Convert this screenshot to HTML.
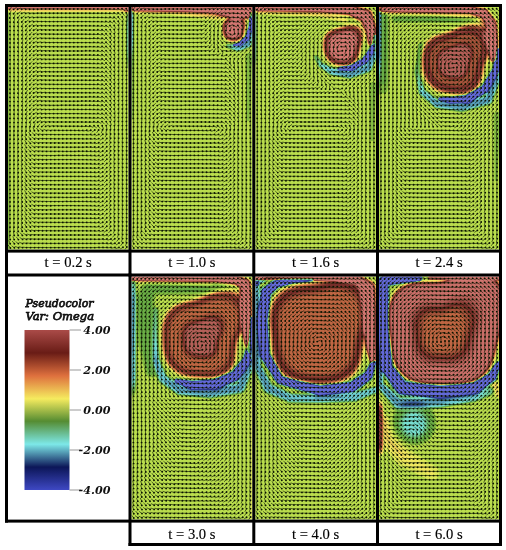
<!DOCTYPE html><html><head><meta charset="utf-8"><style>html,body{margin:0;padding:0;background:#fff;width:506px;height:550px;overflow:hidden}svg{display:block}</style></head><body>
<svg width="506" height="550" viewBox="0 0 506 550">
<rect width="506" height="550" fill="#fff"/>
<defs><filter id="bl" x="-2%" y="-2%" width="104%" height="104%"><feGaussianBlur stdDeviation="0.7"/></filter>
<clipPath id="c00"><rect x="8.0" y="7.0" width="120.50" height="242.60"/></clipPath>
<clipPath id="c10"><rect x="131.5" y="7.0" width="120.80" height="242.60"/></clipPath>
<clipPath id="c11"><rect x="131.5" y="276.5" width="120.80" height="243.10"/></clipPath>
<clipPath id="c20"><rect x="255.3" y="7.0" width="120.70" height="242.60"/></clipPath>
<clipPath id="c21"><rect x="255.3" y="276.5" width="120.70" height="243.10"/></clipPath>
<clipPath id="c30"><rect x="379.0" y="7.0" width="120.00" height="242.60"/></clipPath>
<clipPath id="c31"><rect x="379.0" y="276.5" width="120.00" height="243.10"/></clipPath>
</defs>
<g clip-path="url(#c00)"><g filter="url(#bl)">
<rect x="5.0" y="4.0" width="126.5" height="248.6" fill="#badd4e"/>
<path fill="#dde759" d="M125.5 13.2l-2-.9-2-.2-111 0-2.5-.7-3 0 0-7.4 126.5 0 0 8.3-4.5.1-1.5.8z"/>
<path fill="#f0e75e" d="M125.5 12.6l-2-.7-2-.2-111 0-1.2-.2-1.3-1.2-3 0 0-6.3 126.5 0 0 8.1-4.5 0-1.5.5z"/>
<path fill="#edd05c" d="M126 12.2l-5-.9-110.5-.1-.9-.2-1.1-1.1-3.5-.1 0-5.8 126.5 0 0 7.9-5.5.3z"/>
<path fill="#ebba59" d="M131.5 11.7l-6 .3-1.4-.5-1.6-1.2-1.5-.1-110 0-2.9-.7-3.1 0 0-5.5 126.5 0 0 7.7z"/>
<path fill="#e9a356" d="M131.5 11.5l-6 .3-1-.3-1.2-1.5-1.8-.2-111-.1-5.5-.3 0-5.4 126.5 0 0 7.5z"/>
<path fill="#e78c53" d="M126 11.6l-1.5-.5-1-1.3-1.5-.3-117-.2 0-5.3 126.5 0 0 7.3-5.5.3z"/>
<path fill="#d6784c" d="M131.5 11.1l-6 .3-.8-.4-1.2-1.5-1.5-.1-117-.2 0-5.2 126.5 0 0 7.1z"/>
<path fill="#be6543" d="M126 11.1l-1-.2-1.1-1.4-1.9-.2-117-.3 0-5 126.5 0 0 6.8-5.5.3z"/>
<path fill="#a5523a" d="M131.5 10.6l-6 .3-1.4-1.4-2.1-.4-117-.1 0-5 126.5 0 0 6.6z"/>
<path fill="#8d3f31" d="M126 10.6l-2-1.3-2-.3-117-.1 0-4.9 126.5 0 0 6.3-5.5.3z"/>
<path fill="#772f29" d="M131.5 10l-5.5.3-2-1.1-2-.3-117-.1 0-4.8 126.5 0 0 6z"/>
<path fill="#8c3f39" d="M126 10l-2.3-1-1.7-.1-117-.2 0-4.7 126.5 0 0 5.9-5.5.1z"/>
<path fill="#a04f49" d="M131.5 9.7l-5.5.1-2-.8-2-.2-117-.2 0-4.6 126.5 0 0 5.7z"/>
<path fill="#b45e58" d="M127 9.5l-1.5.1-2-.8-1.5-.1-117-.1 0-4.6 126.5 0 0 5.5-4.5 0z"/>
<path fill="#c86e68" d="M131.5 9.4l-6 0-3.5-.8-117-.1 0-4.5 126.5 0 0 5.4z"/>
<path fill="#d27670" d="M131.5 9.3l-6 0-3.5-.8-117-.2 0-4.3 126.5 0 0 5.3z"/>
<path fill="#85bc42" d="M8.5 252.5l-3.5 0 0-240.3 3.5.2.5 1.6 0 238.5-.5 0zM131.5 68.6l-4-.1-.5-.6-.7-4.4-.4-16 0-26 .4-7 .4-1 .8-.4 4 0 0 55.5z"/>
<path fill="#6aad44" d="M131.5 62.8l-4-.2-.5-.7-.5-3.9-.3-15 .1-23.5.5-4.5.2-.7 1-.3 3.5 0 0 48.8z"/>
<path fill="#6db967" d="M131.5 58.1l-4-.2-.7-2.9-.3-9.5 0-20.5.5-7.6.5-1 .5-.2 3.5 0 0 41.9z"/>
<path fill="#70c58a" d="M131.5 52.7l-3.5-.1-.5-.4-.5-2.4 0-25.6.5-2.4 1-.5 3 0 0 31.4z"/>
</g>
</g>
<g clip-path="url(#c10)"><g filter="url(#bl)">
<rect x="128.5" y="4.0" width="126.8" height="248.6" fill="#badd4e"/>
<path fill="#dde759" d="M235.5 42.5l-3.5.1-3.5-.8-3.5-2.1-2.2-2.7-1.5-4-.4-3.5.2-4.5 1.2-4-.3-.6-2 .1-50-5.6-33.5-.8-2.5-1.2-1.6-1.9-2.9-1-.9-1.5.2-1.5 1.2-1.2 6.5-1.6 118.5-.2 0 16.5-1.5.4-.5-.3-.9-3.6-.3-4-.3-.6-1 0-1.5 7.1-.5 1.2-1.3 1.3-.5 5-2.4 9-1.8 2.5-2.5 2.2-1.5 1-3 .8z"/>
<path fill="#f0e75e" d="M235.5 42l-4.5-.1-3.5-1.2-2.9-2.2-1.7-2.5-1.2-3.5-.3-5 .7-4 2.2-4-.3-.9-4 .8-20-2.5-30-2.8-34-.9-2-.9-1.5-1.3-3-1.1-.8-1.4.2-1.5 1.1-1.1 6.5-1.4 78.5-.5 39.1 0 .9.3 0 15.4-2 .3-.9-3-.2-4-.4-.7-1 0-1.5 6.9-.5.9-2 .9-.4 6-2.2 9-1.7 2.5-2.2 1.9-1.5.9-3 .7z"/>
<path fill="#edd05c" d="M236 41.6l-4 .1-3.5-.9-3-1.9-2.2-2.9-1.4-4.5-.2-4.5 1-4 2.6-4 0-.5-.8-.5-1.5-.1-3 .7-20.5-2.7-29.5-2.5-34-.8-4-2-2.2-.6-.9-1-.1-1.5 1.2-1.5 6.5-1.3 115.5-.5 3 .6 0 14.4-2 .3-.8-2.5-.2-4-.5-.8-1 0-.5.8-.3 3.5-.7 2.5-.5.7-2.5.8-.2 6.5-1.5 7-1 2.5-1.4 2-1.9 1.6-4 1.5z"/>
<path fill="#ebba59" d="M234 41.5l-3.5-.3-3.5-1.5-2.4-2.2-1.7-3-.8-3.5 0-4.5 1.2-4 2.6-3.5.1-.5-1-.7-2-.4-3 .4-6-1.5-24.5-2.4-19.5-1-34-.8-6-2.1-.9-1-.2-1.5 1.3-1.5 3.3-.8 3-.3 115.5-.3 3 .6 0 13.6-2 .4-.8-2.2-.2-4.1-.5-.8-1 0-.5.9-.3 3.5-.7 2.3-.5.5-2.5.5-.6.7.2 6-1.5 7-1.1 3-1.5 2-2 1.6-2.5 1-3 .4z"/>
<path fill="#e9a356" d="M236 41.1l-4 .1-3.5-1-3-2-2.1-3.2-1-3.5-.1-4.5 1-4 3.3-4.5-1.6-1.1-5-.3-6-2-24-2.1-54-1.3-5.8-1.7-1-1-.2-1.5.5-.9 1-.6 5.5-1 116-.1 3 .7 0 12.8-2 .5-.5-.7-.5-5.5-.5-.6-1 0-.6.9-.3 3.5-.6 2-.5.5-3 .5-.4.5.3 6.5-1.5 7-.9 2.5-1.3 2-1.7 1.5-4 1.6z"/>
<path fill="#e78c53" d="M234.5 41l-4-.3-3-1.3-2.5-2.1-1.6-2.8-.9-4.5.2-4.5 1.3-3.3 3-3.7-.5-.7-1.5-.7-4.5-.4-6-2-25-2.1-54-1.2-5.1-1.4-1.1-1-.1-1.5 1.3-1.3 3-.8 3-.3 115.5.1 3 .7 0 12.2-2 .5-.5-.6-.5-5.5-.5-.5-1 0-.6 1-.3 3-.6 2.3-.5.5-3 .3-.8.9.5 4-.1 2.5-1.4 7-1.2 2.9-1.1 1.6-1.9 1.5-2.5 1.1-2.5.4z"/>
<path fill="#d6784c" d="M236.5 40.5l-4 .3-3.5-.9-3-1.9-2.1-3-1.2-4.5.2-5 1.5-3.5 3.1-3.5-.5-.8-1.6-.7-4.9-.7-6-1.9-24.5-2.1-54.5-1-2-.4-3.5-1.3-.7-1.1 0-1 1.2-1.2 1.5-.1 1.5-.7 3-.3 78.5-.1 37 .3 3 .7 0 11.8-2 .5-.6-1.4-.3-4.5-.6-.5-1.1 0-.5.5-.9 5.6-.5.4-3 .3-1.1.7.5 7-1.3 6.5-1.1 3-2.5 2.9-3.5 1.6z"/>
<path fill="#be6543" d="M235 40.5l-3.5-.1-3.5-1.2-2.5-2-1.6-2.7-1-4.5.4-5 1.2-2.7 3.4-3.8-.4-.8-1.5-.7-5.5-1-6-1.9-24.5-2-54.5-1-2-.3-3.4-1.3-.6-1 0-1 1-1 1.5-.2 1.5-.7 3-.3 78.5 0 17 .4 20-.1 3 .8 0 11.2-2 .6-.6-1.2-.3-4.5-.6-.6-1.1.1-.5.5-.9 5.4-.5.4-3.5.4-1 .8.7 4.5 0 2.5-1.2 6-1.3 3.5-1.2 1.7-1.5 1.3-2.1 1-2.4.5z"/>
<path fill="#a5523a" d="M236.5 40l-3.5.3-3.8-.8-3-2-1.8-2.5-1.2-4.5.2-5 1.6-3.5 3.3-3.5-.5-1-1.8-.8-5.5-.9-6-1.9-24.5-1.9-55-1.1-4.5-1.4-.7-1 0-1 .7-.6 1-.1 2-1.1 3-.3 78.5 0 17 .5 20 0 3 .8 0 10.6-1.5.6-.8-.4-.5-5-1.2-.7-1.2.7-.8 5.2-.5.4-3.5.3-1.1.6-.3 1 .8 3.5.1 2.5-1.9 8.5-.9 2-1.3 1.5-1.4 1-2.5 1z"/>
<path fill="#8d3f31" d="M234.5 40l-3.5-.3-3.1-1.2-2.4-2.2-1.5-3.1-.6-4.7.6-3.9 1.4-2.6 3.3-3.5-.4-1-1.8-.8-6-1.2-6-1.8-24.5-1.9-55-1-1.7-.3-2.8-1.5-.1-1 1.1-.6 1.5-1.5 3.5-.4 78.5.1 17 .5 20 0 3 .8 0 10.2-1.5.6-.7-.2-.4-1-.2-4-1.2-.8-1.2.8-.8 5-.5.4-4 .3-1 .7-.2 1.1.8 3.5.1 2.5-2.1 9-1.1 1.9-1.8 1.6-2 1-2.7.5z"/>
<path fill="#772f29" d="M235.5 39.5l-4 0-2.9-1-2.5-2-1.6-2.9-.7-4.1.3-4 1.4-3 3.6-4-.3-1-1.8-.9-6.5-1.3-6-1.8-24.5-1.8-55-1-2-.4-.9-.8.1-2.5.9-1 2.9-.3 54 0 62 .6 3 .9 0 9.6-2 .7-.5-.8-.2-4.2-1.3-.8-1.3.8-.7 4.8-.5.3-4 .3-1.2.6-.4 1.5.9 6-1.8 8.4-1 1.9-1.5 1.5-2 1.2-2 .5z"/>
<path fill="#8c3f39" d="M235.5 39l-3.5.1-3.3-1.1-2.2-1.8-1.5-2.6-.8-4.1.4-4 1.2-2.5 2.9-3 .8-1.5-.2-1-2.3-1.1-6.5-1.3-6-1.7-24.5-1.8-55-1-2-.5-.6-.6.1-2.5.9-1 2.6-.2 57 0 22 .1 17 .7 20-.1 3 .9 0 9.2-2 .6-.5-.9-.2-3.8-.8-.8-1 0-.8.8-.7 4.6-.5.3-4 .3-1.6.8-.4 2 .7 3.5.1 2.5-1.6 7.5-1.1 2-1.1 1.2-2 1.3-2 .5z"/>
<path fill="#a04f49" d="M235 38.5l-3.5-.1-2.5-.9-2.3-2-1.3-2.5-.7-4 .5-3.5 1.3-2.5 2.7-2.5.7-2-.4-1.3-2-.9-13-3.1-24.5-1.8-55-.9-1.5-.3-.9-.7.1-2.5.8-.9 2.5-.2 54 0 25 .1 17 .8 20 0 2.6.7.4.2 0 8.6-2 .7-.5-1.1-.1-3.4-.9-.8-1 0-.8.8-.7 4.3-.5.4-4.5.3-1.5.9-.8 2.6.9 3 .2 2.5-1.5 7-1 2-1.3 1.4-2 1.1-2 .5z"/>
<path fill="#b45e58" d="M235 38l-3 0-3-1.1-2.1-1.9-1.2-2.5-.5-4 .5-3 1.3-2.2 2.9-2.3.5-1-.1-2.5-2.3-1.3-13.5-3.2-24.5-1.7-55-1-1.5-.2-.7-.6.1-2.5.6-.7 3-.3 78.5.2 17 .9 20-.1 2.9 1 .1 7.9-2 .8-.5-1.6-.1-2.6-.9-.9-1 0-.9.9-.6 4.1-.5.3-5 .4-1.6 1.2-1.2 2 1.3 3.5.3 2-1.5 7.5-1.1 2-1.2 1.1-3.5 1.4z"/>
<path fill="#c86e68" d="M235 37.5l-3 0-2.5-.9-2-1.6-1.1-2-.7-4.5.8-3.5 1.5-2 3.9-2.5 0-.5-.9-.8-.6-2.2-2.9-1.3-13-2.9-24.5-1.6-54.5-.9-1.9-.3-.6-.4 0-2.4.5-.7 3-.4 53.5.1 25 .2 17 1 20 0 2.5.7.5.3 0 7.2-2 .8-.5-3.9-1-.9-1 0-.9.9-.6 3.7-.3.3-5.7.6-3.4 2.9-.3.5 1.7 2.5.7 2.5-.1 2.5-1 4.5-.8 2-1.3 1.5-1.6 1-1.9.5z"/>
<path fill="#d27670" d="M234.5 37l-2.5-.1-2.5-.9-2-2-1-2.5-.2-4 1.2-3.1 3-2.3 5.1-2.1-3.6-1-.5-.5-.5-1.5-2.5-1.3-14-3.1-24.5-1.6-54.5-.9-2.3-.6 0-2 .8-.9 2-.3 54 .1 25 .3 17 1 20 0 2.5.8.5.4 0 3.1 0 3.1-.5.4-1.5.5-.7-4-1.3-.7-1.3.7-.7 3.8-.5.4-5.5.5-1 .4-2 1.9-3.2 1 2.5 2 1.2 1.5.6 2-.1 2.5-1 4.6-1 2-1.5 1.4-3 1z"/>
<path fill="#85bc42" d="M128.5 7.2l0-3.2 5.4 0-1.4 1.1-3 .7-1 1.4zM132.5 119.6l-4 .4 0-111.2 1.5 1.8 2.5.9 1.7 3.5.3 1.5-.2 86.5-.6 12.5-.4 2.5-.8 1.6zM238 52l-11-3.8-1.2-1.2 0-2 1.7-1.3 5.5.1 6-1.7 5.5-5.3 3.5-8.7.7-6.6 1.7-8.5.1-.5 1 0 1.3 9 .2 6 .8 1 .4 1.5-2.4 15.5-1 1.5-1.3.8-10 4-1.5.2zM248.5 121.2l-1.3-.2-.5-1-1-64 .3-1.5.8-1 2.2-.8 1.5.3 1 .8.8 2.2-2.8 60.2-.2 3.8-.8 1.2z"/>
<path fill="#6aad44" d="M128.5 6.9l0-2.9 4.9 0-.9 1-3 .7-1 1.2zM131.5 72.9l-3 0 0-63.8 1.5 1.6 2.5 1.1 1.2 4.7-.3 38-.9 13.9-1 4.5zM238.5 51.6l-2-.3-9.5-3.6-.7-.7-.2-1.5.4-.8 1-.6 5 .1 6-1.7 6.4-6 3.5-9 .4-6 1.7-8.6.6-.4.4.5.9 6.5.3 7.5 1.2 3-2.6 15.5-1.8 1.8-11 4.3z"/>
<path fill="#6db967" d="M128.5 6.7l0-2.7 4.6 0-.9 1-2.2.3-1.5 1.4zM131.5 57.2l-3 0 0-47.8 1.5 1.5 2 .6.6 1 .6 3-.1 31.5-.6 8.1-.5 1.7-.5.4zM239 51.1l-1.5.1-10.1-3.7-.9-.9 0-1.1 1-1 5 0 6.3-2 6.2-5.9 3.5-9 .7-8.1 1.8-5.9 1.3 5.9.2 7.5 1.2 3-2.5 15-.7 1.2-1 .8-10.5 4.1z"/>
<path fill="#70c58a" d="M128.5 6.4l0-2.4 4.4 0-.9 1-2 .2-1.5 1.2zM131.5 53.7l-3 0 0-44.1 1 1.1 2.5 1.1.9 3.2-.1 31.5-.3 4.7-.5 2.1-.5.4zM238 51l-9.1-3.5-.7-.5 0-1.5 1-.5 3.3-.2 1-.7 5.5-1.6 6-5.8 3.5-8.8.8-8.4.7-2.8 1-1.5.5.7.8 3.6.2 8 1 2.5-2.6 15-1.4 1.7-11.5 4.3z"/>
<path fill="#74d1ad" d="M128.5 6.2l0-2.2 4.2 0-.7.8-2 .3-1.5 1.1zM131.5 51.2l-3 0 0-41.4 1 1.1 2.5 1.4.7 2.7 0 29.5-.5 5-.7 1.7zM239 50.5l-1.5.2-5.3-2.2-1.5-1 0-1.5 1.8-.7 1-1.1 5.6-1.7 5.9-5.6 3.5-8.9.8-8.5.7-2.5.5-.9.5-.2.5.4.7 2.7.2 8.5.9 2.5-2.6 15-1.3 1.5-10.4 4z"/>
<path fill="#77ddd0" d="M128.5 6l0-2 4 0-.5.6-2 .3-1.5 1.1zM131.5 48.9l-3 0 0-38.8 3.5 2.8.6 2.1-.1 28-.5 5-.5.9zM239.5 50l-2 .3-3.8-1.8-.5-.5-.4-3 .7-.8 5.7-1.7 5.8-5.5 3.6-9 .8-8.5.6-2.3 1-.9.5.4.6 2.3.3 8.5.7 2.5-2.6 14.7-.5.9-1 .8-9.5 3.6z"/>
<path fill="#6cc8cf" d="M128.5 5.6l0-1.6 3.8 0-.5.5-2.3.4-1 .7zM131.5 46.5l-3 0 0-36.1 3.5 3.1.4 2-.1 24.5-.3 5.3-.5 1.2zM239.5 49.5l-1.5.5-1.9-1-.4-.5-.1-1 .4-1-2-.2-1-.8 0-.5.5-.7 5.8-1.8 5.8-5.5 3.5-9 .8-8.5.6-2.1 1-.7.5.3.6 2.5.2 7.5.5 3-2.8 15-1 1-9.5 3.5z"/>
<path fill="#59a0ba" d="M128.5 5.2l0-1.2 3.4 0-1.9.4-1.5.8zM131.5 43.1l-3 0 0-32.1 1.5 2 1.6 1 .5 1 0 23-.6 5.1zM240.5 48l-2 0 .1-1.5-4.6-.4-.9-.6 0-.5.4-.7 5.9-1.8 5.8-5.5 3.5-9 .8-8.5.5-1.9 1-.6.5.3.6 2.2.5 10-2.9 15-.7 1-8.5 2.5zM246.5 42.5l-.5-.5-.5.8.5 0 .5-.3z"/>
<path fill="#4779a5" d="M131.5 31.3l-3 0 0-17.1 1 1 2 .7 0 15.4zM240.5 46.2l-6.5-.2-.8-.5-.1-.5.4-.6 6-1.9 5.8-5.5 3.6-9.5.6-7.8.5-1.9 1-.6.5.3.5 2 .4 10-2.6 9.5-.8 1.3-1.5 1-2 .7-3 2.9-2 1.3z"/>
<path fill="#345290" d="M241 45.8l-7 .1-.7-.4-.1-.5.3-.5 6-1.9 5.8-5.6 3.7-9.5.5-7.6.5-1.9 1-.5.5.2.5 1.8.3 9.5-2.9 10-.9 1.2-3 1.7-4.5 3.9z"/>
<path fill="#242e7e" d="M241 45.6l-1 .3-6-.1-.7-.3 0-.5.3-.5 5.9-1.9 5.9-5.6 3.6-9.5.4-6.5.6-2.8 1-.5.5.3.5 2 .2 9-2.9 10-1.3 1.4-2.5 1.4-4.5 3.8z"/>
<path fill="#323b92" d="M240.5 45.7l-6.5.1-.6-.3-.1-.5.4-.5 5.8-1.8 6-5.7 3.6-9.5.4-6.5.5-2.6 1-.5.5.3.4 1.8.3 8.5-2.9 10-.8 1.3-3 1.9-5 4z"/>
<path fill="#4048a6" d="M240.5 45.6l-6.5.1-.5-.2-.1-.5.5-.5 5.6-1.7 6.1-5.8 3.5-9.5.4-6.4.5-2.5 1-.4.5.2.4 1.6.3 8.5-3 10-.7 1.2-3 1.9-5 4z"/>
<path fill="#4f55b9" d="M240.5 45.5l-6.5.1-.6-.6 6.1-2.2 6.2-5.8 3.5-9.5.8-8.6 1-.5.5.3.3 1.3.3 8.5-3 10-.6 1-8 6z"/>
<path fill="#5d62cd" d="M240 45.5l-6 .1-.5-.6 6-2.1 6.2-5.9 3.6-9.5.7-8.4 1-.5.5.3.3 1.6.2 8-3.2 10.5-7.8 6.2-1 .3z"/>
<path fill="#6469d7" d="M235.5 45.5l-1.5 0-.1-.5 5.6-2 6.3-6 3.5-9.5.7-8.1 1-.5.5.3.2 1.3.3 8-3.2 10.5-8.3 6.4-5 .1z"/>
</g>
</g>
<g clip-path="url(#c11)"><g filter="url(#bl)">
<rect x="128.5" y="273.5" width="126.8" height="249.1" fill="#badd4e"/>
<path fill="#dde759" d="M200 379l-9-.1-6.5-1-5-1.6-5-2.6-3.5-2.6-3-3.1-2.4-3.5-2.4-5-1.4-4.5-1.1-6-.6-6.5-.3-8.5.4-7 1-6 1.5-4.5 2.7-5 3.6-4.2 4-3 5.5-2.6 17.4-4.7 21.1-6.4 5-.9 5.5-.3 3.5-1.3 5.5.8.4-.4-2.7-2.5-7.6-1.5-11.6-1.6-1.7.1-3.3 1.2-19.5-.8-42-1-9 1.3-2.4-1.7-2.1-.8-4.5-.2-1.5-.7-.5-.5 0-1.8 0-2.3.5-.5 1.5-.6 7-.4 99-.2 11.5 3.1 2 1.2 1.4 1.7 1.1 3 1.1 16.5-.2 16.5-.1.5-1.8.1-1 .9-1.6 22.5-1.8 7.5-.6.5-1.7-1-1.7-4-1.1-4.4-.5-.4-1.5 2.5-1 3.7-1.2 12.6-1 4.5-1.9 4-3.7 5-7.3 4-9.9 3.6-14 .9zM255 522.5l-4.7 0 0-113.5.7-7.5.5-1 1-.4 2.5 0 0 122.4z"/>
<path fill="#f0e75e" d="M207.5 378.5l-15 0-9-1.7-5-2-4-2.2-3.5-2.8-2.9-3.3-2.3-3.5-2-4.5-1.6-5.5-1-6-.5-9 0-8 .6-5.5 1.4-5.5 2.6-5.5 3.4-4.5 3.8-3.2 6-3.1 6-1.9 11-2.8 12-4.2 8.5-2.5 5.5-1 6.2-.3 2.8-.7 6.5 1.2.7-.5.8-1.8-4-2.8-19.5-2.8-2 .1-3 .9-29.9-1.1-31.6-.6-9 1-1.2-.9-3.3-.9-4.5-.2-1.5-.7-.5-.6 0-3.5.5-.6 1.5-.7 6.5-.3 99.5 0 11.5 3.3 2.6 2.2 1.2 3 1 15 0 17.5-.3.8-1.5.4-.6.8-1.5 22-1.7 7.5-.7.8-1.4-.8-1.7-4.5-.9-4.5-.5-1.4-.5-.3-1.5 2.2-1.6 4.5-1.6 14.5-.9 4.5-1.8 4-2.6 3.7-3.9 2.8-7.8 3.5-6.3 2-6 .5z"/>
<path fill="#edd05c" d="M212 378l-15.5.3-5.5-.5-5-1-5-1.5-4-1.9-4-2.7-3.3-3.2-2.9-4-2-4-1.5-4.5-1.2-5.5-.7-8-.2-9 .5-6.5 1.1-5 2.4-6 3-4.5 4.3-3.9 5-2.8 5.5-2 12.9-3.3 12.6-4.7 9-2.4 13-1.4 7 1.6.9-1.1.6-2.5-4.5-2.9-19.5-2.7-5 .6-61.5-1.4-8.5.7-5-1.4-4.5-.1-1-.4-1-1 0-3.1.5-.6 1.5-.7 6.5-.3 99.5.1 11 3.2 2.6 2 1.2 2.5.4 4.5.8 12.5-.1 16 0 .5-1.7 1-.4 1-1.4 21.5-1.7 7-.7 1.2-1-.5-.4-.7-1.5-4-1.1-5.9-.5-1.2-.5-.2-2 3.2-1.5 4.1-2.2 17.5-1.4 4.5-2 3.5-2.1 2.5-5 3-7.3 3-6 1.5z"/>
<path fill="#ebba59" d="M209 378l-14.5-.3-6-.8-4.5-1.1-4.5-1.7-4-2.2-3.5-2.7-2.9-3.2-2.3-3.5-2.1-4.5-1.4-5-1-6-.6-8.5 0-8 .6-5.5 1.4-5.5 2.6-5.5 3-4 3.7-3.1 5.5-3 5-1.7 12.3-3.2 13.2-5 8.5-2.2 13-1.2 6.5 1.8 1 0 .8-1.4.2-3.4-4.5-2.8-19.5-2.6-5 .5-53.7-1.2-16.8.2-10-1.4-1-1.1 0-2.6.5-.7 1.5-.8 7-.2 77.5-.1 21 .3 11.5 3.3 2.2 1.6 1 1.5.5 2 1 16.5 0 15.5-.1.5-1.8 1.5-1.5 22-1.8 7.3-.5.7-1.3-1-1.4-4-1.3-6.9-.5-1.1-.5-.1-2 3-1.8 4.6-.8 4-.8 9.5-.9 5-1.5 4.5-2.2 3.7-1.1 1.3-2.7 2-6.2 3-8 2.6-4.5.4z"/>
<path fill="#e9a356" d="M212.5 377.5l-7 .3-7.5-.2-6-.5-6-1.2-5-1.6-4-2-3.5-2.4-3-2.9-2.6-3.5-2.3-4.5-1.7-5-1-5-.6-7-.2-9.5.4-6 1.2-5.5 2.3-5.5 3.1-4.5 3.9-3.6 5-2.8 5.5-2 13-3.4 12.5-4.8 8-2.1 13-1.2 8 2.1 1-1.2.3-4.5-4.8-2.9-19.5-2.5-5 .3-43.6-.9-26.4 0-5.5-.8-4-.1-1.2-.6-.8-1 0-2.2 1-1.2 1.5-.4 6.5-.2 77.5-.1 21 .4 11.5 3.3 2 1.6.9 1.3.5 2 1 16.5 0 15.5-.1.5-1.5 1.5-1.6 22-1.7 7-.5.8-.5-.1-.8-1.2-1.2-3.5-1.5-7.8-.5-.9-.5-.1-2 2.9-2.2 5.4-.8 4-1.5 13.5-1.3 4.5-1.8 3.5-2.6 3-3.9 2.5-7.1 3-5.8 1.5z"/>
<path fill="#e78c53" d="M208.5 377.5l-14-.5-5.5-.8-4.7-1.2-4.3-1.6-4-2.2-3.5-2.7-2.7-3-2.3-3.5-2.1-4.5-1.4-5-.9-5.5-.6-8.5 0-7.5.7-6 1.3-5 2.2-5 3.3-4.4 3.6-3.1 4.9-2.7 5.5-1.9 12.5-3.3 13.2-5.1 7.3-1.8 13-1 8 2.2.8-.4.4-1 .3-5.1-5-3-19.5-2.5-5 .3-60-1.1-10 .2-9.5-.8-1.1-.5-.9-1.3 0-1.7 1-1.3 1.5-.4 6.5-.2 77.5 0 21 .3 11.5 3.5 2 1.6 1.2 3 1 16 0 16-1.4 2-1.6 22-1.7 6.7-.5.9-.5-.1-.7-1-1.2-3.5-1.6-8.5-.5-.8-.5-.1-2.1 2.9-2.3 5.5-1 4.5-1.6 14-1.4 4.5-2.4 4-3.2 3-5.8 3-7.7 2.5-5.5.5z"/>
<path fill="#d6784c" d="M211.5 377l-6.5.2-8-.4-6.5-.8-4.8-1-4.4-1.5-4-2-3.6-2.5-2.9-3-2.8-4-2-4.2-1.5-4.8-.9-5-.6-7-.1-9 .5-6 1.1-4.7 2-5 3-4.5 3.5-3.3 5-3 5.5-2 13.5-3.6 12.3-4.9 7.2-1.9 5-.6 8-.4 3.5.8 4.5 1.7 1-.1 1.1-2-.1-5.4-5-2.8-19.5-2.5-75-.7-9-.7-1.5-.5-1-1.4.1-1.5.9-1.1 1.5-.5 6.5-.2 77.5 0 21 .4 11 3.3 2.2 1.6 1.1 2 .3 3.5.9 14 0 15.5-1.3 2-1.6 22-1.6 6.4-.5 1-.5-.1-.6-.8-1.2-3.5-1.4-8-.6-1.5-.7-.5-1 .9-1.2 2.1-2.6 6-.9 4.5-1.5 13.5-1.3 4.1-2 3.9-2.7 3-4 2.5-7.6 3-5.2 1z"/>
<path fill="#be6543" d="M213 376.5l-6 .3-7-.2-6.8-.6-5.8-1-4.9-1.5-4.3-2-3.8-2.5-2.9-2.8-3-4.2-2-4.1-1.5-4.7-1-5.2-.6-7-.1-9 .5-5.5 1.1-5 2.1-5.2 2.9-4.3 3.8-3.5 4.3-2.5 5.2-2 13.8-3.7 12.1-4.8 7.5-2 4.9-.6 8-.2 3.5.8 4.5 1.8 1 0 1-1.3.3-1.5.1-5-.3-.5-5.1-2.9-19.5-2.4-75-.7-9-.7-1.5-.5-.9-1.3.1-1.5.8-1 1.5-.5 6.5-.2 77.5 0 21 .5 11 3.3 2 1.4.9 1.5.4 1.5 1 16.5 0 15.5-1.1 2-1.7 22-1.5 6.1-.5 1.1-.5-.1-.5-.7-1.1-3.4-1.4-8.1-.5-1.6-1-.9-1 .8-1.1 1.8-3.1 7-.9 4.5-1.4 12.8-1 3.7-2 4.2-2.8 3.3-3.6 2.5-5.7 2.5-5.9 1.5z"/>
<path fill="#a5523a" d="M213 376.1l-6 .3-7.5-.3-6.5-.6-5.6-1-4.9-1.5-4.2-2-3.7-2.5-2.6-2.5-3-4.1-2-4.1-1.5-4.6-1-5.2-.6-7-.1-9 .6-6 1.1-4.7 2-4.8 3-4.4 3.4-3.1 4.2-2.5 5.1-2 14.3-3.8 11.5-4.7 7.4-2 5.1-.6 7.5-.1 3.4.7 5.1 2.1 1 0 1-1.2.5-1.9 0-6-5-3-20-2.4-75-.7-9-.7-1.5-.5-.8-1.2.1-1.5.7-.9 1.5-.5 6.5-.2 77.5 0 21 .5 11 3.4 2 1.5 1.1 2.7 1 16 .1 16-1.1 2-1.6 22-1.5 5.8-.5 1.2-.5-.1-1.5-3.9-1.6-9-.9-1.9-1-.1-2.8 4.5-2.4 5.5-.9 4.5-1.4 12.9-1 3.6-2 4-3 3.5-3.8 2.5-4.6 2-6.1 1.6zM210.6 369.5l5-1 4.4-2 3.2-2.5 2.3-3 2-5.1 1.3-11.4.9-4 4.8-10.1 2-6.3.4-4.1-.1-4-.8-4.5-1-2.6-2-2.9-2.4-2-2.9-1.5-3.4-1-5.3-.4-6.1.9-4.7 1.5-10.2 4.2-10.8 2.8-5.2 2-4.5 3-3 3.5-2 3.8-1.5 5.4-.5 4.7 0 5.1 1 10.8 1 3.8 1.5 3.7 3.6 5.2 2.9 2.5 2.4 1.5 6.6 2.5 5.8 1 6 .5 9.3 0zM209 360.6l-6.5.2-9-1-5.5-2-3.5-2.6-2.6-3.7-1.8-5-.8-8 .3-7 1.1-4 1.6-3 2.2-2.5 2.5-1.7 4-1.6 8.4-2.2 9.6-3.7 4-.7 4 .1 4.5 1.5 2 1.5 1.5 1.8 1.7 4.5-.1 5.5-1.4 5-3.7 8-.6 2.5-.7 7-1.4 4.5-1.7 2.5-2.1 1.8-3 1.5-3 .8z"/>
<path fill="#8d3f31" d="M212.5 375.5l-5.5.3-7-.3-8.5-.9-5.4-1.1-4.3-1.5-3.9-2-3.4-2.5-2.5-2.5-2.5-3.6-2-4.1-1.5-4.7-1-5.6-.6-15 .6-5.9 1-4.2 2.5-5.8 3.5-4.6 4.7-3.5 5.6-2.5 14.2-3.8 13-5.2 7.6-2 5.3-.5 6.1 0 4 1 4.5 2 1.5 0 1-1.2.6-1.8.2-7-5.3-3.2-20-2.3-75-.8-9-.6-1-.2-1-.9-.2-1.5.7-1.3 1.5-.5 6.5-.2 77.5 0 21 .6 11 3.4 1.9 1.5 1 2.5 1 16 .1 16-.9 2-1.7 22-1.4 5.5-.5 1.2-.5 0-1.4-3.7-1.6-9.4-1-1.9-1-.4-.9.7-1.2 2-3.7 8-.9 4.5-1.3 12.4-1 3.5-2 4.2-2.9 3.4-3.7 2.5-6.1 2.5-4.8 1zM213 371.5l5-1.3 4-2 3.2-2.7 2.3-3.3 2.2-6.2 1.1-11 .7-3.5 5.5-12 1.5-5.1.4-4.9-.3-6-.6-4.2-1-3.1-1.5-2.3-2.7-2.4-3.3-1.7-4-1.1-6-.3-6.5 1.1-14.5 5.6-12.6 3.4-5.4 2.1-4.4 2.9-3.2 3.5-2.4 4.5-1.7 6-.5 4.5-.1 5.5.4 7 .8 5.5 1.1 3.9 1.5 3.6 2 3.3 2.2 2.7 2.8 2.3 3 1.9 3.5 1.5 4.5 1.2 5.5.9 8.5.6 9-.4zM208 358l-5.5.2-8-.8-4.5-1.6-3.5-2.5-2.4-3.3-1.5-4.5-.8-7 .3-6 .8-3 1.4-3 2.2-2.5 2.5-1.6 3-1.2 8-2.2 8-3.1 3.5-.6 3.5.1 4 1.3 3 2.8 1.6 4 0 5-1.3 4.5-3.3 7-1.2 9-1.2 3.5-1.5 2-2.1 1.7-2.5 1.2-2.5.6z"/>
<path fill="#772f29" d="M224.5 369.5l-.5.3-.3-.3 4.1-4 1.5-2.5 1.4-3.5 1-5 1.3-12.1 1-3 4.6-9.9.5-3 .4-6.5-.8-12-.7-2.9-1.5-3.4-1.5-1.8-2.5-1.7-4-1.5-3.5-.7 4.1 0 6.9 2.8 2-.1 1.5-2 .7-2.2.3-7.6-5.5-3.2-20-2.3-75-.8-9-.5-1.4-.6-.6-.8-.1-1.2.6-1.1 1.5-.6 6.5-.2 77.5.1 21 .5 11 3.5 1.2.8 1.1 1.5.4 1.5 1.1 16.5 0 15-.7 2.5-1.8 22-.8 3.4-1 3.1-.5 0-1.3-3.5-1.7-10-1.5-2.3-1.5 0-2.3 2.8-3.9 8.5-1 6-.8 9.1-1.5 5.3-2.5 4.4-3.5 3.2zM213 374l-6 .3-8.8-.3-8.1-1-4.1-1-4.1-1.5-2.8-1.5-3.5-2.5-2.1-2.1-2.5-3.3-3-6.6-1.5-6.8-.7-12.2.2-6.4 1-5.5 1-3 3-5.6 3.9-4 3-2 4.4-2 15.7-4.3 10.1-4.2 4.4-1.4.3.4-3.8 1.2-9.9 4.3-17.1 4.8-4 1.9-3 2.1-3.8 4.2-3 6-1.4 6-.5 7.5.5 10 1.9 9 3.1 6.5 2.3 3 2.9 2.8 6 3.4 6.5 2 6.5 1 8 .6 11.3-.3-2.3.5zM207 357l-5.5.1-7-.9-4-1.4-3.2-2.3-2.4-3.5-1.3-4-.7-7 .4-5.5.8-3 1.3-2.5 1.8-2 2.3-1.6 3-1.2 7-1.8 8-3.2 3.5-.6 3.5.2 4 1.5 2.6 2.7 1.3 4-.2 4.5-1 3.5-3.2 7-1.2 8.5-1.3 3.5-1.5 1.9-2 1.5-2 .9-3 .7z"/>
<path fill="#8c3f39" d="M246.5 345.7l-.5 0-1.2-3.2-1.8-10.5-2.8-4-.3-1.5-.1-11.5-1.3-13.5 2.1-8-.1-6.8-5.5-3.1-20-2.4-75.5-.7-9-.6-1.4-1.4.1-1.5 1.3-1.1 6.5-.2 78 .1 21.5.6 10.7 3.6 1.6 1.5.7 2 1.1 16.5.1 15-.9 4-1.6 20.5-1.7 6.2zM207.5 356l-4.5.3-7.5-.8-4-1.2-3.3-2.3-2.3-3-1.4-4-.6-5.5.1-6 .7-3 1.3-2.6 1.5-1.9 2.5-1.8 3-1.2 6.5-1.7 7.5-2.9 3.5-.7 3 .1 3.6 1.2 2.8 2.5 1.3 3.5.1 4.5-1.2 4-3.1 7-.9 7-1.1 3.5-1.4 2-1.6 1.3-4.5 1.7z"/>
<path fill="#a04f49" d="M246.5 345.4l-.5 0-1.1-2.9-1.7-10.5-2-3.5-.9-3-.2-11.5-.9-11.5 1.7-10.5 0-5-.9-.8-5-2.8-20-2.3-75.5-.7-9-.7-1.3-1.2.1-1.5 1.6-1 6.1-.1 78 0 21.5.7 10.5 3.5 1.6 1.4.7 2 1.1 16.5.1 14 0 2-.7 2.5-1.6 21-1.7 5.9zM207.5 355l-4.5.3-7.5-.7-3.5-1.2-3-2-2-2.5-1.5-3.9-.7-5.5.2-6 .8-3 1.2-2.3 1.5-1.7 2.2-1.5 8.8-2.7 7.5-2.9 3-.5 3 .1 3.5 1.2 2.4 2.3 1.3 3.5 0 4-1.2 4-2.8 6-1 7.5-1 3-2.7 2.9-4 1.6z"/>
<path fill="#b45e58" d="M246.5 345l-.5.1-.9-2.6-1.7-10.5-2-4-.7-2.5-1.1-23 1.5-10.5-.1-5-.5-.8-5.5-3-20-2.2-75.5-.7-9-.8-1.1-1 .1-1.5 1.5-.8 6-.2 78 0 21.5.8 10.5 3.6 1.5 1.4.6 1.7 1.1 16.5.1 13.5-2.2 26-1.6 5.5zM204 354l-6-.4-3.2-.6-3.4-1.5-2.4-2.2-1.5-2.5-1-3.8-.4-6 .5-4.5 2-4 1.5-1.5 1.9-1.1 7.5-2.2 7.5-2.8 3.5-.4 3 .5 2.7 1.5 1.8 2.5.7 3.5-.7 4.5-3.1 7-.9 7-1.5 3.5-1.5 1.5-1.8 1-2.2.7-3 .3z"/>
<path fill="#c86e68" d="M246.5 344.6l-.5 0-.7-2.1-1.6-10-2-4.5-.8-3-.9-22.5 1.3-10-.3-6.3-6-3.2-20-2.2-75.5-.7-9-.8-1-1 .2-1.3 1.3-.6 6.5-.3 77.5.1 9.5.3 12 .4 10.5 3.8 1.3 1.3.5 1.5 1.2 16.5.2 13.5-2.2 26-1.5 5.1z"/>
<path fill="#d27670" d="M246.5 344.1l-.5 0-.6-1.6-1.6-10.5-2.1-4.5-.5-2.5-1-22 .2-3.5 1.2-8-.1-5-.5-.6-6-3.1-20-2.2-65-.8-10.5.2-3.5-.3-1.5-.6-4-.2-.7-.9.2-.9 1-.5 6.5-.3 81.5.2 17.5.7 10.5 3.8 1 1 .5 1.5 1.2 16.5.3 13-2 25.4-1.5 5.7z"/>
<path fill="#85bc42" d="M211 399l-33-3.2-18.5-12.7-1.3-1.6-1.2-3.2-1-1.2-5 .2-3.5-1.4-1.7-1.9-.9-2-6.9-27.8-1-2.1-.5 3.9-.3 35.5-.6 10.5-1.1 3.4-1 .4-5 0 0-115.5 1.5.9 4.5.2 1.1.6.5 2 .4 7.5.5 1.8 1-1.1 3.7-6.7 1.9-1 2.7-.5 43.7.9 20 .7 5-1.3 9.3 1.2 2.1.5.5.5.1.5-.9.5-8.1 1.3-12.2 3.7-5.4 1-10.9.8-33.5 1 0 1.5-1.3 4.7.4 4 .7 1 2.3 1.5.8 2-.8 25 2 24 7 16 6.5 4 3.4-1 15.5 2 21-1.4 9.9-3.6 8-4 10.7-13.5 2.6-8.5.8-.7 1.5 0 .6-.8 1.6-8 1.2-21.5.5-1 .6-.3 1.3.3.5 1 .2 22-.9 16.5.4 1.2 2 1.6 0 6.1-9.6 25.6-1.4 1.6-2.5 1.3-30.5 5.1z"/>
<path fill="#6aad44" d="M134 392.3l-5.5.1 0-111.7 1.5.7 4.5.3 1 .8 1.2 17-.9 83-.6 7.5-.4 1.5-.8.8zM213 398l-3.5.4-31.5-3.3-18.3-12.6-1.1-1.5-1.1-3.3-1.5-2.4-1-.6-3 .3-1.5-.2-1.5-.8-1.3-1.5-7.7-31.5-2.2-41 .5-2.5 4.8-9.5 1.4-2 1.5-.7 3-.2 36.8.9 19.4 1 4.3.5 1.2.5-1.2 1-3.7 1.5-6.8 1.2-9.5.6-35 .4-.3.3-2.1 8 .3 5 .6 1.8 2-.4 1.5.2 1 .6.7 1.3-.5 25.5 1.9 24 7.1 16.5 6.8 4.2 3.5-1.5 15 2 21.5-1.5 9-3.2 9-4.3 11-13.2 2.6-9 .9-.6 1.5.1.4-.5 1.4-8.5 1.2-21.5.4-1 .6-.3 1 .2.5.6.3 22.5-1.1 17 .3 1 2.5 2 0 4.1-10.1 26.4-1.4 1.7-2 1.1-28.5 4.7z"/>
<path fill="#6db967" d="M133.5 390l-5 0 0-108.8 2 .6 4 .2.5.4.6 5.6.4 12-.4 79.5-.6 8.8-.5 1.2-1 .5zM210 398l-31.5-3.2-17-11.5-2.1-1.8-1.9-5-2.3-4.5-3.4-11.5-.1-26 1.7-24.5.3-1 .8-.7 1-.2 1 .3.8 1.6 0 25 2.1 24.5 7 16.5 7.1 4.1.5.1 2-1.6 1-.2 15 2.1 21.5-1.7 9.3-3.3 8.7-4.1 11.2-13.4 2.8-9.1.5-.3 1.3.4 1 1.5.3 1.5.4.5.5 0-.6-7.5 1.6-27 1-1.3.5 0 .9.8.3 22.5-1.3 17.5.6 1 1.5.9.9 1.1.1 2.8-10.6 27.2-1.4 1.5-2 .9-31 5.1zM236.6 383l-.1-.5-.5-.1-.7.6 1.3 0z"/>
<path fill="#70c58a" d="M134 387.8l-5.5.2 0-105.8 5.1.3.9.4.5 1.4.4 4.2.4 11.5-.4 77-.4 8.6-.5 1.7-.5.5zM211 397.5l-32.5-3.1-17.5-11.9-1.5-1.5-3.8-9.5-3.3-11-.1-25.5 1.2-16.9 1-6.3 1 2.9 1 7.2.3 13.1 2.2 24.5 7 16.5 7.5 4.6.5 0 2-1.9 1-.2 15 2.1 21.5-1.6 9.5-3.4 8.7-4.1 11.3-13.5 2.6-9 .9-.2.8.7 1.2 3.1 1 .1.5-.6-.7-9.1 1.2-24.3.6-1.7.9-.2.9.7.1 22.5-1.3 17.5.4 1 2.5 2 .4 2-10.8 27.5-1.2 1.5-2 1-30 5zM237 383.5l.1-1.5-.6-.1-3.5 1.6 1 .5 3-.5z"/>
<path fill="#74d1ad" d="M134 385.7l-5.5.3 0-102 5.5.3.6 1.2.5 4 .4 10.5-.3 75.5-.2 6.8-.5 2.8-.5.6zM212 397l-2.5.2-31-3.2-18.5-12.9-3.8-9.6-3.4-11 .1-25.5 1.1-10.5.5.1 1 5.2 3.2 29.7 7.2 17 7.6 4.5.5 0 1.5-1.8 1.5-.6 15 2.2 22-1.8 9.4-3.5 8.6-4.1 11.1-13.4 2.2-8 .6-1 .6-.1.6.6 1.4 3.3.5.2 1-.5-.5-10.5 1-22.6.5-2.3 1-.3.8.7.1 22.5-1.4 17.5.5 1.2 2.3 1.8.4 2-10.9 27.5-1.3 1.5-1.5.7-29 4.8zM233.8 384.5l3.4-.5.6-1.5-.3-1-1.1 0-2.5 1-2.8 1.5 0 .5 2.7 0z"/>
<path fill="#77ddd0" d="M133 383.6l-4.5 0 0-97.2 4.5 0 1 .3.5 1 .5 4.4.3 8.4-.3 74.2-.5 7.5-.5 1-1 .4zM212.5 396.5l-3 .4-30.5-3.1-18.5-12.8-4-9.7-3.3-10.8.1-17.5.2-4.3.5-1.9 1 1.9 1.5 6.1 1.8 14.7 4.4 11 3.2 6.5 7.6 4.4.5 0 1.5-2.1 1.5-.6 15 2.2 22-1.8 9.5-3.5 8.5-3.9 11.3-13.7 2-7.5.7-1.4 1 .5 1.5 3.3 1 .1.6-.5-.4-10.5.8-21.6.3-2.9 1.2-.6.8 1.1 0 22-1.4 17.5.6 1.5 2 1.6.4 1.4-10.9 27.7-1 1.3-1.5.8-28.5 4.7zM233.5 385l4-.7.8-2.8-.8-.4-2 .4-5.3 2.5-.9 1 4.2 0z"/>
<path fill="#6cc8cf" d="M133 380.1l-4.5.1 0-90.4 4.5-.1 1 .5.5 1.7.5 6.1-.4 76-.6 5.4-1 .7zM212.5 396.1l-3 .3-30.5-3.1-17.7-12.3-.7-1-1.3-4-2.3-4.5-3.4-11 .1-9.5.6-4.5.2-.4.5.6 1 2.8 1.8 10 3.3 9 3.8 8.5 8.1 4.8 1 .3 1.4-2.6 1.6-.7 15 2.2 22-1.7 8.5-3.2 9.5-4.2 11.4-13.9 2.6-8.7.5-.1.5.6 1.4 3.2 1.1.1.7-.6-.4-10.5.7-20.3.3-4.2 1.2-.6.8 1.1 0 22-1.5 17.5.2 1.2 1.9 1.8.6 1.5-10.9 27.5-1.1 1.3-1.5.6-28 4.7zM233.6 385.5l3.9-.6 1.1-1.9.3-2-.9-.3-2.9.8-5.6 2.5-1.9 1.5 1.4.4 4.6-.4z"/>
<path fill="#59a0ba" d="M132 355.8l-.6-.3-2.9-4.7 0-44.4 2.6-7.4 1.2-2 1.2-1.2.5.3.5 3.9-.5 41.2-1 10.7-.5 3-.5.9zM211 395.5l-32-3-11.9-9-2.2-2-1.4-2 1.5-.1 1.5.5 8 3.5.3-2.9.7-1 1.5-.6 15 2.3 21.5-1.7 8-2.9 10.5-4.5 11.5-14 2.5-8.6.5-.1.5.6 1.3 3 1.2.2.8-.7-.3-11 .5-18.5.4-5.5 1.1-.5.7 1 0 22-1.6 17.5.4 1.5 1.5 2 .1 1-10.6 27-.7 1-1.3.6-29.5 4.9zM159.5 373l-1-.2-1-1.6-3.3-10.7.3-4.5.5-.7 1 1.6 3.8 12.6.2 2.1-.5 1.4zM231.9 386.5l6.3-1 1.6-3.5 0-1.5-.3-.4-3.5.9-4.9 2-3.1 1.5-1.9 1.5.1.5 1.3.3 4.4-.3zM183.1 387l-1.6-1.6-3.2-.9-1.9 0 4.6 2.9 2.1-.4z"/>
<path fill="#4779a5" d="M216 392l-6-.5-19.5-.4-3.5-1.9-5-3.7-6.5-2.2-.7-.8-.1-1.5.9-1.5 1.4-.5 15 2.3 22-1.8 9-3.3 9.3-4.2 11.2-13.7 2.5-8.6.5-.2.4.5 1.3 3 1.3.2.9-.7-.3-10.5.8-24 .1-.6 1-.4.7 1-.1 22-1.6 17.5 1.2 3.5-.4 1.5-7.4 11.5-5.4 5.5-12.5 5.5-1.4 1-2.1 2.6-1.5 1.2-3 1.5-2.5.7z"/>
<path fill="#345290" d="M216 390.6l-6-.4-19-.1-9.5-5-5.5-1.8-.9-.8-.3-1.5 1-1.5 1.2-.4 15 2.3 22-1.7 9.5-3.6 8.9-4.1 11.2-13.5 2.4-8.5.5-.3.2.3 1 2.5.8.7 1 .1 1.1-.8-.4-10.5.7-24 .1-.5 1-.4.7.9-.2 22-1.6 17 .1 1.5.8 2-.6 2-6 9-6.7 8-11.6 5-6.4 4.2-4.5 1.9z"/>
<path fill="#242e7e" d="M216 390l-25-.3-9.3-4.7-5.7-1.8-.8-.7-.3-1.5 1-1.5 1.1-.3 15 2.3 22-1.7 9.5-3.6 9-4.1 11.2-13.6 2.3-8.3.5-.3 1.2 2.6.8.8 1 .1 1.3-.9-.5-10.5.7-24 .1-.5.9-.3.6.8-.1 22-1.7 17 0 1.5.7 2-.3 1.5-6.5 9.5-6.5 8-11.7 5-6.5 3.8-4 1.7z"/>
<path fill="#323b92" d="M251 351.8l-.6-9.8.7-23.5.1-1 .8-.3.6.8-.2 22-1.4 11.8zM216.5 389.6l-25.5-.2-9-4.4-6-2-.9-1-.1-1 1-1.5 1-.2 15 2.3 22-1.7 4.5-1.6 14-6 11.4-13.8 1.9-7.5.7-1 1.5 3.1 1 .4 2-.6-.3 5.1.6 2.5-.4 1.5-5.1 7.5-7.3 9.5-1.5 1-10.9 4.5-9.6 5.1z"/>
<path fill="#4048a6" d="M251 350.5l-.4-8.5.6-24 .1-.5.7-.2.5.7-.2 22-1.3 10.5zM217 389.1l-1.5.4-5.5-.4-19 .1-9-4.3-6-2-.8-.9-.1-1 .5-1 1.4-.6 15 2.3 22-1.7 5-1.7 13.5-5.8 11.5-14 1.9-7.5.6-.8 1.5 3 1 .4 1.5-.6.4.5-.3 4.5.5 2.5-.4 1.5-4.4 6.5-8.1 10.5-12.6 5.5-8.6 4.6z"/>
<path fill="#4f55b9" d="M251 348.8l-.3-6.8.7-24 .1-.5.5-.1.4.6-.2 22-1.2 8.8zM216.5 389l-25 .2-9.5-4.4-6-2-.7-.8-.1-1 .6-1 1.2-.6 15 2.5 22-1.7 4-1.4 14.7-6.3 11.4-14 1.8-7 .6-1.1 1.5 2.8 1 .4 1.5-.4.3 8.3-4.8 7-8 10.4-12.8 5.6-8.7 4.5z"/>
<path fill="#5d62cd" d="M251 347.6l-.2-5.6.7-24 .5-.5.1 22.5-1.1 7.6zM215.5 389l-5.5-.4-19 .3-9-4.3-6-2-.6-.6-.1-1 .7-1.1 1-.3 15.5 2.3 21.5-1.5 4.5-1.6 14.4-6.3 11.4-14 1.7-7 .5-.8 1.5 2.6 1 .4 1.5-.3-.2 4.6.5 2.5-.2 1-12.6 17.2-1.2.8-10.8 4.4-9 4.7-1.5.4z"/>
<path fill="#6469d7" d="M251 344.7l.9-19.7-.1-7 .2-.3 0 22.3-.5 4.3-.5.4zM216.5 388.6l-1.5.2-5-.4-18.5.5-10-4.6-5.5-1.8-.5-.6-.1-.9.6-.9 1-.3 15 2.3 22-1.6 3.5-1.2 8-3.1 7.5-3.5 11.1-13.7 2.4-8.1 1.5 2.5 2.5.4-.3 4.2.5 2.5-.2 1-12.6 17-1.4 1-12.5 5.1-7.5 4z"/>
</g>
</g>
<g clip-path="url(#c20)"><g filter="url(#bl)">
<rect x="252.3" y="4.0" width="126.7" height="248.6" fill="#badd4e"/>
<path fill="#dde759" d="M339.8 66.5l-3 .4-3.5-1.1-4.5-2.6-3.2-3.2-2.1-3.5-1.5-4.5-.8-5.5.1-4.5.7-3.5 1.2-3 1.5-2.5 2.1-2.2 2.5-1.7 3-1.3 11.2-3.3 1-1-.5-.5-24.7-6.1-61.5-2.4-1-1-.9-2-2.1-.7-1.3-1.3 0-3 1.3-1.1 4.5-1.2 95.7-.2 14.8 3.4 2.5 1.3 1.9 1.8 1.3 2.5 4 16-1.5 14.5-.7.7-.5-.7.6-7.5-1.1-1.2-1 0-.8.7-1.8 8.5-1.9 2.1-1 0-1.2-1.1-1.8-5-.5-.5-.5.6-2 6.3-2.3 9.6-.9 2-1.1 1.5-3.2 2.5-5.4 3-10.1 1.5zM358.8 23.5l.1-.5-.4-.5-4.2-2.5-6-3.1-1 .2-.2.4.8 2.5-.5 3 6.9.1 4 .7.5-.3z"/>
<path fill="#f0e75e" d="M343.3 66l-5.5.4-4-1.1-4.5-2.6-3.2-3.2-2.6-5-1.3-5.5-.2-6.5 1.1-5 1.5-3 2-2.5 2.2-1.7 3-1.6 17-4.6 6 0 5.5 1.7.3-.8-1-3-11.3-5.9-.9-.1-7.1-.5-1.6.5 7.1 2.9.4.6 0 1-.4.6-1 .2-25-5.4-62-2.2-.9-.7-.6-1.5-2.5-.9-1.2-1.1-.3-2.1.4-.9 1.6-1.2 3.5-.8 93.7-.5 17.3 4.2 2 1.1 1.8 1.7 1.1 2 4 15.5-1.2 14.5-.2.3-.4-.8.8-6.5-.8-1-1.6-.3-.9.8-1.8 8.5-1.8 1.9-1.1-.4-1.1-1.5-1.8-6.2-1-1.4-4.8 18.6-1.6 4-2.6 2.5-5 3-1.2.5-6.3 1z"/>
<path fill="#edd05c" d="M342.3 66l-4.5 0-4.5-1.4-4-2.5-3.3-3.6-2.4-5-1-5-.1-6 1.2-5 2.2-4 3.9-3.3 3.5-1.5 13-3.6 4.5-.7 4 .3 3 1 4 2.4 0-1.9-2-4.6-11.5-5.9-7-.7-8-.5-2 .5 3.2 2-.7.4-14-2.4-62-2-1.5-1.7-2-.5-1.5-1.3-.5-1.5.5-1.5 1.5-1.1 3.5-.7 62.5-.1 30-.4 18.5 4.5 1.5.8 1.7 1.5 1.2 2 4 15 .3 1.5-.7 5.8-1.5-.6-1.6.3-2.2 9-1.2 1.5-1 .1-1.6-2.1-3.4-12-.5.2.1 4.3-.5 4-3.9 15-1.6 4-2.4 2.5-5 3-8.2 1.5z"/>
<path fill="#ebba59" d="M370.3 45.4l-1-.1-1.4-1.8-3-12-1.3-2-3.2-8-11.6-6-19-1.7-8 .2-63.5-1.8-5-2.2-.8-1.5.1-1.5 1.2-1.3 4-.8 92.5-.5 18.5 4.7 2.5 1.7 1.7 2.7 4.2 16-.5 5-.4.5-2-.4-1 .9-1.7 8-1.3 1.9zM345.3 65.5l-5 .5-4.5-.9-5-2.4-3.5-3.1-2.7-4.6-1.3-4.5-.5-6 .6-5 1.1-3 1.9-3 2.4-2.2 2.5-1.4 16-4.6 4-.5 3.5.4 4.5 1.9 1.6 1.4 1.4 2 1.1 5-.6 5.5-3.8 14.5-1.8 4-2 2-4 2.5-1.4.7-4.5.8z"/>
<path fill="#e9a356" d="M370.3 45.3l-1-.2-1.2-1.6-2.9-12-4.5-10-11.9-6.3-18.2-1.7-10.8-.6-62-1.3-4.3-1.6-.9-1.5.1-1.5 1.6-1.4 3.5-.6 92.5-.3 18 4.6 2.5 1.5 1.6 2.2 4.5 16.5-.4 5-2.2.1-1 .8-1.8 8.1-1.2 1.8zM344.3 65.5l-5 .1-4.5-1.2-4-2.1-3.5-3.3-2.4-4-1.3-4.5-.5-6 .7-5 1.3-3.5 1.7-2.4 2-1.9 3-1.7 16-4.5 4-.3 3.5.5 3 1.3 2.3 2 1.5 2.5.8 3 .1 3-.4 3-3.6 14-1.9 4.5-2.9 3-4.4 2.5-5.5 1z"/>
<path fill="#e78c53" d="M370.3 45.1l-1-.2-1-1.4-2.9-12-4.6-10.4-12-6.1-29-2.5-62-1.1-4-1.3-1-1.1-.1-1.5 1.1-1.6 4-.8 92.5-.2 18 4.7 2.5 1.5 1.6 2.4 4.3 16-.4 4.7-.5.4-1.5-.1-1.1 1-1.8 8-1.1 1.6zM342.3 65.5l-4.5-.5-4.5-1.6-3.7-2.4-2.8-3.2-2.1-4.3-1-4.5-.2-5.5.9-5 1.4-3 2-2.5 2-1.6 3-1.4 15.5-4.2 4-.2 3.5.7 2.5 1.2 2.1 2 1.6 3 .6 3-.4 5.5-4 15-2.2 4-3.7 3-3.2 1.5-6.8 1z"/>
<path fill="#d6784c" d="M370.3 45l-1-.3-.8-1.2-2.8-12-4.7-10.5-12.2-6.2-29-2.5-62-1.1-4-1.2-.9-1-.1-1.5 1.1-1.5 3.9-.8 92.5-.1 18 4.7 2.5 1.7 1.3 2 4.4 16-.3 4.5-.4.4-2 .3-.7.8-1.7 8-1.1 1.5zM345.3 65l-5 .1-4.9-1.1-4.1-2.1-3.2-2.9-2.3-3.6-1.6-4.9-.5-5.5.6-5 1-2.9 1.6-2.6 2-2 2.9-1.8 15.5-4.4 3.5-.4 3.5.3 4 1.8 1.6 1.5 1.3 2 1.1 4.5-.5 5.4-3.6 13.6-1.9 4.1-1.6 1.9-2.8 2-2.1 1.1-4.5.9z"/>
<path fill="#be6543" d="M370.8 44.5l-1 .4-1.2-1.4-2.7-12-4.6-10.5-12.5-6.3-29-2.6-62.5-1.2-3.5-1-.8-.9-.1-1.5 1.2-1.5 3.7-.7 92.5-.1 18 4.9 2.2 1.4 1.3 2 4.5 16-.3 4.5-2.2.6-.7.9-1.7 7.5-.6 1.5zM346.8 64.6l-5 .3-5-.8-4-1.6-3.9-3-2.6-3.8-1.5-4-.7-5.2.2-5 1-3.5 1.5-2.8 2-2.2 2.5-1.7 3.3-1.3 12.2-3.3 3.5-.5 3 .2 4.2 1.6 2.8 2.8 1.5 4.2 0 5-3.9 15-1.6 3.6-1.5 1.9-2.6 2-2.4 1.2-3 .9z"/>
<path fill="#a5523a" d="M370.3 44.8l-1-.5-.7-1.3-2.5-11.5-4.8-10.9-12.5-6.1-29-2.6-62.5-1.1-3.5-1-.6-.8-.2-1.5 1.3-1.5 3.5-.6 92.5 0 18 4.9 2 1.3 1.3 1.9 4.5 16-.3 4.5-2 .6-.8.9-1.7 7.8-1 1.5zM344.8 64.5l-4.5-.1-4.5-1-3.9-1.9-3.4-3-2.2-3.6-1.5-4.8-.4-5.1.5-4.5.9-2.8 1.5-2.6 2-2.1 2.5-1.5 4-1.5 11.3-3 3.7-.4 3.2.4 2.3.8 1.8 1.2 2.3 3 1.2 4.5-.6 5.5-3.5 13-1.9 4-1.8 2-3.1 2-2.8 1-3.1.5z"/>
<path fill="#8d3f31" d="M370.3 44.6l-1-.5-.6-1.1-2.4-11.5-4.8-11-12.7-6.2-29-2.5-62-1-4-1.2-.7-1.1 0-1 1.2-1.3 3.5-.7 92.5.1 17.5 4.8 2 1.1 1.6 2 4.5 16-.2 4-.2.5-1.7.5-.8 1-1.7 7.5-1 1.6zM345.8 64l-5.5 0-4.5-1-3.9-2-2.8-2.5-2.3-3.5-1.5-4.5-.5-5.5.5-4.5 1-2.9 1.6-2.6 2.1-2 2.7-1.5 14-4 3.6-.4 3 .3 3.9 1.6 2.6 2.9 1.2 4.1-.2 5-3.5 13.3-1.9 4.2-1.6 1.9-2.1 1.6-2.4 1.1-3.5.9z"/>
<path fill="#772f29" d="M370.3 44.5l-.9-.5-.6-1-2.3-11.5-4.8-11-12.9-6.3-29-2.6-62-1-3.9-1.1-.7-1 0-1 1.1-1.2 3.5-.7 92.5.1 17.5 4.9 2 1.2 1.5 2.1 4.4 15.6-.1 4-.3.5-1.5.4-.7.6-1.8 7.8-1 1.7zM344.8 63.5l-4.1 0-4.6-1-3.9-2-2.9-2.6-2-3.1-1.5-4.6-.5-5.2.5-4.2 1-2.9 1.5-2.4 2-2 2.6-1.5 14.3-4 3.1-.3 2.7.3 3.8 1.6 2.5 2.9 1.2 4.5-.5 5-3.2 12.1-2 4.3-2 2.1-2.3 1.5-2.6 1-3.1.5z"/>
<path fill="#8c3f39" d="M370.3 44.3l-.7-.3-.6-1-2.3-11.5-4.9-11.4-13-6.1-29-2.5-62-1-3.7-1-.7-1 0-1 .9-1 3.5-.7 92.5.1 17.5 5 2 1.2 1.3 1.9 4.4 15.5-.1 4-2.3 1.5-1.8 7.5-.5 1.4-.5.4zM345.8 62.5l-4.5.1-4-.7-3.5-1.4-3.2-2.5-2.3-3.2-1.4-3.8-.7-4.5.3-4.5.8-3 1.4-2.5 1.8-2 2.3-1.4 2.7-1.1 11.3-3 3-.3 2.5.2 3.5 1.5 2.4 2.6 1.2 3.5-.1 4.6-3.4 12.9-1.6 3.5-1.5 1.8-2 1.5-2.5 1.1-2.5.6z"/>
<path fill="#a04f49" d="M370.3 44.2l-.5-.2-.7-1-2.3-12-4.8-11-13.2-6.2-29-2.4-62-1-3.5-1.1-.6-.8 0-1 .6-.7 3.5-.9 92.5.2 17.5 5 2 1.3 1 1.6 4.5 15.5-.1 4-2.2 1.5-1.7 7.2-1 2zM343.8 61.5l-4-.2-4-1.1-3-1.8-2.4-2.4-1.9-3.5-.9-3.5-.2-4.5.5-3.5 1-2.5 1.3-2 3.6-2.6 12.5-3.6 3-.3 2.5.3 3.5 1.6 2 2.6 1 4-.6 4.5-2.8 10.5-1.7 3.5-1.9 2-2 1.2-2.5.9-3 .4z"/>
<path fill="#b45e58" d="M370.3 44l-1-1-2.3-12-4.7-11-13-6.3-29.5-2.5-62-.9-3.3-1.3-.3-1.5 3.6-1.5 92.5.3 17.5 5.1 1.7 1.1 1 1.5 4.6 15.5-.2 4-2 1.5-1.6 6.8-1 2.2zM345.3 60.5l-4 .2-3.5-.7-3-1.3-2.9-2.2-1.8-2.5-1.3-3.5-.6-4 .2-4 .7-2.5 1-2 1.7-1.9 2-1.3 12-3.6 5-.1 3 1.1 2.3 2.3 1.2 3.5-.2 4-2.9 11-1.3 3-3.1 3-4.5 1.5z"/>
<path fill="#c86e68" d="M370.3 43.7l-.5-.2-.5-1-2.1-11.5-4.8-11.5-13.1-6-29.5-2.4-62-.9-1.6-.7-.3-2 .9-1.2 1.5-.2 91.5.4 17.4 5 1.9 1 1.2 1.7 4.5 15.3-.1 4-1.4 1-.7 1-1.3 5.9-1 2.3zM343.8 60l-3.5-.1-3.4-.9-2.8-1.5-2.3-2.2-1.7-2.8-1-3.5-.3-4 .5-3.4.8-2.1 1.3-2 3.5-2.5 10.9-3.1 3-.3 2.4.4 2.1.9 1.5 1.3 1.1 1.8.7 2.5-.3 4-2.5 9.5-1.4 3.5-2.1 2.3-3 1.5-3.5.7z"/>
<path fill="#d27670" d="M370.3 43.4l-.7-.9-2.1-11.5-4.7-11.5-13.5-6.3-29.5-2.3-62-.9-1.3-.5 0-2.5.3-.5 1.5-.2 61.5.1 30.5.4 17 5.1 1.8 1.1.9 1.5 4.5 15-.1 4-1.3 1-.6 1-1.2 5.5-1 2.4zM345.3 59.1l-4 .1-3.5-.7-3-1.5-1.8-1.5-1.7-2.3-1.2-3.2-.5-3.5.2-3.8 1.5-3.8 1.5-1.7 1.8-1.2 10.2-3.1 2.5-.4 2.5.1 3 1.2 2 2.1 1 3.1-.1 3-2.6 10-1.3 3-2.5 2.5-4 1.6z"/>
<path fill="#85bc42" d="M252.3 6.4l0-2.4 4.4 0-.9.8-2.5.6-1 1zM255.3 65.3l-3 0 0-55.7 3.5 3.1.8 1.8.3 2-.1 40.5-.5 6.1-.5 1.8-.5.4zM351.3 79.1l-2 .1-19.5-4-11.3-8.2-4.6-9 0-2 1.4-1.2 2 .3 5.8 7.4 10.2 5 3.5.4 2-1.2 11.5-1.6 11.5-7.1 9.8-13.5.9-2.5 1.2-6.5.6-.6 1.2.1.7 1-.8 6.5.7 3.5 0 4.5 1.9 2 .4 1.5-6.3 16.5-2.3 1.9-18.5 6.7zM372.8 141l-1.5.1-.6-1.1-1-55 .3-1.5.8-1 2-.8 1.5.2 1 .7.7.9.3 1.5-2.5 46.9-.5 8.1-.5 1z"/>
<path fill="#6aad44" d="M252.3 6.1l0-2.1 4.1 0-.6.6-2.5.5-1 1zM255.3 61.2l-3 0 0-51.3 3.5 3.5.8 2.6-.1 38-.4 5-.3 1.7-.5.5zM351.3 78.6l-2 .1-18-3.4-1.5-.7-11-7.9-4.5-9.2.2-1.5 1.3-.8 1.2.3 5.8 7.3 10.5 5.1 3.5.4 1-1 1-.5 11.5-1.7 11.8-7.1 10-14 .6-1.5 1.1-7 .5-.5 1.1 0 .7 1-.8 6.5.5 4-.2 4 2 2 .4 2-6.2 15.5-2 1.9-18.5 6.7z"/>
<path fill="#6db967" d="M252.3 5.7l0-1.7 3.8 0-2.3.6-1.5 1.1zM255.3 57.8l-3 0 0-47.5 2 2.7 1.5 1.2.5 1.8 0 34-.4 6.5-.6 1.3zM351.8 78l-2.5.4-19-3.9-11.3-8-3.7-8-.2-2 1.2-.5 1 .7 5.5 6.5 10.5 5 3.5.4.9-1.1 1.1-.6 11.5-1.7 12-7 7-9.9 1.2-2.3 2.1-2.5.6-1.5.6-6.1.8-.9.7 0 .7 1-.9 6.5.6 3.5-.4 4.6 2 1.9.4 2-6.3 15.5-2.1 1.7-17.5 6.3z"/>
<path fill="#70c58a" d="M252.3 5.1l0-1.1 3.2 0-1.7.2-1.5.9zM255.3 53.1l-3 0 0-42.1 1.3 2.5 2 1.5.3 1 0 31-.1 3.5-.5 2.6zM350.8 78l-1.5 0-19-3.8-10.9-7.7-1.7-3.5-.8-3 .9-.7 1 .1 4 4.1 10.5 5 3.5.4 1.5-1.8 12-1.8 12-6.9 7-9.9 1.3-2.5 3.2-3.3.2-6.7.3-.6 1-.3.6.9-1 6.5.7 3.5-.5 5 1.9 1.5.5 2-6.5 15.5-1.7 1.4-18.5 6.6z"/>
<path fill="#74d1ad" d="M374.8 41.7l-.4-1.2-.1-4.5.1-.5.9-.3.6.8-1.1 5.7zM351.3 77.6l-2 .2-18.5-3.7-11-7.8-1-2.3 0-1.3 1-.7.5.1 2 1.6 10.5 5 3.5.5.7-.2 1.3-1.8 12-1.8 12-6.8 7.5-10.6.9-2 3.6-3 .5 0 .7 3-.7 5 2 1.6.4 1.9-6.4 15.3-1.5 1.3-18 6.5zM365.6 65l-.3-.5-.8.5.3.2.8-.2z"/>
<path fill="#77ddd0" d="M374.8 39.9l-.2-3.9.1-.5.6-.1.5.6-.5 3-.5.9zM350.3 77.5l-19-3.5-8.8-6.5-1.3-1.5 0-1 .6-.3 1.7.3 9.3 4 4 .6 1.5-2.3 12-1.8 12-6.8 7.6-10.7 1.3-2.5 3.1-2 .5 0 .6 3-.7 5 2 1.5.2 1.5-6.6 15.5-1.7 1-18.3 6.5zM362.3 66.5l3.5-.9.3-1.1-1.4 0-2.4 1.5 0 .5z"/>
<path fill="#6cc8cf" d="M375.3 37.9l-.4-1.9.4-.5.3.5-.3 1.9zM350.8 77l-1.9 0-17.6-3.5-3.7-3-.8-1-.2-1 .7-.5 1 0 4 1.4 5 .6.3-2 .7-.7 12-1.7 12-6.8 7.7-10.8 1.3-2.5 3-1.7.5.1.5 3.1-.8 4.5 1.8 1.5.2 1.5-6.3 15-1.3 1-18.1 6.5zM360.8 67.5l5-1.6.8-1.4-.7-.5-1.1.3-5.1 3.2 1.1 0z"/>
<path fill="#59a0ba" d="M350.3 76.6l-13.6-3.1-2.9-1-.9-1 5.9-.3 11 1 .4-.7-.9-.5-10.5-.2-1-.9-.3-1.4.6-1 .7-.3 11.5-1.5 12-6.8 7.8-10.9 1.2-2.4 3-1.5.5.1.4 1.3-.1 3-.8 3 .8 2-.3 2-5 13.5-1.2 1-18.3 6.6zM358.4 69l7.9-2.6.7-.9.5-1.5-.7-.3-2 .5-6 3.3-1.8 1.5 1.4 0z"/>
<path fill="#4779a5" d="M351.8 71.6l-2.5-.8-10.5-.4-1-.7-.2-1.2.6-1 .6-.2 11.5-1.6 12.1-6.7 7.8-11 1.1-2.3 3-1.4.5.1.3 1.6-.1 3-1.1 4-6.7 10-7 3.5-8.4 5.1z"/>
<path fill="#345290" d="M351.8 71.2l-2.5-.5-10.5-.5-1-.7-.2-1 1.2-1.2 11.5-1.5 12.2-6.8 7.8-11 1-2.2 3-1.3.5.2 0 4.8-1.2 3.5-6.8 10-15 8.2z"/>
<path fill="#242e7e" d="M352.3 70.7l-1 .3-2-.5-10.5-.4-.9-.6-.2-1 1.1-1.1 11.5-1.5 12.4-6.9 7.6-10.8 1-2.3 3-1.2.5.3-.1 4.5-1.1 3-6.8 10.3-14.5 7.9z"/>
<path fill="#323b92" d="M352.3 70.5l-1 .3-2-.4-10.5-.4-.8-.5-.2-1 1-1.1 11.5-1.5 12.5-6.9 7.5-10.7 1-2.3 3.2-1 .4 1-.2 3.5-1.3 3-6.6 10.1-14.5 7.9z"/>
<path fill="#4048a6" d="M351.8 70.6l-13-.7-.7-.4-.3-1 1-1 11.5-1.5 12.5-6.9 7.5-10.7 1-2.2 3-1.2.5 1.5-.4 3.5-1.4 3-6.3 9.5-14.9 8.1z"/>
<path fill="#4f55b9" d="M351.3 70.6l-12.5-.8-.6-.3-.3-1 .9-.9 11.5-1.5 12.5-6.8 7.5-10.8 1-2.2 3-1 .4 1.2-.4 3.5-1.2 2.5-6.5 10-15.3 8.1z"/>
<path fill="#5d62cd" d="M352.3 70.1l-1 .3-12.5-.6-.5-.3-.3-1 .8-.8 11.5-1.5 12.5-6.8 7.7-10.9.8-2 3-1 .3 1.5-.3 2.9-1.3 2.6-6.6 10-14.1 7.6z"/>
<path fill="#6469d7" d="M351.8 70.2l-13-.5-.5-.3-.2-.9.7-.7 11.5-1.5 12.5-6.8 7.8-11 .7-1.8 1-.7 2-.3 0 3.9-1.4 2.9-6.6 10-14.5 7.7z"/>
</g>
</g>
<g clip-path="url(#c21)"><g filter="url(#bl)">
<rect x="252.3" y="273.5" width="126.7" height="249.1" fill="#badd4e"/>
<path fill="#dde759" d="M321.8 384.5l-1.5.1-7.1-1.1-12.1-2.5-9.7-2.5-8.1-2.8-4.5-6.7-4.5-8.3-3.1-7.2-.4-3.6-2.1-29.9 1.6-13.4 1.5-6.3 1.5-4.3 6-6.2 4.5-2.3 9-3.1 19.5-2.7.9-.7-.3-2-1.1-.6-20 .3-20 1.6-14-.1-4 .3-1.4-1-.1-1.5.1-1.5 1.4-1.3 104.5-1.3 2 .5 13.5 5.8 2.7 2.8 1.3 4 1 25.8-.2 31.2-1.1 16-.3 1-.4.2-3-.7-2.5 1.9-1.9.1-.7-1-2.4-6.8-1-1.2-.5.7-2.3 9.3-2.6 6-3.2 4.5-4.6 4-3.1 2-7.2 2-9.3 1.5-10.7 1z"/>
<path fill="#f0e75e" d="M326.3 384l-6 .4-11.7-1.9-15.1-3.5-10.1-3.5-3.1-4.3-4-6.9-3-6.2-1.9-5.1-2.5-33 .9-9 1-5.7 1.2-4.3 1.5-3.5 1.7-2.5 2.8-3 2.8-2.2 3.3-1.8 4.9-2 5.2-1.5 18.6-2.7.6-.8-.4-2-1.2-.6-20 .2-20 1.6-11-.1-6.5.3-1-.3-.9-1.1 0-2 .9-1.2 2-.6 103.5-.7 14.5 6.4 2.1 2.1 1.1 2 .5 2.5 1.3 32-.4 24.5-.9 16.5-.7.4-2.7-.4-2.3 1.8-1.5.1-.7-.9-3.3-9.8-1-1.1-.5.9-2.2 10-2 5.5-2.9 5-3.9 4.2-4 3-4.5 1.8-6.6 1.5-11.9 1.5z"/>
<path fill="#edd05c" d="M324.3 384l-4 .2-13.6-2.2-14.5-3.5-8.4-3.1-4-5.3-5-9.1-2.7-7-.7-4.5-2.3-29.5.7-7.8 1-5.7 1.5-5.2 1.6-3.3 1.9-2.7 2.7-2.8 2.8-2.2 3.5-2 4.2-1.8 5.3-1.6 19.8-2.9-1-3-1.3-.7-20 .1-4.5.7-2-.3-13.5 1.3-17.5.2-1-.4-.9-1.4.2-1.5 1.2-1.3 1.5-.3 79.5-.7 23.5.1 2 .5 12.5 5.9 2.3 2.3 1 2 .3 2 1.4 32-.3 24.5-.8 16.5-.4.2-2.5-.3-2.5 1.9-1.5-.2-4-11.7-1-1.7-.5.1-2.3 10.7-1.9 6-3 5.5-4.3 4.9-4.3 3.1-4.8 2-9.8 2-9.6 1z"/>
<path fill="#ebba59" d="M321.3 384l-11.3-1.5-13.6-3-9.7-3-2.9-1.4-1-1.1-3.5-5-3-5.4-2.5-5.4-1.5-4.7-.9-7-2-26 .9-10.1 2-8 3-5.6 4.5-4.7 6-3.7 7-2.6 7.5-1.5 15-1.8 2.2-.5 0-.5-3.7-.5-1-2.5-1-.2-20 .1-4.5.6-2-.2-13.5 1.2-17.5.2-1-.4-.8-1.3.2-1.5 1.1-1.2 1.5-.3 79.5-.7 23.5.3 1.5.3 13 6.2 2.2 2.4 1 3.5 1.4 32.5-.2 24-.8 16.5-2.6-.2-2.5 1.9-1.3-.2-4.2-12.6-1-2-.5-.2-.8 1.8-2 10.5-2 6-3.4 6-4.2 4.5-5.1 3.4-5.9 2.1-8.4 1.5-11.2 1z"/>
<path fill="#e9a356" d="M325.3 383.5l-5 .3-3-.3-13.9-2.5-13.5-3.5-3.8-1.5-2.8-1.9-3-3.9-3.5-6-2.5-5.4-1.4-4.3-1.1-7.2-2.1-24.8 0-4.5.6-5.9 2-8.6 3.1-6 4.7-5 5.7-3.6 7-2.6 7.5-1.5 15.5-1.9 4.1-.9.3-.5-6.4-.7-.9-2.3-1.1-.3-20 .1-4.5.6-2-.2-13 1.2-18 .3-1.1-.7-.6-1.5.2-1 1-1.1 1.5-.3 79.5-.6 23.5.2 1.5.4 13 6.4 1.8 2 1.1 3.5 1.4 32-.6 40.5-.7.5-2.5-.1-2 1.7-1.1-.1-.6-1-4.3-13.7-1-1.3-.5.2-.6 1.8-1.7 10-1.8 6-3.1 6-3.8 4.5-4.5 3.5-5.5 2.6-8.2 1.9-9.3 1z"/>
<path fill="#e78c53" d="M321.8 383.5l-6.5-.5-6.3-1-15.2-3.5-7.1-2.5-2.5-1.5-1.9-2-3-4.3-3-5.5-2-4.7-1.2-4-1-7.5-2.2-26.5.9-9.3 2-7.4 3.5-6.2 5-4.9 5.5-3.2 7-2.5 7-1.4 16-1.9 5.1-1.2.3-.5-7.9-.7-.5-.2-.9-2.1-1.1-.4-20 .1-4.5.6-2-.2-13 1.2-18 .3-1-.6-.6-1.5.2-1 .9-.9 1.5-.4 79.5-.6 23.5.3 1.5.4 12 6 1.2.7 1.2 1.5 1.2 3.5 1.4 32-.5 40.5-.5.4-2.5-.1-2 1.7-.9 0-.4-.5-4.2-13.7-1.5-3.9-.5.1-1 3.5-1.6 10-1.8 6-3 6-4.1 4.9-5.6 4.1-6.2 2.5-7.5 1.5-11.2 1z"/>
<path fill="#d6784c" d="M325.3 383l-5 .3-7.1-.8-14.8-3-9.9-3-3.6-2-2.1-2-3-4-2.5-4.4-2-4.3-1.6-4.8-1.2-8-2.2-26.5.9-10 2.1-7.3 3.5-6 5-4.8 5.5-3.2 6.5-2.2 7.5-1.5 16-1.9 4.9-1.1 1.6-.5.3-.5-2.8-.5-7-.3-.5-.2-.8-2-1.2-.4-20 0-4.5.6-2-.2-13 1.2-10.5-.1-7 .5-1.4-.6-.5-1 .1-1.5.8-.8 1.5-.4 79.5-.6 23.5.4 1.5.4 12.5 6.3 1.6 1.7 1.2 3.5 1.5 32-.5 40.5-2.8.2-2 1.8-1.2-.5-5.3-18.2-.5-1.1-.5-.1-1 2.9-2 12.3-1.5 5.2-2.5 5.5-3.5 4.8-5 4.2-5.9 3-7.9 2-9.2 1z"/>
<path fill="#be6543" d="M327.8 382.5l-7.5.4-5-.4-16-3-7.3-2-3.9-1.5-3.2-2-2.1-2.1-2.5-3.2-2.5-4.3-2-4.3-1.6-5.1-1.4-8.8-2.1-25.7.6-8.5 1-4.6 1.5-4.2 3.5-5.8 2.5-2.7 2.8-2.2 5.3-3 5.9-2 7.4-1.5 17.1-2.1 5.9-1.4 1.5-.5.2-.5-2.6-.5-9-.4-.5-.3-.7-1.8-1.3-.5-20 0-4.5.7-2-.3-12.5 1.1-11 .1-7 .4-1-.3-.9-1.2.2-1.5.7-.8 1.5-.3 79.5-.6 23.5.4 1.5.4 12.3 6.4 1.5 1.5.8 1.5.5 2 1.4 32-.4 40.5-2.6.1-2 1.8-1.1-.4-4.6-15.5-.8-4.2-.5-1.1-.5-.2-1.2 3-1.8 11.8-1.5 5.9-2.4 5.8-3.1 4.5-4.9 4.5-5.2 3-6 2-9.9 1.5z"/>
<path fill="#a5523a" d="M328.8 382l-11 .3-7.3-.8-7.7-1.5-8.2-2-4.4-1.5-3.7-2-3.2-2.7-2.5-3.1-2.5-4.2-2-4.3-1.5-4.7-1.5-9.1-2.2-25.9.7-8.6 2-7.3 1.5-3.2 2.3-3.4 2.2-2.5 3.1-2.5 5.3-3 5.7-2 7.5-1.5 17.4-2.2 7.8-1.8 1.4-.5-.1-.5-2.8-.5-10.8-.5-.5-.4-.6-1.6-1.4-.5-20-.1-4.5.7-2-.3-13 1.2-9.5-.1-8 .5-1-.3-.8-1.1 0-1 .8-1.2 1.5-.4 79.5-.5 23.5.5 1.5.4 11.8 6.2 1.7 1.5.9 1.5.4 2 1.5 32-.3 40.4-2.5.2-2 1.7-1-.4-4.5-15.4-1-5.6-1-1.3-.8.9-.6 2-2.1 13.3-1.5 5.9-2 4.8-3 4.7-4.4 4.3-5.8 3.5-5.7 2-9.1 1.5zM326.1 373l6.4-1 6.9-2.5 4.5-3 3.9-4.4 2-3.7 1.5-4.3 2.7-16.6 4.1-14 .5-5.5-.3-6.9-1-6.1-1.5-4.1-2-2.8-3-2.6-3.9-2-5.1-1.5-5.5-.4-6.2.4-13.8 2.8-14.1 1.7-7.1 2-4.8 2.5-4.5 4-3 5-2 6.5-.4 4.5 0 4.5 2.4 23.6 1 4.2 1.5 4.1 3.5 5.6 2.5 2.6 3.2 2.4 3.9 2 4.3 1.5 9.5 1.5 13.9 0z"/>
<path fill="#8d3f31" d="M327.8 381.5l-7.5.4-6.1-.4-6.9-1-9.2-2-5.2-1.5-3.6-1.5-3.7-2.5-2.8-2.8-2.5-3.4-2.5-4.6-1.5-3.7-1.5-5.8-2.7-26.2-.3-8 1-8.4 2.5-7.1 4-5.9 2.8-2.6 2.9-2 5.1-2.5 6.8-2 20.4-2.7 13.7-3.3-.7-.5-3.4-.5-12.6-.6-1.1-1.9-1.4-.6-20-.1-4.5.7-2-.4-13 1.1-9 0-8.5.6-1-.3-.7-1 0-1 .7-1.1 1.5-.4 79.5-.5 23.5.5 1.5.5 11.5 6.1 2 1.8 1.1 3.1 1.5 32-.1 40-.5.5-2 0-2 1.7-1-.6-4.2-15.1-1.3-6.9-.5-.9-1-.3-1 1.6-.6 2.5-1.9 12.6-1.5 6-2 4.9-3 4.7-4.4 4.3-5.9 3.5-5.7 2-9.5 1.5zM325.8 375.5l5.5-.7 5.2-1.3 4.6-2 3.9-2.5 3.1-3 2.5-3.5 1.8-4 1.5-5 2.2-15 3.2-10.8.9-4.7.1-7.6-1-10.3-1.5-6.1-1-2-1.9-2.5-4.6-3-6-2-6-.7-6.5.3-15.5 3-15 1.9-7 1.9-5.5 2.7-4.5 3.9-3.5 5.3-2.1 6.2-.7 5 0 5.5 2.3 24 2.1 8.5 1.9 4 2 3.1 3 3.2 3.5 2.7 4 2.1 4.5 1.6 4.5 1 5.5.7 14.5.1z"/>
<path fill="#772f29" d="M327.3 380.5l-7 .3-6.5-.3-7.1-1-9.1-2-4.7-1.5-3.1-1.5-3.6-2.5-2.9-2.9-2.5-3.5-2-3.7-2-5.4-1-4.3-2.8-26.7 0-9 1.3-7.6 3-7 3.9-4.9 5.4-4 5.7-2.5 5.6-1.5 18.4-2.4 19.4-4.1-.9-.7-6-.8-14.5-.7-1-1.8-1.5-.7-20-.1-4.5.7-2.5-.4-12 1-9.5 0-8.5.8-1-.4-.6-.9 0-1 .6-1 1.5-.4 79.5-.5 23.5.6 1.5.4 11.5 6.3 1.8 1.6 1.1 3 1.5 32-.1 40-2.3.4-2 1.7-.9-.6-4.1-15-1.2-7-.8-1.9-.5-.5-1 0-.9.9-.9 2.5-2.2 14.2-1.5 6-2 4.8-3 4.6-4.7 4.4-6.3 3.5-6.6 2-7.4 1zM324.8 377.5l6.5-.7 5-1.1 5-2 4-2.4 3.5-3 2.9-3.8 2.4-5 1.5-5 2.2-15.2 2.5-10 .7-4.8 0-10-1.2-11.5-1-4.8-1.7-4.2.2-.5-2.5-2.3-2.5-1.5-6.5-2.3-6-.8-7 .3-15.9 3.1-16.6 2.1-6.5 1.7-6 2.8-5 4.2-3.8 5.7-2 6-.9 5.5-.1 5.5 2.5 25.5 2 8.5 1.5 3.5 2.5 4 2.8 3.3 3.5 2.8 4 2.3 4.5 1.8 4.5 1.2 6 .8 15 .3z"/>
<path fill="#8c3f39" d="M371.8 361.1l-.5.4-.5-.1-.5-.9-3.9-15-1.4-8-.7-1.4-1.9-2.1-.7-1.5-.4-20.4-1-9.5-1.9-9.1.7-1-3-4.5-.8-2.7-8.5-1-12-3-20.5-1.1-.9-1.7-1.1-.7-20.5-.1-4.5.6-2-.4-13.5.6-6-.1-7.3 1.1-3.7.2-1-.4-.5-.7.2-1.6.8-.7 1-.1 79.5-.5 23.5.6 1.5.5 12 6.7 1.3 1.5.8 2 .9 15.5.7 17.5.2 38-.4 1.7-2 .1-1.5 1.3z"/>
<path fill="#a04f49" d="M371.3 361.3l-.8-.8-3.9-15-1.2-8-2.3-4.5-.5-2-1.3-23.3-2.1-14.7.7-1-3.4-5-.8-1.5.1-.6-11-1.6-10-2.2-20.5-1-.8-1.6-1.2-.8-20.5-.1-4.5.6-2-.4-19.5-.2-4.7 1.4-6.3.6-1-.4-.5-.7.3-1.5.7-.6 1-.1 79.5-.5 23.5.7 1.5.5 11.6 6.5 1.4 1.5.8 2 1 15 .6 18 .3 38-.2 1.5-2 .2-2 1.6z"/>
<path fill="#b45e58" d="M371.3 361.2l-.7-.7-3.8-15-1.1-8-2.1-5-.6-2.5-1.2-20.2-2-16.8.5-1.4-3.9-5.6-.6-1.5-9.5-1.2-11.5-2.4-20.2-.9-1.3-1.8-1-.5-20.5-.3-4.5.7-2-.5-19.5-.4-5.4 1.8-5.6.6-1-.5-.3-.6.2-1.5 1.6-.6 79.5-.5 23.5.8 1.2.3 11.8 6.8 1.2 1.2.8 2 1.1 15.5.6 17 .4 38.5-.1 1.2-.4.3-2.1.4-1.5 1.3z"/>
<path fill="#c86e68" d="M371.8 360.6l-.5.4-.5-.5-3.7-15-1.1-8-2.6-7.5-1.6-23-1.6-14.5.6-1-5-7.2-8.5-1.1-12.5-2.4-20-.9-.5-.1-1-1.7-1-.5-20.5-.3-4.5.7-2-.5-17.1-.5 1.5-.5 65.1-.5 23.5.9 1.5.5 11.5 6.7 1.1 1.4.7 2 1.1 16.5 1 54-.4 1.3-2 .4-1 .9zM259.3 279.1l-4.5.4-1-.5-.2-1.5 1.2-1 10 0 .7.5-6.2 2.1z"/>
<path fill="#d27670" d="M371.3 360.7l-.5-.8-3.4-14.4-1-8-2.1-5.5-.7-3-1.3-19.4-1.8-17.1.4-1-5.1-7.4-9.5-1.3-11.5-2.1-20-1-.5-.1-1-1.6-1-.5-20.5-.4-4.5.7-2-.5-10.8-.3 6.1-.5 54.2-.4 23.5 1 12.9 7.4 1.1 1.5.4 1.5 1.3 16.5 1 54-.2 1.1-2 .5-1.5 1.1zM258.8 279l-4.5.2-.6-.7 0-1 1.1-.9 8 0 2 .4-6 2z"/>
<path fill="#85bc42" d="M324.8 403.5l-36-.2-23-9.6-2-1.2-1.2-1.5-10.3-25.3.7-78.2-.2-4.5.1-1 .7-1 3.2-.7 13.5.2 15-1.3 2 .2 4.5-.5 20-.2 1 .3.3 1-.1 1-.7.4-20 2.6-13.6 4.5-6.6 7-2.3 11.8-1.5 12.7 2.3 33 5.7 12.1 6.8 10.9 7.5 2.5 9.5 2.5 20.2 3.9 17.9-1.9 11.6-2.2 12-8.1 1.6-.7 6.1-8.5 4.3-2.7 1.8.2 1.1 1-.5 4.5-2.8 12.5-1.6 1.8-8.2 6.2-2.1 2 2 0 10.8-2.9 2 .1 1.5 1 1 1.7-.1 2.6-1.4 1.8-21.5 9-31 1.2zM261.1 287l7.2-4.5.5-.6-2-.4-5.7 3-.8.8-.2.7.2 1.2.8-.2zM277 385l-12.7-19-2-2.6-.1.6 1.1 2.3 9 16.8 2.7 1.4 2 .5zM301.4 393l.4-.5-4.1-1.5-15-4.5-5-1 13.6 7.2 10.1.3z"/>
<path fill="#6aad44" d="M324.3 403l-35-.3-23.5-9.7-1.5-1-1.2-1.5-10.3-25 .6-78-.3-4.5.9-2 3.3-.7 8 .2 2.6.5-1.6.3-6 3.3-.6 1.9.1 1.6.5.6 2-1.8 7.6-4.9.5-.5-.6-.5 4.5-.8 11.5-1 1.5.3 4.5-.4 20-.2 1 .4.3.7-.3 1-.5.3-19.5 2.4-14.5 4.6-6.6 6.7-2.4 14.5-1.2 10.5 2.3 33 5.4 11.4 7 11.6 7.5 2.5 9.4 2.5 20.6 4.1 18.8-2.1 11-2 12.7-8.3 1-.4 5.6-8.3 1.1-1 3.3-2 1.6 0 1.1 1-.5 4-3.2 13-1 1.1-10.5 7.9-2.2 2 .7.4 2-.4 12-3.3 2-.1 1.5.7 1.1 1.7 0 2-1.1 1.7-21.5 9-31.5 1.3zM306.3 393.5l-3.5-1.5-25.5-7.8-1.3-1.2-12.7-19.7-1-1.3-.5-.3-.2.3-.3 2 11 20 19 9.3 11.5.5 3.5-.3z"/>
<path fill="#6db967" d="M327.3 402.5l-7.5.3-30.5-.5-23.5-9.8-2.2-2-10.5-25 .6-78-.4-4.5.2-1 .7-1 3.1-.6 7 .1 1.8.5-6.3 3.8-.4 1.7.4 3.4 2.5-2.6 8.2-5.3 1-1 2.8-.8 11.5-.9 1.5.3 24.5-.5 1 .4.2.5 0 .5-.7.7-19.5 2.4-14.5 4.5-6.8 6.9-2.2 13.5-1.3 11.5 2.2 33.5 6.1 12 6.5 10.7 16.5 4.8 21 4.2 19.7-2.2 10.3-1.8 13.7-8.7 5.6-8.5 1.1-1 3.6-1.9 1.8.4.3 1-.4 2.5-3.1 13-.5 1-1.1 1.2-12.5 9.3-1.3 1.5 2.2 0 15.6-4.2 1.7.7 1 1.5 0 2-1 1.5-21.2 8.8-28.5 1.2zM308.9 394l-3.3-1.5-28.3-8.7-1.2-1.3-13.3-20.6-1-1.1-.5-.1-.4 3.3 10.9 20.3 19.5 9.4 14 .6 3.6-.3z"/>
<path fill="#70c58a" d="M331.3 402l-11.5.5-30.5-.6-23-9.6-2.2-1.8-10.7-25 .6-78-.5-4.5.2-1 .7-1 2.9-.6 8.3.6-5.3 3-.9 1-.3 2.5.7 4.5 1.3-3 1.2-1.3 9.8-6.7 1.7-.6 12-1 1.5.2 24.5-.2 1.1.6.1.5-.7.7-19.7 2.3-14.3 4.4-7 7.1-3.5 25 2.2 33.5 6.3 12.2 6.5 10.7 16.5 4.7 21 4.2 13.5-1.3 16-2.4 14.5-9.1 5.1-8 1.4-1.5 3.5-1.7 1.6.2.4 1-.2 1.5-3.4 14-.6 1-13.8 10.5-2 2 .5.4 2-.3 16.5-4.5 1.5.7 1 1.6-.1 1.6-.9 1.2-21 8.7-24.5 1.1zM310.6 394.5l-.1-.5-4-1.5-28.7-8.6-1.8-1.9-13.2-20.5-1.5-1.6-.5.5 0 4 10.7 20.1 19.5 9.5 14.8.7 4.8-.2z"/>
<path fill="#74d1ad" d="M323.8 402l-34.5-.4-23-9.7-2.1-1.9-10.5-24.5.5-78-.6-4.5.2-1 .8-1 2.7-.5 7.6.5-.3.5-4.3 2.3-1.3 1.7.2 6.5.6 2.2.9-3.7 1.6-2.5 11.3-7.5 12.2-1.1 1.5.3 24.5-.1 1 .4.1.5-.6.6-20 2.4-14 4.2-7.1 6.8-3.5 25.5 2.1 33.5 6.5 12.5 6.4 10.5 16.6 4.7 21 4.3 14-1.5 15.5-2.2 14.7-9.3 5.1-8 1.4-1.5 3.8-1.7 1 .2.3.5-.5 3.5-3.4 13-1.4 1.5-13.5 10-2 2 .5.5 2.5-.4 16.5-4.7 1.5.4 1.1 1.2.1 1.5-.9 1.5-20.8 8.6-32 1.4zM311.7 395l.7-.5-3.5-1.5-31.1-9.3-1.3-1.2-13.7-21.4-1-1.3-1-.5-.4 1.7.1 3.5 10.8 20.3 19.5 9.5 15.5.8 5.4-.1z"/>
<path fill="#77ddd0" d="M326.8 401.5l-7 .3-30.5-.7-23-9.6-1.6-1.5-10.7-24.5.5-77.5-.7-5 .2-1 .8-1 2.5-.4 5.9.4.7.5-4.1 2.4-1.1 2.1.4 8 .2 1.5.5.5 1.1-5.5 1.1-2 11.9-8 11.9-1 1.5.3 24.5 0 1 .5-1 .8-19.5 2.3-13.8 4.1-7.6 7-3.4 25.5 2.2 33.5 6.5 12.5 6.4 10.5 16.7 4.8 21 4.3 13.5-1.4 16-2.2 14.9-9.5 5-8 1.4-1.5 3.7-1.5.7 0 .5.5-.5 3.5-3.1 12-.6 1.2-14.9 11.3-3.3 3 .7.3 3.5-.6 17-4.8 1 .1 1.1 1 .2 1.5-.8 1.2-20.5 8.4-29 1.4zM312.1 395.5l1.7-.5-1.4-1-2.8-1-31.8-9.5-1.4-1.5-14.1-22-1-1.1-.9.1-.4 2 .2 3.5 10.6 20.5 20 9.8 21.3.7z"/>
<path fill="#6cc8cf" d="M326.3 401l-6.5.3-30.5-.8-23-9.5-1.1-1-10.9-25 .5-77-.9-5 .2-1 .9-1 2.3-.4 4.9.9-2.4 2.2-1.5 2.8.3 7 .7 4.2.5-.1 1.3-7.1 1.2-2 11.9-8 11.6-.9 1.5.3 24.5 0 .9.6-1.4.6-19 2.2-14.3 4.2-7.3 7-3.3 25.5 2.2 33.5 6.5 12.5 6.3 10.5 17.9 5.2 20 4 13-1.3 16.5-2.2 15-9.5 5-8.2 1.4-1.5 4.1-1.5.6.5-.4 3-3.2 12.5-1 1.6-17 12.7-1.5.6-6.2 1.1.9.5 7.3 0 20-5.1 1.2.6-.2 1.2-20 8.8-29.5 1.5zM313.3 396l1.5-.4.2-.6-4.8-2-32.4-9.7-1.2-1.3-14.3-22.3-1.5-1.5-.6.3-.5 2 0 4 11.1 21.1 20 9.8 17.5.7 5-.1z"/>
<path fill="#59a0ba" d="M320.8 399.5l-3-.1-3.7-.9 2.3-2.5-.5-1-2.1-1-36-10.8-1.1-1.2-14.4-22.6-1-1.2-1-.4-.8.7-.3 1-.1 5 11 21.5 13.9 7.5 3.1 2 2 2-1.8.2-5.9-1.7-14.3-5.5-1.3-1-10.9-24.5.1-45 1.1-31.5-1.8-3.7-.3-1.8.3-1.1.9-.9 3.1-.1 1.9 1.1-.2 1-2.9 5 .9 7.5 1.3 4.1.5-.6.5-2.2.8-5.8 1-2 12.2-8.4 11-.9 2 .3 23.5 0 1.5.1.3.4-1.8.6-18.5 2.1-14.5 4.3-7.2 7-3.3 25.5 2.1 33.5 6.6 12.5 6.3 10.6 17.5 5.1 20.5 4.1 30-3.6 14.5-9.3 5.1-8.4 1.4-1.5 4-1.3.5.3-.3 3-3.9 13.5-16.8 12.7-2 1-13 1.8-3 1 1.5.8 7 1.7-24.5 2z"/>
<path fill="#4779a5" d="M323.3 396.5l-3 .5-1.5-.2-2.2-1.8-3.7-1.5-34.6-10.2-1.4-1.3-15.1-23.5-1-1-2-.4-.6-.6-1.2-11.5-1.5-25 2.1-16.5.7-2.1 1-.2.5-.9 1.5-9.3 1-2 12-8.3 11-1 2 .3 22 .1 3.1.4-1.6.5-18.5 2.1-14.5 4.2-7.3 7.2-3.4 25.5 2.2 33.5 6.3 12 6.7 11.3 17.5 5 20.5 4.2 30-3.6 14.6-9.4 5.1-8.5 1.3-1.4 4-1.3.5.5-.8 4.2-3.5 12-17.2 12.8-1.5.6-16.2 2.1-13.3 2.5zM257.3 286.3l-1.5 0-1.4-1.8-.2-2 .5-1 .8-.5 2.8 0 1.3 1-.4 2-1.9 2.3z"/>
<path fill="#345290" d="M321.3 396.1l-2 .1-5.9-2.7-35.4-10.5-1-1-14.7-23.1-2.7-2.9-1.6-11-1.9-24.5 1.8-14.5.7-2.5 1.2-2 1.7-10.5.6-1.5 1.2-1.3 11-7.4 11-1 26.9.7-5.8 1-14.1 1.5-14.5 4.2-7.5 7.3-3.3 25.5 2.2 33.5 6.8 13 6.3 10.4 17 4.9 21 4.3 30-3.6 14.7-9.5 5.1-8.5 1.2-1.3 4-1.2.4.5-2.7 11-1.7 5-17 12.6-1.5.6-18.5 2.3-13 2.1zM257.8 285.6l-1.5.4-1.5-.9-.5-2.6 1-1.3 2.5-.3 1.4 1.1 0 1.5-1.4 2.1z"/>
<path fill="#242e7e" d="M321.8 395.5l-2.5.2-7-2.7-34.1-10-1.1-1-13.9-22-3-4-1.7-11-2.1-24.5 1.7-13 1.7-4.9 1.8-11.6.7-1.5 1-1.1 11-7.5 11-1 26 .6-1.5.5-17.5 1.9-14.5 4.2-7.6 7.4-3.3 25.5 2.1 33.5 6.6 12.5 6.7 11.1 18 5.1 20 4 30-3.5 14.9-9.7 5-8.5 1.1-1.2 4-1.1.2.3-.8 4.5-3 10.5-.6 1-16.8 12.4-2 .7-30.5 3.9zM257.3 285.6l-1 .1-1-.3-.8-1.4.1-2 1.6-1 2.1.3.8 1.2-.3 1.6-1.5 1.5z"/>
<path fill="#323b92" d="M322.8 395.1l-3.5.2-7-2.5-34-9.9-1-.9-16.8-26-1.9-13.5-1.9-22 1.4-11 2.2-8.1 1.8-11.4 1.2-1.4 11-7.6 11-1 2 .3 22.5.2-.7.5-16.8 1.9-14.5 4.1-7.6 7-.1.5-3.4 25.5 2.2 33.5 6.6 12.5 6.8 11.2 17.5 5 20.5 4.1 30-3.5 15-9.8 6-9.6 4.1-.9-.6 3.7-3.2 11.3-.6 1-16.7 12.3-2 .6-29.5 3.7zM257.8 285l-1.5.5-1.5-1-.2-2 .6-1 2.1-.4 1.4.9.1 1.5-1 1.5z"/>
<path fill="#4048a6" d="M320.8 395.1l-1.5 0-6.5-2.3-34.5-10-1-1-16.5-25.8-1.8-12.5-2-23 1.4-11 1.9-7 2-12.5 1-1.2 11.2-7.8 10.8-1 2 .3 20 .2 1.1.5-16.1 1.8-14.5 4.1-7.8 7.1-3.4 26 2.2 33.5 7.7 14.5 5.8 9.3 17.5 5 20.5 4.2 30-3.5 14.7-9.5 5.8-9.5 1-.8 3.5-.5-.8 4.3-3.1 10.5-.6 1-16.5 12.1-2 .7-31.5 3.8zM257.3 285.1l-1.5 0-1-1.1-.1-1.5.8-1 1.8-.2 1.2.7-.1 2-1.1 1.1z"/>
<path fill="#4f55b9" d="M322.8 394.6l-3.5.2-41-12.1-1-1.1-16.2-25.6-2-14.5-1.9-21.5 1.3-9.5 1.9-7.5 1.6-11.5.5-1.5.8-1 11.5-8 10.5-.9 19 .4 3.3.5-15.3 1.7-14.5 4-8 7.3-3.3 26 2.1 33.5 7.5 14 6.2 9.9 18.5 5.3 19.5 3.9 30-3.5 15-9.6 6-9.9 3.9-.6-.8 4-3.6 11.3-16.7 12.2-1.8.6-29.5 3.5zM256.3 285l-1-.5-.3-2 .8-.9 1.6-.1.9.8 0 1.4-.6.8-1.4.5z"/>
<path fill="#5d62cd" d="M321.3 394.5l-2 .1-41-12.1-17-26.5-2.2-16-1.7-20 1.2-9 1.9-7.5 1.6-12 .6-1.5.8-1 11.3-7.8 10.5-1 21.2.8-14.2 1.6-14.5 4-8.2 7.4-3.3 26 2.3 34 7 13 6.2 10.3 18 5.4 20.5 4.1 30-3.5 15-9.6 6-10 3.5-.7.3.5-4.3 14.5-17 12.5-1.5.4-31 3.6zM256.8 284.6l-1-.2-.5-.7 0-1.2.5-.5 1.5-.1.6.6-.1 1.3-1 .8z"/>
<path fill="#6469d7" d="M323.8 394l-4.5.4-40.7-11.9-1.3-1.4-15.8-25.1-2.2-17-1.8-19 1.3-8.5 1.8-7 1.7-13 .5-1.4 1-1.1 11-7.7 10.5-1 19.9.7-12.9 1.5-15 4.2-7.8 7.3-3.4 26 2.3 34 7.6 14 5.8 9.5 17.5 5.3 21 4.1 30-3.4 15-9.7 6-9.9 3-.6.6.2-.6 3.2-3.7 11.3-16.8 12.3-1.5.4-28.5 3.3z"/>
</g>
</g>
<g clip-path="url(#c30)"><g filter="url(#bl)">
<rect x="376.0" y="4.0" width="126.0" height="248.6" fill="#badd4e"/>
<path fill="#dde759" d="M455.5 95.5l-5.5.3-4.5-.4-4.5-1.1-4-1.6-3.5-1.8-3.5-2.6-2.8-2.8-2.5-3.5-2.7-6.3-1.1-3.7-.2-2.5.7-13.5 2.6-13.3 1.3-2.2 2.7-2.8 5.5-3.4 4-1.5 11.5-3.3 12-4.8 6-1.3 6-.6 3.5-1.1.5-.2.4-1-.8-2-5.5-1-31.1-2.1-50-.8-3.5-1.2-4-.4-2.5-1.5-3-.4-1-.8 0-2.6.5-.5 5.5-1.3 9.5-.8 78.5 0 15.5 2 1.5.6 1.5 1.3 8.9 11 1.1 3 1.5 18-.2 6-.3.8-2 .6-.8 1.1-1.6 10.5-1.1 1.8-1.5 1.1-1-.2-2-1.2-1 .5-1.5 4-2.7 12-2.2 5-1.7 2.5-6.3 4.5-8.6 4.4-10 1.1z"/>
<path fill="#f0e75e" d="M459 95l-9 .2-9-1.9-4-1.6-4-2.3-3-2.4-2.8-3-3.5-6-1.5-4-.9-4 0-10.5 1.5-10 2.3-7 3-3.5 3.9-2.8 5.5-2.4 12.8-3.8 12.7-5.2 5-1.1 10-1 .6-.7 0-1-1.5-3-7.1-1.1-30-1.9-50-.9-3.5-1.3-4.5-.4-1.5-.9-3.5-.5-1-.9 0-2.2.5-.6 1-.5 2.5-.1 2-.6 8.5-.6 79.5.1 15.5 2.1 2.5 1.5 8.9 11.3.9 2.5 1.6 18-.2 6-.1.5-1.6.9-.8 1.1-1.5 10-.7 1.6-1.5 1.3-1.5-.2-2.5-2.2-1 .7-2 5.3-2.8 13-1.6 4-1.7 2.5-5.2 4-7.6 4-1.6.7-6.5.8z"/>
<path fill="#edd05c" d="M462 94.5l-9.5.3-9.5-1.6-4-1.3-4-2-3-2-3.1-2.9-2.7-3.5-1.9-3.5-1.5-4-.9-4-.4-8.5 1.2-10.5 1.3-4.7 1.5-3.3 3-3.5 3.5-2.6 6-2.6 12.6-3.8 12.9-5.4 6-1.1 9.5-.3.6-.7 0-1-.6-2.1-1.2-1.9-.8-.6-7.5-1.1-29-1.7-50.5-1-3.1-1.1-4.9-.3-2-1-2.8-.2-1.2-1.2 0-1.6.5-.8 1-.5 2.5-.1 2-.6 9-.5 79 .1 15 2.1 1.5.6 1.3 1 8.7 11 .9 2.5 1.6 18.5-.2 5.5-.1.5-1.2.8-.9 1.2-1.5 10-1.1 2.1-1.5.6-2-1.2-1.5-2.2-.5-.1-.5.6-2.5 6.2-3.3 14.5-1.7 4-1.5 2-3.9 3-5.2 3-4.4 2-3.5.5z"/>
<path fill="#ebba59" d="M459 94.5l-9-.4-5-.9-4.5-1.3-4-1.7-3-1.8-2.9-2.4-2.3-2.5-2.1-3-2-4-2.1-8-.4-4.5.2-5.5 1.6-9.6 1.5-4 1.9-2.9 2.6-2.7 3.5-2.4 5-2.1 12.5-3.8 9.5-4.2 4.5-1.5 6.5-1 4.5-.1 4.2.3.6-.5.2-1-.8-4 .8-1.1-1 .7-2.5-1.6-8-2-78.5-1.9-3.5-.8-5-.3-2-.9-2.5-.1-1-.6-.5-.9 0-1 .6-1 .9-.5 2.5-.1 2-.6 9-.4 79 .1 15 2.1 2.5 1.4 8.6 11 1 2.5 1.6 18.5-.2 5.5-1.9 2.5-1.7 10.5-.9 1.5-1.5.5-2.1-1.5-1.4-2.7-.5-.2-.5.5-3 7.4-3.3 14.5-1.7 4-2 2.5-4 3-6.7 3.5-2.3.8-6 .7z"/>
<path fill="#e9a356" d="M461.5 94l-4.5.2-5-.3-9.5-1.8-4-1.5-3.5-1.8-3-2.1-2.8-2.7-2.2-3-1.9-3.5-1.5-4-1-4.5-.5-9 .4-4.7 1-5.3 1.7-4.5 2.7-4 3.3-3 4.3-2.3 13.6-4.2 10.9-4.7 5-1.7 7-.9 8.5.5.7-.7.6-3-1.3-4.1-2 0-9.5-3.2-77.5-1.5-9.5-.8-1.5-.7-3.7-.7-.7-1.5.7-1.5 5.2-1.1 8.5-.4 79.5.2 15 2.2 2.5 1.4 8.3 10.7 1 2.5 1.6 18.5-.1 5.5-1.8 2.5-1.7 10.5-1.3 1.8-1.5-.2-1.7-1.6-1.3-3-.5-.2-.5.4-3.4 8.3-3.2 14-2.6 5.5-3 3-4.7 3-5.6 2.4-4 .6z"/>
<path fill="#e78c53" d="M463 93.6l-9 .1-10.5-1.7-7.5-3.1-3.5-2.3-2.5-2.4-2.2-2.7-2-3.5-1.6-4-1-4-.6-4.5-.2-5 1.1-9.3 1.6-4.7 2.5-4 3.4-3.3 4.5-2.6 14-4.4 11-4.7 5-1.6 7-.8 3.5.1 4 .8 1.5-.3 1.5-1.8.1-.9-1-3-1.6-2.9-2-.1-9-3.1-78.5-1.5-9-.6-2-.9-3-.4-.7-1 .2-1.5 1-.7 2.5-.1 2-.7 8.5-.4 79.5.2 15 2.3 2 1 8.8 11.4.8 2 1.6 18.5-.1 5.5-1.6 2.5-1.6 10-.4 1.1-1 1.1-1.5-.3-1.5-1.4-1.5-3.6-.5-.4-.5.3-3.4 7.7-3.3 14.5-2.6 6-2.7 3-3.6 2.5-5.1 2.5-4.3 1.1z"/>
<path fill="#d6784c" d="M459.5 93.5l-9.5-.6-8.5-1.9-3.6-1.5-3.4-1.9-5.1-4.6-2.1-3-1.8-3.5-2.1-7.5-.6-9.5.3-4.5.9-4.4 1.8-4.6 2.7-4 3.5-3.1 4.5-2.3 13-4 11-4.7 5.5-1.7 4-.6 4-.1 6.5 1.2 2.5-1 1.6.3-1.1-3.5-2.5-5.6-2.5-.2-9-3-78.5-1.5-9-.5-2-1-3-.5-.6-1.2.6-1.2 3-.4 2-.8 8.5-.4 79.5.3 15 2.2 2.2 1.3 8.4 11 .8 2 1.6 18.5-.1 5.5-1.5 2.5-1.7 10.5-1.2 1.5-1.5-.2-1.6-1.8-1.4-3.8-.5-.3-.5.1-3.6 8-3.5 15-1.3 3.5-1.7 3-3.7 3.5-5.2 3-4 1.4-5.5.6z"/>
<path fill="#be6543" d="M461.5 93l-9-.2-9.6-1.8-6.9-3-2.9-2-2.6-2.4-2.1-2.6-1.9-3.4-2.5-7.5-.9-9.6.9-8.5 2-5.5 2.5-3.8 3.4-3.2 4.6-2.5 12.5-3.8 12-5.1 5.4-1.6 6.1-.5 3.5.2 4.5 1.1 2.5-.6 1.5.1.5-.4.2-.9-4.2-8.8-3-.4-8.5-2.8-78-1.4-9-.5-3-1.3-2.3-.3-.5-1 .5-1 2.8-.4 2-.9 8.5-.4 79.5.3 15 2.3 2 1.1 8.4 11 .8 2 1.6 18.5-.1 5.5-1.3 2.5-1.8 10.5-1.1 1.4-1 0-1-.6-1-1.3-1.5-4.3-1-.5-1.1 1.8-3.1 7.5-3.3 14.4-2.8 6.1-2.7 3-4.7 3-4.3 1.7-4.5.8z"/>
<path fill="#a5523a" d="M462 92.5l-8.5 0-6-.9-4.5-1-7-3.1-5-4-2-2.5-2-3.3-2.5-7.3-.7-4.4-.3-5.5.3-4.5.7-4.1 2-5.4 2.5-3.7 3-2.8 4.5-2.5 13.5-4.2 11-4.8 5.3-1.5 7.2-.5 7 1.5 2.5-.6 1.5.3.5-.3.5-1.9-4.5-9-3-.4-8.5-2.7-79.5-1.5-8-.5-2.5-1.8-1.6-.1-.4-.6.5-.4 1.5-.1 2.5-1.6 8-.3 80 .2 15 2.3 1.8 1 8.3 11 .9 2 1.6 18.5 0 5.5-1.3 2.5-1.8 10.5-1 1.3-1-.1-1-.6-.8-1.1-1.7-4.9-1-.6-.5.3-4.1 9.7-3.2 14-2.7 6-2.6 3-3.5 2.5-4.5 2-4.9 1z"/>
<path fill="#8d3f31" d="M461.5 92l-9-.2-9.6-1.8-6.7-3-2.8-2-2.4-2.3-3.5-5.2-1.5-3.6-1.1-3.9-.9-9.5.3-4.5.7-4 2-5.3 2.5-3.7 3.4-3 4.9-2.5 11.2-3.3 12.2-5.2 5.4-1.5 6.9-.3 7 1.7 2.5-.8 2 .2.8-2.8-4.3-9-3.5-.5-8.5-2.7-78.5-1.5-9-.5-1.3-.8-.4-1 .5-2 1.2-.6 9-.4 79 .3 15 2.4 2 1.2 8.2 11.1.7 2 1.5 18 0 5.5-1.1 2.5-1.8 10.4-1 1.3-1-.1-.9-.6-1-1.5-1.6-4.9-1-.9-.5.1-1.2 2.2-3.5 8.5-3.2 14-2.6 5.7-2.9 3.3-3.8 2.5-3.8 1.6-5 .9zM461.9 85.5l3.4-1 2.9-1.5 2.3-2 2-2.7 1.7-4.3 2.1-9.5 3.2-8.3 1.1-4.2.4-3.5-.2-3-.7-3-1.1-2.2-1.5-2-2-1.6-2.3-1.2-2.7-.7-4.5-.2-4.8.9-10.2 4.3-9.3 2.7-3.2 1.4-2.9 2.1-2.2 2.5-1.9 3.8-1 3.8-.3 6.4.8 6.6 2 5.5 1.5 2.4 2.2 2.5 4.3 3.1 6 2.1 8.5 1.2 6.4-.4zM460 79.5l-5 .4-6-.7-4.5-1.6-3.5-2.3-2.6-3.3-1.6-4-.7-4.5.1-5.5.6-2.5 1.4-3 1.8-2.2 2-1.5 2.5-1.1 7.2-2.2 7.8-3.2 3-.6 3 .1 4 1.4 2.5 2.3 1.6 4 .1 4.5-.9 3.5-2.3 6-1.7 7.5-1.2 3-1.3 2-1.8 1.6-2 1.1-2.5.8z"/>
<path fill="#772f29" d="M459 91.5l-8-.5-9-2-6.1-3-4.9-4.4-3.5-5.7-2.1-6.9-.5-4.5-.2-5.5.3-3.5 1-4.5 2-4.6 2.5-3.4 3.7-3 4.2-2 11.1-3.3 10.9-4.7 5.1-1.5 4-.6 3.9.1 7.1 1.9 2.5-1 2 .3.7-1.2.4-2.5-4.6-9.2-3.5-.5-8.5-2.7-78.5-1.4-9-.5-1.3-1.2.3-2.5 1-.5 9-.3 79 .3 15 2.3 1.8 1.2 8.2 11 .7 2 1.5 18 0 5.5-1 2.5-1.7 10.1-1 1.5-1.7-.6-1-1.5-1.8-5.4-1-1.2-1 .1-4.7 11-3.3 14.1-1.5 3.8-1.5 2.4-3.1 3.2-4.2 2.5-4.8 1.5-4.9.5zM459.6 87l4.4-.8 3.5-1.4 3-2 2.4-2.8 2.1-4.5 2.4-11 4.3-11.5.6-3.5 0-3.5-.5-3-1.1-3-1.3-2-1.9-2-2.5-1.5-2.5-.8-5-.5-5 .7-4 1.4-8 3.5-11.5 3.6-3.5 2.1-2.4 2.5-1.9 3-1.4 4-.8 6.5.7 8 2 6 3.3 5 4 3.2 5.5 2.5 7.5 1.5 7.6.3zM459.5 78.6l-4.5.3-6-.8-4-1.3-3.3-2.3-2.4-3-1.6-4-.7-4.5.2-5 .7-2.5 1.2-2.5 1.6-2 2.3-1.6 8.8-2.9 6.7-2.9 3.5-.7 3 .1 3.5 1.2 2.8 2.8 1.2 3.5-.1 4.5-3 8.5-1.5 7-1.2 3-2.7 3.1-2 1.2-2.5.8z"/>
<path fill="#8c3f39" d="M461 90l-7 0-7-1-3.8-1-5.6-2.5-2.8-2-2.3-2.2-2-2.6-2-3.8-2-7.3-.5-8.1 1-7.2 2-4.9 2.5-3.5 3.6-2.9 4.3-2 11.1-3.3 9.5-4.2 5-1.5 3.6-.5 3.9.1 4 .9 3.5 1.5 1-.3 2-1.8 2 .2.9-1.6.4-3-4.8-9.3-3.5-.5-8.5-2.7-78.5-1.4-9-.6-1.1-1 .3-2.5 1.3-.4 8.5-.3 79 .3 15 2.4 1.6 1 8.2 11 .7 1.8 1.6 18.2 0 5.5-.9 2.5-1.7 9.8-1 1.6-1-.1-1-.8-2.5-6.9-1.5-2-.5-.3-1 .3-5.3 12.9-2.7 12.3-2.5 5.8-2.5 3-3.4 2.4-3.5 1.5-5.1 1zM459 88.5l5-.7 4-1.4 3-2 2.8-2.9 2.4-5 2.8-12.2 4.2-11.3.7-4-.2-4-2.7-7.8-1-1.6-1.5-1.4-2.5-1.5-2.5-.8-5-.5-5.5.8-4.5 1.6-8.5 3.7-12 3.8-3.5 2.1-2.6 2.6-2.1 3.5-1.4 4-.8 7 .7 8 2 6.5 3.2 5 4.5 3.8 5 2.5 6.5 1.6 9.5.6zM458 78l-4.5 0-5.5-.9-3.5-1.5-2.8-2.1-2.1-3-1.3-3.5-.6-5 .4-4.5 1.9-4.5 1.5-1.7 2-1.3 8-2.6 7.5-3.1 3-.5 3 .2 3.4 1.5 2.2 2.5 1 3.5-.2 4.5-2.9 8-1.5 6.8-1.2 2.7-1.3 1.6-2 1.5-4.5 1.4z"/>
<path fill="#a04f49" d="M493.5 60.8l-1-.2-1.2-1.1-1.6-5.5-3.5-6.5-1.3-4-1.8-3-1-5 .2-3 .9-1.5 1.8 0 .5-.5 1.1-5-5.1-9.5-3.5-.5-8.5-2.7-78-1.3-9-.6-1.1-.4-.2-2.5.8-.7 9-.4 79 .3 15.5 2.7 1.3 1.1 7.8 10.5.7 2 1.5 18 .1 5.5-.8 2.5-1.6 9.5-1 1.8zM459 77l-4 .4-5.5-.7-3.6-1.2-3.1-2-2.3-2.9-1.4-3.6-.6-4.3.2-4.2.6-2.5 1.2-2.3 1.5-1.8 2-1.3 7.5-2.5 7-2.8 3-.6 2.5.2 3.2 1.1 2.3 2.3 1.1 3.2 0 4-2.7 8-1.4 6.2-1 2.6-2.5 3-4 1.7z"/>
<path fill="#b45e58" d="M493.5 60.6l-1-.1-1-1-1.4-5-2.8-6-1.6-5-1.9-3-.7-4.5.1-2.5.3-1 1.5-.4.5-.5.8-2.6.5-3.5-5.3-9.7-3-.3-9-2.8-80-1.4-7.5-.7-.6-.6 0-2 .6-.5 9-.5 79 .4 15.4 2.6 1.2 1 7 9.5 1 1.5.5 1.5 1.5 18 .1 6-.7 2-1.5 9.1-1 2zM458.5 76.1l-4 .3-5-.7-3.4-1.2-2.6-1.8-2-2.4-1.5-3.7-.5-3.6.1-4 1.6-4.5 1.3-1.6 1.9-1.4 7.1-2.4 6.3-2.6 2.7-.5 2.5 0 3 1 2.2 2 1.2 3 .1 3.5-.6 2.5-2.2 6-1.2 5.6-1 2.4-2.3 2.5-3.7 1.6z"/>
<path fill="#c86e68" d="M493.5 60.4l-1-.2-1.1-1.2-1.1-4.5-2.6-6-1.7-5.8-1.5-2.3-.4-5.4 1.9-3.3.9-6.2-4.3-8.5-1.1-1.4-3.5-.5-8.5-2.6-80-1.4-7.5-.8-.5-1.3.3-1 9.7-.9 78.5.4 15.5 2.8 1 .9 7.5 10.3.8 2 1.6 18 .1 6-2 10.6-1 2.3z"/>
<path fill="#d27670" d="M493.5 60.1l-1-.1-.8-1-1.4-5-2.1-5-2.1-7-.9-2 0-3.5 1.6-7 .4-4-5.2-10-3.9-.5-8.6-2.7-79.5-1.3-4-.9-3-.3-.9-.8.4-.6 8-1.1 79.5.4 15.4 2.8 8.6 11.5.6 1.5 1.5 18 .1 6-1.7 10-1 2.6z"/>
<path fill="#85bc42" d="M376 7.4l0-3.4 12.4 0-.7 1-.7.2-5 .4-1.5.7-3 .2-1.5.9zM380 94.6l-4 0 0-84 1.5.9 3 .3 1.5 2.2 4 .4 1.5.5.9 1.1.3 2-.3 56-.6 13-.8 4.2-1 1.7-1 .5-3 .2-2 1zM462 22.5l-7.5.5-59.5-.3-1.5-.3-1.3-.9-1-2.5.3-1.5.8-1 2.7-.7 45 .6 26.2 2.1 6.3.8.9.7-.3 1-1.1.4-10 1.1zM464 112.1l-3 .3-26-4.1-16.4-14.3-4.5-22 4.2-27.5 1.2-1.8 1.5-.4 1 .4.7.8.2 1-2.2 10-.9 17.5 5.2 16.4.9 1.6 11.6 8.2 1-.9 1.5-.6 10-.2 15.5-1.8 8.2-4.2 7.7-5 10.2-17 1.1-4.5 2.6-4 1.7-10.9 1.5-.9 1.4.8.4 1 .3 20.5-1.4 4 1.5 1.5.5 1 .2 1.5-8.5 24-1.4 1.7-2 1.1-25.5 6.8zM496.5 181.2l-1.3-.2-.5-1-1-65 .3-1.5.8-1 2.2-.8 1.5.3 1 .8.8 2.2-2.8 61.1-.2 3.9-.8 1.2z"/>
<path fill="#6aad44" d="M376 7.3l0-3.3 11.2 0-.2.5-1 .5-3.5.1-2 1.1-3 .2-1.5.9zM380 87.7l-4 .1 0-77.1 1.5.9 3 .3 1.5 2.6 4.5.7.7.8.2 1-.2 49.5-.4 12.5-.4 2.5-.9 2.2-1 .6-2.5.5-2 2.9zM459 21l-64-.3-1.4-.7-.3-1 .3-1 1.4-.7 45 .2 20.3 2 2.6.5.2.5-4.1.5zM463.5 111.6l-2 .3-26-3.9-2.5-1.8-13.9-12.2-.8-2.5-3.7-19.5 4.4-27.4 1-1.3 1.5 0 .6 1.2-1.5 5-.8 5-.5 17.5 5.8 18 12.4 8.9 1-1.3 1-.6 10.5-.4 15.5-1.7 8.5-4.4 7.5-4.9 10.5-17.1 1.2-5 2.6-4.5 1.2-9.8 1.5-.9 1.3.7.4 21.5-1.6 4 2 2 .3 2-8.7 24-1.2 1.3-1.5.8-26 7z"/>
<path fill="#6db967" d="M376 7.1l0-3.1 6.2 0-.4 1-1.1 1-3.2.3-1.5.8zM380 82.1l-4 .3 0-71.5 1.5.8 3 .3 1.8 4.5-.2 47-.8 14-.7 3.5-.6 1.1zM464 111.1l-2.5.3-26-3.8-16-13.6-.6-1.5-1-5-2.6-15.5 1.2-6.9 1-3 .5.8.5 3.5.1 5.6 6.1 18 12.3 9.1.5.3.8-1.4 1.2-.9 10.5-.3 15.5-1.8 8.7-4.5 7.8-5.1 10.2-16.9 1.2-5 2.5-4.5 1-9.5 1.1-1.1 1 .1.7.5.3 1 0 20.5-1.7 4 2 2 .4 2-8.7 23.5-1 1.3-1.5.9-25.5 6.9zM485 96l0-1.2-1 .2-1.2 1 .7.3 1.5-.3z"/>
<path fill="#70c58a" d="M376.5 6.6l-.5.4 0-3 5.6 0-.2 1-.9 1-4 .6zM380 77.5l-4 .4 0-66.9 1.5.8 3 .4 1.1 3.8-.2 49.5-.5 8.5-.9 3.5zM463 111l-1.5.1-24.5-3.4-2-.7-15.5-13.6-2.5-12.9-.3-4 .3-1.7 1-.2 1.5 1.7 5 13.9 13 9.6.5 0 .2-1.3 1.3-1.3 10.5-.3 15.8-1.9 7.7-4 8.5-5.3 10.4-17.2 1.3-5.5 2.5-4.5.7-9 1.1-1 1 .1.9 1.4-.1 20.5-1.8 4 .1.5 1.9 1.5.4 2-8.8 23.5-1.1 1.3-1.5.7-26 7zM482.7 97l2.3-.5.8-2-.8-.2-1 .4-3.1 2.3 1.8 0z"/>
<path fill="#74d1ad" d="M376 6.8l0-2.8 5.3 0-.1 1-.7.8-3 .3-1.5.7zM379.5 74.1l-3.5.1 0-63 1 .6 3.5.6.8 3.1-.2 48-.6 8.9-.5 1.3-.5.4zM463.5 110.5l-1.5.3-2-.2-23.5-3.3-1.5-.6-15.1-13.2-1.7-9-.2-2.5.5-1.5.5-.4 1.5 1 3.8 9.4 13.7 10 .3-2 1.2-1.2 10.5-.3 16-1.9 7.7-4.1 8.3-5.1 10.5-17.2 1.3-5.7 2.6-4.5.6-9 1-1 1 .1.8 1.4-.1 20-1.9 5 2.2 1.9.2 1.6-9 23.5-.9 1-1.3.7-25.5 6.8zM482.3 97.5l3.2-.9.7-2.6-.7-.1-1.5.6-4.4 3 .4.3 2.3-.3z"/>
<path fill="#77ddd0" d="M376 6.6l0-2.6 5.1 0-.6 1.6-3 .3-1.5.7zM379.5 70.8l-3.5.1 0-59.5 1 .5 3.4.6.7 3-.2 45.5-.4 7.5-.5 1.9-.5.4zM464 110l-2.5.4-26-3.8-15-13.1-.6-1-.4-3.2.3-3.3 1.2-.4 1 1 2 4.2 14 10.1.5.1.2-.5-.4-1 .1-1 1.1-1.1 10.5-.3 16-1.9 7.9-4.2 8.2-5 10.4-17 1.4-6 2.6-4.5.6-9 .9-.9 1 .1.8 1.3-.3 20-.3 1.5-1.6 3.5 1.9 1.7.5 1.5-9 23.5-2 1.6-25 6.7zM481.8 98l3.9-1 1.1-2.5-.2-1-3 1-5.2 3.5.6.5 2.8-.5z"/>
<path fill="#6cc8cf" d="M376.5 6.1l-.5.3 0-2.4 4.8 0-.4 1.5-3.9.6zM379.5 67.6l-3.5.1 0-56.1 1.5.7 2.6.2.7 3-.1 43.5-.3 5.5-.4 2.4-.5.7zM462.5 110l-26.5-3.5-11.7-10.5-3.3-3.5 0-.6.5-.8 1.9.4 14.6 9.9.5 0 1-.4-.5-.3-.7-1.7.5-1 .7-.5 10.5-.3 15.5-1.8 7.5-3.8 9.2-5.6 10.4-17 1.4-6 2.7-4.5.4-9 .9-.9 1 .2.7 1.2-.3 20.5-2 4.5.1.5 1.8 1.5.3 1.5-9 23-.9 1-1.1.5-26.1 7zM479.4 99l6.6-1.7 1.3-2.8 0-1-1.3-.2-2.7 1.2-4.9 3-1.2 1.5 2.2 0z"/>
<path fill="#59a0ba" d="M376 6.2l0-2.2 4.6 0-.1 1-.5.4-3 .3-1 .5zM379 64l-3 0 0-52.2 4 1 .6 2.7-.1 41.5-.5 5.8-1 1.2zM463.5 109.1l-2 .2-25.1-3.3-4.4-4-1.6-2-.6-1.5.2-.4 2 .5 6 3.4 4 .3.5-.3-3-1.1-.8-.9-.3-1 .6-1.1 1-.4 10-.2 16-1.9 16-9.1 10.8-17.3 1.3-6 2.8-4.5.3-9 .8-.8 1 .1.6 1.2-.3 20.5-2.1 4.5 1.3 3-8.5 23.3-.7.7-1.4.5-24.4 6.6zM478 100l8.2-2 1.7-3 .2-1.5-1.1-.6-2.1.6-6.8 4-2.2 2 .6.6 1.5-.1z"/>
<path fill="#4779a5" d="M376.5 5.5l-.5.2 0-1.7 4.3 0-.3 1-3.5.5zM379 58.8l-3 0 0-46.5 3.5.7.5.7.3 1.8-.2 37-.1 3.5-.5 2.3-.5.5zM468.5 105.1l-3.5-.2-3.5-1.3-12 .7-10-3.6-.7-.7-.3-1 .5-1 1-.4 10-.2 16-1.9 16-9 10.9-17.5 1.3-6 2.3-3.2.5-1.3.3-9 .7-.7 1 .1.6 1.1-.4 20.5-2.1 4.5-.1 2.5-7.4 14-1.1.9-3.8 1.1-6.9 4-2.6 2-2.7 3.3-4 2.3z"/>
<path fill="#345290" d="M468 104.1l-6.5-.8-11.5.3-10.5-3-.6-.6-.3-1 .4-.9 1-.4 10-.2 16-1.9 16.2-9.1 10.8-17.5 1.2-6 2.3-3 .7-1.5.2-9 .6-.7 1 .2.5 1-.4 20.5-2.1 4.5-.2 2-7.5 13.5-1.2 1.5-3.6 1.4-5.4 3.1-3.1 2-4.5 3.7-3.5 1.9z"/>
<path fill="#242e7e" d="M468.5 103.5l-2 .2-5-.7-12 .3-10-2.9-.5-.4-.3-1 .3-.8 1-.4 10-.2 16-1.9 16.4-9.2 10.7-17.5 1.2-6 2.4-3 .6-1.5.2-9 .5-.6.9.1.5 1-.4 20.5-2 4-.6 2.5-7.7 14-1.2 1-3 1.3-7.3 4.2-5.7 4.3-3 1.7z"/>
<path fill="#323b92" d="M469 103l-1.5.5-6-.7-11.5.4-10.5-2.9-.7-1.3.2-.7 1-.5 10-.2 16-1.7 16.5-9.3 10.7-17.6 1.2-6 2.9-4 .2-9.1.4-.9.9 0 .5 1-.4 20.5-2 4-.7 2.5-8.3 14.5-10.1 5.5-8.8 6z"/>
<path fill="#4048a6" d="M468.5 103l-1.5.3-5.5-.6-12 .2-10-2.7-.6-1.2.1-.5 1-.6 10-.2 16-1.7 16.5-9.3 10.8-17.7 1.2-6 3-4 .1-9 .4-.9.6-.1.7 1-.5 20.5-2.9 6.5-6.6 12-1.8 2.6-10 5.4-9 6z"/>
<path fill="#4f55b9" d="M467.5 103.1l-6-.6-12 .3-10-2.7-.5-1.1 1-1 10-.2 16-1.7 16.5-9.3 10.9-17.8 1.2-6 3-4 .2-9 .2-.7.5-.3.7 1-.6 20.5-2.9 6.5-7.5 13.5-.8 1-8.9 4.8-9 6-2 .8z"/>
<path fill="#5d62cd" d="M468.5 102.7l-1.5.2-5.5-.6-11.5.5-10.5-2.8-.3-1 .8-.7 10-.4 16-1.7 16.5-9.2 11-18 1.2-6 3.1-4 .1-9 .6-.8.5.2-.5 21.1-2.8 6-7.7 14-.9 1-10.6 5.8-8 5.4z"/>
<path fill="#6469d7" d="M468 102.7l-6.5-.5-11.5.5-9.9-2.7-.6-.4 0-.6 1.5-.6 9-.4 16-1.6 7-3.7 9.7-5.7 11-18 1.3-6.4 2.8-3.1.4-1.5-.1-8 .1-.5.7 0-.5 21-2.9 6-7.7 14-1 1-9.8 5.3-9 5.9z"/>
</g>
</g>
<g clip-path="url(#c31)"><g filter="url(#bl)">
<rect x="376.0" y="273.5" width="126.0" height="249.1" fill="#badd4e"/>
<path fill="#dde759" d="M449.5 384.5l-9.5.3-11.7-.8-10.8-1.5-7.9-2-3.1-1.2-3-2.6-4-4.3-4.4-5.9-.9-1.5-.6-2-1.8-8.5-3-27-.3-11 .4-9.5 1.1-8.1 1.5-4.8 1.6-2.6 2.2-2.5 2.4-2 2.7-1.5 8.4-2.5 11.7-1.7 3-1.2 4-.1.5-.5-.3-2 .8-1.2 1-.5 20.2-.3 4.8-.5 5.2-1.5 31.2 0 2.7 1 6.4.6 1.3.9.7 1.9-.6 2.6.6 1.3 0 53.2-4.8 19.5-2.7 8-3 5.1-3.8 5.4-7.4 5-6.3 3.5-1 .5-9.4 1.5-14.1 1zM499 398.1l-2 0-1.8-1.6-.8-6.5-2.8-4.5.4-1 1.5-1.5 3.5-1.5 1.5.5 1 1.5 1.7 11-.3 2-1.9 1.6zM433 480l-2 0-1.9-.5-29.1-13.5-1.8-1.5-13.2-14.5-.5 0-.5.8-1.1 3.7-.9 1.7-1.5.5-4.5 0 0-57.4 5 .2 1 .6.5.9.9 3.5.6 8.6.5 1 2.5 1.5 1.5 1.9 2.8 11.5 2.9 7.5 5.8 5.8 11 8.5 25 16.3 1.9 1.9 1.2 3.5-.7 3.5-.9 1.5-1.5 1.4-3 1.1z"/>
<path fill="#f0e75e" d="M446.5 384.5l-6.5.2-15.3-1.2-8.9-1.5-6.9-2-2.4-1.1-4.5-4-3.8-4.4-3.7-5.5-1.5-5.1-1.5-8.1-2.5-21.8-.3-6-.1-9.5.4-8 1-6.5 1.8-5 2.3-3.5 2.9-3 3.5-2.5 3.5-1.5 5.6-1.5 13.4-2.3 11.3-.2-4.8-.1-.5-.4-.9-1-.2-1 .3-1 1.3-1 24.3-.5 8.4-2 26.1 0 5 1.5 5.7.2 1.5.5.8.8.5 1.5-.4 1.5-1 1.5 1.6 2.5 0 49-5.8 23-3.3 9-5.4 8.3-7.4 5.2-7.1 3.8-11.5 1.8-15 .9zM498 397.1l-1-.3-.8-.8-1.5-6.5-2.3-4 .3-1 .8-1 2-1 1.5.1 1.2 1.4 1.8 10.5 0 1-.5.9-1.5.7zM433 475.2l-1.5.2-6-2.3-23.5-10.2-17-17.7-.5-.1-.5.9-1.2 6.5-.8 2-1.5.6-4.5 0 0-54.2 5 .2 1 .6.4.8.7 3.5.7 9 .7 1.2 1.8 1.3.7 1 3.2 12 2.4 7 15.9 16 16 10.9 9 6.6.7 1 .2 1.5-.4 1-1 .7z"/>
<path fill="#edd05c" d="M442 384.5l-11-.5-9-1-7.7-1.5-5.3-1.7-3-1.6-4-3.6-3.9-4.6-3.3-5-1.8-5.9-1.5-8.2-2.6-25.4-.2-9.5.3-8.5 1-6.6 1.7-4.9 2.7-4 3.1-3.2 3.5-2.5 5-2.2 7-1.6 9.5-1.3 12.5-.1 4.9-.6-10.9-.7-.7-.8-.2-1.5 1.4-1.4 25.5-.5 9-2.1 22.3 0 5.2 1.5 8.5.6 1.1.9.5 1.5-.4 1.5-1.5 1.5 0 .5 2.3 3.1 0 46.4-6.7 26-3.6 9-4.4 6.5-6.6 5-7.7 4.2-12.5 1.9-18.5.9zM498.5 395.6l-1-.1-2.3-6.5-1.9-3.5.2-1 1.5-1.1 1.3.1.8 1 1.4 8.7 0 2.4zM404.5 457.8l-5.5-4.4-12.5-12-.5-.9-1-4.3-.5 0-1.6 14.3-.7 2.5-1.2 1-5 0 0-52 4.5 0 1.5.9.8 3.1.7 10 1.8 3.5 4.5 19.5 13.1 15.5 1.7 2.5.2.5-.3.3z"/>
<path fill="#ebba59" d="M453.5 384l-13.5.4-7-.4-10.3-1-7.8-1.5-4.8-1.5-3.6-1.8-4.5-3.9-4-4.8-3.1-5-2-6.5-1.4-8-2.2-20-.5-11 .2-9.5.9-7 1.3-4.5 2.5-4.5 3.3-3.7 4-3.1 4.7-2.2 5.5-1.5 6.3-1 5.5-.6 13 0 5.9-.9-3.1-.5-9.3-.1-1-.9-.3-1 .3-1 1-.8 24-.4 3.4-.3 8.8-2 18.9 0 5.5 1.5 9.9.8 1.2 1.2.2 1.5-.9 1.5-1.5 1 .1.5 2.9 4 0 44.4-2.5 8.4-4.2 17.2-2.6 7.5-2.5 5-3.2 4.5-4.3 3.5-5.7 3.5-4 2-2.5.6-7.5 1.1-9.5.8zM381 453.2l-5 0 0-50.4 4.5.1 1 .3.7 1.3.4 2 .4 8.2.8 5.3-.4 21.5-.8 9-.6 1.9-1 .8z"/>
<path fill="#e9a356" d="M451 384l-11 .3-9.5-.6-10.2-1.2-6.7-1.5-4.6-1.7-3.5-2.1-4-3.7-3.6-4.5-2.7-4.5-2.3-7.5-1.4-7.9-2.1-19.6-.5-10.5.2-9 .9-7.3 1.5-4.7 2.6-4.5 3.4-3.7 4-3 5-2.3 5.6-1.5 6.4-.9 4.5-.4 13.5 0 6.7-1.2-1.5-.5-12.2-.3-.9-.7-.4-1 .4-1 .9-.7 23.1-.3 5.3-.5 9.4-2 15.6 0 8.6 1.9 8.5.5 1.1 1.1.2 1.5-.8 1.4-2.1 1.1 3.6 5.3 0 42.6-3 10.1-3.8 16-3 8.5-2.4 4.5-2.8 4-4.6 4-7.6 4.5-1.8.9-5.5 1.1-16.5 1.5zM380 452.5l-4-.1 0-48.8 4 0 1.4.4.6 1 .4 2.5.9 12.5-.4 24.5-.9 6.9-.5.7-1.5.4z"/>
<path fill="#e78c53" d="M447 384l-7 .2-11.5-.8-10-1.4-5.9-1.5-5.1-2.2-3-2.2-4-4-3.4-4.6-2.6-5.3-2-7.7-3-25-.5-11.3.3-9.2.9-6.5 1.8-4.9 2.9-4.6 3.6-3.7 4.5-3 4.5-1.9 5.5-1.4 5-.7 18.5-.4 4-.4 3.7-1-1.7-.6-13-.3-.8-.6-.4-1 .4-1 .8-.6 24.7-.4 4.6-.5 10.4-2 11.7 0 10.2 2 8.9.5 1.2 1.5-.2 1.5-1 1.1-2.2.9 4.2 6 0 41.1-3 9.8-4.3 17.6-3.5 9.5-3.3 5.5-3.2 3.5-5.6 4-6.1 3.2-10 1.8-16 1zM381 451.7l-5 0 0-47.4 5 .2.8 1 .4 2 .8 12.5-.2 22-.6 7.5-.5 1.5-.7.7z"/>
<path fill="#d6784c" d="M441 384l-9.9-.5-9-1-5.3-1-5.8-1.8-3.5-1.7-4.4-3.5-3.6-4-3-4.5-2.3-5.5-1.7-6.8-3-26.7-.4-10 .4-8.9 1-5.9 2.1-5.2 2.9-4.3 3.5-3.5 4.2-2.7 4.8-2 4.5-1.2 5.4-.8 19.1-.4 4.5-.6 3.6-1-.6-.5-1.5-.1-13.5-.4-.7-.5-.4-1 .6-1.2 1-.4 25.3-.4 16.5-2.5 7.2.1 11.1 1.9 9.9.7 1.1 1.3-.2 1.5-.9 1-2.7 1 4.7 6.7 0 39.6-3 9.7-4.8 19.5-2 5.5-2.1 4.5-3.3 5-3 3-5 3.5-5.8 3-11.2 2-20.8 1zM380.5 451.1l-4.5-.1 0-46 5 .3.6.7.4 2 .8 11.5-.2 23-.6 6.9-.5 1.2-1 .5z"/>
<path fill="#be6543" d="M453 383.5l-13 .4-6.8-.4-10.1-1-7.6-1.5-4.5-1.5-4.5-2.5-4-3.4-3.5-4.1-3.1-5-2.4-7-1.5-8-2.2-19.5-.5-10.5.2-9.8.9-6.2 1.5-4.5 2.6-4.5 3.5-4 4.5-3.3 5-2.3 5-1.4 4.5-.7 20.5-.5 4.5-.6 3.8-1.2-.4-.5-1.9-.2-14-.4-.6-.4-.4-1 .4-1 .6-.4 26-.5 13.5-2.1 5.5-.4 5.5.3 9.1 1.6 10.9.8 1 1.2-.2 1.5-1.3 1.1-2.1.4-.6.5 3.2 4.1 2 3.3 0 38.1-3.3 10.5-4.5 18.5-2.7 7.5-2.9 5.5-3 4-4.1 3.5-5.7 3.5-3.3 1.6-4.4.9-15.1 1.5zM381 450.1l-5 .1 0-44.4 5 .4.5.7.4 2.1.7 10.5-.2 22-.4 6.4-.5 1.7-.5.5z"/>
<path fill="#a5523a" d="M449 383.5l-9 .2-11.1-.7-7.9-1-6.6-1.5-5-2-3.9-2.5-3.8-3.5-3.2-4.1-3.2-5.9-2.3-8.1-3.1-24.9-.5-10 .3-9.5.8-6 1.9-5.5 2.8-4.5 3.7-4 4.4-3 4.7-2 5.5-1.4 5-.7 20.5-.5 4-.7 3.5-1.2-.3-.5-2.7-.3-14-.3-.6-.4-.3-1 .9-1.3 25-.5 15-2 5-.3 5.5.3 8.1 1.3 11.9.9.9 1.1-.4 1.8-1 .7-2.7.5-.5.5 3.6 4.5 2.1 3.6 0 36.6-3.7 11.8-4.3 17.9-3.4 9.1-3.1 5.2-3.2 3.8-4.6 3.5-6.4 3.5-3.5 1-6.2 1-14.6 1zM448.6 351.5l4.4-.9 3-1.5 2.2-2.1 1.8-3 4.9-18 0-5-1.4-3.9-1.7-2.1-2.1-1.5-2.7-.9-3-.3-4.5.6-7.5 2.3-9 .4-4.5 1.5-2 1.6-1.5 2.1-1.1 2.7-.4 3 1.2 13 .8 3.4 1.2 2.6 2.8 3.1 4.5 2.2 5 .7 9.6 0zM381 449.2l-1 .3-4-.2 0-42.5 4.5.2.6.5.4 1.5.9 10.5-.2 21.5-.3 5.5-.4 2-.5.7z"/>
<path fill="#8d3f31" d="M440.5 383.5l-9.4-.5-8.9-1-5.2-1-4.8-1.5-4.7-2.4-4-3.1-3.5-3.9-3-4.6-2.5-6-1.5-6.1-1.5-11-1.7-18.4-.2-8.5.4-7.5 1.1-5.5 2.4-5.5 3-4.2 3.5-3.3 3.9-2.5 4.8-2 5.3-1.3 5.5-.7 19.5-.4 4.5-.8 3.7-1.3-.3-.5-2.9-.3-14.5-.4-.8-1.3.8-1.2 24-.5 21-2.1 25.5 2.3.8 1.5-.6 1.5-3.9 1-.5.5 3.7 4.5 2.5 4.3 0 35.1-3.8 12.1-4.7 19.2-2 5.6-2 4.2-3.3 5-3.4 3.5-4.2 3-6.1 3.1-10.5 1.9-21.5 1zM451.5 354.5l4-1.1 3.5-2 2.5-2.7 2-3.8 4.7-16.9.8-4-.2-5.5-1.8-4.7-1.9-2.3-2.6-1.7-3-1-3.5-.3-5 .7-9.5 2.8-11 .5-3 .9-2.1 1.1-2.3 2-1.6 2.5-1 3-.5 3.5 1.5 15.5 1 3.8 1.5 3.2 1.6 2 1.9 1.6 2.5 1.4 3 1 6.5.8 8 0 4-.3zM380.5 448.3l-4.5-.3 0-39.7 3.5 0 1.3.7 1.2 7.8-.1 25.2-.4 4.8-1 1.5z"/>
<path fill="#772f29" d="M452 383l-12 .3-5.9-.3-10.5-1-7.7-1.5-4.3-1.5-4.6-2.5-4-3.4-3.5-4.1-3.5-6.2-2.5-8.1-1.5-9.6-1.7-15.6-.5-10 .2-9.3 1-6.3 1.5-4.2 3-5.2 3.2-3.5 4-3 5.4-2.5 5.7-1.5 4.7-.6 21-.6 5-1 3.4-1.3-.4-.5-3.5-.4-14.5-.4-.8-1.2.8-1.2 23.5-.4 21.5-1.9 25.4 2 .8 1.5-.7 1.5-4.2 1-.6.5 4.3 5.2 2.5 4.5 0 33.3-4.2 13.5-4.3 17.7-3 8.2-2.5 4.6-3.5 4.5-4.1 3.5-4.9 3-3 1.4-4.7 1.1-7.8 1-8 .5zM450.1 357l4.4-.7 3.5-1.3 3.1-2 2.4-2.7 2.8-5.8 4.9-18 .6-4 0-3.5-.4-3-1.1-3-1.6-2.5-2.1-2-2.6-1.4-2.5-.8-3.5-.4-3.5.2-4 .9-8.5 2.7-10.5.3-4.9 1-3.1 1.5-2.3 2-1.9 3-1.2 3.5-.4 6.5 1.5 14 1.5 5.5 2.8 4.4 3.9 3.1 5.1 1.8 5.5.7 12.1 0zM380.5 446.6l-1.3-.1-3.2-1.1 0-33.5 3-.4 1 .2 1 1.8 1 6-.4 23-.5 3-.6 1.1z"/>
<path fill="#8c3f39" d="M443 383l-17.4-1-6.4-1-5.5-1.5-4.5-2-4.3-3-3.9-4-3-4.4-2.5-5.3-2-7.3-1-6.3-2.2-21.2-.3-10 .5-8 1-4.8 2-4.8 2.5-4 3.8-3.9 4.5-3 4.8-2 4.4-1.1 6-.8 19.5-.4 5-1 4.6-1.7-.5-.5-4.1-.5-14.5-.4-.7-1.1.7-1.1 21.5-.3 23-1.9 25.6 1.8.7.5.3 1-.6 1.4-4.8 1.1-.5.5 4.3 5.2 3 5.5 0 31.2-4.2 13.6-4.8 19.3-2 5.7-2 4.2-3 4.6-3.5 3.7-4 3-6 3.1-9.9 1.9-19.6 1zM450 359l5-.7 4-1.4 3.5-2.2 2.5-2.7 1.8-3 1.4-3.5 5.2-19 .7-4 .2-4-.5-3.5-.9-3-1.4-2.5-2.2-2.5-2.8-1.8-3-1.1-3.5-.5-4 .1-4.5 1-9.5 3-11.5.4-5 .9-3.5 1.7-2.5 2.2-2.1 3.1-1.2 3.5-.6 3.5-.1 3.5 1.7 15.5 1.7 6 2.6 4.5 4.2 3.5 5.8 2.2 6 .7 12.5.1zM380.5 443.2l-1.1-.7-.5-2-.8-20.5.9-3 1.5-1 1 2 .1 2-.6 21.5-.5 1.7z"/>
<path fill="#a04f49" d="M451.5 382.5l-17 0-10.4-1-7.7-1.5-4.4-1.5-4.5-2.5-4-3.3-3.5-4.1-3.5-6.3-2.5-8-1-5.7-2-18-.7-10.1.2-9.5 1-6.4 1.5-4.3 3-5.2 3.2-3.6 4.1-3 5.4-2.5 3.8-1.1 5.9-.9 16.6-.2 5-.4 5-1.1 4.4-1.8-.6-.5-4.8-.7-14.5-.3-.6-1 .6-1 20.5-.3 24-1.7 25.5 1.6 1 1.2-.5 1.4-5.3 1.3-.7.5 5 6 3 5.9 0 28.7-4.7 15.4-4.3 17.6-3 8.2-2.5 4.7-3.5 4.6-3.9 3.4-5 3-3.4 1.5-4.1 1-8 1-8.1.5zM449.5 361l5.5-.6 4.5-1.4 4-2.3 3-3 2-3.2 1.4-3.5 5.6-20 .9-4.5.3-4-.3-4-.9-3.5-1.6-3-2.4-2.9-2.5-1.7-3.5-1.4-4-.7-4.5.2-4.5.9-11 3.4-11.5.3-5.5 1-3.5 1.5-3 2.4-2.2 3-1.6 4-.7 4 0 4 1.7 16.5 1.8 6.5 3 5 2 2.1 2.5 1.7 6 2.2 6 .8 13 .2z"/>
<path fill="#b45e58" d="M453.5 382l-13.5.3-6.3-.3-10.1-1-5.5-1-4.9-1.5-4.9-2.5-4.3-3.5-3.5-4.1-3.5-6.1-2.5-7.7-1.5-9.2-1.7-15.9-.6-10 .2-8.5 1.1-6.5 1.5-4.1 2.5-4.4 3.5-4 3.9-3 5.4-2.5 3.3-1 5.9-1 17-.3 5-.4 6.5-1.6 3.9-1.7-1-.5-4.9-.8-14.6-.2-.9-1 1-1 19.5-.2 25-1.6 25 1.6.8 1.2-.3 1-.5.4-5.5 1.1-.9.5.1.5 3 3 2.3 2.9 2 3.5 1.5 3.9 0 24.9-5.2 17.3-4.3 17.6-2.5 7.1-2.5 4.9-3.5 4.8-4 3.6-3.9 2.5-4.1 2-4 1-14.5 1.5zM453.5 363l6-1.3 5.2-2.7 3.8-3.7 3-5.3 6.8-24 1-5.5.2-4-.4-4-1-3.5-1.5-3-2.6-3.1-3.7-2.4-4.3-1.4-5-.5-7 1-12.7 3.9-11.3.3-4.5.5-3.5.9-3 1.5-3.4 2.8-2.3 3.5-1.5 4-.7 5 .1 6 1.9 16 1.3 5 2.1 4.5 2.3 3 2.7 2.3 3.5 2 4 1.3 8 1 11.5.2 5-.3z"/>
<path fill="#c86e68" d="M447.5 381.5l-7.5.1-10-.6-8.1-1-6.5-1.5-4.7-2-3.8-2.5-3.9-3.7-3-4-3-5.9-2-6.8-1.5-9.8-2-19.3-.2-7.5.4-6.5.8-4.8 2-5.5 2.5-4.1 3.7-4.1 4.4-3 4.6-2 6.2-1.5 4.5-.5 15.1-.1 5.5-.5 7.5-2.2 3-1.2.1-.5-6.6-1.4-15-.3-.5-.2-.2-.6.2-.6.5-.1 16-.2 28.5-1.7 10.5.3 14.5 1.3.6 1-.6 1.2-6.2 1.3-1.4.5-.2.5 3.8 3.7 2.5 3.3 2 3.7 1.5 4.2.5 2 0 17.6-1.5 6.4-4.8 15.6-3.7 15.6-3.5 9.5-3 5.1-3.5 4.1-4 3.2-5.6 3-3.2 1-5.7 1-16 1zM450.8 366.5l6.7-.7 5.5-1.7 5-3 3.4-3.6 2.2-3.5 1.8-4.5 3.6-14 3.2-10.5 1-5 .3-5-.4-4.5-1.3-4.5-1.9-3.5-2.6-3-3.3-2.3-4-1.5-5-.8-5.5.2-5.5 1.2-12.5 3.9-14.5.4-6 1.1-4.5 2-3.5 2.8-2.8 4-1.7 4.5-.8 4.5-.1 5 2.1 19.5 2.1 8 1.5 3 2 3 2.2 2.3 3 2.1 3.5 1.7 3.5 1.1 7.5 1.1 15.8.2z"/>
<path fill="#d27670" d="M484.5 281.6l-25.5-.3-16-2.6-13.1-.7 11.1-.2 23.5-1.9 10.5-.3 9 .2 9.1.7 5.9.8.7.7-.4 1-1.8.5-6.5 1.3-6.5.8z"/>
<path fill="#85bc42" d="M418 445.1l-5.5-.1-5.5-1.7-5.2-3.3-5.2-5-2.7-6-1.5-7.5.2-4.5 1.9-5.7.1-1.3-17.9-22.5-.7-1.5.6-105.5.7-2.5.9-1.5 1.8-1.5 2-.8 18-.1 20 1.3 1.5.4 1.4 1.7-.1 2-1.8 1.4-13.6 2.1-17.1 4-.1 6-1.7 16-.2 12 .4 9 3.3 27.2 1.8 8.3 5.7 7.5 6.7 7 7.7 2 7.6 1.4 18.5 1.7 18.5-.9 12.5-1.6 2-.4 3.5-1.7 11.5-7.1 8.5-12 1.5-.5 1 .2 1.4.9.5 1 0 2-3.6 14.5-5.2 4-1.7 2 .1.9 2.3 2.1.9 2 0 2.5-1.2 2.1-16.5 7.1-35 6.1-7.5.8-.5.4 0 1 2.6 6 .9 5.5-.3 5-1.5 5-3 5-3.7 3.7-5 3-5 1.4zM389.5 386.5l-3-5.3-2-2.2-.4 4 3.9 3 1.5.5z"/>
<path fill="#6aad44" d="M416.5 443l-4-.1-4.5-1.4-4.1-2.5-5.4-4.8-3-6.6-1.2-5.6.2-4 2.3-6 0-1.5-3-3-16.5-20-.9-2 .8-105 .5-2 1.3-1.9 1.5-1.2 2-.7 17.5-.1 20.5 1.1 1.5.8.8 1.5-.6 2-1.2.8-14.3 2.2-16.9 3.5-.1 8-1.4 16 0 12 .3 7.5 3.4 28 1.5 7.5 6.5 8.4 6 6.4 15.5 3.2 18.5 1.7 18.5-.9 13-1.7 2-.4 3.2-1.7 11.4-7 8.4-11.9 1-.4 1.5.1 1.4 1.2.4 1-3.9 16-5.1 4-2.2 2.5 0 .5 2.4 1.8 1.1 1.7.2 2.5-.8 1.7-2.5 1.4-14 6-35.5 6.2-7.5.4-2.2.8-.5.5-.1 1 2.8 5.6 1.1 5.4-.1 4.5-1.4 5-2.6 4.4-3.5 3.6-5 2.8-5 1.2zM392.1 389l-6.6-10.6-1-1.1-.5-.1-.3 2.8.1 3.5 7.2 5.5 1 .4.1-.4z"/>
<path fill="#6db967" d="M417.5 439.1l-4.5.3-4-.9-4-2.3-3.5-3.3-2.4-4.9-.6-3 .1-3 1.5-5 3.6-5 .3-1-6.5-1.6-3-1.9-17.2-20.5-.6-1.5.9-105 .5-2 .9-1.4 1.5-1.3 1.5-.6 18-.3 20 .9 1.5.5 1.1 1.7-.6 2-1.5.9-11.6 1.6-19.5 3.5-.1 10-1.1 16.5.1 13.5 2.1 22 2.1 13.8.7 3.7 6.7 8.5 5.9 6.5 16.2 3.2 18 1.6 19.5-1 13.5-1.8 6-3.2 9.4-5.8 8.1-11.7 1.5-.5 1 .2 1.2 1 .4 1-3.8 15.5-1.2 1.5-4.7 3.5-2.2 2.5 0 .5 2.8 1.5 1 1.6.3 2.4-1.3 1.7-15.5 6.9-35.5 6.2-9 .6-8.3 2.1-.3.5.2.5 3.7 4 2 4 .8 4-.3 4-1.7 4.5-2.6 3.5-3.5 2.6-4 1.5zM393.9 391l-2.9-5.1-5.5-8.2-1.5-1.7-.6 1.5-.1 6 8.2 6.6 1.5.9.9 0z"/>
<path fill="#70c58a" d="M417.5 437l-2.5.4-3-.1-2.5-.6-2.5-1.3-4-3.6-1.3-2.3-.8-2.5-.2-5 .6-2.5 1.2-2.5 3-3.5 5.4-3.5-2-.5-10.9-.7-2.5-1.1-17.9-20.7-.7-1.5.3-65.5.6-39.5.6-2 1.1-1.5 1.5-1.1 1.5-.5 17.5-.3 20 .9 1.5.5 1 1.5-.2 1.5-1.8 1.3-12.2 1.7-19.4 3.5.3.5-.1 8.5-1.1 20 .4 14.5 2.2 21 2.3 15 6.1 7.7 6.5 7.4 16 3.1 18.5 1.7 19.5-1 13.5-1.8 6-3.2 9.6-5.9 7.9-11.5 1-.5 1.5.1 1 .9.5 1-3.9 15.5-1.3 1.5-5.8 4.5-2.2 2.5.4.5 2.8.8 1.3 2.2-.2 2-2.1 1.5-13.5 6.2-35.5 6.3-8.5.4-12.8 1.6-2.6.5-.6.5 5 2.4 3.1 2.6 2.2 3.5 1.2 4.5-.5 4.5-2 4.3-3.5 3.4-4 1.8zM395.2 392.5l-1.7-3.5-7-10.5-2-2.7-1-.4-.4 2.1 0 6 8.9 7.5 2.5 1.6.7-.1zM407.8 397.5l1.2-.5-8.5-1.4-1.5 0-.2.4 1.2 1.7 7.8-.2z"/>
<path fill="#74d1ad" d="M416 408.5l-15 .1-3-.3-2-.7-1.5-1.3-16.5-19.3-.8-1.5.1-55.5.8-49.5 1.2-3 2.7-1.8 18-.5 20 .9 1.5.5.9 1.4-.2 1.5-1.7 1.2-19 2.8-12.5 2.1-.2.4.1 10.5-1 18.5.4 14.5 2.1 20 2.3 16 6.3 8 6.5 7.5 17.5 3.1 17 1.4 19-.9 14-1.9 6-3.1 9.7-6.1 7.8-11.4 1-.5 1.5.1 1.4 1.8 0 1-4 14.5-1.3 1.5-4.1 3-4.5 4-.5 1 .1.5 2 1.5.6 2-.9 1.5-4.9 3-7.4 3.4-34.4 6.1-25.1 2zM413 398l2.6-.5-15.6-2.3-3-1.3-11.5-17.3-2-2-.6 2.4.1 6.8 8.5 7.2 4.8 3.5 3.4 3.5 13.3 0zM414.5 436l-4.5-.7-4-2.4-1.8-1.9-1.1-2-1.1-4.5.6-4.5 2.4-4 2-1.8 2-1.2 4.5-1.1 4.5.7 4 2.4 1.8 2 1.2 2 1 4.5-.6 4.5-2.4 4-2 1.8-2 1.1-4.5 1.1z"/>
<path fill="#77ddd0" d="M415.5 408l-14.5.1-3-.3-2-.7-18-20.5-.5-1.1 0-55.5.7-49 .4-2 .9-1.4 1.5-1.3 1.5-.5 17.5-.4 20 .7 1.5.6.8 1.3-.2 1.5-1.6 1.2-31.9 4.8.1 11-.9 18.5.4 14.5 2.1 20 2.2 16 13 15.8 18 2.9 16.5 1.5 19-1 14-1.9 6-3.1 9.9-6.2 7.6-11.3 2-.5 1 .5.8 1.3 0 1-4.4 15-10.4 8.5-1 1.5-1.6 5-.9 1.5-4.6 3-2.8 1-34.1 6.2-25 1.8zM417.8 398.5l4.1-.5-4.7-1-16.7-2.1-3-1.2-12.5-18.2-1.5-1.4-.5.4-.4 3.5.2 6 13.2 11 3.5 3.4 18.3.1zM416.5 434l-4 .2-3.5-1.2-3-2.5-2-4-.2-4 1.2-3.6 2.5-2.9 4-2 4-.2 3.6 1.2 2.9 2.5 2 4 .2 4-1.2 3.6-2.5 2.9-4 2z"/>
<path fill="#6cc8cf" d="M417.5 407.5l-15 .2-5.6-.7-1.4-1-17.2-19.5-.5-1-.2-55.5.2-30 .6-3.5 0-15.5 1-3 1.1-1.1 1.5-.8 17.5-.6 20.5.7 1.5.6.7 1.2-.2 1.5-1.5 1.1-20.5 2.9-11.6 2 .1 11-.8 19 .4 14 2.2 20.5 2.1 15.5 13.1 16.1 18 2.7 16.5 1.5 19.5-1.1 13.5-1.8 5.5-2.8 10.5-6.5 7.5-11.3 1-.5 1 0 1 .5.7 1.2 0 1-4.5 15-10.6 8.5-5.6 6.9-3.9 3.6-34.5 7-8.1.4-7.5 1.2-8 .4zM425.1 399l2.3-.5-1.2-.5-6.1-1-19.1-2.2-2.5-.8-2-1.8-12-17.7-1-.9-.7.4-.5 3 0 7 17.2 15.1 25.6-.1z"/>
<path fill="#59a0ba" d="M419.5 407l-16.5.3-5.6-.8-1.4-1-17.7-20-.6-55.5.2-30 .6-3 .2-17 1.3-2.5 2-1.2 17.5-.6 20.5.6 1.5.6.7 1.1-.3 1.5-1.4 1-20.5 2.9-11.7 2.1.1 12-.8 18 .4 14 4.2 36 5.8 7.5 7.5 8.8 19.5 2.8 15 1.3 19.5-1.1 13.8-1.8 15.7-9.2 7.5-11.4 1-.6 1 0 1 .6.7 1.1 0 1-2.9 10-1.8 5-10.8 8.5-6.7 6.7-3.5 1.2-20.1 4.1-13.9 3.7-7.5.9-6.5 1.9-7 .5zM427.3 400l3.2-.3 1.7-.7-.8-.5-5.1-1-25.3-3-2.5-.8-1.8-1.7-12.2-17.8-1-1-.5 0-.7.8-.5 3-.1 7 17.3 15.8 28.3.2z"/>
<path fill="#4779a5" d="M441.5 400.6l-2.5-.2-2.9-1.4-4.1-1-31-3.7-2-.6-2-1.7-13-18.7-1-.5-2 1.1-1.3-1.4-.8-3.5-1.1-38.5.2-30.5.7-3.5 0-16 1.1-2.5 1.7-1.4 1.5-.4 16.5-.4 20.5.6 1.5.6.6 1-.3 1.5-1.3 1-20.5 2.7-11.5 1.9-.3.4 0 12-.6 17.5.3 14.5 4.1 36 13 16.1.5.4 18.5 2.6 16 1.4 20-1.1 13.5-1.8 15.5-9.1 7.5-11.5 1-.6 1 0 1.4 1.1.2 1.5-4.6 14.8-11.1 8.7-6.4 6.1-4 1.1-32.5 5.4zM419.5 406.5l-17.5.2-2.6-.7-1.2-1.5.9-1.5 4.2-1.5 4.7-.8 5.5-.3 5 .3 4 .7 3.3 1.6 1.3 1.5-.4 1-1.4.5-5.8.5z"/>
<path fill="#345290" d="M444 399l-3.5.4-9.7-1.9-31.3-3.8-2.3-1.7-12.7-18.4-1-1-2-.1-1.3-1.5-.5-2-.5-8.5-1.3-30 .2-30.5.7-3.5.1-16 .7-2 1.9-1.7 1.5-.4 16.5-.5 20.5.5 1.4.6.6 1-.2 1.5-1.3.9-32.5 4.6.1 12.5-.7 18 .4 14 4.1 36.5 13.1 15.9 18.5 2.8 16.5 1.5 18.5-1.1 15-1.8 15.6-9.3 7.5-11.5.9-.5 1 0 1.3 1 .2 1.5-4.5 14.6-11.4 8.9-6.1 5.6-2 .8-32 4.6zM415 406l-10.3 0-1.9-.5-.2-.5 1-1 2.4-1.2 6.5-1 3.5.1 3.4.6 2.5 1 1.2 1-.1.5-1.5.5-6.5.5z"/>
<path fill="#242e7e" d="M442 398.5l-1.5.2-11.7-1.7-27.8-3.1-1.5-.4-2.4-2-12.6-18.2-1-1-2-.5-.9-1.3-.4-2-1-13.5-1.1-24.5.1-30.5.8-3.5 0-16 .8-2 1.7-1.5 1.5-.5 16.5-.5 18.5.4 2.5.2.8.4.6 1-.2 1.5-1.2.8-20 2.6-12.6 2.1 0 13-.6 17.5.3 14 4.2 36.5 13.2 16.2 18.5 2.6 16.5 1.5 19-1.1 14.5-1.8 15.5-9.2 7.5-11.5 1.5-.7 1 .3.7.7.2 1.5-4.5 14.5-11.6 9-5.8 5.3-2 .8-34 4.4z"/>
<path fill="#323b92" d="M442.5 398l-2.5.2-38.5-4.4-2-.5-2.2-1.8-12.8-18.5-1-1-1.6-.5-.8-1-.6-2-.7-10-1.6-28.5.1-30 .8-3.5.1-16 .7-2 1.6-1.4 1.5-.4 16.5-.6 14 .3 7 .2 1.3 1.4-.2 1.5-1.1.8-20.5 2.6-12.2 2.1 0 13.5-.6 17 .3 14 4.1 36.5 13.4 16.5 20.5 2.7 14.5 1.3 19.5-1.2 14-1.8 15.5-9.1 7.5-11.6 1.5-.7 1 .2.7.7.2 1.5-4.7 14.5-11.7 9-6 5.3-1.5.5-33.5 4.2z"/>
<path fill="#4048a6" d="M443.5 397.6l-3.5.3-38.5-4.3-2-.6-2-1.6-13-18.7-3.1-2.2-.7-3-2.4-37.5.1-30 .9-3.5 0-16 .7-1.8 1.5-1.4 1.5-.5 17-.6 20 .4 1.1.4.7 1-.3 1.5-1 .7-20.5 2.6-12 1.8-.3.4-.6 30.5.3 14 4.1 36.5 13.5 16.7 19.5 2.5 15.5 1.4 20.5-1.3 13-1.6 16-9.6 7-11.2 1.5-.7 1.6.8.2 1.5-4.7 14.5-11.9 9-5.7 5-1.5.5-32.5 4.1z"/>
<path fill="#4f55b9" d="M441.5 397.5l-2 .1-39.6-4.6-2.4-2-13-18.6-1-1-1.5-.6-.5-.8-1.2-11.5-1.9-28.5.1-30 .9-3.5.1-16 .5-1.6 1.5-1.4 1.5-.5 17-.6 20 .3 1 .3.7 1-.2 1.4-1 .7-33 4.4-.5 31 .3 14 4 36.5 13.7 16.9 19 2.4 16 1.5 18.5-1.1 15-1.9 16-9.5 7-11.3 1.5-.8 1.5.8.2 1.5-4.8 14.5-12 9-5.4 4.8-1.5.5-34.5 4.2z"/>
<path fill="#5d62cd" d="M443 397l-3.5.3-39.5-4.5-2.2-1.8-13.3-18.9-2.8-2.1-.4-1.5-.5-6-2.3-32.5.1-30 1-3.5 0-15.5.6-2 1.6-1.5 1.7-.4 16.5-.6 20 .3 1 .3.6.9-.1 1.2-1 .9-19.5 2.3-13.7 2.1-.5 31 .3 14 4 36.5 13.4 16.8 18 2.5 17.5 1.7 19.5-1.3 14-1.7 16-9.5 7.1-11.5 1.4-.7 1.5.9.1 1.3-4.9 14.5-12.1 9-5.1 4.5-1.5.6-33 3.9z"/>
<path fill="#6469d7" d="M441 397l-39-4-2.1-.5-1.9-1.5-13.3-19-2.9-2.5-3.2-39.5.1-30 1.1-3.5 0-15.5.6-2 1.6-1.4 18-1 20 .3 1 .3.6.8-.1 1.1-1 .9-20 2.3-13 1.9-.3.3-.5 31 .3 14 3.9 36.5 13.6 17.2 20 2.6 15.5 1.4 20.5-1.4 13-1.6 16-9.5 7.2-11.7 1.3-.6 1 .3.5.6 0 1.4-5 14.3-12.5 9.2-5 4.3-36 4.5z"/>
</g>
</g>
<defs><path id="a00" transform="scale(.2)" d="M48 48l11-15m9 14l15-10m5 9l17-6m3 6l17-4m3 4l18-2m2 2l18-1m2 1l18-1m2 1l18-1m2 0l18 0m2 0l18 0m2 0l18 0m2 0l18 0m2 0l18 0m2 0l18 0m3 0l18 0m2 0l18 0m2 0l18 0m2 0l18 0m2 0l18 0m2 0l18 0m2 0l18 1m2-1l18 1m2-1l18 1m2-1l18 1m2-1l18 1m2-1l18 2m3-2l17 4m3-5l17 7m3-7l15 10m6-11l11 15m-593 11l7-17m12 17l12-15m8 14l15-10m5 9l17-6m3 6l17-4m3 4l18-2m2 2l18-1m2 0l18 0m2 0l18 0m2 0l18 0m2 0l18 0m2 0l18 0m2 0l18 0m2 0l18 0m3 0l18 0m2 0l18 0m2 0l18 0m2 0l18 0m2 0l18 0m2 0l18 0m2 0l18 1m2-1l18 1m2-1l18 1m2-1l18 1m2-1l18 2m2-2l18 3m3-4l17 7m3-7l15 10m6-11l11 14m9-14l7 17m-589 9l4-18m16 18l7-17m13 16l11-14m8 14l15-10m5 9l17-6m3 6l17-4m3 4l18-2m2 1l18-1m2 1l18 0m2 0l18 0m2 0l18 0m2 0l18 0m2 0l18 0m2 0l18 0m3 0l18 0m2 0l18 0m2 0l18 0m2 0l18 0m2 0l18 0m2 0l18 0m2 0l18 1m2-1l18 1m2-1l18 1m2-1l18 2m2-2l18 3m3-4l17 6m3-6l15 10m6-11l11 14m9-14l7 16m14-16l4 17m-586 9l2-18m17 18l5-18m15 18l7-17m13 16l11-14m8 14l15-10m5 9l17-6m3 6l18-4m2 3l18-1m2 1l18-1m2 1l18 0m2 0l18 0m2 0l18 0m2 0l18 0m2 0l18 0m3 0l18 0m2 0l18 0m2 0l18 0m2 0l18 0m2 0l18 0m2 0l18 0m2 0l18 1m2-1l18 1m2-1l18 2m2-2l18 3m2-4l18 6m3-6l15 9m5-10l12 14m9-14l8 16m13-16l4 17m16-17l2 17m-584 9l1-18m19 18l2-18m18 18l4-18m15 18l8-17m12 16l11-13m8 13l16-10m4 9l17-6m3 6l18-4m2 3l18-1m2 1l18-1m2 1l18 0m2 0l18 0m2 0l18 0m2 0l18 0m3 0l18 0m2 0l18 0m2 0l18 0m2 0l18 0m2 0l18 0m2 0l18 1m2-1l18 1m2-1l18 2m2-2l18 3m2-4l18 6m3-6l15 9m5-10l12 14m9-14l8 16m13-17l4 18m16-18l2 18m18-18l2 18m-584 9l1-18m19 18l1-18m19 18l3-18m17 18l5-18m14 17l9-15m11 15l12-13m7 12l16-8m4 8l17-5m3 4l18-2m2 2l18-1m2 1l18-1m2 1l18 0m2 0l18 0m2 0l18 0m3 0l18 0m2 0l18 0m2 0l18 0m2 0l18 0m2 0l18 0m2 0l18 1m2-1l18 1m2-1l18 2m2-3l18 5m3-5l15 8m5-9l13 13m8-13l8 15m12-16l5 18m16-18l3 18m17-18l2 18m18-18l1 18m-583 9l1-18m19 18l1-18m19 18l3-18m17 18l5-18m14 17l9-16m11 16l12-13m7 12l16-8m4 8l17-5m3 4l18-2m2 2l18-1m2 1l18-1m2 1l18 0m2 0l18 0m2 0l18 0m3 0l18 0m2 0l18 0m2 0l18 0m2 0l18 0m2 0l18 0m2 0l18 1m2-1l18 1m2-1l18 2m2-3l18 5m3-5l15 8m5-9l13 13m8-13l8 15m12-16l5 18m16-18l3 18m17-18l2 18m18-18l1 18m-583 9l1-18m19 18l1-18m19 18l3-18m17 17l5-17m14 17l9-16m11 16l12-13m7 12l16-8m4 8l17-5m3 4l18-2m2 2l18-1m2 1l18-1m2 1l18 0m2 0l18 0m2 0l18 0m3 0l18 0m2 0l18 0m2 0l18 0m2 0l18 0m2 0l18 0m2 0l18 1m2-1l18 1m2-2l18 3m2-3l18 5m3-5l15 8m5-9l13 13m8-14l8 16m12-16l5 18m16-18l3 18m17-18l2 18m18-18l1 18m-583 8l1-18m19 18l1-17m19 17l3-17m17 17l5-17m14 17l9-16m11 16l12-13m7 12l16-8m4 7l17-4m3 4l18-3m2 3l18-1m2 1l18-1m2 1l18-1m2 1l18 0m2 0l18 0m3 0l18 0m2 0l18 0m2 0l18 0m2 0l18 0m2 0l18 0m2 0l18 0m2 0l18 1m2-2l18 3m2-3l18 5m3-5l15 8m5-9l13 13m8-14l8 16m12-16l5 17m16-17l3 18m17-18l2 18m18-18l1 18m-583 8l1-18m19 18l1-18m19 18l3-17m17 17l5-17m14 17l9-16m11 16l12-13m7 12l16-8m4 7l17-4m3 4l18-3m2 3l18-2m2 2l18-1m2 1l18-1m2 1l18 0m2 0l18 0m3 0l18 0m2 0l18 0m2 0l18 0m2 0l18 0m2 0l18 0m2 0l18 0m2-1l18 2m2-2l18 3m2-3l18 5m3-6l15 9m5-9l13 12m8-13l8 16m12-16l5 17m16-17l3 18m17-18l2 18m18-18l1 18m-583 8l1-18m19 18l1-18m19 18l3-18m17 18l5-17m14 17l9-16m11 15l12-12m7 12l16-9m4 8l17-5m3 5l18-3m2 3l18-2m2 2l18-1m2 1l18-1m2 1l18-1m2 1l18 0m3 0l18 0m2 0l18 0m2 0l18 0m2 0l18 0m2 0l18 0m2-1l18 1m2-1l18 2m2-2l18 3m2-3l18 5m3-6l15 9m5-9l13 12m8-13l8 16m12-16l5 17m16-17l3 18m17-18l2 18m18-18l1 18m-583 8l1-18m19 18l1-18m19 18l3-18m17 18l5-17m14 17l9-16m11 15l12-12m7 12l16-9m4 8l17-5m3 5l18-3m2 3l18-2m2 2l18-1m2 1l18-1m2 1l18-1m2 1l18-1m3 1l18-1m2 1l18 0m2-1l18 1m2-1l18 1m2-1l18 1m2-1l18 1m2-1l18 2m2-2l18 3m2-3l18 5m3-6l15 9m5-9l13 12m8-13l8 16m12-16l5 17m16-17l3 18m17-18l2 18m18-18l1 18m-583 8l1-18m19 18l1-18m19 18l3-18m17 18l5-17m14 17l9-16m11 15l12-12m7 12l16-9m4 8l17-5m3 5l18-3m2 3l18-2m2 2l18-1m2 0l18 0m2 0l18 0m2 0l18 0m3 0l18 0m2 0l18 0m2 0l18 1m2-1l18 1m2-1l18 1m2-1l18 1m2-1l18 2m2-2l18 3m2-3l18 5m3-6l15 9m5-9l13 12m8-13l8 16m12-16l5 17m16-17l3 18m17-18l2 18m18-18l1 18m-583 8l1-18m19 18l1-18m19 18l3-18m17 18l5-17m14 17l9-16m11 15l12-12m7 12l16-9m4 8l17-5m3 5l18-3m2 3l18-2m2 1l18 0m2 0l18 0m2 0l18 0m2 0l18 0m3 0l18 0m2 0l18 0m2 0l18 0m2 0l18 1m2-1l18 1m2-1l18 1m2-1l18 2m2-2l18 3m2-3l18 4m3-5l15 8m5-9l13 13m8-13l8 16m12-16l5 17m16-17l3 17m17-17l2 18m18-18l1 18m-583 8l1-18m19 18l1-18m19 18l3-18m17 18l5-17m14 17l9-16m11 15l12-12m7 12l16-9m4 8l17-5m3 5l18-3m2 2l18-1m2 1l18 0m2 0l18 0m2 0l18 0m2 0l18 0m3 0l18 0m2 0l18 0m2 0l18 0m2 0l18 0m2 0l18 1m2-1l18 1m2-1l18 1m2-1l18 3m2-3l18 4m3-5l15 8m5-9l13 13m8-13l8 16m12-16l5 17m16-17l3 17m17-17l2 17m18-17l1 18m-583 8l1-18m19 18l1-18m19 18l3-18m17 18l5-18m14 18l9-16m11 15l12-13m7 12l16-8m4 8l17-5m3 5l18-3m2 2l18-1m2 1l18 0m2 0l18 0m2 0l18 0m2 0l18 0m3 0l18 0m2 0l18 0m2 0l18 0m2 0l18 0m2 0l18 1m2-1l18 1m2-1l18 1m2-1l18 2m2-3l18 5m3-5l15 8m5-9l13 13m8-13l8 16m12-16l5 17m16-18l3 18m17-18l2 18m18-18l1 18m-583 9l1-18m19 18l1-18m19 18l3-18m17 18l5-18m14 17l9-15m11 15l12-13m7 12l16-8m4 8l17-5m3 4l18-2m2 2l18-1m2 1l18-1m2 1l18 0m2 0l18 0m2 0l18 0m3 0l18 0m2 0l18 0m2 0l18 0m2 0l18 0m2 0l18 0m2 0l18 1m2-1l18 1m2-1l18 2m2-3l18 5m3-5l15 8m5-9l13 13m8-13l8 16m12-17l5 18m16-18l3 18m17-18l2 18m18-18l1 18m-583 9l1-18m19 18l1-18m19 18l3-18m17 18l5-18m14 17l9-15m11 15l12-13m7 12l16-8m4 8l17-5m3 4l18-2m2 2l18-1m2 1l18-1m2 1l18 0m2 0l18 0m2 0l18 0m3 0l18 0m2 0l18 0m2 0l18 0m2 0l18 0m2 0l18 0m2 0l18 1m2-1l18 1m2-1l18 2m2-3l18 5m3-5l15 8m5-9l13 13m8-13l8 15m12-16l5 18m16-18l3 18m17-18l2 18m18-18l1 18m-583 9l1-18m19 18l1-18m19 18l3-18m17 17l5-17m14 17l9-16m11 16l12-13m7 12l16-8m4 8l17-5m3 4l18-2m2 2l18-1m2 1l18-1m2 1l18 0m2 0l18 0m2 0l18 0m3 0l18 0m2 0l18 0m2 0l18 0m2 0l18 0m2 0l18 0m2 0l18 1m2-1l18 1m2-1l18 2m2-3l18 5m3-5l15 8m5-9l13 13m8-13l8 15m12-16l5 18m16-18l3 18m17-18l2 18m18-18l1 18m-583 9l1-18m19 18l1-18m19 17l3-17m17 17l5-17m14 17l9-16m11 16l12-13m7 12l16-8m4 8l17-5m3 4l18-2m2 2l18-1m2 1l18-1m2 1l18-1m2 1l18 0m2 0l18 0m3 0l18 0m2 0l18 0m2 0l18 0m2 0l18 0m2 0l18 0m2 0l18 0m2 0l18 1m2-2l18 3m2-3l18 5m3-5l15 8m5-9l13 13m8-14l8 16m12-16l5 18m16-18l3 18m17-18l2 18m18-18l1 18m-583 8l1-18m19 18l1-18m19 18l3-17m17 17l5-17m14 17l9-16m11 16l12-13m7 12l16-8m4 7l17-4m3 4l18-3m2 3l18-1m2 1l18-1m2 1l18-1m2 1l18 0m2 0l18 0m3 0l18 0m2 0l18 0m2 0l18 0m2 0l18 0m2 0l18 0m2 0l18 0m2 0l18 1m2-2l18 3m2-3l18 5m3-6l15 9m5-9l13 12m8-13l8 16m12-16l5 17m16-17l3 18m17-18l2 18m18-18l1 18m-583 8l1-18m19 18l1-18m19 18l3-17m17 17l5-17m14 17l9-16m11 16l12-13m7 12l16-8m4 7l17-5m3 5l18-3m2 3l18-2m2 2l18-1m2 1l18-1m2 1l18-1m2 1l18 0m3 0l18 0m2 0l18 0m2 0l18 0m2 0l18 0m2 0l18 0m2 0l18 0m2-1l18 2m2-2l18 3m2-3l18 5m3-6l15 9m5-9l13 12m8-13l8 16m12-16l5 17m16-17l3 18m17-18l2 18m18-18l1 18m-583 8l1-18m19 18l1-18m19 18l3-18m17 18l5-17m14 17l9-16m11 15l12-12m7 12l16-9m4 8l17-5m3 5l18-3m2 3l18-2m2 2l18-1m2 1l18-1m2 1l18-1m2 1l18-1m3 1l18 0m2 0l18 0m2 0l18 0m2 0l18 0m2-1l18 1m2-1l18 1m2-1l18 2m2-2l18 3m2-3l18 5m3-6l15 9m5-9l13 12m8-13l8 16m12-16l5 17m16-17l3 18m17-18l2 18m18-18l1 18m-583 8l1-18m19 18l1-18m19 18l2-18m18 18l4-17m15 17l9-16m11 15l12-12m7 12l16-9m4 8l17-5m3 5l18-3m2 3l18-2m2 2l18-1m2 1l18-1m2 1l18-1m2 0l18 0m3 0l18 0m2 0l18 0m2 0l18 1m2-1l18 1m2-1l18 1m2-1l18 1m2-1l18 2m2-2l18 3m2-3l18 5m3-6l15 9m5-9l13 12m8-13l8 16m12-16l5 17m16-17l3 18m17-18l2 18m18-18l1 18m-583 8l1-18m19 18l1-18m19 18l2-18m18 18l4-17m15 17l8-16m12 15l12-13m7 13l16-9m4 8l17-5m3 5l18-3m2 3l18-2m2 2l18-1m2 0l18 0m2 0l18 0m2 0l18 0m3 0l18 0m2 0l18 0m2 0l18 0m2 0l18 1m2-1l18 1m2-1l18 1m2-1l18 2m2-2l18 3m2-3l18 5m3-6l15 9m5-10l13 13m8-13l8 16m12-16l5 17m16-17l3 18m17-18l2 18m18-18l1 18m-583 8l1-18m19 18l1-18m19 18l2-18m18 18l4-18m15 18l8-16m12 15l12-13m7 13l16-9m4 8l17-5m3 5l18-3m2 3l18-2m2 1l18 0m2 0l18 0m2 0l18 0m2 0l18 0m3 0l18 0m2 0l18 0m2 0l18 0m2 0l18 1m2-1l18 1m2-1l18 1m2-1l18 2m2-2l18 3m2-4l17 6m4-6l15 9m5-10l12 14m9-14l8 16m13-16l4 17m16-17l2 17m18-17l2 18m18-18l1 18m-583 8l1-18m19 18l1-18m19 18l2-18m18 18l4-18m15 18l7-17m13 16l11-14m8 14l15-10m5 9l17-6m3 6l18-4m2 3l18-1m2 1l18-1m2 1l18 0m2 0l18 0m2 0l18 0m3 0l18 0m2 0l18 0m2 0l18 0m2 0l18 0m2 0l18 1m2-1l18 1m2-1l18 2m2-2l18 3m2-4l17 6m4-6l15 10m5-11l12 14m9-14l7 16m14-16l4 17m16-17l2 17m18-17l1 17m19-17l1 18m-583 8l0-18m20 18l1-18m19 18l2-18m18 18l3-18m17 18l5-18m14 17l9-15m11 15l13-12m6 11l16-8m4 8l17-5m3 5l18-3m2 2l18-1m2 1l18 0m2 0l18 0m2 0l18 0m3 0l18 0m2 0l18 0m2 0l18 0m2 0l18 0m2 0l18 1m2-1l18 1m2-1l18 2m2-3l18 5m2-5l17 8m4-9l13 13m8-13l9 15m11-15l6 17m15-18l3 18m17-18l2 18m18-18l1 18m19-18l1 18m-583 9l0-18m20 18l0-18m20 18l1-18m19 18l1-18m19 18l2-18m18 18l4-18m16 18l6-17m13 16l11-14m9 14l14-11m5 10l17-6m3 6l18-4m2 3l18-2m2 2l18-1m2 1l18 0m3 0l18 0m2 0l18 0m2 0l18 0m2 0l18 1m2-1l18 2m2-3l18 4m2-4l17 7m4-8l14 11m6-11l11 14m10-14l7 16m13-17l4 18m17-18l2 18m18-18l1 18m19-18l1 18m19-18l1 18m19-18l1 18m-583 9l0-18m20 18l0-18m20 18l0-18m20 18l-1-18m22 18l-2-18m22 18l-4-18m25 17l-7-16m27 16l-10-14m31 14l-15-11m35 10l-16-7m37 7l-18-4m38 3l-18-2m38 2l-18-1m38 1l-18 0m38 0l-18 0m38 0l-18 0m38 0l-18 0m38 0l-18 1m38-1l-18 2m38-3l-17 4m37-4l-17 6m37-7l-15 11m34-11l-10 14m30-15l-7 17m27-17l-4 18m23-18l-2 18m22-18l-1 18m21-18l0 18m20-18l0 18m20-18l0 18m-582 9l0-18m20 18l-1-18m21 18l-1-18m22 18l-3-18m23 17l-5-17m26 17l-9-15m30 15l-14-13m34 12l-16-8m36 8l-17-5m37 4l-17-2m38 2l-18-1m38 1l-18-1m38 1l-18 0m38 0l-18 0m38 0l-18 0m38 0l-18 0m38 0l-18 0m38 0l-18 0m38 0l-18 0m38 0l-18 1m38-2l-17 3m37-3l-17 5m37-5l-16 8m36-9l-13 12m32-12l-8 15m28-16l-5 18m25-18l-3 18m23-18l-2 18m21-18l0 18m21-18l-1 18m-582 8l0-18m20 18l-1-17m22 17l-3-17m23 17l-4-17m24 17l-7-16m28 16l-11-14m32 13l-15-10m35 10l-17-6m37 5l-17-3m37 3l-17-2m38 2l-18-1m38 1l-18-1m38 1l-18 0m38 0l-18 0m38 0l-18 0m38 0l-18 0m38 0l-18 0m38 0l-18 0m38 0l-18 0m38 0l-18 1m38-1l-18 1m38-2l-17 4m37-4l-17 6m37-7l-15 10m35-10l-11 14m30-15l-7 17m27-17l-4 18m24-18l-3 18m23-18l-2 18m22-18l-1 18m-582 8l-1-18m21 18l-1-18m22 18l-3-17m23 17l-5-17m26 17l-8-16m28 16l-12-14m33 13l-16-9m36 9l-17-6m37 5l-17-3m37 3l-17-2m38 2l-18-1m38 1l-18-1m38 1l-18-1m38 1l-18 0m38 0l-18 0m38 0l-18 0m38 0l-18 0m38 0l-18 0m38 0l-18 0m38 0l-18 0m38-1l-18 2m38-2l-17 3m37-3l-17 5m37-6l-15 9m35-9l-12 13m31-14l-8 16m28-16l-5 18m25-18l-3 18m23-18l-2 18m22-18l-1 18m-582 8l-1-18m21 18l-1-18m22 18l-3-18m23 18l-5-17m26 17l-9-16m29 16l-12-13m33 12l-16-9m36 8l-17-5m37 5l-17-3m37 3l-17-2m38 2l-18-1m38 1l-18-1m38 1l-18-1m38 1l-18 0m38 0l-18 0m38 0l-18 0m38 0l-18 0m38 0l-18 0m38 0l-18 0m38-1l-18 1m38-1l-18 2m38-2l-17 3m37-3l-17 5m37-6l-15 9m35-9l-13 13m32-14l-8 16m28-16l-5 17m25-17l-3 18m23-18l-2 18m22-18l-1 18m-582 8l-1-18m21 18l-1-18m22 18l-3-18m23 18l-5-17m26 17l-9-16m29 15l-12-12m33 12l-16-9m36 8l-17-5m37 5l-17-3m37 3l-17-2m38 2l-18-1m38 1l-18-1m38 1l-18-1m38 1l-18-1m38 1l-18 0m38 0l-18 0m38 0l-18 0m38-1l-18 1m38-1l-18 1m38-1l-18 1m38-1l-18 2m38-2l-17 3m37-3l-17 5m37-6l-16 9m36-9l-13 12m32-13l-8 16m28-16l-5 17m25-17l-3 18m23-18l-2 18m22-18l-1 18m-582 8l-1-18m21 18l-1-18m22 18l-3-18m23 18l-5-17m26 17l-9-16m29 15l-12-12m33 12l-16-9m36 8l-17-5m37 5l-17-3m37 3l-17-2m38 2l-18-1m38 1l-18-1m38 0l-18 0m38 0l-18 0m38 0l-18 0m38 0l-18 0m38 0l-18 1m38-1l-18 1m38-1l-18 1m38-1l-18 1m38-1l-18 2m38-2l-17 3m37-3l-17 5m37-6l-16 9m36-9l-13 12m32-13l-8 16m28-16l-5 17m25-17l-3 18m23-18l-2 18m22-18l-1 18m-582 8l-1-18m21 18l-1-18m22 18l-3-18m23 18l-5-17m26 17l-9-16m29 15l-12-12m33 12l-16-9m36 8l-17-5m37 5l-17-3m37 3l-17-2m38 1l-18 0m38 0l-18 0m38 0l-18 0m38 0l-18 0m38 0l-18 0m38 0l-18 0m38 0l-18 0m38 0l-18 1m38-1l-18 1m38-1l-18 1m38-1l-18 2m38-2l-17 3m37-3l-17 5m37-6l-16 8m36-9l-13 13m32-13l-8 16m28-16l-5 17m25-17l-3 17m23-17l-2 18m22-18l-1 18m-582 8l-1-18m21 18l-1-18m22 18l-3-18m23 18l-5-17m26 17l-9-16m29 15l-12-12m33 12l-16-9m36 8l-17-5m37 5l-17-3m37 2l-17-1m38 1l-18 0m38 0l-18 0m38 0l-18 0m38 0l-18 0m38 0l-18 0m38 0l-18 0m38 0l-18 0m38 0l-18 0m38 0l-18 1m38-1l-18 1m38-1l-18 1m38-1l-17 3m37-3l-17 4m37-5l-16 8m36-9l-13 13m32-13l-8 16m28-16l-5 17m25-17l-3 17m23-17l-2 18m22-18l-1 18m-582 8l-1-18m21 18l-1-18m22 18l-3-18m23 18l-5-18m26 18l-9-16m29 15l-12-13m33 12l-16-8m36 8l-17-5m37 5l-17-3m37 2l-17-1m38 1l-18 0m38 0l-18 0m38 0l-18 0m38 0l-18 0m38 0l-18 0m38 0l-18 0m38 0l-18 0m38 0l-18 0m38 0l-18 1m38-1l-18 1m38-1l-18 1m38-1l-17 2m37-3l-17 5m37-5l-16 8m36-9l-13 13m32-13l-8 16m28-16l-5 17m25-17l-3 17m23-18l-2 18m22-18l-1 18m-582 9l-1-18m21 18l-1-18m22 18l-3-18m23 18l-5-18m26 17l-9-15m29 15l-12-13m33 12l-16-8m36 8l-17-5m37 4l-17-2m37 2l-17-1m38 1l-18-1m38 1l-18 0m38 0l-18 0m38 0l-18 0m38 0l-18 0m38 0l-18 0m38 0l-18 0m38 0l-18 0m38 0l-18 0m38 0l-18 1m38-1l-18 1m38-1l-17 2m37-3l-17 5m37-5l-16 8m36-9l-13 13m32-13l-8 16m28-16l-5 17m25-18l-3 18m23-18l-2 18m22-18l-1 18m-582 9l-1-18m21 18l-1-18m22 18l-3-18m23 18l-5-18m26 17l-9-15m29 15l-12-13m33 12l-16-8m36 8l-17-5m37 4l-17-2m37 2l-17-1m38 1l-18-1m38 1l-18 0m38 0l-18 0m38 0l-18 0m38 0l-18 0m38 0l-18 0m38 0l-18 0m38 0l-18 0m38 0l-18 0m38 0l-18 1m38-1l-18 1m38-1l-17 2m37-3l-17 5m37-5l-16 8m36-9l-13 13m32-13l-8 15m28-16l-5 18m25-18l-3 18m23-18l-2 18m22-18l-1 18m-582 9l-1-18m21 18l-1-18m22 18l-3-18m23 18l-5-18m26 17l-9-16m29 16l-12-13m33 12l-16-8m36 8l-17-5m37 4l-17-2m37 2l-17-1m38 1l-18-1m38 1l-18 0m38 0l-18 0m38 0l-18 0m38 0l-18 0m38 0l-18 0m38 0l-18 0m38 0l-18 0m38 0l-18 0m38 0l-18 1m38-1l-18 1m38-1l-17 2m37-3l-17 5m37-5l-16 8m36-9l-13 13m32-13l-8 15m28-16l-5 18m25-18l-3 18m23-18l-2 18m22-18l-1 18m-582 9l-1-18m21 18l-1-18m22 18l-3-18m23 17l-5-17m26 17l-9-16m29 16l-12-13m33 12l-16-8m36 8l-17-5m37 4l-17-2m37 2l-17-1m38 1l-18-1m38 1l-18-1m38 1l-18 0m38 0l-18 0m38 0l-18 0m38 0l-18 0m38 0l-18 0m38 0l-18 0m38 0l-18 0m38 0l-18 0m38 0l-18 1m38-2l-17 3m37-3l-17 5m37-5l-16 8m36-9l-13 13m32-14l-8 16m28-16l-5 18m25-18l-3 18m23-18l-2 18m22-18l-1 18m-582 8l-1-18m21 18l-1-17m22 17l-3-17m23 17l-5-17m26 17l-9-16m29 16l-12-13m33 12l-16-8m36 7l-17-4m37 4l-17-3m37 3l-17-1m38 1l-18-1m38 1l-18-1m38 1l-18 0m38 0l-18 0m38 0l-18 0m38 0l-18 0m38 0l-18 0m38 0l-18 0m38 0l-18 0m38 0l-18 0m38 0l-18 1m38-2l-17 3m37-3l-17 5m37-6l-16 9m36-9l-13 12m32-13l-8 16m28-16l-5 17m25-17l-3 18m23-18l-2 18m22-18l-1 18m-582 8l-1-18m21 18l-1-18m22 18l-3-17m23 17l-5-17m26 17l-9-16m29 16l-12-13m33 12l-16-8m36 7l-17-4m37 4l-17-3m37 3l-17-2m38 2l-18-1m38 1l-18-1m38 1l-18-1m38 1l-18 0m38 0l-18 0m38 0l-18 0m38 0l-18 0m38 0l-18 0m38 0l-18 0m38 0l-18 0m38-1l-18 2m38-2l-17 3m37-3l-17 5m37-6l-16 9m36-9l-13 12m32-13l-8 16m28-16l-5 17m25-17l-3 18m23-18l-2 18m22-18l-1 18m-582 8l-1-18m21 18l-1-18m22 18l-3-18m23 18l-5-17m26 17l-9-16m29 15l-12-12m33 12l-16-9m36 8l-17-5m37 5l-17-3m37 3l-17-2m38 2l-18-1m38 1l-18-1m38 1l-18-1m38 1l-18-1m38 1l-18 0m38 0l-18 0m38 0l-18 0m38 0l-18 0m38 0l-18 0m38-1l-18 1m38-1l-18 2m38-2l-17 3m37-3l-17 5m37-6l-16 9m36-9l-13 12m32-13l-8 16m28-16l-5 17m25-17l-3 18m23-18l-2 18m22-18l-1 18m-582 8l-1-18m21 18l-1-18m22 18l-3-18m23 18l-5-17m26 17l-9-16m29 15l-12-12m33 12l-16-9m36 8l-17-5m37 5l-17-3m37 3l-17-2m38 2l-18-1m38 1l-18-1m38 1l-18-1m38 1l-18-1m38 0l-18 0m38 0l-18 1m38-1l-18 1m38-1l-18 1m38-1l-18 1m38-1l-18 1m38-1l-18 2m38-2l-17 3m37-3l-17 5m37-6l-16 9m36-9l-13 12m32-13l-8 16m28-16l-5 17m25-17l-3 18m23-18l-2 18m22-18l-1 18m-582 8l-1-18m21 18l-1-18m22 18l-3-18m23 18l-5-17m26 17l-9-16m29 15l-12-12m33 12l-16-9m36 8l-17-5m37 5l-17-3m37 3l-17-2m38 2l-18-1m38 0l-18 0m38 0l-18 0m38 0l-18 0m38 0l-18 0m38 0l-18 0m38 0l-18 0m38 0l-18 1m38-1l-18 1m38-1l-18 1m38-1l-18 2m38-2l-17 3m37-3l-17 5m37-6l-16 9m36-9l-13 12m32-13l-8 16m28-16l-5 17m25-17l-3 18m23-18l-2 18m22-18l-1 18m-582 8l-1-18m21 18l-1-18m22 18l-3-18m23 18l-5-17m26 17l-9-16m29 15l-12-12m33 12l-16-9m36 8l-17-5m37 5l-17-3m37 3l-17-2m38 1l-18 0m38 0l-18 0m38 0l-18 0m38 0l-18 0m38 0l-18 0m38 0l-18 0m38 0l-18 0m38 0l-18 0m38 0l-18 1m38-1l-18 1m38-1l-18 2m38-2l-17 3m37-3l-17 4m37-5l-16 8m36-9l-13 13m32-13l-8 16m28-16l-5 17m25-17l-3 17m23-17l-2 18m22-18l-1 18m-582 8l-1-18m21 18l-1-18m22 18l-3-18m23 18l-5-17m26 17l-9-16m29 15l-12-13m33 12l-16-8m36 8l-17-5m37 5l-17-3m37 2l-17-1m38 1l-18 0m38 0l-18 0m38 0l-18 0m38 0l-18 0m38 0l-18 0m38 0l-18 0m38 0l-18 0m38 0l-18 0m38 0l-18 1m38-1l-18 1m38-1l-18 1m38-1l-17 3m37-3l-17 4m37-5l-16 8m36-9l-13 13m32-13l-8 16m28-16l-5 17m25-17l-3 17m23-17l-2 17m22-17l-1 18m-582 8l-1-18m21 18l-1-18m22 18l-3-18m23 18l-5-18m26 18l-9-16m29 15l-12-13m33 12l-16-8m36 8l-17-5m37 5l-17-3m37 2l-17-1m38 1l-18-1m38 1l-18 0m38 0l-18 0m38 0l-18 0m38 0l-18 0m38 0l-18 0m38 0l-18 0m38 0l-18 0m38 0l-18 0m38 0l-18 1m38-1l-18 1m38-1l-17 2m37-3l-17 5m37-5l-16 8m36-9l-13 13m32-13l-8 16m28-16l-5 17m25-18l-3 18m23-18l-2 18m22-18l-1 18m-582 9l-1-18m21 18l-1-18m22 18l-3-18m23 18l-5-18m26 17l-9-15m29 15l-12-13m33 12l-16-8m36 8l-17-5m37 4l-17-2m37 2l-17-1m38 1l-18-1m38 1l-18 0m38 0l-18 0m38 0l-18 0m38 0l-18 0m38 0l-18 0m38 0l-18 0m38 0l-18 0m38 0l-18 0m38 0l-18 1m38-1l-18 1m38-1l-17 2m37-3l-17 5m37-5l-16 8m36-9l-13 13m32-13l-8 16m28-17l-5 18m25-18l-3 18m23-18l-2 18m22-18l-1 18m-582 9l-1-18m21 18l-1-18m22 18l-3-18m23 18l-5-18m26 17l-9-15m29 15l-12-13m33 12l-16-8m36 8l-17-5m37 4l-17-2m37 2l-17-1m38 1l-18-1m38 1l-18 0m38 0l-18 0m38 0l-18 0m38 0l-18 0m38 0l-18 0m38 0l-18 0m38 0l-18 0m38 0l-18 0m38 0l-18 1m38-1l-18 1m38-1l-17 2m37-3l-17 5m37-5l-16 8m36-9l-13 13m32-13l-8 15m28-16l-5 18m25-18l-3 18m23-18l-2 18m22-18l-1 18m-582 9l-1-18m21 18l-2-18m23 18l-4-18m24 17l-7-16m28 16l-12-14m33 13l-16-9m36 9l-17-6m37 5l-17-3m37 3l-18-2m38 2l-17-1m38 1l-18-1m38 1l-18 0m38 0l-18 0m38 0l-18 0m38 0l-18 0m38 0l-18 0m38 0l-18 0m38 0l-18 0m38 0l-18 0m38 0l-18 0m38 0l-18 1m38-1l-17 1m38-2l-18 4m38-4l-18 6m37-7l-15 10m35-10l-12 13m31-14l-7 17m27-17l-4 18m24-18l-3 18m23-18l-2 18m-581 8l-2-17m23 17l-4-17m24 17l-7-16m28 16l-12-14m33 13l-16-9m36 9l-17-6m37 5l-18-3m38 3l-18-2m38 2l-18-1m38 1l-18-1m39 1l-18 0m38 0l-18 0m38 0l-18 0m38 0l-18 0m38 0l-18 0m38 0l-18 0m38 0l-18 0m38 0l-18 0m38 0l-18 0m38 0l-18 0m38 0l-18 0m38 0l-17 1m38-1l-18 1m38-2l-18 4m38-4l-17 6m36-7l-15 10m35-10l-12 14m31-15l-7 17m27-17l-4 18m24-18l-2 18m-580 8l-4-17m24 17l-7-16m28 16l-11-14m32 13l-15-10m35 10l-17-6m37 5l-18-3m38 3l-18-2m38 2l-18-1m38 1l-18-1m38 1l-18-1m39 1l-18 0m38 0l-18 0m38 0l-18 0m38 0l-18 0m38 0l-18 0m38 0l-18 0m38 0l-18 0m38 0l-18 0m38 0l-18 0m38 0l-18 0m38 0l-18 0m38 0l-18 0m39 0l-18 1m38-2l-18 2m38-2l-18 4m38-4l-17 6m36-7l-15 10m35-10l-11 14m30-15l-7 17m27-17l-4 18m-578 8l-7-17m28 17l-11-14m31 13l-14-10m35 10l-17-7m37 6l-18-3m38 3l-18-2m38 2l-18-1m38 1l-18-1m38 1l-18-1m38 1l-18-1m39 1l-18 0m38 0l-18 0m38 0l-18 0m38 0l-18 0m38 0l-18 0m38 0l-18 0m38 0l-18 0m38 0l-18 0m38 0l-18 0m38 0l-18 0m38 0l-18 0m38 0l-18 0m39 0l-18 0m38-1l-18 1m38-1l-18 2m38-2l-18 4m38-4l-17 6m37-7l-15 10m34-11l-11 15m30-15l-6 17m-575 9l-11-15m31 14l-14-10m35 10l-17-7m37 6l-18-4m38 4l-18-2m38 2l-18-1m38 1l-18-1m38 1l-18-1m38 1l-18-1m38 1l-18-1m39 1l-18 0m38 0l-18 0m38 0l-18 0m38 0l-18 0m38 0l-18 0m38 0l-18 0m38 0l-18 0m38 0l-18 0m38 0l-18 0m38 0l-18 0m38 0l-18 0m38 0l-18 0m39-1l-18 1m38-1l-18 1m38-1l-18 1m38-1l-18 2m38-2l-18 4m38-4l-17 6m37-7l-15 10m34-11l-11 15"/><path id="a10" transform="scale(.2)" d="M666 48l11-15m9 14l14-10m5 9l17-6m3 6l18-4m2 4l18-2m3 2l18-1m2 1l18-1m2 1l18-1m2 0l18 0m2 0l18 0m2 0l18 0m2 0l18 0m2 0l18 0m3 0l18 0m2 0l18 0m2 1l18-1m2 1l18-1m2 1l18-2m2 2l18-4m3 4l17-5m3 5l16-6m4 6l17-6m3 6l17-6m3 6l18-4m2 4l18-2m2 1l18 1m2-1l18 4m3-5l16 7m4-7l15 10m6-10l12 12m-595 13l6-17m13 17l11-15m9 14l14-10m5 9l17-6m3 6l18-4m3 4l17-2m3 2l18-1m2 0l18 0m2 0l18 0m2 0l18 0m2 0l18 0m2 0l18 0m2 0l18 0m3 0l18 0m2 0l18 0m2 0l18 0m2 1l18-2m2 2l18-4m2 4l17-6m4 7l16-8m4 8l15-9m5 9l16-9m4 9l16-8m4 7l17-5m3 5l18-3m2 2l18 2m2-2l18 5m3-6l15 9m5-9l14 12m7-13l11 15m-594 11l4-18m16 18l7-17m12 16l11-14m9 14l15-10m5 9l17-6m3 6l17-4m3 4l18-2m2 1l18-1m2 1l18 0m2 0l18 0m2 0l18 0m2 0l18 0m2 0l18 0m3 0l18 0m2 0l18 0m2 0l18-1m2 2l18-3m2 3l18-5m3 6l16-9m4 9l15-11m5 11l14-11m6 11l14-11m6 11l15-10m5 9l17-7m3 7l18-3m2 2l18 2m3-3l16 7m4-7l14 11m7-12l11 14m9-14l9 16m-592 10l3-18m17 18l4-18m16 18l7-17m12 16l12-13m8 13l15-10m5 9l17-6m3 6l17-4m3 3l18-1m2 1l18-1m2 1l18 0m2 0l18 0m2 0l18 0m2 0l18 0m3 0l18 0m2 0l18 0m2 0l18-1m2 2l18-4m2 4l17-6m4 7l15-11m5 11l13-13m7 13l12-13m9 13l11-13m9 13l12-12m7 12l15-10m5 9l18-5m2 4l18 3m3-4l15 10m5-11l12 14m9-14l8 16m12-16l7 17m-590 9l2-18m18 18l3-18m17 18l5-18m15 18l7-17m12 16l12-13m8 13l15-10m5 9l17-6m3 6l18-3m2 2l18-1m2 1l18-1m2 1l18 0m2 0l18 0m2 0l18 0m3 0l18 0m2 0l18 0m2 0l18-1m2 2l18-4m2 4l17-8m4 9l13-12m8 12l10-14m10 14l9-15m11 15l9-15m11 15l9-15m11 15l12-13m7 12l17-7m3 5l17 7m4-8l11 15m10-15l7 16m14-17l4 18m16-18l3 18m-587 9l1-18m19 18l2-18m18 18l3-18m17 18l5-18m15 17l8-15m11 15l13-13m7 12l16-8m4 8l17-5m3 4l18-2m2 2l18-1m2 1l18-1m2 1l18 0m2 0l18 0m3 0l18 0m2 0l18 0m2 0l18-1m2 2l18-5m2 5l16-8m5 9l12-13m9 13l8-16m12 17l6-18m15 18l4-18m16 18l4-18m16 18l4-18m16 18l7-17m13 11l3 18m18-18l0 18m20-18l0 18m20-18l0 18m20-18l0 18m-584 9l1-18m19 18l2-18m18 18l3-18m17 18l5-18m15 17l8-15m11 15l13-13m7 12l16-8m4 8l17-5m3 4l18-2m2 2l18-1m2 1l18-1m2 1l18 0m2 0l18 0m3 0l18 0m2 0l18-1m2 1l18-1m2 2l18-4m2 4l16-8m5 9l12-14m9 14l6-16m15 17l2-18m18 18l0-18m21 18l-3-18m24 17l-7-16m28 15l-15-9m35 6l-15 10m34-10l-9 15m29-16l-6 17m26-17l-5 18m25-18l-4 18m-581 9l1-18m19 18l2-18m18 18l3-18m17 17l5-17m15 17l8-16m11 16l13-13m7 12l16-8m4 8l17-5m3 4l18-2m2 2l18-1m2 1l18-1m2 1l18 0m2 0l18 0m3 0l18 0m2 0l18-1m2 1l18-1m2 1l18-3m2 4l17-8m4 9l12-13m9 13l6-17m15 18l0-18m21 17l-4-17m25 17l-8-16m29 16l-13-13m33 11l-17-4m37 3l-16 6m36-7l-13 12m33-12l-11 14m31-15l-9 17m28-17l-6 17m-579 9l1-18m19 18l2-17m18 17l3-17m17 17l5-17m15 17l8-16m11 16l13-13m7 12l16-8m4 7l17-4m3 4l18-2m2 2l18-1m2 1l18-1m2 1l18-1m2 1l18 0m3 0l18 0m2 0l18-1m2 1l18-1m2 1l18-2m2 3l17-6m4 6l14-11m7 12l7-16m14 16l0-18m21 18l-6-16m27 16l-11-14m32 13l-16-9m36 8l-17-2m37 1l-17 5m37-6l-15 10m35-10l-12 13m32-13l-10 14m30-15l-8 16m-578 10l1-18m19 18l2-18m18 18l3-17m17 17l5-17m15 17l8-16m11 16l13-13m7 12l16-8m4 7l17-4m3 4l18-3m2 3l18-2m2 2l18-1m2 1l18-1m2 1l18-1m3 1l18 0m2 0l18-1m2 1l18-1m2 1l18-2m2 2l18-3m3 4l16-8m4 9l12-14m10 14l2-18m19 18l-7-16m28 16l-12-13m33 12l-17-7m37 6l-18 0m38-1l-17 6m37-7l-15 10m35-10l-13 12m33-12l-11 14m31-15l-9 16m-577 10l1-18m19 18l2-18m18 18l3-18m17 18l5-17m15 17l8-16m11 15l13-12m7 12l16-8m4 7l17-4m3 4l18-3m2 3l18-2m2 2l18-1m2 1l18-1m2 1l18-1m3 1l18-1m2 1l18-1m2 1l18-1m2 1l18-1m2 1l18-2m2 2l18-4m3 5l16-9m5 10l10-15m12 15l-2-18m23 17l-12-12m33 11l-17-3m37 2l-17 4m37-5l-16 8m36-8l-14 11m34-11l-12 13m32-14l-11 15m31-15l-8 16m-578 10l1-18m19 18l2-18m18 18l3-18m17 18l5-17m15 17l8-16m11 15l13-12m7 12l16-9m4 8l17-5m3 5l18-3m2 3l18-2m2 2l18-1m2 1l18-1m2 1l18-1m3 1l18-1m2 1l18-1m2 1l18-1m2 1l18-1m2 1l18-1m2 1l18-2m2 2l18-3m3 3l17-6m3 7l15-10m7 11l5-17m18 14l-17 6m37-7l-14 11m34-11l-13 12m33-13l-12 14m32-14l-11 15m31-15l-9 16m28-16l-6 17m-579 9l1-18m19 18l2-18m18 18l3-18m17 18l5-17m15 17l8-16m11 15l13-12m7 12l16-9m4 8l17-5m3 5l18-3m2 3l18-2m2 2l18-1m2 0l18 0m2 0l18 0m3 0l18 0m2 0l18 0m2 0l18 0m2 0l18 0m2 0l18 0m2 1l18-1m2 1l18-1m3 1l17-2m3 2l18-1m2 0l18 3m3-5l12 14m10-14l0 18m21-18l-6 17m26-17l-7 17m27-17l-6 17m26-17l-5 17m25-17l-4 17m-581 9l1-18m19 18l2-18m18 18l3-18m17 18l5-17m15 17l8-16m11 15l13-12m7 12l16-9m4 8l17-5m3 5l18-3m2 3l18-2m2 1l18 0m2 0l18 0m2 0l18 0m3 0l18 0m2 0l18 0m2 0l18 0m2 0l18 0m2 0l18 0m2 0l18 0m2 0l18 0m3 0l18 1m2-1l18 2m2-2l17 4m3-5l15 10m6-11l9 16m12-16l3 17m18-17l-1 18m21-18l-1 18m22-18l-2 18m22-18l-2 18m-583 8l1-18m19 18l2-18m18 18l3-18m17 18l5-17m15 17l8-16m11 15l13-12m7 11l16-8m4 8l17-5m3 5l18-3m2 2l18-1m2 1l18 0m2 0l18 0m2 0l18 0m3 0l18 0m2 0l18 0m2 0l18 0m2 0l18 0m2 0l18 0m2 0l18 0m2 0l18 1m3-1l18 1m2-1l18 2m2-2l17 4m3-5l16 9m5-10l12 14m9-14l6 16m15-16l2 17m18-17l1 18m19-18l0 18m20-18l0 18m-584 8l1-18m19 18l2-18m18 18l3-18m17 18l5-18m15 18l8-16m11 15l13-13m7 12l16-8m4 8l17-5m3 5l18-3m2 2l18-1m2 1l18 0m2 0l18 0m2 0l18 0m3 0l18 0m2 0l18 0m2 0l18 0m2 0l18 0m2 0l18 0m2 0l18 0m2 0l18 1m3-1l17 1m3-1l18 2m2-3l17 5m3-5l16 8m5-9l12 13m9-13l8 16m12-16l5 17m16-18l2 18m18-18l1 18m19-18l1 18m-585 9l1-18m19 18l2-18m18 18l3-18m17 18l5-18m15 17l8-15m11 15l13-13m7 12l16-8m4 8l17-5m3 4l18-2m2 2l18-1m2 1l18-1m2 1l18 0m2 0l18 0m3 0l18 0m2 0l18 0m2 0l18 0m2 0l18 0m2 0l18 0m2 0l18 0m2 0l18 1m3-1l17 1m3-1l18 2m2-3l17 5m3-5l16 8m5-9l13 13m8-13l8 16m12-17l5 18m16-18l2 18m18-18l1 18m19-18l1 18m-585 9l1-18m19 18l2-18m18 18l3-18m17 18l5-18m15 17l8-15m11 15l13-13m7 12l16-8m4 8l17-5m3 4l18-2m2 2l18-1m2 1l18-1m2 1l18 0m2 0l18 0m3 0l18 0m2 0l18 0m2 0l18 0m2 0l18 0m2 0l18 0m2 0l18 0m2 0l18 1m3-1l17 1m3-1l18 2m2-3l17 5m3-5l16 8m5-9l13 13m8-13l8 15m12-16l5 18m16-18l2 18m18-18l2 18m18-18l1 18m-585 9l1-18m19 18l2-18m18 18l3-18m17 17l5-17m15 17l8-16m11 16l13-13m7 12l16-8m4 8l17-5m3 4l18-2m2 2l18-1m2 1l18-1m2 1l18 0m2 0l18 0m3 0l18 0m2 0l18 0m2 0l18 0m2 0l18 0m2 0l18 0m2 0l18 0m2 0l18 1m3-1l17 1m3-1l18 2m2-3l17 5m3-5l16 8m5-9l13 13m8-13l8 15m12-16l5 18m16-18l2 18m18-18l2 18m18-18l1 18m-585 9l1-18m19 18l2-18m18 17l3-17m17 17l5-17m15 17l8-16m11 16l13-13m7 12l16-8m4 8l17-5m3 4l18-2m2 2l18-1m2 1l18-1m2 1l18-1m2 1l18 0m3 0l18 0m2 0l18 0m2 0l18 0m2 0l18 0m2 0l18 0m2 0l18 0m2 0l18 0m3 0l17 1m3-2l18 3m2-3l17 5m3-5l16 8m5-9l13 13m8-14l8 16m12-16l5 18m16-18l3 18m17-18l2 18m18-18l1 18m-585 8l1-18m19 18l2-18m18 18l3-17m17 17l5-17m15 17l8-16m11 16l13-13m7 12l16-8m4 7l17-4m3 4l18-3m2 3l18-1m2 1l18-1m2 1l18-1m2 1l18 0m3 0l18 0m2 0l18 0m2 0l18 0m2 0l18 0m2 0l18 0m2 0l18 0m2 0l18 0m3 0l17 1m3-2l18 3m2-3l17 5m3-6l16 9m5-9l13 12m8-13l8 16m12-16l5 17m16-17l3 18m17-18l2 18m18-18l1 18m-585 8l1-18m19 18l2-18m18 18l3-17m17 17l5-17m15 17l8-16m11 16l13-13m7 12l16-8m4 7l17-4m3 4l18-3m2 3l18-2m2 2l18-1m2 1l18-1m2 1l18-1m3 1l18 0m2 0l18 0m2 0l18 0m2 0l18 0m2 0l18 0m2 0l18 0m2 0l18 0m3-1l17 2m3-2l18 3m2-3l17 5m3-6l16 9m5-9l13 12m8-13l8 16m12-16l5 17m16-17l3 18m17-18l2 18m18-18l1 18m-585 8l1-18m19 18l2-18m18 18l3-18m17 18l5-17m15 17l8-16m11 15l13-12m7 12l16-9m4 8l17-5m3 5l18-3m2 3l18-2m2 2l18-1m2 1l18-1m2 1l18-1m3 1l18-1m2 1l18 0m2 0l18 0m2 0l18 0m2 0l18 0m2-1l18 1m2-1l18 1m3-1l17 2m3-2l17 3m3-3l17 5m3-6l16 9m5-9l13 12m8-13l8 16m12-16l5 17m16-17l2 18m18-18l2 18m18-18l1 18m-585 8l1-18m19 18l2-18m18 18l3-18m17 18l5-17m15 17l8-16m11 15l13-12m7 12l16-9m4 8l17-5m3 5l18-3m2 3l18-2m2 2l18-1m2 1l18-1m2 1l18-1m3 0l18 0m2 0l18 0m2 0l18 0m2 0l18 1m2-1l18 1m2-1l18 1m2-1l18 1m3-1l17 2m3-2l17 3m3-3l17 5m3-6l16 9m5-9l13 12m8-13l8 16m12-16l5 17m16-17l2 18m18-18l2 18m18-18l1 18m-585 8l1-18m19 18l2-18m18 18l3-18m17 18l5-17m15 17l8-16m11 15l13-13m7 13l16-9m4 8l17-5m3 5l18-3m2 3l18-2m2 2l18-1m2 0l18 0m2 0l18 0m3 0l18 0m2 0l18 0m2 0l18 0m2 0l18 0m2 0l18 1m2-1l18 1m2-1l18 1m3-1l17 2m3-2l17 3m3-3l17 5m3-6l16 9m5-10l12 13m9-13l8 16m12-16l5 17m16-17l2 18m18-18l2 18m18-18l1 18m-585 8l1-18m20 18l1-18m18 18l3-18m17 18l5-18m15 18l8-16m11 15l13-13m7 13l16-9m4 8l17-5m3 5l18-3m2 3l18-2m2 1l18 0m2 0l18 0m2 0l18 0m3 0l18 0m2 0l18 0m2 0l18 0m2 0l18 0m2 0l18 0m2 0l18 1m2-1l18 1m3-1l17 2m3-2l17 3m3-3l17 5m3-6l16 9m5-10l12 14m9-14l8 16m12-16l5 17m16-17l2 17m18-17l1 18m19-18l1 18m-585 8l1-18m20 18l1-18m19 18l2-18m17 18l4-18m16 18l7-17m13 16l11-14m8 14l15-10m5 9l17-6m3 6l18-4m2 3l18-1m2 1l18-1m2 1l18 0m2 0l18 0m3 0l18 0m2 0l18 0m2 0l18 0m2 0l18 0m2 0l18 0m2 0l18 1m2-1l18 1m3-1l17 2m3-2l17 3m3-4l17 6m3-6l15 10m6-11l11 14m10-14l7 16m13-16l4 17m17-17l2 17m18-17l1 17m19-17l1 18m-584 8l0-18m20 18l0-18m20 18l1-18m19 18l2-18m17 18l6-18m14 17l9-15m10 15l14-12m6 11l16-8m4 8l17-5m3 5l18-3m2 2l18-1m2 1l18 0m2 0l18 0m3 0l18 0m2 0l18 0m2 0l18 0m2 0l18 0m2 0l18 0m2 0l18 1m2-1l18 1m3-1l17 2m3-3l17 5m3-5l16 8m5-9l13 13m7-13l9 15m12-15l5 17m16-18l2 18m18-18l1 18m19-18l1 18m19-18l1 18m-584 9l0-18m20 18l0-18m20 18l0-18m20 18l1-18m19 18l2-18m18 18l3-18m16 18l7-17m13 16l11-14m8 14l15-11m5 10l17-6m3 6l18-4m2 3l18-2m2 2l18-1m3 1l18 0m2 0l18 0m2 0l18 0m2 0l18 0m2 0l18 1m2-1l18 2m2-2l18 3m3-4l17 7m3-8l15 11m6-11l11 14m10-14l6 16m14-17l4 18m17-18l2 18m18-18l1 18m19-18l1 18m19-18l1 18m19-18l1 18m-584 9l-1-18m21 18l-1-18m21 18l-1-18m21 18l-1-18m21 18l-2-18m23 18l-4-18m24 17l-6-16m27 16l-11-14m32 14l-15-11m35 10l-17-7m38 6l-18-3m38 3l-18-2m38 2l-18-1m38 1l-18 0m38 0l-18 0m38 0l-18 0m38 0l-18 0m39 0l-18 1m38-1l-18 2m38-3l-18 4m38-4l-17 6m37-7l-15 11m34-11l-11 14m31-15l-7 17m26-17l-3 18m23-18l-2 18m22-18l-1 18m21-18l0 18m20-18l0 18m20-18l0 18m-583 9l-1-18m21 18l-1-18m21 18l-1-18m21 18l-2-18m23 17l-5-17m26 17l-9-15m29 15l-13-13m34 12l-16-8m36 8l-17-5m37 4l-17-2m38 2l-18-1m38 1l-18-1m38 1l-18 0m38 0l-18 0m38 0l-18 0m38 0l-18 0m38 0l-18 0m39 0l-18 0m38 0l-18 0m38 0l-18 1m38-2l-18 3m38-3l-17 5m37-5l-16 8m36-9l-14 12m33-12l-9 15m29-16l-6 18m25-18l-2 18m22-18l-1 18m21-18l0 18m20-18l0 18m-583 8l-1-18m21 18l-1-17m21 17l-2-17m23 17l-4-17m24 17l-7-16m28 16l-11-14m32 13l-15-10m35 10l-17-6m37 5l-17-3m37 3l-17-2m38 2l-18-1m38 1l-18-1m38 1l-18 0m38 0l-18 0m38 0l-18 0m38 0l-18 0m38 0l-18 0m39 0l-18 0m38 0l-18 0m38 0l-18 1m38-1l-18 1m38-2l-18 4m38-4l-17 6m37-7l-15 10m34-10l-11 14m31-15l-7 17m27-17l-4 18m23-18l-2 18m22-18l-1 18m22-18l-1 18m-583 8l-1-18m21 18l-1-18m21 18l-2-17m23 17l-5-17m25 17l-8-16m29 16l-12-14m33 13l-16-9m36 8l-17-5m37 5l-17-3m37 3l-17-2m38 2l-18-1m38 1l-18-1m38 1l-18 0m38 0l-18 0m38 0l-18 0m38 0l-18 0m38 0l-18 0m39 0l-18 0m38 0l-18 0m38 0l-18 0m38-1l-18 2m38-2l-18 3m38-3l-17 5m37-6l-16 9m36-9l-13 13m32-14l-8 16m28-16l-5 18m25-18l-3 18m22-18l-1 18m22-18l-1 18m-583 8l-1-18m21 18l-2-18m22 18l-2-18m23 18l-5-17m25 17l-8-16m29 16l-12-13m33 12l-16-9m36 8l-17-5m37 5l-17-3m37 3l-17-2m38 2l-18-1m38 1l-18-1m38 1l-18-1m38 1l-18 0m38 0l-18 0m38 0l-18 0m38 0l-18 0m39 0l-18 0m38 0l-18 0m38-1l-18 1m38-1l-18 2m38-2l-18 3m38-3l-17 5m37-6l-16 9m36-9l-13 13m32-14l-8 16m28-16l-5 17m25-17l-3 18m23-18l-2 18m22-18l-1 18m-583 8l-1-18m21 18l-2-18m22 18l-2-18m23 18l-5-17m25 17l-8-16m29 15l-13-12m34 12l-16-9m36 8l-17-5m37 5l-17-3m37 3l-17-2m38 2l-18-1m38 1l-18-1m38 1l-18-1m38 1l-18-1m38 1l-18 0m38 0l-18 0m38 0l-18 0m39-1l-18 1m38-1l-18 1m38-1l-18 1m38-1l-18 2m38-2l-18 3m38-3l-17 5m37-6l-16 9m36-9l-13 12m32-13l-8 16m28-16l-5 17m25-17l-3 18m23-18l-2 18m22-18l-1 18m-583 8l-1-18m21 18l-2-18m22 18l-2-18m23 18l-5-17m25 17l-8-16m29 15l-13-12m34 12l-16-9m36 8l-17-5m37 5l-17-3m37 3l-17-2m38 2l-18-1m38 1l-18-1m38 0l-18 0m38 0l-18 0m38 0l-18 0m38 0l-18 0m38 0l-18 1m39-1l-18 1m38-1l-18 1m38-1l-18 1m38-1l-18 2m38-2l-18 3m38-3l-17 5m37-6l-16 9m36-9l-13 12m32-13l-8 16m28-16l-5 17m25-17l-3 18m23-18l-2 18m22-18l-1 18m-583 8l-1-18m21 18l-2-18m22 18l-3-18m24 18l-5-17m25 17l-8-16m29 15l-13-12m34 12l-16-9m36 8l-17-5m37 5l-18-3m38 3l-17-2m38 1l-18 0m38 0l-18 0m38 0l-18 0m38 0l-18 0m38 0l-18 0m38 0l-18 0m38 0l-18 0m39 0l-18 1m38-1l-18 1m38-1l-18 1m38-1l-18 2m38-2l-18 3m38-3l-17 4m37-5l-16 8m36-9l-13 13m32-13l-8 16m28-16l-5 17m25-17l-3 17m23-17l-2 18m22-18l-1 18m-583 8l-1-18m21 18l-2-18m22 18l-3-18m24 18l-5-17m25 17l-8-16m29 15l-13-12m34 12l-16-9m36 8l-17-5m37 5l-18-3m38 2l-17-1m38 1l-18 0m38 0l-18 0m38 0l-18 0m38 0l-18 0m38 0l-18 0m38 0l-18 0m38 0l-18 0m39 0l-18 0m38 0l-18 1m38-1l-18 1m38-1l-18 1m38-1l-18 3m38-3l-17 4m37-5l-16 8m36-9l-13 13m32-13l-8 16m28-16l-5 17m25-17l-3 17m23-17l-2 18m22-18l-1 18m-583 8l-1-18m21 18l-2-18m22 18l-3-18m24 18l-5-18m25 18l-8-16m29 15l-13-13m34 12l-16-8m36 8l-17-5m37 5l-18-3m38 2l-17-1m38 1l-18 0m38 0l-18 0m38 0l-18 0m38 0l-18 0m38 0l-18 0m38 0l-18 0m38 0l-18 0m39 0l-18 0m38 0l-18 1m38-1l-18 1m38-1l-18 1m38-1l-18 2m38-3l-17 5m37-5l-16 8m36-9l-13 13m32-13l-8 16m28-16l-5 17m25-17l-3 17m23-18l-2 18m22-18l-1 18m-583 9l-1-18m21 18l-2-18m22 18l-3-18m24 18l-5-18m25 17l-8-15m29 15l-13-13m34 12l-16-8m36 8l-17-5m37 4l-18-2m38 2l-17-1m38 1l-18-1m38 1l-18 0m38 0l-18 0m38 0l-18 0m38 0l-18 0m38 0l-18 0m38 0l-18 0m39 0l-18 0m38 0l-18 0m38 0l-18 1m38-1l-18 1m38-1l-18 2m38-3l-17 5m37-5l-16 8m36-9l-13 13m32-13l-8 16m28-16l-5 17m25-18l-3 18m23-18l-2 18m22-18l-1 18m-583 9l-1-18m21 18l-2-18m22 18l-3-18m24 18l-5-18m25 17l-8-15m29 15l-13-13m34 12l-16-8m36 8l-17-5m37 4l-18-2m38 2l-17-1m38 1l-18-1m38 1l-18 0m38 0l-18 0m38 0l-18 0m38 0l-18 0m38 0l-18 0m38 0l-18 0m39 0l-18 0m38 0l-18 0m38 0l-18 1m38-1l-18 1m38-1l-18 2m38-3l-17 5m37-5l-16 8m36-9l-13 13m32-13l-8 15m28-16l-5 18m25-18l-3 18m23-18l-2 18m22-18l-1 18m-583 9l-1-18m21 18l-2-18m22 18l-3-18m24 18l-5-18m25 17l-8-16m29 16l-13-13m34 12l-16-8m36 8l-17-5m37 4l-18-2m38 2l-17-1m38 1l-18-1m38 1l-18 0m38 0l-18 0m38 0l-18 0m38 0l-18 0m38 0l-18 0m38 0l-18 0m39 0l-18 0m38 0l-18 0m38 0l-18 1m38-1l-18 1m38-1l-18 2m38-3l-17 5m37-5l-16 8m36-9l-13 13m32-13l-8 15m28-16l-5 18m25-18l-3 18m23-18l-2 18m22-18l-1 18m-583 9l-1-18m21 18l-2-18m22 18l-3-18m24 17l-5-17m25 17l-8-16m29 16l-13-13m34 12l-16-8m36 8l-17-5m37 4l-18-2m38 2l-17-1m38 1l-18-1m38 1l-18-1m38 1l-18 0m38 0l-18 0m38 0l-18 0m38 0l-18 0m38 0l-18 0m39 0l-18 0m38 0l-18 0m38 0l-18 0m38 0l-18 1m38-2l-18 3m38-3l-17 5m37-5l-16 8m36-9l-13 13m32-14l-8 16m28-16l-5 18m25-18l-3 18m23-18l-2 18m22-18l-1 18m-583 8l-1-18m21 18l-2-17m22 17l-3-17m24 17l-5-17m25 17l-8-16m29 16l-13-13m34 12l-16-8m36 7l-17-4m37 4l-18-2m38 2l-17-1m38 1l-18-1m38 1l-18-1m38 1l-18 0m38 0l-18 0m38 0l-18 0m38 0l-18 0m38 0l-18 0m39 0l-18 0m38 0l-18 0m38 0l-18 0m38 0l-18 1m38-2l-18 3m38-3l-17 5m37-5l-16 8m36-9l-13 12m32-13l-8 16m28-16l-5 17m25-17l-3 18m23-18l-2 18m22-18l-1 18m-583 8l-1-18m21 18l-2-18m22 18l-3-17m24 17l-5-17m25 17l-8-16m29 16l-13-13m34 12l-16-8m36 7l-17-4m37 4l-18-3m38 3l-17-2m38 2l-18-1m38 1l-18-1m38 1l-18-1m38 1l-18 0m38 0l-18 0m38 0l-18 0m38 0l-18 0m39 0l-18 0m38 0l-18 0m38 0l-18 0m38-1l-18 2m38-2l-18 3m38-3l-17 5m37-6l-16 9m36-9l-13 12m32-13l-8 16m28-16l-5 17m25-17l-3 18m23-18l-2 18m22-18l-1 18m-583 8l-1-18m21 18l-2-18m22 18l-3-18m24 18l-5-17m25 17l-8-16m29 15l-13-12m34 12l-16-8m36 7l-17-5m37 5l-18-3m38 3l-17-2m38 2l-18-1m38 1l-18-1m38 1l-18-1m38 1l-18-1m38 1l-18 0m38 0l-18 0m38 0l-18 0m39 0l-18 0m38 0l-18 0m38-1l-18 1m38-1l-18 2m38-2l-18 3m38-3l-17 5m37-6l-16 9m36-9l-13 12m32-13l-8 16m28-16l-5 17m25-17l-3 18m23-18l-2 18m22-18l-1 18m-583 8l-1-18m21 18l-2-18m22 18l-3-18m24 18l-5-17m25 17l-8-16m29 15l-13-12m34 12l-16-9m36 8l-17-5m37 5l-18-3m38 3l-17-2m38 2l-18-1m38 1l-18-1m38 1l-18-1m38 1l-18-1m38 0l-18 0m38 0l-18 1m38-1l-18 1m39-1l-18 1m38-1l-18 1m38-1l-18 1m38-1l-18 2m38-2l-18 3m38-3l-17 5m37-6l-16 9m36-9l-13 12m32-13l-8 16m28-16l-5 17m25-17l-3 18m23-18l-2 18m22-18l-1 18m-583 8l-1-18m21 18l-2-18m22 18l-3-18m24 18l-5-17m25 17l-8-16m29 15l-13-12m34 12l-16-9m36 8l-17-5m37 5l-18-3m38 3l-17-2m38 2l-18-1m38 0l-18 0m38 0l-18 0m38 0l-18 0m38 0l-18 0m38 0l-18 0m38 0l-18 0m39 0l-18 1m38-1l-18 1m38-1l-18 1m38-1l-18 2m38-2l-18 3m38-3l-17 4m37-5l-16 8m36-8l-13 12m32-13l-8 16m28-16l-5 17m25-17l-3 18m23-18l-2 18m22-18l-1 18m-583 8l-1-18m21 18l-2-18m22 18l-3-18m24 18l-5-17m25 17l-8-16m29 15l-13-12m34 12l-16-9m36 8l-17-5m37 5l-18-3m38 3l-17-2m38 1l-18 0m38 0l-18 0m38 0l-18 0m38 0l-18 0m38 0l-18 0m38 0l-18 0m38 0l-18 0m39 0l-18 0m38 0l-18 1m38-1l-18 1m38-1l-18 2m38-2l-18 3m38-3l-17 4m37-5l-16 8m36-9l-13 13m32-13l-8 16m28-16l-5 17m25-17l-3 17m23-17l-2 18m22-18l-1 18m-583 8l-1-18m21 18l-2-18m22 18l-3-18m24 18l-5-17m25 17l-8-16m29 15l-13-12m34 11l-16-8m36 8l-17-5m37 5l-18-3m38 2l-17-1m38 1l-18 0m38 0l-18 0m38 0l-18 0m38 0l-18 0m38 0l-18 0m38 0l-18 0m38 0l-18 0m39 0l-18 0m38 0l-18 1m38-1l-18 1m38-1l-18 1m38-1l-18 2m38-2l-17 4m37-5l-16 8m36-9l-13 13m32-13l-8 16m28-16l-5 17m25-17l-3 17m23-17l-2 17m22-17l-1 18m-583 8l-1-18m21 18l-2-18m22 18l-3-18m24 18l-5-18m25 18l-8-16m29 15l-13-13m34 12l-16-8m36 8l-17-5m37 5l-18-3m38 2l-17-1m38 1l-18 0m38 0l-18 0m38 0l-18 0m38 0l-18 0m38 0l-18 0m38 0l-18 0m38 0l-18 0m39 0l-18 0m38 0l-18 0m38 0l-18 1m38-1l-18 1m38-1l-18 2m38-3l-17 5m37-5l-16 8m36-9l-13 13m32-13l-8 16m28-16l-5 17m25-18l-3 18m23-18l-2 18m22-18l-1 18m-583 9l-1-18m21 18l-2-18m22 18l-3-18m24 18l-5-18m25 17l-8-15m29 15l-13-13m34 12l-16-8m36 8l-17-5m37 4l-18-2m38 2l-17-1m38 1l-18-1m38 1l-18 0m38 0l-18 0m38 0l-18 0m38 0l-18 0m38 0l-18 0m38 0l-18 0m39 0l-18 0m38 0l-18 0m38 0l-18 1m38-1l-18 1m38-1l-18 2m38-3l-17 5m37-5l-16 8m36-9l-13 13m32-13l-8 15m28-16l-5 18m25-18l-3 18m23-18l-2 18m22-18l-1 18m-583 9l-1-18m21 18l-2-18m22 18l-3-18m24 18l-5-18m25 17l-8-15m29 15l-13-13m34 12l-16-8m36 8l-17-5m37 4l-18-2m38 2l-17-1m38 1l-18-1m38 1l-18 0m38 0l-18 0m38 0l-18 0m38 0l-18 0m38 0l-18 0m38 0l-18 0m39 0l-18 0m38 0l-18 0m38 0l-18 1m38-1l-18 1m38-1l-18 2m38-3l-17 5m37-5l-16 8m36-9l-13 13m32-13l-8 15m28-16l-5 18m25-18l-3 18m23-18l-2 18m22-18l-1 18m-583 9l-2-18m22 18l-2-18m22 18l-4-18m25 17l-8-16m29 16l-12-14m33 13l-16-9m36 9l-17-6m37 5l-18-3m38 3l-18-2m38 2l-18-1m39 1l-18-1m38 1l-18 0m38 0l-18 0m38 0l-18 0m38 0l-18 0m38 0l-18 0m38 0l-18 0m39 0l-18 0m38 0l-18 0m38 0l-18 0m38 0l-18 1m38-1l-18 1m38-2l-18 3m38-3l-17 6m37-7l-15 10m35-10l-12 13m31-14l-7 17m27-17l-5 18m25-18l-3 18m23-18l-2 18m-582 8l-2-17m22 17l-4-17m25 17l-7-16m28 16l-12-14m32 13l-15-9m36 9l-17-6m37 5l-18-3m38 3l-18-2m38 2l-18-1m38 1l-18-1m39 1l-18 0m38 0l-18 0m38 0l-18 0m38 0l-18 0m38 0l-18 0m38 0l-18 0m38 0l-18 0m39 0l-18 0m38 0l-18 0m38 0l-18 0m38 0l-18 0m38 0l-18 1m38-1l-18 1m38-2l-17 4m37-4l-17 6m37-7l-15 10m35-10l-12 13m31-14l-7 17m27-17l-4 18m24-18l-3 18m-581 8l-4-17m25 17l-7-16m28 16l-12-14m32 13l-15-10m36 10l-17-6m37 5l-18-3m38 3l-18-2m38 2l-18-1m38 1l-18-1m38 1l-18-1m39 1l-18 0m38 0l-18 0m38 0l-18 0m38 0l-18 0m38 0l-18 0m38 0l-18 0m38 0l-18 0m39 0l-18 0m38 0l-18 0m38 0l-18 0m38 0l-18 0m38 0l-18 0m38 0l-18 1m38-2l-18 2m38-2l-17 4m37-4l-17 6m37-7l-15 10m35-10l-11 14m30-15l-7 17m27-17l-4 18m-579 8l-7-17m27 17l-11-14m32 13l-15-10m36 10l-17-7m37 6l-18-3m38 3l-18-2m38 2l-18-1m38 1l-18-1m38 1l-18-1m38 1l-18 0m39 0l-18 0m38 0l-18 0m38 0l-18 0m38 0l-18 0m38 0l-18 0m38 0l-18 0m38 0l-18 0m39 0l-18 0m38 0l-18 0m38 0l-18 0m38 0l-18 0m38 0l-18 0m38 0l-18 0m38-1l-18 1m38-1l-17 2m38-2l-18 4m38-4l-17 6m36-7l-14 10m34-11l-11 15m30-15l-6 17m-577 9l-11-15m32 14l-15-10m35 10l-16-7m37 6l-18-3m38 3l-18-2m38 2l-18-1m38 1l-18-1m38 1l-18-1m38 1l-18-1m38 1l-18-1m39 1l-18 0m38 0l-18 0m38 0l-18 0m38 0l-18 0m38 0l-18 0m38 0l-18 0m38 0l-18 0m39 0l-18 0m38 0l-18 0m38 0l-18 0m38 0l-18 0m38 0l-18 0m38-1l-18 1m38-1l-18 1m38-1l-18 1m39-1l-18 2m38-2l-18 4m38-4l-17 6m36-7l-14 10m34-11l-11 15"/><path id="a11" transform="scale(.2)" d="M666 1395l11-14m9 14l13-12m7 11l15-10m5 10l15-9m5 9l16-8m4 8l16-8m4 8l16-7m4 7l17-7m3 7l17-7m3 7l17-6m3 6l17-6m3 6l18-5m3 5l17-4m3 3l17-3m3 3l18-2m2 2l18-1m2 1l18-1m2 1l18 0m2 0l18 1m2-1l18 2m3-2l17 2m3-3l17 4m3-4l17 5m3-5l17 5m3-5l17 6m3-6l17 7m4-7l16 8m4-8l15 9m5-10l15 11m6-11l12 13m-596 12l10-15m10 15l12-14m8 14l13-12m7 11l14-10m6 10l15-9m5 9l16-8m4 8l16-8m4 8l16-8m4 8l17-7m3 7l17-7m3 7l17-6m3 6l18-5m3 5l17-5m3 4l17-3m3 3l18-2m2 2l18-2m2 2l18-1m2 1l18 0m2 0l18 1m2-1l18 2m3-3l17 4m3-4l17 4m3-4l17 5m3-5l17 6m3-6l17 7m3-7l17 7m4-7l15 8m5-9l15 11m5-11l13 12m8-12l11 14m-595 11l8-16m12 16l10-15m10 15l12-14m8 14l13-12m7 11l14-10m6 10l15-9m5 9l16-9m4 9l16-8m4 8l16-8m4 8l17-7m3 7l17-7m3 7l18-6m3 6l17-5m3 4l17-3m3 3l18-3m2 3l18-2m2 2l18-1m2 1l18 0m2 0l18 1m2-1l18 2m3-3l17 4m3-4l17 5m3-5l17 6m3-6l17 6m3-6l17 7m4-7l15 8m5-9l15 11m5-11l14 12m7-12l11 13m9-13l10 14m-594 11l8-16m12 16l9-16m11 16l10-15m10 15l12-14m8 14l13-12m7 11l14-10m6 10l15-10m5 10l16-9m4 9l16-8m4 8l17-8m3 8l17-7m4 7l16-6m4 6l17-6m3 5l17-4m3 4l17-3m3 3l18-2m2 2l18-1m2 1l18 0m2 0l18 1m2-2l18 3m3-3l17 4m3-4l17 5m3-5l17 6m3-6l17 7m3-7l16 8m5-9l15 10m5-10l14 12m6-12l13 13m8-13l11 14m9-14l10 15m-593 10l6-16m14 16l7-16m13 16l8-16m11 16l11-15m9 15l12-14m8 14l13-13m7 12l14-11m6 11l15-10m5 10l16-9m4 9l16-8m4 8l17-8m4 8l16-7m4 7l17-6m3 6l17-5m3 4l17-3m3 3l18-2m2 2l18-1m2 1l18 0m2 0l18 1m2-2l18 3m3-3l17 4m3-4l17 6m3-6l17 7m3-7l16 8m5-9l15 10m5-10l14 12m6-12l13 13m7-13l12 14m9-14l10 14m10-15l9 16m-592 10l6-17m14 17l7-16m13 16l7-16m13 16l9-16m11 16l10-15m9 15l12-14m8 14l14-13m6 12l15-11m5 11l15-10m5 10l16-9m5 9l15-8m5 8l16-8m4 8l16-7m4 7l17-6m3 5l17-4m3 4l18-2m2 2l18-1m2 1l18 0m2-1l18 2m2-2l18 4m3-4l17 5m3-5l17 6m3-6l16 7m4-8l16 10m5-10l14 11m6-11l13 13m7-13l12 14m9-14l10 14m10-15l9 16m11-16l9 16m-592 10l5-17m15 17l6-17m14 17l7-16m13 16l8-16m12 16l9-15m11 15l11-14m8 14l13-13m7 12l14-11m6 11l15-11m6 11l14-10m6 10l15-9m5 9l16-8m4 8l16-7m4 7l17-6m3 5l17-4m3 4l18-3m2 3l18-1m2 1l18 0m2-1l18 3m2-3l18 4m3-4l17 5m3-5l17 7m3-8l16 9m4-9l15 10m6-10l13 12m7-12l12 13m8-13l11 14m10-15l10 15m10-15l9 16m11-16l8 16m-591 10l5-17m15 17l6-17m14 17l7-16m13 16l8-16m12 16l9-16m11 16l10-15m10 15l12-14m8 14l12-13m8 12l13-11m7 11l14-11m6 11l15-10m5 10l15-9m5 9l16-8m4 8l17-7m3 6l17-4m3 4l18-3m2 3l18-1m2 1l18 0m2-1l18 3m2-3l18 4m3-4l17 6m3-6l16 7m4-8l16 9m4-9l15 11m6-11l13 12m7-12l12 13m8-14l11 15m10-15l9 16m11-16l8 16m12-16l8 17m-591 9l5-17m15 17l5-17m15 17l6-17m14 17l7-16m13 16l8-16m12 16l10-15m10 15l11-14m9 14l12-14m8 14l13-13m7 12l13-11m7 11l14-11m6 11l15-10m5 10l16-9m4 9l16-7m4 6l17-5m3 5l18-3m2 3l18-2m2 2l18 0m2-1l18 3m2-3l18 5m3-5l16 6m4-7l16 9m4-9l15 10m6-10l13 11m7-11l12 13m8-14l11 15m10-15l9 16m11-16l8 16m12-16l8 16m12-16l7 17m-590 9l4-17m16 17l5-17m15 17l5-17m15 17l6-17m14 17l8-16m12 16l9-16m11 16l10-15m10 15l11-14m9 14l12-14m8 13l13-12m7 12l13-11m7 11l14-11m6 11l15-10m5 10l16-8m4 8l17-7m3 6l17-4m3 4l18-2m2 1l18 1m2-1l18 3m3-3l17 5m3-6l16 8m4-8l15 9m5-9l15 11m6-11l13 12m7-12l11 13m9-14l10 15m11-15l8 16m12-16l8 16m12-16l7 17m14-17l6 17m-590 9l4-17m16 17l4-17m16 17l5-17m15 17l6-17m14 17l7-17m13 17l8-16m12 16l9-16m11 16l10-15m10 15l11-15m9 15l12-14m8 13l13-12m7 12l13-12m7 12l14-11m6 11l15-9m5 9l16-8m4 7l17-5m3 5l18-2m2 1l18 1m2-1l18 4m3-4l16 6m4-7l16 9m4-9l15 10m5-10l14 12m7-12l12 13m8-14l11 15m10-15l8 16m12-16l7 16m13-16l7 17m13-17l6 17m15-17l5 17m-589 9l3-18m17 18l4-18m16 18l4-17m16 17l5-17m15 17l6-17m14 17l7-17m13 17l8-16m12 16l9-16m11 16l10-15m10 15l11-15m9 15l12-14m8 13l12-13m8 13l14-12m6 12l15-10m5 10l16-9m4 8l17-5m3 5l18-3m2 2l18 1m2-1l18 4m3-5l16 8m4-8l15 10m5-10l14 11m7-11l12 13m8-14l11 15m9-15l9 16m12-16l7 16m13-16l6 17m14-17l6 17m15-17l4 17m16-17l4 17m-588 9l2-18m18 18l3-18m17 18l3-18m17 18l4-18m16 18l5-17m15 17l6-17m14 17l7-17m13 17l8-16m12 16l9-16m11 16l9-16m11 16l10-15m10 15l11-15m9 14l12-13m8 13l14-12m6 12l15-10m5 10l17-8m3 7l18-3m2 2l18 1m2-1l18 5m3-6l15 9m5-9l14 11m7-12l12 14m8-14l11 15m9-15l9 16m12-16l7 16m13-16l6 17m14-17l5 17m16-17l4 17m16-17l3 17m17-17l3 18m-587 8l2-18m18 18l2-18m19 18l2-18m18 18l2-18m18 18l3-18m17 18l4-17m16 17l5-17m15 17l6-17m14 17l6-17m14 17l7-17m13 17l8-16m12 16l9-16m11 16l10-15m10 15l11-14m8 13l14-12m6 12l16-9m4 8l18-4m2 3l18 2m2-3l17 7m4-7l14 11m6-12l12 14m9-14l10 15m10-15l9 16m12-16l7 16m13-16l6 17m14-17l5 17m16-17l3 17m17-17l2 18m18-18l2 18m18-18l2 18m-586 8l1-18m20 18l0-18m20 18l1-18m19 18l1-18m19 18l2-18m18 18l3-18m17 18l4-17m16 17l5-17m15 17l5-17m15 17l5-17m15 17l6-17m14 17l6-17m14 17l7-17m13 17l9-16m11 16l10-15m10 14l13-12m6 11l17-6m3 5l18 2m3-3l15 10m5-11l12 14m9-14l9 16m11-16l8 16m13-16l6 17m14-17l5 17m15-17l4 17m17-17l2 18m18-18l2 18m18-18l1 18m19-18l1 18m19-18l1 18m-584 8l-1-18m21 18l0-18m20 18l0-18m20 18l1-18m19 18l1-18m19 18l2-18m18 18l3-18m17 18l3-18m17 18l3-18m17 18l4-18m16 18l4-18m16 18l4-18m17 18l4-18m16 18l4-17m16 17l5-17m14 17l9-16m11 15l13-12m6 10l17 5m4-7l11 15m10-15l7 17m13-17l5 17m16-17l4 17m16-17l3 17m17-17l3 17m18-17l1 18m19-18l1 18m19-18l0 18m20-18l0 18m20-18l0 18m21-18l-1 18m-583 8l-1-18m21 18l-1-18m21 18l-1-18m21 18l0-18m20 18l0-18m20 18l1-18m19 18l2-18m18 18l2-18m18 18l2-18m19 18l1-18m19 18l1-18m19 18l1-18m19 18l0-18m20 18l0-18m20 18l0-18m21 18l-1-18m21 18l-3-18m24 13l-7 16m26-16l-1 18m21-18l0 18m20-18l0 18m20-18l0 18m20-18l1 18m20-18l0 18m20-18l-1 18m21-18l-1 18m21-18l-1 18m21-18l-1 18m22-18l-2 18m22-18l-2 18m-582 8l-2-18m22 18l-2-18m22 18l-1-18m21 18l-1-18m21 18l-1-18m21 18l0-18m20 18l0-18m21 18l-1-18m21 18l-1-18m21 18l-1-18m21 18l-1-18m21 18l-2-18m23 18l-4-18m24 18l-4-18m24 18l-6-17m27 17l-9-16m30 15l-15-10m35 8l-17 4m37-6l-12 14m31-14l-7 16m27-16l-5 17m25-17l-4 17m24-17l-3 17m23-17l-2 17m22-17l-2 17m22-17l-2 17m22-17l-2 17m23-17l-3 17m23-17l-3 17m23-17l-3 17m-581 9l-2-18m22 18l-2-18m22 18l-2-18m22 18l-2-18m22 18l-1-18m21 18l-1-18m22 18l-2-18m22 18l-2-18m22 18l-2-18m22 18l-3-18m23 18l-3-18m24 18l-5-17m25 17l-6-17m27 17l-9-16m29 15l-10-14m31 14l-14-12m34 11l-17-6m38 5l-18 2m37-3l-15 9m35-10l-12 14m32-14l-9 15m28-15l-7 16m27-16l-5 17m25-17l-4 17m24-17l-4 17m25-17l-5 17m25-17l-5 17m25-17l-4 17m24-17l-4 17m24-17l-4 17m-580 9l-3-18m23 18l-3-18m23 18l-3-18m23 18l-3-18m24 18l-3-18m23 18l-3-18m23 18l-3-18m23 18l-3-18m23 18l-4-18m24 18l-4-18m25 18l-6-17m26 17l-7-17m27 17l-8-16m29 15l-11-14m31 14l-13-12m34 12l-16-10m36 9l-17-5m38 4l-18 2m37-3l-16 7m36-8l-14 12m34-12l-12 14m32-14l-10 15m30-15l-8 16m28-16l-7 16m27-16l-6 17m26-17l-6 17m26-17l-6 17m26-17l-5 17m25-17l-5 17m25-17l-5 17m-579 9l-3-18m23 18l-3-18m23 18l-3-18m24 18l-4-18m24 18l-4-18m24 18l-4-18m24 18l-4-18m24 18l-4-18m24 18l-5-18m26 18l-7-17m27 17l-8-17m28 16l-9-15m30 15l-11-14m31 14l-12-13m33 13l-15-11m35 10l-16-7m36 7l-17-4m38 3l-18 1m38-2l-17 6m36-6l-15 9m35-10l-13 13m33-13l-11 14m31-14l-10 15m30-15l-8 16m28-16l-7 16m27-16l-7 16m27-16l-7 16m27-16l-6 16m26-16l-6 17m26-17l-5 17m-579 9l-4-18m24 18l-4-18m24 18l-4-18m25 18l-5-18m25 18l-4-18m24 18l-4-18m24 18l-4-18m24 18l-5-18m26 18l-7-17m27 17l-8-17m28 16l-9-15m30 15l-11-14m31 14l-12-13m32 13l-13-12m34 11l-16-9m36 9l-17-6m37 5l-17-2m38 2l-18 1m38-2l-18 5m37-5l-15 8m35-9l-14 11m34-11l-12 13m32-13l-11 14m31-14l-9 15m29-15l-8 16m28-16l-8 16m28-16l-7 16m27-16l-7 16m27-16l-7 16m27-16l-6 16m-578 10l-4-18m24 18l-4-18m25 18l-5-18m25 18l-5-18m25 18l-5-18m25 18l-5-18m25 18l-5-18m25 18l-6-17m27 17l-7-17m27 16l-8-15m28 15l-10-15m31 15l-12-14m32 14l-13-13m33 13l-14-11m35 10l-16-8m36 8l-17-6m37 5l-17-2m38 2l-18 1m38-2l-18 5m38-5l-17 7m36-7l-14 10m34-11l-13 12m33-12l-11 14m31-14l-10 15m30-15l-9 15m29-15l-8 15m28-15l-8 16m28-16l-8 16m28-16l-7 16m27-16l-7 16m-577 10l-4-18m24 18l-4-18m25 18l-5-18m25 18l-5-18m25 18l-5-18m25 18l-5-18m25 18l-5-18m25 18l-6-17m27 16l-8-16m28 16l-9-15m29 15l-10-14m31 14l-12-13m32 13l-13-12m34 11l-15-9m35 9l-16-8m36 8l-17-5m37 4l-18-2m39 2l-18 1m38-2l-18 5m38-5l-17 7m37-7l-16 9m35-10l-13 12m33-12l-12 13m32-13l-11 14m31-14l-10 15m30-15l-9 15m29-15l-9 15m29-15l-8 15m29-15l-9 16m29-16l-8 16m-577 10l-4-18m24 18l-4-18m25 18l-6-18m26 18l-5-18m25 18l-5-18m25 18l-5-18m25 18l-5-18m25 17l-6-16m27 16l-8-16m28 16l-9-15m30 15l-12-14m32 14l-13-13m33 13l-14-12m35 11l-16-9m36 9l-17-7m37 7l-17-5m37 4l-18-2m39 2l-18 1m38-2l-18 4m38-4l-17 7m37-7l-16 9m36-10l-15 11m34-11l-12 13m32-13l-11 14m31-14l-10 15m30-15l-9 15m29-15l-9 15m30-15l-9 15m29-15l-9 15m29-15l-8 16m-577 10l-4-18m24 18l-4-18m25 17l-5-17m25 17l-5-17m25 17l-5-17m25 17l-5-17m25 17l-5-17m25 17l-6-16m27 16l-8-16m28 16l-9-15m30 15l-12-14m32 14l-13-13m33 13l-14-12m35 11l-16-9m36 9l-17-7m37 7l-17-5m37 4l-18-1m39 1l-18 1m38-2l-18 4m38-4l-17 6m37-6l-16 8m36-9l-15 11m34-11l-12 13m32-13l-11 14m31-14l-10 14m30-14l-10 15m30-15l-9 15m30-15l-10 15m30-15l-9 15m29-16l-9 17m-576 9l-4-17m24 17l-4-17m25 17l-5-17m25 17l-5-17m25 17l-5-17m25 17l-5-17m25 17l-5-17m25 17l-6-17m27 17l-8-16m28 16l-9-15m30 15l-11-14m31 14l-13-13m33 13l-14-12m35 11l-16-9m36 9l-17-7m37 6l-17-4m37 4l-18-1m39 1l-18 1m38-2l-18 4m38-4l-17 7m37-7l-16 9m35-10l-14 11m34-11l-12 13m32-13l-11 14m31-14l-10 14m30-14l-10 15m30-15l-9 15m30-15l-10 15m30-15l-9 15m29-16l-9 16m-576 10l-4-17m24 17l-4-17m25 17l-5-17m25 17l-5-17m25 17l-5-17m25 17l-5-17m25 17l-5-17m25 17l-5-17m26 17l-7-16m27 16l-8-16m28 16l-10-15m31 15l-12-13m32 13l-14-12m35 11l-16-9m36 9l-17-7m37 6l-17-4m37 4l-18-1m39 1l-18 1m38-2l-18 5m38-5l-17 7m37-8l-16 10m35-10l-13 12m33-12l-12 13m32-13l-11 14m31-14l-10 14m30-14l-10 15m30-15l-9 15m30-15l-10 15m30-16l-9 16m29-16l-9 16m-576 10l-3-17m23 17l-4-17m25 17l-5-17m25 17l-5-17m25 17l-5-17m25 17l-5-17m25 17l-5-17m25 17l-5-17m25 17l-5-17m26 17l-7-16m27 16l-8-16m29 16l-11-14m31 14l-13-13m34 12l-15-10m35 10l-17-7m37 6l-17-4m37 4l-18-1m38 0l-17 3m38-3l-17 6m36-7l-15 10m35-10l-13 12m33-12l-12 13m32-13l-11 14m31-14l-11 14m31-14l-10 14m30-14l-10 14m30-14l-9 15m30-16l-10 16m30-16l-9 16m29-16l-8 16m-577 10l-3-17m23 17l-3-17m23 17l-4-17m25 17l-5-17m25 17l-6-17m26 17l-7-16m28 16l-9-16m29 16l-11-14m32 14l-13-13m33 12l-15-10m35 10l-15-9m36 9l-17-7m37 7l-17-6m37 5l-18-4m38 4l-18-3m38 3l-18-1m38 1l-18 0m39-1l-18 2m38-2l-18 3m38-3l-18 5m38-5l-17 6m37-7l-16 9m36-9l-15 11m35-11l-13 12m33-12l-12 13m31-13l-10 14m30-15l-9 16m30-16l-9 16m29-16l-9 16m29-16l-8 17m-577 9l-2-17m22 17l-3-17m23 17l-3-17m24 17l-5-17m25 17l-6-17m27 17l-9-16m29 16l-11-15m31 15l-12-13m33 12l-15-11m35 11l-15-9m35 9l-16-8m37 8l-17-7m37 7l-17-6m37 5l-18-4m38 4l-18-3m38 3l-18-1m38 1l-18 0m39-1l-18 2m38-2l-18 3m38-3l-18 5m38-5l-17 6m37-6l-17 7m37-8l-16 10m36-10l-14 11m34-11l-13 13m33-13l-11 14m30-15l-9 16m29-16l-8 16m28-16l-7 16m28-16l-8 17m-577 9l-2-18m22 18l-2-18m22 18l-3-17m24 17l-5-17m25 17l-6-17m27 17l-9-16m29 16l-11-14m31 14l-13-13m34 12l-15-11m35 11l-15-10m35 10l-16-8m37 8l-17-7m37 6l-17-5m37 5l-18-4m38 4l-18-2m38 2l-18-1m38 1l-18 0m39-1l-18 2m38-2l-18 4m38-4l-18 5m38-5l-17 6m37-6l-17 7m37-8l-16 9m36-9l-14 11m34-11l-13 13m32-14l-10 15m30-15l-9 16m29-16l-8 16m28-16l-7 17m27-17l-6 17m-578 9l-1-18m21 18l-2-18m22 18l-2-18m23 18l-4-17m24 17l-6-17m26 17l-8-16m29 16l-11-15m31 15l-12-13m33 12l-14-11m34 11l-15-10m35 10l-15-9m36 9l-17-8m37 7l-17-5m37 5l-18-4m38 4l-18-2m38 2l-18-1m38 0l-18 2m39-2l-18 3m38-3l-18 4m38-4l-17 5m37-5l-17 6m37-7l-16 9m36-9l-15 10m35-10l-14 11m34-11l-12 13m31-14l-10 15m30-15l-8 16m28-16l-7 17m27-17l-6 17m26-17l-5 17m-579 9l-1-18m21 18l-1-18m21 18l-1-18m21 18l-2-18m23 18l-5-17m25 17l-7-16m28 16l-10-15m30 15l-12-14m33 13l-14-12m34 12l-15-11m35 11l-15-9m35 9l-16-8m37 7l-17-6m37 6l-18-4m38 4l-18-2m38 2l-18 0m38-1l-18 2m38-2l-17 4m38-4l-18 5m38-5l-17 6m37-7l-17 8m37-8l-16 9m36-9l-15 10m35-10l-14 12m33-13l-11 14m31-14l-9 16m29-16l-7 17m27-17l-6 17m26-17l-5 17m25-17l-5 17m-579 9l0-18m20 18l0-18m20 18l-1-18m21 18l-2-18m23 18l-4-17m24 17l-6-17m27 17l-10-16m30 16l-11-14m32 13l-13-12m33 12l-14-11m34 11l-15-10m35 10l-16-9m37 8l-17-6m37 6l-18-4m38 4l-18-2m38 1l-18 1m38-1l-17 3m37-3l-17 4m38-4l-17 6m37-7l-17 8m37-8l-16 9m36-9l-15 10m35-10l-14 11m34-11l-13 13m32-14l-10 15m30-15l-8 16m28-16l-6 17m26-17l-5 17m25-17l-4 17m24-17l-4 17m-581 9l1-18m20 18l0-18m20 18l0-18m20 18l-1-18m22 18l-4-18m24 18l-6-17m27 17l-9-16m29 16l-10-15m30 14l-12-13m33 13l-13-12m33 12l-14-11m34 11l-15-9m36 8l-17-6m37 6l-18-4m38 4l-18-2m38 1l-18 2m38-2l-17 4m37-4l-17 5m37-6l-16 8m36-8l-15 9m35-9l-15 10m35-10l-14 11m34-11l-13 12m33-13l-11 14m31-14l-9 15m29-15l-7 17m27-17l-5 17m25-17l-4 17m24-17l-3 18m23-18l-3 18m-582 8l1-18m20 18l0-18m20 18l0-18m20 18l-1-18m22 18l-3-18m23 18l-5-17m26 17l-8-16m28 16l-10-15m30 15l-11-14m32 13l-13-12m33 12l-14-11m34 11l-15-10m36 9l-17-7m37 7l-18-4m38 4l-18-1m38 0l-18 2m38-2l-17 5m37-6l-16 7m36-7l-15 9m35-9l-15 10m35-10l-14 11m34-11l-13 12m33-13l-12 14m32-14l-11 15m31-15l-8 16m28-16l-6 17m26-17l-5 17m25-17l-3 17m23-17l-3 18m23-18l-2 18m-583 8l2-18m19 18l0-18m20 18l0-18m20 18l-1-18m21 18l-2-18m23 18l-5-17m25 17l-7-17m28 17l-9-16m29 16l-11-15m32 14l-13-13m33 13l-14-12m34 12l-15-10m36 9l-17-7m37 7l-18-4m38 3l-18 0m38 0l-18 3m38-4l-17 7m37-7l-16 8m36-8l-15 10m35-10l-14 11m34-11l-13 12m33-13l-12 13m32-13l-11 14m31-14l-10 15m30-15l-8 16m28-16l-6 17m26-17l-4 17m24-17l-3 18m23-18l-2 18m22-18l-2 18m-583 8l1-18m20 18l0-18m20 18l0-18m20 18l-1-18m21 18l-2-18m23 18l-5-17m25 17l-7-17m28 17l-9-16m29 16l-10-15m31 14l-12-13m32 13l-13-12m33 12l-15-10m36 9l-17-7m37 7l-18-4m38 3l-18 0m38 0l-17 4m37-5l-16 7m36-7l-15 9m35-9l-14 10m34-10l-13 11m33-12l-13 13m33-13l-12 14m32-14l-11 14m31-14l-9 15m29-15l-7 16m27-16l-5 17m24-17l-3 17m23-17l-1 18m21-18l-1 18m22-18l-1 18m-584 8l1-18m20 18l0-18m20 18l0-18m20 18l-1-18m21 18l-2-18m23 18l-5-17m25 17l-7-17m28 17l-9-16m29 15l-11-14m32 14l-13-13m33 13l-14-12m34 12l-15-10m36 9l-17-7m37 7l-18-4m38 3l-18 1m38-1l-17 4m37-5l-16 8m36-8l-15 9m35-9l-14 11m34-12l-13 13m33-13l-12 13m32-13l-12 14m32-14l-11 15m31-15l-9 15m29-15l-7 16m27-16l-5 17m24-17l-2 17m22-17l-1 18m21-18l-1 18m22-18l-1 18m-584 8l1-18m20 18l0-18m20 18l0-18m20 18l-1-18m22 18l-3-18m23 18l-5-17m26 17l-8-16m28 16l-10-16m30 15l-11-14m32 14l-13-13m33 13l-14-11m34 11l-15-10m36 9l-17-6m37 6l-18-3m38 2l-18 1m38-1l-17 4m37-5l-16 8m36-8l-15 9m35-9l-14 11m34-12l-13 13m33-13l-12 13m32-13l-12 14m32-14l-11 15m31-15l-9 15m29-15l-7 16m27-16l-5 17m24-17l-2 17m22-17l-1 17m21-17l-1 18m22-18l-1 18m-583 8l0-18m20 18l0-18m20 18l-1-18m21 18l-2-18m23 18l-4-18m24 18l-6-17m27 17l-9-16m29 15l-10-14m30 14l-12-13m33 13l-14-12m34 12l-14-11m34 10l-15-8m36 8l-17-6m37 6l-18-3m38 2l-18 1m38-1l-17 4m37-5l-16 7m36-7l-15 9m35-9l-14 10m34-11l-13 12m33-12l-13 13m33-13l-12 14m32-14l-11 14m31-14l-9 15m29-15l-7 16m27-16l-5 17m24-17l-2 17m22-17l-1 17m21-17l-1 17m22-17l-1 17m-583 9l-1-18m21 18l-1-18m21 18l-1-18m21 18l-2-18m23 18l-5-18m25 18l-7-17m28 16l-10-15m30 15l-11-14m32 14l-13-13m33 13l-14-11m34 11l-15-10m35 9l-16-7m37 7l-18-5m38 4l-18-2m38 2l-18 1m38-1l-17 4m37-5l-17 7m37-7l-16 8m36-8l-15 10m35-11l-14 12m34-12l-13 13m33-13l-12 13m32-13l-11 14m31-14l-10 15m30-15l-8 16m28-16l-5 17m25-17l-4 17m23-18l-2 18m22-18l-1 18m22-18l-1 18m-583 9l-1-18m21 18l-1-18m21 18l-2-18m22 18l-3-18m24 18l-5-18m25 18l-7-17m28 16l-10-15m30 15l-12-13m33 13l-14-12m34 12l-15-11m35 10l-15-8m36 8l-17-7m37 7l-18-5m38 4l-18-1m38 1l-18 1m38-1l-17 3m37-4l-17 6m37-6l-16 8m36-8l-15 9m35-9l-14 10m34-11l-13 12m33-12l-13 13m33-13l-12 14m32-14l-10 15m30-15l-8 16m28-16l-6 17m26-18l-4 18m24-18l-3 18m23-18l-2 18m22-18l-2 18m-582 9l-2-18m22 18l-2-18m22 18l-2-18m23 18l-4-18m24 18l-6-17m27 16l-9-15m29 15l-11-14m31 14l-12-13m33 13l-14-11m34 11l-15-10m35 9l-16-8m37 8l-17-6m37 6l-18-4m38 3l-18-1m38 1l-18 1m38-1l-17 3m37-4l-17 6m37-6l-16 7m36-7l-15 8m35-8l-15 10m35-11l-14 11m34-11l-13 12m33-12l-12 13m32-13l-11 14m31-14l-8 16m28-16l-6 17m26-18l-4 18m24-18l-3 18m23-18l-2 18m22-18l-2 18m-582 9l-2-18m22 18l-2-18m22 18l-3-18m24 18l-5-18m25 18l-7-17m28 16l-10-15m30 15l-12-14m33 14l-14-12m34 12l-15-11m35 10l-16-8m36 8l-16-7m37 7l-18-6m38 6l-18-4m38 3l-18-1m38 1l-18 1m38-1l-18 3m38-4l-17 5m37-5l-16 7m36-7l-16 8m36-8l-15 9m35-10l-14 11m34-11l-14 12m34-12l-13 13m33-13l-11 14m31-14l-9 15m29-15l-7 16m27-17l-5 18m25-18l-4 18m24-18l-3 18m23-18l-2 18m-582 9l-3-18m23 18l-3-18m23 18l-4-18m25 18l-6-18m26 17l-7-16m28 16l-10-15m30 15l-12-13m33 13l-15-11m35 10l-15-9m35 9l-16-8m36 8l-16-6m37 6l-18-5m38 4l-18-3m38 3l-18-1m38 1l-18 1m38-1l-18 2m38-3l-17 5m37-5l-17 6m37-6l-16 7m36-7l-15 8m36-8l-16 9m36-10l-15 11m35-11l-14 12m33-12l-12 13m32-13l-9 15m29-15l-7 16m27-17l-5 18m25-18l-4 18m24-18l-3 18m23-18l-2 18m-582 9l-3-18m23 18l-3-18m24 18l-5-18m25 17l-6-16m26 16l-8-16m29 16l-11-14m31 14l-13-13m34 13l-15-11m35 10l-16-8m36 8l-16-7m36 7l-17-6m38 6l-18-5m38 4l-18-2m38 2l-18-1m38 1l-18 1m38-1l-18 2m38-3l-17 4m37-4l-17 5m37-5l-16 7m37-7l-17 8m37-8l-16 8m36-9l-15 10m35-10l-14 12m34-12l-13 13m32-13l-10 14m30-14l-8 16m28-17l-6 17m26-17l-4 18m24-18l-3 18m23-18l-3 18m-581 9l-3-18m23 18l-4-18m25 17l-6-17m26 17l-7-16m27 16l-8-15m29 15l-11-14m31 14l-13-12m34 11l-15-9m35 9l-16-8m36 8l-16-7m36 7l-17-6m38 5l-18-3m38 3l-18-2m38 2l-18-1m38 1l-18 0m38 0l-18 2m38-3l-17 4m37-4l-17 5m38-5l-17 6m37-6l-17 7m37-7l-16 8m36-8l-16 9m36-10l-15 11m35-11l-13 12m32-12l-10 14m30-14l-8 15m28-16l-6 17m26-17l-5 18m25-18l-4 18m24-18l-3 18m-581 9l-4-18m24 17l-4-17m25 17l-6-17m26 17l-7-16m28 16l-10-15m30 15l-12-14m32 14l-14-12m35 11l-16-9m36 9l-16-7m36 7l-17-6m38 6l-18-5m38 4l-18-3m38 3l-18-2m38 2l-18-1m38 1l-18 0m38 0l-18 1m38-2l-17 4m37-4l-17 5m38-5l-18 5m38-5l-17 6m37-6l-17 7m37-7l-16 8m36-9l-15 10m35-10l-14 12m33-12l-11 14m31-14l-9 15m29-16l-7 17m27-17l-5 18m25-18l-4 18m24-18l-3 18m-581 8l-4-17m24 17l-5-17m26 17l-6-17m26 17l-8-16m29 16l-10-15m30 15l-12-13m33 12l-15-10m35 10l-16-8m36 8l-17-7m37 7l-17-6m38 5l-18-4m38 4l-18-3m38 3l-18-2m38 2l-18-1m38 1l-18 0m38 0l-18 1m38-2l-17 3m37-3l-17 4m38-4l-18 5m38-5l-17 6m37-6l-17 7m37-7l-16 8m36-9l-16 10m36-10l-14 11m34-11l-12 13m31-13l-9 15m29-16l-7 17m27-17l-5 17m25-17l-4 18m24-18l-4 18m-580 8l-4-17m24 17l-5-17m26 17l-7-16m27 16l-8-16m29 16l-11-15m31 15l-13-13m34 12l-15-10m35 10l-16-8m36 8l-17-7m37 7l-17-5m38 4l-18-4m38 4l-18-3m38 3l-18-2m38 2l-18-1m38 1l-18 0m38 0l-18 1m38-2l-17 3m37-3l-17 4m38-4l-18 5m38-5l-17 5m37-5l-17 6m37-6l-17 7m37-8l-16 9m36-9l-15 11m35-11l-13 13m32-14l-9 16m29-16l-7 17m27-17l-6 17m26-17l-5 18m25-18l-4 18m-580 8l-4-17m25 17l-6-17m26 17l-7-16m27 16l-8-16m29 16l-11-15m31 15l-13-13m34 12l-16-10m36 10l-16-8m36 8l-17-6m37 5l-17-4m38 4l-18-3m38 3l-18-2m38 2l-18-2m38 2l-18-1m38 1l-18 0m38 0l-18 1m38-2l-17 3m37-3l-17 3m38-3l-18 4m38-4l-18 5m38-5l-17 6m37-6l-17 7m37-8l-16 9m36-9l-15 11m35-11l-13 13m32-14l-10 15m30-15l-7 17m27-17l-6 17m26-17l-5 18m25-18l-4 18m-580 8l-5-17m26 17l-7-17m27 17l-8-16m28 16l-10-15m31 15l-13-13m33 12l-14-10m35 10l-16-8m36 8l-17-7m37 6l-17-5m37 5l-17-4m38 4l-18-3m38 3l-18-2m38 2l-18-1m38 1l-18-1m38 1l-18 0m38 0l-18 1m38-2l-17 2m37-2l-17 3m38-3l-18 4m38-4l-18 4m38-4l-17 5m37-5l-17 6m37-6l-17 7m37-8l-16 9m36-9l-14 11m34-11l-12 13m31-14l-9 16m29-16l-7 17m27-17l-5 17m25-17l-4 18m-580 8l-5-17m26 17l-8-16m28 16l-9-15m30 15l-13-13m33 12l-14-10m35 10l-16-8m36 8l-17-7m37 6l-17-5m37 5l-17-4m37 4l-17-3m38 3l-18-3m38 3l-18-2m38 2l-18-1m38 1l-18-1m38 1l-18 0m38-1l-18 2m38-2l-18 2m39-2l-18 3m38-3l-18 3m38-3l-18 4m38-4l-18 4m38-4l-17 5m37-5l-17 6m37-6l-17 6m37-7l-16 9m36-9l-14 11m34-11l-12 13m32-14l-9 16m28-16l-6 17m26-17l-5 17m-578 9l-7-17m27 17l-9-16m30 16l-12-14m32 13l-14-10m35 10l-17-8m37 8l-17-7m37 6l-17-5m37 5l-17-4m37 4l-17-3m37 3l-17-3m38 3l-18-2m38 2l-18-2m38 2l-18-1m38 1l-18-1m38 1l-18 0m38-1l-18 1m38-1l-18 2m39-2l-18 3m38-3l-18 3m38-3l-18 3m38-3l-18 4m38-4l-17 4m37-4l-17 5m37-5l-17 5m37-5l-16 6m36-7l-16 9m36-9l-14 11m34-11l-12 13m32-14l-9 16m28-16l-6 17m-577 9l-9-16m29 16l-11-14m32 13l-14-11m34 11l-16-8m37 7l-17-6m37 6l-17-5m37 5l-18-4m38 4l-17-4m37 4l-17-3m37 3l-17-3m38 3l-18-2m38 2l-18-2m38 2l-18-1m38 1l-18-1m38 1l-18 0m38-1l-18 1m38-1l-18 2m39-2l-18 2m38-2l-18 3m38-3l-18 3m38-3l-18 3m38-3l-18 4m38-4l-17 4m37-4l-17 5m37-5l-17 5m37-5l-16 6m36-7l-16 9m36-9l-14 11m34-12l-11 14m31-14l-9 16m-575 10l-11-14m32 13l-15-11m35 11l-16-8m37 7l-17-6m37 6l-18-5m38 5l-18-4m38 4l-18-3m38 3l-18-3m38 3l-17-3m37 3l-17-2m38 2l-18-2m38 2l-18-2m38 2l-18-1m38 1l-18-1m38 0l-18 1m38-1l-18 1m38-1l-18 2m39-2l-18 2m38-2l-18 2m38-2l-18 3m38-3l-18 3m38-3l-18 3m38-3l-17 4m37-4l-17 4m37-4l-17 4m37-4l-17 5m38-5l-17 6m37-7l-17 8m36-8l-14 11m34-12l-11 15"/><path id="a20" transform="scale(.2)" d="M1285 48l11-15m8 14l15-10m5 9l17-6m3 6l18-4m2 4l18-2m2 2l18-2m3 2l18-1m2 1l18-1m2 1l18-2m2 2l18-2m2 2l18-3m2 3l18-3m2 3l18-4m2 4l18-4m3 4l17-5m3 5l17-5m3 5l17-5m3 5l17-4m3 4l18-4m2 4l18-3m2 3l18-2m2 1l18 0m2 0l18 2m3-2l17 3m3-3l17 4m3-4l17 5m3-5l17 6m3-7l16 8m5-8l14 10m6-11l12 14m-594 12l6-17m13 17l11-15m9 14l14-10m5 9l17-6m3 6l18-4m2 4l18-2m3 2l18-2m2 2l18-2m2 2l18-2m2 2l18-3m2 3l18-3m2 3l18-4m2 4l18-5m3 5l16-6m4 6l16-6m4 6l17-6m3 6l17-6m3 6l17-5m3 5l18-4m2 4l18-3m2 3l18-2m2 1l18 0m2 0l18 2m3-2l17 3m3-3l17 4m3-5l17 7m3-7l16 8m5-8l14 10m6-11l12 13m8-13l10 15m-592 11l4-18m16 18l7-17m12 16l11-14m9 14l15-10m4 9l17-6m3 6l18-4m3 4l17-3m3 3l18-3m2 3l18-3m2 3l18-4m2 4l18-5m2 5l17-6m3 6l17-7m4 7l16-7m4 7l16-8m4 8l16-7m4 7l16-7m4 7l17-6m3 6l17-5m3 5l18-4m2 4l18-2m2 1l18 0m2 0l18 2m3-2l17 4m3-5l17 6m3-6l16 8m4-8l15 10m6-11l13 13m7-13l11 15m10-15l8 16m-591 10l3-18m17 18l4-18m16 18l7-17m12 16l12-14m8 14l15-10m5 9l17-6m3 6l17-4m3 4l17-4m3 4l17-4m3 4l17-5m3 5l17-6m3 6l17-7m4 7l15-8m5 9l15-10m5 10l15-10m5 10l15-10m5 10l16-9m4 8l16-7m4 7l17-6m3 6l18-5m2 5l18-3m2 2l18 0m2 0l18 2m3-3l17 5m3-5l16 7m4-7l15 9m6-10l13 12m7-12l11 14m9-14l10 15m11-15l8 16m-591 10l2-18m18 18l3-18m17 18l4-18m16 18l7-17m12 16l12-13m8 13l15-10m5 9l17-6m3 6l17-5m3 5l17-5m3 5l17-6m3 6l17-7m4 7l15-9m5 10l15-11m5 11l14-11m6 11l14-11m6 11l15-11m5 11l15-10m5 9l16-9m4 9l17-7m3 7l17-5m3 5l18-3m2 2l18 0m2 0l18 3m3-4l17 6m3-6l16 9m4-10l14 12m7-12l12 14m8-14l10 15m11-15l8 16m12-16l7 16m-590 10l1-18m19 18l2-18m18 18l3-18m17 18l5-18m15 17l8-15m11 15l13-13m7 12l15-9m5 9l16-7m4 7l17-7m3 7l17-7m3 7l16-9m5 10l14-11m6 11l14-12m6 12l13-12m7 12l13-13m7 13l13-12m7 12l14-12m6 12l15-11m5 10l16-8m4 8l17-6m3 6l18-4m2 3l18 0m3-1l17 5m3-5l16 8m4-9l14 11m7-11l12 13m8-13l10 15m10-15l9 15m12-15l7 16m13-17l6 17m-589 10l1-18m19 18l2-18m18 18l3-18m17 18l5-18m15 17l8-16m11 16l13-13m7 12l15-9m5 9l16-7m4 7l16-7m4 7l16-8m5 8l14-10m6 11l13-12m7 12l12-13m8 13l12-14m8 14l12-14m9 14l11-14m9 14l12-13m8 13l13-12m6 12l15-11m5 10l16-8m4 8l18-5m2 4l18 0m3-1l17 5m3-5l15 9m5-10l13 13m8-13l10 14m10-14l9 15m12-16l7 17m13-17l6 17m14-17l5 18m-588 9l1-18m19 18l2-18m18 18l3-18m17 17l5-17m15 17l8-16m11 16l13-13m7 12l15-9m5 9l16-8m4 8l16-8m4 8l16-9m5 10l14-12m6 12l12-13m8 13l11-14m10 14l10-15m10 15l9-15m11 15l9-15m11 15l10-15m10 15l11-14m9 14l12-13m8 12l14-10m5 10l17-6m3 5l18 0m3-1l16 7m4-8l14 12m7-12l11 14m9-15l9 16m12-16l6 17m14-17l5 18m15-18l4 18m16-18l4 18m-587 8l1-18m19 18l2-17m18 17l3-17m17 17l5-17m15 17l8-16m11 16l13-13m7 12l15-10m5 10l16-8m4 8l16-8m4 8l15-10m6 11l13-13m7 13l11-14m10 14l9-15m11 15l8-16m12 16l8-16m12 16l7-16m13 16l8-16m12 16l8-16m12 16l10-15m10 15l12-14m8 13l15-9m4 8l18 0m3-2l15 10m6-10l10 14m10-15l8 17m13-17l5 17m15-17l4 18m16-18l3 18m17-18l3 18m18-18l1 18m-585 8l1-18m19 18l2-18m18 18l3-17m17 17l5-17m15 17l8-16m11 16l13-14m7 13l15-10m5 10l16-8m4 8l16-9m4 9l15-10m6 11l12-13m8 13l10-15m11 15l8-16m12 16l6-17m14 17l6-17m15 17l4-17m16 17l4-17m16 17l4-17m16 17l5-17m15 17l6-17m13 17l10-15m9 12l18 2m4-4l9 16m12-16l4 17m16-17l3 18m17-18l2 18m18-18l1 18m20-18l0 18m20-18l0 18m20-18l0 18m-584 8l1-18m19 18l2-18m18 18l3-18m17 18l5-17m15 17l8-16m11 16l13-14m7 13l15-10m5 10l16-9m4 9l16-9m4 9l15-11m6 12l12-14m8 14l10-16m11 16l6-17m14 17l5-17m16 17l3-18m17 18l2-18m18 18l1-18m20 18l-1-18m21 18l-1-18m21 18l-2-18m23 18l-6-17m28 14l-18 3m36-5l-6 17m26-17l-3 18m23-18l-3 18m23-18l-2 18m22-18l-2 18m22-18l-2 18m22-18l-2 18m22-18l-1 18m-583 8l1-18m19 18l2-18m18 18l3-18m17 18l5-17m15 17l8-16m11 15l13-13m7 13l15-10m5 10l16-9m4 9l16-9m4 9l15-11m6 12l12-14m9 14l8-16m12 16l6-17m15 17l2-18m18 18l1-18m19 18l-1-18m22 18l-3-18m23 18l-4-17m25 17l-7-17m27 17l-9-15m30 14l-14-11m35 9l-18 1m37-2l-13 11m33-12l-9 16m28-16l-6 17m26-17l-5 17m25-17l-5 17m25-17l-4 17m24-17l-3 17m23-17l-3 18m-581 8l1-18m19 18l2-18m18 18l3-18m17 18l5-17m15 17l8-16m11 15l13-13m7 13l15-10m5 10l16-8m4 8l16-9m4 9l15-10m6 10l12-13m9 14l8-16m12 16l5-17m16 17l1-18m19 18l-1-18m22 18l-4-18m24 18l-5-17m26 17l-8-16m28 16l-10-15m31 14l-14-12m34 11l-16-7m37 6l-18 1m38-2l-16 8m35-9l-12 13m32-13l-10 15m30-15l-8 16m28-16l-7 16m27-16l-7 17m27-17l-6 17m26-17l-5 17m-580 9l1-18m19 18l2-18m18 18l3-18m17 18l5-17m15 17l8-16m11 15l13-13m7 13l15-10m5 9l16-7m4 7l16-7m4 8l16-10m5 10l13-12m7 13l10-16m11 16l5-17m16 17l1-18m20 18l-3-18m23 18l-5-17m26 17l-8-17m28 17l-10-15m31 14l-13-13m33 13l-15-10m35 9l-17-5m38 4l-18 1m38-2l-17 7m36-7l-14 11m34-12l-12 14m32-14l-10 15m30-15l-9 16m29-16l-8 16m28-16l-7 17m27-17l-6 17m-579 9l1-18m19 18l2-18m18 18l3-18m17 18l5-17m15 17l8-16m11 15l13-13m7 13l15-10m5 9l16-7m4 7l17-6m3 6l16-8m5 9l14-11m6 11l11-14m10 15l6-17m15 17l1-18m20 18l-3-18m23 18l-6-17m27 17l-9-16m29 15l-11-14m32 14l-14-12m34 12l-16-9m37 8l-18-4m38 3l-18 1m38-2l-17 6m36-6l-15 10m35-11l-12 13m32-13l-11 14m31-14l-10 15m30-15l-9 16m29-16l-7 16m27-16l-6 17m-579 9l1-18m19 18l2-18m18 18l3-18m17 18l5-18m15 18l8-16m11 15l13-13m7 13l15-10m5 9l17-6m3 6l17-6m3 6l17-7m3 8l16-10m5 10l13-13m8 14l8-16m13 16l2-18m19 18l-3-18m23 18l-6-17m27 16l-10-15m30 15l-12-13m33 13l-15-11m35 10l-16-7m37 7l-18-4m38 3l-18 1m38-2l-17 6m37-6l-16 9m35-10l-13 13m33-13l-11 14m31-14l-10 15m30-15l-9 15m29-15l-8 16m28-16l-7 16m-578 10l1-18m19 18l2-18m18 18l3-18m17 18l5-18m15 17l8-15m11 15l13-13m7 12l15-9m5 9l17-6m3 6l17-5m3 5l17-5m3 5l17-7m4 8l15-10m5 10l12-14m9 15l6-17m15 17l0-18m21 18l-5-18m26 17l-10-15m30 15l-12-13m33 13l-15-11m35 10l-16-7m37 7l-18-4m38 3l-18 1m38-2l-17 6m37-6l-16 9m35-10l-13 13m33-13l-11 14m31-14l-10 15m30-15l-9 15m29-15l-8 16m28-16l-7 16m-578 10l1-18m19 18l2-18m18 18l3-18m17 18l5-18m15 17l8-15m11 15l13-13m7 12l16-9m4 9l17-6m3 6l17-5m3 5l17-5m3 5l17-5m3 5l17-7m4 8l14-11m6 11l12-14m9 15l6-18m16 18l-2-18m23 17l-8-16m28 16l-11-14m32 14l-15-11m35 10l-16-7m37 6l-18-2m38 2l-18 1m38-2l-17 6m36-7l-14 11m34-11l-12 13m32-13l-11 14m31-14l-10 15m30-15l-8 15m28-15l-7 16m27-17l-6 17m-579 10l1-18m19 18l2-18m18 18l3-18m17 17l5-17m15 17l8-16m11 16l13-13m7 12l16-8m4 8l17-6m3 5l17-3m3 3l18-3m2 3l18-3m2 4l18-5m2 5l17-7m4 7l15-9m5 10l13-13m8 13l7-16m15 17l-1-18m22 17l-8-16m29 16l-13-13m33 12l-16-8m37 7l-18-2m38 1l-18 3m37-3l-15 8m35-9l-12 13m32-13l-10 15m30-15l-9 15m29-16l-8 17m28-17l-7 17m27-17l-6 17m26-17l-5 18m-580 9l1-18m19 18l2-18m18 17l3-17m17 17l5-17m15 17l8-16m11 16l13-13m7 12l16-8m4 8l17-6m3 5l18-3m2 3l18-2m2 2l18-2m2 2l18-3m2 3l18-4m3 5l17-6m3 6l16-8m4 8l15-10m6 11l11-14m10 14l6-16m15 17l-2-18m23 17l-11-14m33 12l-18-3m37 2l-16 8m36-9l-11 14m30-15l-6 17m26-17l-5 17m25-17l-5 17m25-17l-5 17m26-17l-6 17m26-17l-5 18m25-18l-4 18m-581 8l1-18m19 18l2-18m18 18l3-17m17 17l5-17m15 17l8-16m11 16l13-13m7 12l16-8m4 7l17-5m3 5l18-3m2 3l18-2m2 2l18-2m2 2l18-2m2 2l18-2m2 2l18-3m3 3l17-4m3 5l17-6m3 6l17-7m3 7l17-8m3 8l16-8m4 8l17-7m3 6l18 0m3-2l13 12m8-13l7 17m14-17l3 18m17-18l1 18m20-18l-2 18m22-18l-3 18m23-18l-3 18m23-18l-3 18m23-18l-2 18m-582 8l1-18m19 18l2-18m18 18l3-17m17 17l5-17m15 17l8-16m11 16l13-13m7 12l16-9m4 8l17-5m3 5l18-3m2 3l18-2m2 2l18-1m2 1l18-1m2 1l18-2m2 2l18-2m3 2l17-2m3 2l17-2m3 2l18-3m2 3l18-3m2 3l18-2m2 2l18-1m2 0l18 2m2-2l18 5m3-6l15 10m6-10l11 14m9-15l7 17m14-17l2 18m19-18l-1 18m21-18l-1 18m21-18l-1 18m21-18l-1 18m-583 8l1-18m19 18l2-18m18 18l3-18m17 18l5-17m15 17l8-16m11 15l13-12m7 12l16-9m4 8l17-5m3 5l18-3m2 3l18-2m2 2l18-1m2 1l18-1m2 1l18-1m2 1l18-1m2 1l18-1m3 1l18-1m2 1l18-2m2 2l18-1m2 1l18-1m2 1l18 0m2-1l18 2m2-2l18 4m3-5l16 8m4-8l14 11m7-12l9 16m12-16l5 17m15-17l2 18m19-18l0 18m20-18l0 18m20-18l-1 18m-583 8l1-18m19 18l2-18m18 18l3-18m17 18l5-17m15 17l8-16m11 15l13-12m7 12l16-9m4 8l17-5m3 5l18-3m2 3l18-2m2 2l18-1m2 1l18-1m2 1l18-1m2 1l18-1m2 1l18-1m3 1l18-1m2 1l18-1m2 1l18-1m2 0l18 0m2 0l18 1m2-1l18 2m2-2l18 3m3-3l17 6m3-7l15 10m6-11l11 15m10-15l6 17m14-17l3 18m18-18l1 18m19-18l0 18m20-18l0 18m-584 8l1-18m19 18l2-18m18 18l3-18m17 18l5-17m15 17l8-16m11 15l13-13m7 13l16-9m4 8l17-5m3 5l18-3m2 3l18-2m2 2l18-1m2 0l18 0m2 0l18 0m2 0l18 0m2 0l18 0m3 0l18 0m2 0l18 0m2 0l18 0m2 0l18 1m2-1l18 1m2-1l18 2m2-2l18 3m3-3l17 5m3-6l15 9m6-10l11 14m9-14l8 16m13-16l4 17m16-17l2 18m19-18l1 18m19-18l0 18m-584 8l1-18m19 18l2-18m18 18l3-18m17 18l5-18m15 18l8-16m11 15l12-13m8 13l15-9m5 8l17-5m3 5l18-3m2 3l18-2m2 1l18 0m2 0l18 0m2 0l18 0m2 0l18 0m2 0l18 0m3 0l18 0m2 0l18 0m2 0l18 0m2 0l18 1m2-1l18 1m2-1l18 2m2-2l18 3m3-4l17 6m3-6l15 9m6-10l11 14m9-14l8 16m13-16l4 17m16-17l2 17m19-17l1 18m19-18l0 18m-584 8l1-18m20 18l1-18m18 18l3-18m17 18l4-18m16 18l7-17m12 16l12-14m8 14l15-10m5 9l17-6m3 6l18-4m2 3l18-1m2 1l18-1m2 1l18 0m2 0l18 0m2 0l18 0m2 0l18 0m3 0l18 0m2 0l18 0m2 0l18 0m2 0l18 1m2-1l18 1m2-1l18 2m2-2l18 3m3-4l16 6m4-6l15 10m6-11l11 14m9-14l7 16m14-16l4 17m16-17l2 17m19-17l1 17m19-17l0 18m-584 8l1-18m20 18l0-18m20 18l1-18m18 18l3-18m17 18l5-18m15 17l9-15m10 15l13-12m7 11l16-8m4 8l17-5m3 5l18-3m2 2l18-1m2 1l18 0m2 0l18 0m2 0l18 0m2 0l18 0m3 0l18 0m2 0l18 0m2 0l18 0m2 0l18 1m2-1l18 1m2-1l18 2m2-3l18 5m3-5l16 8m4-9l13 13m8-13l9 15m12-15l5 17m15-18l3 18m17-18l2 18m19-18l0 18m20-18l0 18m-583 9l0-18m20 18l0-18m20 18l0-18m20 18l1-18m19 18l2-18m18 18l3-18m16 18l7-17m13 16l10-14m9 14l15-11m5 10l17-6m3 6l18-4m2 3l18-2m2 2l18-1m2 1l18 0m2 0l18 0m3 0l18 0m2 0l18 0m2 0l18 1m2-1l18 2m2-2l18 3m2-4l17 7m4-8l14 11m7-11l10 14m10-14l7 16m14-17l3 18m17-18l2 18m18-18l1 18m20-18l0 18m20-18l0 18m20-18l0 18m-583 9l-1-18m21 18l-1-18m21 18l-1-18m21 18l-1-18m21 18l-2-18m23 18l-4-18m24 17l-6-16m27 16l-11-14m32 14l-15-11m35 10l-17-7m37 6l-17-3m38 3l-18-2m38 2l-18-1m38 1l-18 0m38 0l-18 0m38 0l-18 0m38 0l-18 0m38 0l-18 1m38-1l-18 2m38-3l-17 4m37-4l-16 6m36-7l-14 11m34-11l-11 14m30-15l-6 17m26-17l-4 18m24-18l-2 18m22-18l-1 18m21-18l-1 18m21-18l0 18m20-18l0 18m-583 9l-1-18m21 18l-1-18m21 18l-2-18m22 18l-3-18m24 17l-5-17m25 17l-8-15m29 15l-13-13m34 12l-16-8m36 8l-17-5m37 4l-18-2m38 2l-18-1m39 1l-18-1m38 1l-18 0m38 0l-18 0m38 0l-18 0m38 0l-18 0m38 0l-18 0m38 0l-18 0m38 0l-18 0m38 0l-17 1m38-2l-18 3m38-3l-18 5m38-5l-17 8m36-9l-13 12m33-12l-9 15m28-16l-5 18m25-18l-3 18m23-18l-2 18m22-18l-1 18m21-18l0 18m-583 8l-1-18m21 18l-1-17m21 17l-2-17m23 17l-4-17m24 17l-7-16m28 16l-11-14m32 13l-15-10m35 10l-17-6m37 5l-18-3m38 3l-18-2m38 2l-18-1m39 1l-18-1m38 1l-18 0m38 0l-18 0m38 0l-18 0m38 0l-18 0m38 0l-18 0m38 0l-18 0m38 0l-18 0m38 0l-18 1m39-1l-18 1m38-2l-18 4m38-4l-17 6m36-7l-14 10m34-10l-11 14m31-15l-8 17m27-17l-4 18m24-18l-2 18m22-18l-1 18m21-18l-1 18m-582 8l-1-18m21 18l-1-18m21 18l-2-17m23 17l-5-17m25 17l-8-16m29 16l-12-14m33 13l-16-9m36 8l-17-5m37 5l-18-3m38 3l-18-2m38 2l-18-1m39 1l-18-1m38 1l-18 0m38 0l-18 0m38 0l-18 0m38 0l-18 0m38 0l-18 0m38 0l-18 0m38 0l-18 0m38 0l-18 0m39-1l-18 2m38-2l-18 3m38-3l-17 5m37-6l-16 9m35-9l-12 13m32-14l-8 16m27-16l-4 18m24-18l-2 18m22-18l-1 18m21-18l-1 18m-582 8l-1-18m21 18l-2-18m22 18l-2-18m23 18l-5-17m25 17l-8-16m29 16l-13-13m34 12l-16-9m36 8l-17-5m37 5l-18-3m38 3l-18-2m38 2l-18-1m39 1l-18-1m38 1l-18-1m38 1l-18 0m38 0l-18 0m38 0l-18 0m38 0l-18 0m38 0l-18 0m38 0l-18 0m38-1l-18 1m39-1l-18 2m38-2l-18 3m38-3l-18 5m38-6l-16 9m35-9l-12 13m32-14l-9 16m28-16l-4 17m24-17l-3 18m23-18l-1 18m21-18l-1 18m-582 8l-1-18m21 18l-2-18m22 18l-3-18m24 18l-5-17m25 17l-8-16m29 15l-13-12m34 12l-16-9m36 8l-17-5m37 5l-18-3m38 3l-18-2m38 2l-18-1m39 1l-18-1m38 1l-18-1m38 1l-18-1m38 1l-18 0m38 0l-18 0m38 0l-18 0m38-1l-18 1m38-1l-18 1m38-1l-18 1m39-1l-18 2m38-2l-18 3m38-3l-18 5m38-6l-16 9m35-9l-12 12m32-13l-9 16m28-16l-5 17m25-17l-3 18m23-18l-1 18m21-18l-1 18m-582 8l-1-18m21 18l-2-18m22 18l-3-18m24 18l-5-17m25 17l-8-16m29 15l-13-12m34 12l-16-9m36 8l-17-5m37 5l-18-3m38 3l-18-2m38 2l-18-1m39 1l-18-1m38 0l-18 0m38 0l-18 0m38 0l-18 0m38 0l-18 0m38 0l-18 1m38-1l-18 1m38-1l-18 1m38-1l-18 1m39-1l-18 2m38-2l-18 3m38-3l-18 5m38-6l-16 9m35-9l-13 12m33-13l-9 16m28-16l-5 17m25-17l-3 18m23-18l-1 18m21-18l-1 18m-582 8l-1-18m21 18l-2-18m22 18l-3-18m24 18l-5-17m25 17l-8-16m29 15l-13-12m34 12l-16-9m36 8l-17-5m37 5l-18-3m38 3l-18-2m38 1l-18 0m39 0l-18 0m38 0l-18 0m38 0l-18 0m38 0l-18 0m38 0l-18 0m38 0l-18 0m38 0l-18 1m38-1l-18 1m38-1l-18 1m39-1l-18 2m38-2l-18 3m38-3l-18 4m38-5l-16 8m35-9l-13 13m33-13l-9 16m28-16l-5 17m25-17l-3 17m23-17l-1 18m21-18l-1 18m-582 8l-1-18m21 18l-2-18m22 18l-3-18m24 18l-5-17m25 17l-8-16m29 15l-13-12m34 12l-16-9m36 8l-17-5m37 5l-18-3m38 2l-18-1m38 1l-18 0m39 0l-18 0m38 0l-18 0m38 0l-18 0m38 0l-18 0m38 0l-18 0m38 0l-18 0m38 0l-18 0m38 0l-18 1m38-1l-18 1m39-1l-18 1m38-1l-18 3m38-3l-18 4m38-5l-16 8m35-9l-13 13m33-13l-9 16m28-16l-5 17m25-17l-3 17m23-17l-1 18m21-18l-1 18m-582 8l-1-18m21 18l-2-18m22 18l-3-18m24 18l-5-18m25 18l-8-16m29 15l-13-13m34 12l-16-8m36 8l-17-5m37 5l-18-3m38 2l-18-1m38 1l-18 0m39 0l-18 0m38 0l-18 0m38 0l-18 0m38 0l-18 0m38 0l-18 0m38 0l-18 0m38 0l-18 0m38 0l-18 1m38-1l-18 1m39-1l-18 1m38-1l-18 2m38-3l-18 5m38-5l-16 8m35-9l-13 13m33-13l-9 16m28-16l-5 17m25-17l-3 17m23-18l-1 18m21-18l-1 18m-582 9l-1-18m21 18l-2-18m22 18l-3-18m24 18l-5-18m25 17l-8-15m29 15l-13-13m34 12l-16-8m36 8l-17-5m37 4l-18-2m38 2l-18-1m38 1l-18-1m39 1l-18 0m38 0l-18 0m38 0l-18 0m38 0l-18 0m38 0l-18 0m38 0l-18 0m38 0l-18 0m38 0l-18 0m38 0l-18 1m39-1l-18 1m38-1l-18 2m38-3l-18 5m38-5l-16 8m35-9l-13 13m33-13l-9 16m28-16l-5 17m25-18l-3 18m23-18l-1 18m21-18l-1 18m-582 9l-1-18m21 18l-2-18m22 18l-3-18m24 18l-5-18m25 17l-8-15m29 15l-13-13m34 12l-16-8m36 8l-17-5m37 4l-18-2m38 2l-18-1m38 1l-18-1m39 1l-18 0m38 0l-18 0m38 0l-18 0m38 0l-18 0m38 0l-18 0m38 0l-18 0m38 0l-18 0m38 0l-18 0m38 0l-18 1m39-1l-18 1m38-1l-18 2m38-3l-18 5m38-5l-16 8m35-9l-13 13m33-13l-9 15m28-16l-5 18m25-18l-3 18m23-18l-1 18m21-18l-1 18m-582 9l-1-18m21 18l-2-18m22 18l-3-18m24 18l-5-18m25 17l-8-16m29 16l-13-13m34 12l-16-8m36 8l-17-5m37 4l-18-2m38 2l-18-1m38 1l-18-1m39 1l-18 0m38 0l-18 0m38 0l-18 0m38 0l-18 0m38 0l-18 0m38 0l-18 0m38 0l-18 0m38 0l-18 0m38 0l-18 1m39-1l-18 1m38-1l-18 2m38-3l-18 5m38-5l-16 8m35-9l-13 13m33-13l-9 15m28-16l-5 18m25-18l-3 18m23-18l-1 18m21-18l-1 18m-582 9l-1-18m21 18l-2-18m22 18l-3-18m24 17l-5-17m25 17l-8-16m29 16l-13-13m34 12l-16-8m36 8l-17-5m37 4l-18-2m38 2l-18-1m38 1l-18-1m39 1l-18-1m38 1l-18 0m38 0l-18 0m38 0l-18 0m38 0l-18 0m38 0l-18 0m38 0l-18 0m38 0l-18 0m38 0l-18 0m39 0l-18 1m38-2l-18 3m38-3l-18 5m38-5l-16 8m35-9l-13 13m33-14l-9 16m28-16l-5 18m25-18l-3 18m23-18l-1 18m21-18l-1 18m-582 8l-1-18m21 18l-2-17m22 17l-3-17m24 17l-5-17m25 17l-8-16m29 16l-13-13m34 12l-16-8m36 7l-17-4m37 4l-18-2m38 2l-18-1m38 1l-18-1m39 1l-18-1m38 1l-18 0m38 0l-18 0m38 0l-18 0m38 0l-18 0m38 0l-18 0m38 0l-18 0m38 0l-18 0m38 0l-18 0m39 0l-18 1m38-2l-18 3m38-3l-18 5m38-6l-16 9m35-9l-13 12m33-13l-9 16m28-16l-5 17m25-17l-3 18m23-18l-1 18m21-18l-1 18m-582 8l-1-18m21 18l-2-18m22 18l-3-17m24 17l-5-17m25 17l-8-16m29 16l-13-13m34 12l-16-8m36 7l-17-4m37 4l-18-3m38 3l-18-2m38 2l-18-1m39 1l-18-1m38 1l-18-1m38 1l-18 0m38 0l-18 0m38 0l-18 0m38 0l-18 0m38 0l-18 0m38 0l-18 0m38 0l-18 0m39-1l-18 2m38-2l-18 3m38-3l-18 5m38-6l-16 9m35-9l-13 12m33-13l-9 16m28-16l-5 17m25-17l-3 18m23-18l-1 18m21-18l-1 18m-582 8l-1-18m21 18l-2-18m22 18l-3-18m24 18l-5-17m25 17l-8-16m29 15l-13-12m34 12l-16-9m36 8l-17-5m37 5l-18-3m38 3l-18-2m38 2l-18-1m39 1l-18-1m38 1l-18-1m38 1l-18-1m38 1l-18 0m38 0l-18 0m38 0l-18 0m38 0l-18 0m38 0l-18 0m38-1l-18 1m39-1l-18 2m38-2l-18 3m38-3l-18 5m38-6l-16 9m35-9l-13 12m33-13l-9 16m28-16l-5 17m25-17l-3 18m23-18l-1 18m21-18l-1 18m-582 8l-1-18m21 18l-2-18m22 18l-3-18m24 18l-5-17m25 17l-8-16m29 15l-13-12m34 12l-16-9m36 8l-17-5m37 5l-18-3m38 3l-18-2m38 2l-18-1m39 1l-18-1m38 1l-18-1m38 1l-18-1m38 0l-18 0m38 0l-18 1m38-1l-18 1m38-1l-18 1m38-1l-18 1m38-1l-18 1m39-1l-18 2m38-2l-18 3m38-3l-18 5m38-6l-16 9m35-9l-13 12m33-13l-9 16m28-16l-5 17m25-17l-3 18m23-18l-1 18m21-18l-1 18m-582 8l-1-18m21 18l-2-18m22 18l-3-18m24 18l-5-17m25 17l-8-16m29 15l-13-12m34 12l-16-9m36 8l-17-5m37 5l-18-3m38 3l-18-2m38 2l-18-1m39 0l-18 0m38 0l-18 0m38 0l-18 0m38 0l-18 0m38 0l-18 0m38 0l-18 0m38 0l-18 1m38-1l-18 1m38-1l-18 1m39-1l-18 2m38-2l-18 3m38-3l-18 5m38-6l-16 8m35-8l-13 12m33-13l-9 16m28-16l-5 17m25-17l-3 18m23-18l-1 18m21-18l-1 18m-582 8l-1-18m21 18l-2-18m22 18l-3-18m24 18l-5-17m25 17l-8-16m29 15l-13-12m34 12l-16-9m36 8l-17-5m37 5l-18-3m38 3l-18-2m38 1l-18 0m39 0l-18 0m38 0l-18 0m38 0l-18 0m38 0l-18 0m38 0l-18 0m38 0l-18 0m38 0l-18 0m38 0l-18 1m38-1l-18 1m39-1l-18 2m38-2l-18 3m38-3l-18 4m38-5l-16 8m35-9l-13 13m33-13l-9 16m28-16l-5 17m25-17l-3 17m23-17l-1 18m21-18l-1 18m-582 8l-1-18m21 18l-2-18m22 18l-3-18m24 18l-5-17m25 17l-8-16m29 15l-13-12m34 11l-16-8m36 8l-17-5m37 5l-18-3m38 2l-18-1m38 1l-18 0m39 0l-18 0m38 0l-18 0m38 0l-18 0m38 0l-18 0m38 0l-18 0m38 0l-18 0m38 0l-18 0m38 0l-18 1m38-1l-18 1m39-1l-18 1m38-1l-18 2m38-2l-18 4m38-5l-16 8m35-9l-13 13m33-13l-9 16m28-16l-5 17m25-17l-3 17m23-17l-1 17m21-17l-1 18m-582 8l-1-18m21 18l-2-18m22 18l-3-18m24 18l-5-18m25 18l-8-16m29 15l-13-13m34 12l-16-8m36 8l-17-5m37 5l-18-3m38 2l-18-1m38 1l-18 0m39 0l-18 0m38 0l-18 0m38 0l-18 0m38 0l-18 0m38 0l-18 0m38 0l-18 0m38 0l-18 0m38 0l-18 0m38 0l-18 1m39-1l-18 1m38-1l-18 2m38-3l-18 5m38-5l-16 8m35-9l-13 13m33-13l-9 16m28-16l-5 17m25-18l-3 18m23-18l-1 18m21-18l-1 18m-582 9l-1-18m21 18l-2-18m22 18l-3-18m24 18l-5-18m25 17l-8-15m29 15l-13-13m34 12l-16-8m36 8l-17-5m37 4l-18-2m38 2l-18-1m38 1l-18-1m39 1l-18 0m38 0l-18 0m38 0l-18 0m38 0l-18 0m38 0l-18 0m38 0l-18 0m38 0l-18 0m38 0l-18 0m38 0l-18 1m39-1l-18 1m38-1l-18 2m38-3l-18 5m38-5l-16 8m35-9l-13 13m33-13l-9 15m28-16l-5 18m25-18l-3 18m23-18l-1 18m21-18l-1 18m-582 9l-1-18m21 18l-2-18m22 18l-3-18m24 18l-5-18m25 17l-8-15m29 15l-13-13m34 12l-16-8m36 8l-17-5m37 4l-18-2m38 2l-18-1m38 1l-18-1m39 1l-18 0m38 0l-18 0m38 0l-18 0m38 0l-18 0m38 0l-18 0m38 0l-18 0m38 0l-18 0m38 0l-18 0m38 0l-18 1m39-1l-18 1m38-1l-18 2m38-3l-18 5m38-5l-16 8m35-9l-13 13m33-13l-9 15m28-16l-5 18m25-18l-3 18m23-18l-1 18m21-18l-1 18m-582 9l-2-18m22 18l-2-18m22 18l-4-18m25 17l-8-16m29 16l-12-14m32 13l-15-9m36 9l-17-6m37 5l-18-3m38 3l-18-2m38 2l-18-1m38 1l-18-1m39 1l-18 0m38 0l-18 0m38 0l-18 0m38 0l-18 0m38 0l-18 0m38 0l-18 0m38 0l-18 0m38 0l-18 0m38 0l-18 0m39 0l-18 1m38-1l-18 1m38-2l-18 3m38-3l-17 6m37-7l-16 10m35-10l-12 13m32-14l-8 17m27-17l-4 18m24-18l-2 18m22-18l-1 18m-582 8l-2-17m22 17l-4-17m25 17l-7-16m28 16l-12-14m32 13l-15-9m36 9l-17-6m37 5l-18-3m38 3l-18-2m38 2l-18-1m38 1l-18-1m38 1l-18 0m39 0l-18 0m38 0l-18 0m38 0l-18 0m38 0l-18 0m38 0l-18 0m38 0l-18 0m38 0l-18 0m38 0l-18 0m38 0l-18 0m39 0l-18 0m38 0l-18 1m38-1l-18 1m38-2l-18 4m38-4l-17 6m37-7l-15 10m34-10l-11 14m31-15l-8 17m27-17l-4 18m24-18l-2 18m-581 8l-4-17m25 17l-7-16m27 16l-11-14m32 13l-15-10m36 10l-17-6m37 5l-18-3m38 3l-18-2m38 2l-18-1m38 1l-18-1m38 1l-18-1m38 1l-18 0m39 0l-18 0m38 0l-18 0m38 0l-18 0m38 0l-18 0m38 0l-18 0m38 0l-18 0m38 0l-18 0m38 0l-18 0m38 0l-18 0m39 0l-18 0m38 0l-18 0m38 0l-18 1m38-2l-18 2m38-2l-18 4m38-4l-17 6m37-7l-15 10m34-10l-11 14m31-15l-7 17m27-17l-4 18m-579 8l-7-17m27 17l-11-14m32 13l-15-10m35 10l-16-7m37 6l-18-3m38 3l-18-2m38 2l-18-1m38 1l-18-1m38 1l-18-1m38 1l-18 0m38 0l-18 0m39 0l-18 0m38 0l-18 0m38 0l-18 0m38 0l-18 0m38 0l-18 0m38 0l-18 0m38 0l-18 0m38 0l-18 0m38 0l-18 0m39 0l-18 0m38 0l-18 0m38 0l-18 0m38-1l-18 1m38-1l-18 2m38-2l-18 4m38-4l-17 6m37-7l-15 10m34-11l-11 15m31-15l-7 17m-576 9l-11-15m32 14l-15-10m35 10l-17-7m38 6l-18-4m38 4l-18-2m38 2l-18-1m38 1l-18-1m38 1l-18-1m38 1l-18-1m38 1l-18-1m38 1l-18 0m39 0l-18 0m38 0l-18 0m38 0l-18 0m38 0l-18 0m38 0l-18 0m38 0l-18 0m38 0l-18 0m38 0l-18 0m38 0l-18 0m39 0l-18 0m38 0l-18 0m38-1l-18 1m38-1l-18 1m38-1l-18 1m38-1l-18 2m38-2l-17 4m37-4l-17 6m37-7l-15 10m35-11l-11 15"/><path id="a21" transform="scale(.2)" d="M1285 1395l12-14m8 14l13-12m7 12l14-11m6 10l15-9m5 9l15-9m5 9l16-8m4 8l16-8m4 8l16-7m4 7l17-7m3 7l17-6m3 6l17-5m3 5l18-4m2 3l18-3m2 3l18-2m2 2l18-1m3 1l18 0m2 0l18 1m2-1l18 2m2-2l18 2m2-3l18 4m2-4l18 5m2-5l18 6m3-6l16 6m4-6l16 7m4-7l16 8m4-8l16 8m4-8l16 9m5-10l14 11m6-11l13 12m7-12l12 13m-595 12l10-15m10 15l12-14m8 14l13-12m7 12l14-11m6 10l15-10m5 10l15-9m5 9l16-8m4 8l16-8m4 8l17-7m3 7l17-6m3 6l17-6m3 6l18-5m2 4l18-3m2 3l18-2m2 2l18-1m3 1l18 0m2 0l18 1m2-1l18 2m2-3l18 4m2-4l18 4m2-4l18 5m2-5l17 6m4-6l16 7m4-7l16 7m4-7l16 8m4-8l16 9m4-10l15 11m6-11l13 12m7-12l12 13m8-13l11 14m-594 11l10-15m10 15l11-14m9 14l12-14m8 14l13-12m7 12l14-11m6 10l15-10m5 10l15-9m5 9l16-8m4 8l16-8m4 8l17-7m3 7l17-6m3 6l18-5m2 4l18-3m2 3l18-2m2 2l18-1m3 1l18 0m2 0l18 1m2-1l18 2m2-3l18 4m2-4l18 5m2-5l17 6m3-6l17 6m4-6l16 7m4-7l16 8m4-9l15 10m5-10l15 11m6-11l13 12m7-12l12 13m8-13l11 14m9-14l10 15m-593 10l9-16m11 16l10-15m10 15l11-15m9 15l12-14m8 14l13-13m7 13l14-12m6 11l15-10m5 10l16-9m4 9l16-8m4 8l17-7m3 7l17-6m3 6l18-6m2 5l18-4m2 4l18-2m3 2l17-1m3 1l18 0m2 0l18 1m2-2l18 3m2-3l18 4m2-4l17 5m3-5l17 6m4-6l16 7m4-7l16 8m4-9l15 10m5-10l15 11m5-11l14 12m7-12l12 13m8-13l11 14m9-14l10 15m11-15l9 15m-593 10l8-16m12 16l9-16m11 16l10-15m10 15l11-15m9 15l12-14m8 14l13-13m7 12l14-11m6 11l15-10m5 10l16-9m4 9l16-8m4 8l17-7m3 7l17-6m3 5l18-4m2 4l18-3m3 3l17-2m3 2l18 0m2 0l18 1m2-2l18 3m2-3l18 4m2-4l17 5m3-5l17 6m4-6l16 7m4-8l15 9m5-9l15 11m5-11l14 12m7-12l12 13m8-13l11 14m9-14l10 14m10-15l10 16m11-16l8 16m-592 10l8-16m12 16l8-16m13 16l8-16m11 16l10-15m10 15l11-15m9 15l12-14m8 14l14-13m6 12l15-10m5 10l15-10m5 10l16-9m4 9l17-8m3 8l17-7m3 6l18-4m2 4l18-3m3 3l17-2m3 2l18 0m2 0l18 1m2-2l18 3m2-3l17 5m3-5l17 6m3-6l17 7m4-8l15 9m5-9l15 10m5-10l14 11m6-11l13 13m8-13l11 14m9-14l10 14m10-15l10 16m11-16l8 16m12-16l8 17m-591 9l6-17m14 17l7-16m13 16l8-16m12 16l8-16m12 16l10-15m9 15l12-14m8 14l13-13m7 12l14-11m6 11l15-10m5 10l16-9m4 9l16-8m4 8l17-7m3 7l18-6m2 5l18-3m3 3l17-2m3 2l18 0m2-1l18 2m2-2l18 4m2-4l17 5m3-5l17 6m3-6l17 8m4-9l15 10m5-10l14 11m6-11l14 12m7-12l12 13m8-13l11 14m9-15l10 16m10-16l9 16m12-16l7 17m13-17l7 17m-590 9l6-17m14 17l6-17m14 17l7-16m13 16l8-16m12 16l9-15m11 15l10-15m9 15l12-14m8 14l13-13m7 12l14-11m6 11l15-10m5 10l16-9m4 9l17-8m3 8l17-6m3 5l18-4m3 4l17-2m3 2l18 0m2-1l18 2m2-2l17 4m3-4l17 6m3-6l17 7m4-8l15 9m5-9l15 10m5-10l14 11m6-11l13 13m8-13l11 14m9-15l10 16m10-16l9 16m12-16l7 17m13-17l7 17m13-17l6 17m-589 9l5-17m15 17l5-17m15 17l6-17m14 17l7-16m13 16l8-16m12 16l9-15m11 15l11-14m9 14l12-14m8 13l13-12m6 12l15-11m5 11l15-10m5 10l16-9m4 9l17-7m3 6l18-4m3 4l17-3m3 3l18-1m2 0l18 2m2-2l17 4m3-4l17 6m3-7l16 9m5-9l15 10m5-10l14 11m6-11l13 12m7-12l12 13m9-14l10 15m10-15l9 16m11-16l8 16m13-16l6 17m14-17l6 17m14-17l6 17m-589 9l4-17m16 17l5-17m15 17l5-17m15 17l6-17m14 17l7-16m13 16l9-16m11 16l10-15m10 15l11-14m9 14l12-14m8 13l13-12m7 12l14-11m6 11l15-9m5 9l16-8m4 7l17-5m3 5l17-3m3 3l18-1m2 0l18 3m2-3l17 5m3-6l17 8m3-8l16 9m5-9l14 11m6-11l13 12m7-12l12 13m9-14l10 15m10-15l9 16m11-16l8 16m13-16l6 17m14-17l6 17m14-17l5 17m15-17l5 17m-588 9l3-17m17 17l4-17m16 17l5-17m15 17l5-17m15 17l6-17m14 17l8-16m12 16l9-16m11 16l10-15m10 15l11-15m9 15l12-14m8 13l13-12m7 12l14-11m6 11l15-9m5 9l16-7m4 6l17-3m3 3l18-1m2 0l18 3m2-3l17 6m3-7l16 9m5-9l14 11m6-11l13 12m7-12l12 13m8-14l11 15m10-15l9 15m11-15l8 16m12-16l7 17m14-17l5 17m15-17l5 17m15-17l4 17m16-17l4 18m-587 8l3-18m17 18l3-18m17 18l4-18m16 18l4-17m16 17l5-17m15 17l6-17m14 17l8-16m12 16l9-16m11 16l10-15m10 15l11-15m9 15l12-14m8 13l13-12m7 12l14-10m6 10l16-8m4 7l17-4m3 4l18-1m2 0l17 4m3-5l17 8m3-8l15 10m6-10l13 12m7-13l12 14m8-14l11 15m10-15l9 16m11-16l8 16m12-16l7 17m14-17l5 17m15-17l4 17m16-17l4 17m16-17l3 18m18-18l2 18m-586 8l2-18m18 18l2-18m18 18l3-18m17 18l3-18m17 18l4-18m16 18l5-17m15 17l6-17m14 17l7-17m13 17l8-16m12 16l9-16m11 16l10-15m10 15l12-14m8 13l13-12m7 12l15-10m5 9l17-5m3 5l18-1m2 0l17 5m3-6l16 9m5-9l13 12m7-13l12 14m8-14l10 15m11-15l9 16m11-16l8 16m12-16l7 17m14-17l5 17m15-17l4 17m16-17l3 18m17-18l3 18m18-18l2 18m18-18l1 18m-585 8l1-18m20 18l0-18m20 18l1-18m19 18l1-18m19 18l2-18m18 18l3-18m17 18l4-17m16 17l5-17m15 17l6-17m14 17l6-17m14 17l7-16m13 16l8-16m11 16l11-15m9 14l13-12m7 12l16-8m4 7l18-1m2-1l17 7m3-7l14 11m7-12l11 15m9-15l9 16m12-16l7 16m13-16l7 17m13-17l6 17m15-17l4 17m16-17l3 17m17-17l3 18m17-18l2 18m19-18l1 18m19-18l1 18m19-18l1 18m-584 8l-1-18m21 18l-1-18m21 18l0-18m20 18l0-18m20 18l1-18m19 18l2-18m18 18l3-18m17 18l3-18m17 18l4-18m16 18l4-18m16 18l5-17m15 17l5-17m15 17l7-17m13 17l9-16m10 15l14-12m6 11l18-2m2 0l15 11m6-12l10 15m11-15l7 16m13-16l6 17m14-17l5 17m15-17l4 17m17-17l3 17m17-17l3 17m17-17l2 18m18-18l1 18m20-18l0 18m20-18l0 18m20-18l0 18m20-18l0 18m-583 8l-2-18m22 18l-1-18m21 18l-1-18m21 18l-1-18m21 18l0-18m20 18l1-18m19 18l1-18m19 18l1-18m19 18l2-18m18 18l2-18m19 18l1-18m19 18l1-18m19 18l1-18m19 18l2-18m18 18l3-18m15 16l16-7m6 4l4 17m16-17l2 18m18-18l2 18m19-18l1 18m19-18l1 18m19-18l1 18m19-18l1 18m19-18l1 18m19-18l1 18m20-18l-1 18m21-18l-1 18m21-18l-1 18m21-18l-1 18m21-18l-1 18m-582 8l-2-18m22 18l-2-18m22 18l-2-18m22 18l-2-18m22 18l-1-18m21 18l-1-18m21 18l0-18m20 18l0-18m21 18l-1-18m21 18l-2-18m22 18l-2-18m22 18l-3-18m24 18l-5-18m25 18l-6-17m27 16l-11-14m32 13l-18-2m37-1l-12 14m32-14l-7 16m26-16l-4 17m24-17l-3 17m23-17l-2 17m22-17l-1 18m21-18l-1 18m21-18l-1 18m22-18l-2 18m22-18l-2 17m22-17l-2 17m22-17l-2 17m22-17l-2 17m22-17l-2 17m-581 9l-3-18m23 18l-3-18m23 18l-3-18m23 18l-3-18m23 18l-2-18m23 18l-3-18m23 18l-3-18m23 18l-3-18m23 18l-3-18m23 18l-4-18m25 18l-6-17m26 17l-7-17m27 17l-8-16m29 15l-12-14m32 14l-15-10m36 8l-18 0m38-1l-16 8m35-9l-12 14m32-14l-9 15m29-15l-7 16m27-16l-6 17m26-17l-5 17m25-17l-4 17m24-17l-3 17m23-17l-3 17m23-17l-3 17m23-17l-4 17m24-17l-3 17m23-17l-3 17m23-17l-3 17m-580 9l-4-18m24 18l-4-18m24 18l-4-18m25 18l-5-18m25 18l-4-18m24 18l-4-18m24 18l-4-18m24 18l-4-18m24 18l-5-17m26 17l-7-17m27 17l-8-17m28 16l-9-15m30 15l-12-13m32 13l-14-11m35 10l-17-6m37 5l-18 0m38-1l-17 6m37-6l-15 10m34-11l-12 14m32-14l-10 15m30-15l-8 16m28-16l-7 16m27-16l-6 17m26-17l-5 17m25-17l-5 17m25-17l-5 17m25-17l-4 17m24-17l-4 17m25-17l-5 17m25-17l-5 17m-579 9l-4-18m24 18l-5-18m26 18l-6-17m26 17l-6-17m26 17l-5-18m25 18l-5-18m25 18l-5-17m25 17l-6-17m27 17l-8-17m28 17l-9-16m29 15l-10-15m31 15l-12-14m32 14l-14-12m34 12l-15-10m36 9l-17-5m37 4l-18 0m38-1l-17 5m37-5l-16 8m36-9l-14 12m34-12l-12 14m31-14l-10 15m30-15l-8 16m28-16l-7 16m27-16l-6 16m26-16l-6 17m26-17l-5 17m25-17l-5 17m26-17l-6 17m26-17l-6 17m26-17l-6 17m-578 9l-5-17m26 17l-6-17m26 17l-6-17m26 17l-6-17m26 17l-6-17m26 17l-6-17m26 17l-6-17m26 17l-7-17m28 16l-9-15m29 15l-10-15m30 15l-11-14m32 14l-13-12m33 12l-15-11m36 10l-17-7m37 7l-18-4m38 3l-18 0m38 0l-18 3m38-4l-16 7m36-7l-15 10m35-11l-13 12m33-12l-12 14m32-14l-11 15m30-15l-8 16m28-16l-7 16m27-16l-7 16m28-16l-7 16m27-16l-7 16m27-16l-7 16m27-16l-7 16m27-16l-6 17m-578 9l-6-17m27 17l-7-17m27 17l-7-17m27 17l-7-17m27 17l-7-17m27 17l-7-17m27 17l-7-17m28 16l-9-15m29 15l-10-15m30 15l-11-14m32 14l-13-13m33 13l-14-11m34 10l-15-9m36 9l-17-7m37 7l-18-4m38 3l-18 0m38 0l-18 3m38-4l-17 6m37-6l-16 9m36-10l-14 11m34-11l-13 13m33-13l-12 14m32-14l-10 15m30-15l-9 15m29-15l-8 16m28-16l-8 16m28-16l-8 16m28-16l-8 16m28-16l-7 16m27-16l-7 16m-576 10l-7-17m27 17l-7-17m27 16l-7-16m27 16l-7-16m27 16l-7-16m27 16l-7-16m28 16l-9-16m29 16l-10-15m30 15l-11-14m31 14l-12-13m33 13l-14-12m34 12l-15-11m35 10l-16-8m37 8l-17-6m37 6l-18-4m38 3l-18 0m38 0l-18 2m38-3l-17 6m37-6l-16 8m36-8l-15 10m35-11l-14 12m34-12l-12 13m32-13l-11 14m31-14l-10 15m30-15l-9 15m29-15l-9 16m29-16l-8 16m28-16l-8 16m28-16l-8 16m28-16l-7 16m-576 9l-7-16m27 16l-8-16m28 16l-8-16m28 16l-8-16m28 16l-8-16m28 16l-8-16m29 16l-9-15m29 15l-10-15m30 15l-11-14m32 14l-13-13m33 13l-14-12m34 11l-15-9m35 9l-16-8m37 8l-18-6m38 5l-18-2m38 2l-18 0m38 0l-18 2m38-3l-17 5m37-5l-16 7m36-7l-15 9m35-10l-14 11m34-11l-13 13m33-13l-12 14m32-14l-10 15m30-15l-10 15m30-15l-9 15m29-15l-9 15m29-15l-9 15m29-15l-8 16m28-16l-8 16m-575 9l-8-16m28 16l-8-16m28 16l-8-16m28 16l-8-16m28 16l-8-16m28 16l-8-15m29 15l-10-15m30 15l-11-14m31 14l-12-13m33 13l-14-12m34 12l-15-11m35 10l-15-9m35 9l-16-7m37 7l-18-5m38 4l-18-2m38 2l-18 0m38 0l-18 2m38-3l-17 5m37-5l-16 7m36-7l-16 9m36-10l-14 11m34-11l-13 12m33-12l-12 13m32-13l-11 14m31-14l-10 15m30-15l-10 15m30-15l-9 15m29-15l-9 15m29-15l-9 15m29-15l-8 16m-575 9l-8-16m28 16l-8-16m28 16l-8-16m28 16l-8-15m28 15l-8-15m29 15l-10-15m30 15l-10-15m30 15l-11-14m31 14l-12-13m33 13l-14-12m34 11l-15-10m35 10l-16-9m36 9l-16-7m37 7l-18-5m38 4l-18-2m38 2l-18 0m38 0l-18 2m38-3l-17 5m37-5l-17 7m37-7l-16 8m36-9l-15 11m35-11l-14 12m34-12l-12 13m32-13l-11 14m31-14l-10 14m30-14l-10 15m30-15l-10 15m30-15l-9 15m29-15l-9 15m29-15l-8 15m-575 10l-8-16m28 16l-8-16m28 16l-9-16m29 16l-9-15m29 15l-9-15m30 15l-10-15m30 15l-10-15m30 15l-11-14m31 14l-12-13m33 13l-14-12m34 11l-15-10m35 10l-16-8m36 8l-16-7m37 7l-18-5m38 4l-18-2m38 2l-18 0m38 0l-18 2m38-3l-17 5m37-5l-17 6m37-6l-16 8m36-9l-15 11m35-11l-14 12m34-12l-12 13m32-13l-11 14m31-14l-11 14m31-14l-10 14m30-14l-10 15m30-15l-9 15m29-15l-9 15m29-15l-9 15m-574 10l-8-16m28 16l-9-16m29 16l-9-16m29 16l-9-15m29 15l-9-15m30 15l-10-15m30 15l-10-15m30 15l-11-14m31 14l-12-14m33 14l-14-12m34 11l-15-10m35 10l-16-8m36 8l-16-7m37 6l-18-4m38 4l-18-2m38 2l-18 0m38-1l-18 3m38-3l-17 5m37-5l-17 6m37-6l-16 8m36-9l-15 11m35-11l-13 12m33-12l-12 13m32-13l-11 14m31-14l-11 14m31-14l-10 14m30-14l-10 14m30-14l-10 15m30-15l-9 15m29-16l-9 16m-574 10l-8-16m28 16l-9-16m29 16l-9-16m29 16l-9-15m29 15l-9-15m30 15l-10-15m30 15l-11-15m31 15l-11-15m31 15l-11-14m32 14l-13-13m33 12l-14-11m34 11l-15-9m35 9l-16-7m37 6l-18-4m38 4l-18-2m38 2l-18 0m38-1l-18 3m38-3l-17 5m37-5l-16 7m36-8l-15 10m35-10l-14 12m34-12l-13 13m33-13l-12 13m32-13l-11 14m31-14l-11 14m31-14l-11 14m31-14l-10 14m30-14l-10 15m30-16l-9 16m29-16l-9 16m-574 10l-8-16m28 16l-8-16m28 16l-9-16m29 16l-9-15m30 15l-11-15m31 15l-11-14m31 14l-12-13m32 12l-13-11m34 11l-15-10m35 10l-16-8m36 8l-17-7m37 6l-17-4m38 4l-18-3m38 3l-18-2m38 2l-18-1m38 1l-18 0m38 0l-18 1m38-2l-18 3m38-3l-17 4m37-4l-17 5m37-5l-16 7m36-8l-15 9m35-9l-14 11m34-11l-13 12m33-12l-12 13m32-13l-11 14m31-14l-10 14m30-15l-10 15m30-15l-9 16m29-16l-9 16m-574 10l-8-16m28 16l-8-16m28 16l-9-16m29 16l-9-15m30 15l-11-15m31 15l-12-14m32 13l-13-11m34 11l-15-10m35 10l-16-8m36 8l-16-7m36 7l-17-6m37 5l-17-4m38 4l-18-3m38 3l-18-2m38 2l-18-1m38 1l-18 0m38-1l-18 2m38-2l-18 3m38-3l-17 4m37-4l-17 5m37-5l-16 6m36-6l-16 7m36-8l-15 9m35-9l-14 11m34-11l-13 12m33-12l-11 13m31-13l-11 14m31-15l-10 15m30-15l-9 16m29-16l-8 16m-575 10l-8-16m28 16l-8-16m28 16l-8-16m28 16l-9-15m30 15l-11-15m31 15l-12-13m32 12l-14-11m35 11l-16-9m36 9l-16-8m36 8l-17-7m37 7l-17-6m37 5l-17-4m38 4l-18-3m38 3l-18-2m38 2l-18-1m38 1l-18 0m38-1l-18 2m38-2l-18 3m38-3l-17 4m37-4l-17 5m37-5l-16 6m36-6l-16 7m36-8l-15 9m35-9l-14 10m34-10l-13 12m33-12l-12 13m32-14l-10 15m30-15l-10 16m30-16l-9 16m29-16l-8 16m-575 10l-7-17m27 17l-7-16m27 16l-8-16m28 16l-9-16m30 16l-11-15m31 15l-12-14m32 13l-14-11m35 11l-16-10m36 10l-16-8m36 8l-16-7m36 6l-17-5m37 5l-17-4m38 4l-18-3m38 3l-18-2m38 2l-18-1m38 1l-18 0m38-1l-18 2m38-2l-18 3m38-3l-17 4m37-4l-17 5m37-5l-16 6m36-7l-16 8m36-8l-15 9m35-9l-14 11m34-11l-13 12m33-12l-11 13m31-14l-10 15m30-15l-9 16m29-16l-8 16m28-16l-8 16m-576 10l-5-17m26 17l-7-17m27 17l-7-16m27 16l-8-16m29 16l-10-15m30 15l-12-14m32 13l-13-11m34 11l-15-10m35 10l-16-9m36 9l-16-8m36 7l-17-6m37 6l-17-5m38 5l-18-4m38 4l-18-2m38 2l-18-1m38 0l-18 1m38-1l-18 2m38-2l-18 3m38-3l-17 4m37-4l-17 5m37-5l-16 6m36-7l-16 8m36-8l-15 9m35-9l-14 11m34-11l-13 12m33-13l-11 15m31-15l-10 15m30-15l-9 16m29-16l-8 16m28-16l-7 17m-577 9l-5-17m26 17l-6-17m26 17l-7-17m27 17l-8-16m28 16l-9-16m30 16l-12-14m32 13l-13-12m34 12l-15-10m35 10l-16-9m36 9l-16-8m36 8l-16-7m36 6l-17-5m38 5l-18-4m38 4l-18-2m38 2l-18-1m38 0l-18 1m38-1l-18 2m38-2l-17 4m37-4l-17 5m37-5l-17 6m37-7l-16 8m36-8l-16 9m36-9l-15 10m35-10l-14 11m34-11l-12 13m32-14l-10 15m30-15l-9 16m29-16l-8 16m28-16l-7 17m27-17l-7 17m-577 9l-4-17m24 17l-4-17m25 17l-6-17m26 17l-7-17m27 17l-8-16m29 16l-11-15m31 14l-13-12m33 12l-14-11m35 11l-15-10m35 10l-16-9m36 9l-16-8m36 7l-17-5m38 5l-18-4m38 4l-18-3m38 3l-18-1m38 0l-18 1m38-1l-18 3m38-3l-17 4m37-4l-17 5m37-6l-16 7m36-7l-16 8m36-8l-15 9m35-9l-14 10m34-10l-13 12m33-13l-12 14m32-14l-10 15m30-15l-8 16m28-16l-7 17m27-17l-7 17m27-17l-6 17m-578 9l-3-18m23 18l-4-17m24 17l-4-17m25 17l-6-17m26 17l-7-16m28 16l-10-15m30 14l-12-13m32 13l-13-12m34 12l-15-10m35 10l-16-9m36 9l-16-8m36 7l-17-6m38 6l-18-4m38 4l-18-3m38 3l-18-1m38 0l-18 2m38-2l-18 3m38-3l-17 5m37-6l-17 7m37-7l-16 8m36-8l-15 9m35-9l-15 10m35-10l-14 11m34-11l-13 12m33-13l-11 15m31-15l-9 16m29-16l-8 16m28-16l-6 17m26-17l-6 17m26-17l-5 17m-579 9l-3-18m23 18l-3-18m23 18l-3-18m24 18l-5-17m25 17l-7-17m28 17l-10-16m30 15l-11-14m31 14l-13-12m34 12l-14-11m34 11l-15-10m35 10l-16-9m36 8l-16-6m37 6l-18-5m38 5l-18-3m38 2l-18 0m38 0l-18 2m38-2l-18 4m38-4l-17 5m37-6l-16 7m36-7l-16 9m36-9l-15 10m35-10l-14 10m34-10l-13 11m33-12l-12 14m32-14l-10 15m30-15l-8 16m28-16l-7 17m26-17l-5 17m26-17l-5 17m25-17l-5 17m-579 9l-2-18m22 18l-2-18m22 18l-3-18m24 18l-5-18m25 18l-6-17m26 17l-8-16m29 16l-11-15m31 14l-12-13m33 13l-14-12m34 12l-15-11m35 11l-15-9m35 8l-16-7m37 7l-18-5m38 5l-18-3m38 2l-18 0m38 0l-18 2m38-2l-17 4m37-5l-17 7m37-7l-16 8m36-8l-15 9m35-9l-15 10m35-10l-14 11m34-12l-13 13m33-13l-12 14m32-14l-10 15m30-15l-8 16m27-16l-5 17m25-17l-4 17m24-17l-3 17m23-17l-3 17m-580 9l-2-18m22 18l-2-18m22 18l-2-18m22 18l-3-18m24 18l-6-17m26 17l-8-16m29 16l-10-15m30 14l-12-13m32 13l-13-12m34 12l-14-11m34 11l-15-10m35 9l-16-7m37 7l-18-6m38 6l-18-3m38 2l-18 0m38 0l-18 2m38-2l-17 5m37-6l-17 7m37-7l-16 9m36-9l-15 10m35-10l-14 11m34-12l-13 13m33-13l-12 13m32-13l-11 14m31-14l-9 16m28-16l-6 17m26-17l-5 17m25-17l-4 17m24-17l-3 17m23-17l-2 17m-581 9l-2-18m22 18l-2-18m22 18l-2-18m22 18l-3-18m24 18l-5-17m25 17l-7-17m28 17l-10-16m30 15l-11-14m31 14l-12-12m33 12l-14-11m34 11l-15-10m35 9l-16-8m37 8l-17-6m37 6l-18-3m38 2l-18 0m38 0l-18 3m38-4l-17 6m37-6l-16 8m36-8l-15 9m35-9l-15 10m35-10l-14 11m34-12l-13 13m33-13l-12 14m32-14l-11 15m31-15l-9 16m28-16l-6 17m26-17l-4 17m24-17l-3 17m23-17l-2 17m22-17l-2 17m-581 9l-1-18m21 18l-2-18m22 18l-2-18m22 18l-3-18m24 18l-5-18m25 18l-7-17m28 16l-10-15m30 15l-11-14m31 14l-12-13m33 13l-14-12m34 12l-15-10m35 9l-16-8m37 8l-17-6m37 6l-18-3m38 2l-18 0m38 0l-18 3m38-4l-17 6m37-6l-16 8m36-8l-15 9m35-9l-14 10m34-11l-14 12m34-12l-13 13m33-13l-12 14m32-14l-10 15m30-15l-8 16m27-16l-5 17m25-17l-4 17m24-17l-3 17m23-17l-2 17m22-17l-2 17m-581 9l-1-18m21 18l-2-18m22 18l-2-18m22 18l-3-18m24 18l-5-18m25 18l-7-17m28 16l-10-15m30 15l-11-14m31 14l-12-13m33 13l-14-12m34 12l-15-10m35 9l-16-8m37 8l-18-6m38 6l-18-3m38 2l-18 0m38 0l-18 3m38-4l-17 6m37-6l-16 8m36-8l-15 9m35-9l-14 10m34-11l-14 12m34-12l-13 13m33-13l-12 14m32-14l-10 15m30-15l-8 16m27-16l-5 17m25-17l-4 17m24-17l-3 17m23-18l-2 18m22-18l-2 18m-581 9l-2-18m22 18l-2-18m22 18l-2-18m22 18l-3-18m24 18l-5-18m25 18l-7-17m28 16l-10-15m30 15l-12-13m32 13l-13-12m34 12l-14-11m34 11l-15-10m35 9l-16-7m37 7l-18-6m38 6l-18-3m38 2l-18 0m38 0l-18 3m38-4l-17 6m37-6l-16 8m36-8l-15 9m35-9l-15 10m35-11l-14 12m34-12l-13 13m33-13l-12 14m32-14l-10 15m30-15l-9 16m28-16l-5 17m25-18l-4 18m24-18l-3 18m23-18l-2 18m22-18l-2 18m-581 9l-2-18m22 18l-2-18m22 18l-2-18m22 18l-3-18m24 18l-6-17m26 16l-8-16m29 16l-11-14m31 14l-12-13m33 13l-14-12m34 12l-15-11m35 10l-16-9m36 9l-16-7m37 7l-18-5m38 4l-18-2m38 2l-18 0m38 0l-18 2m38-3l-17 6m37-6l-16 7m36-7l-16 9m36-9l-15 10m35-11l-14 12m34-12l-13 13m33-13l-12 13m32-13l-11 14m31-14l-9 16m28-16l-6 17m26-18l-4 18m24-18l-3 18m23-18l-2 18m22-18l-2 18m-581 9l-2-18m22 18l-2-18m22 18l-3-18m24 18l-5-18m25 18l-6-17m26 16l-8-15m29 15l-11-14m31 14l-12-13m33 13l-14-12m34 12l-15-10m35 9l-16-8m36 8l-16-7m37 7l-18-5m38 4l-18-2m38 2l-18 0m38 0l-18 2m38-3l-17 5m37-5l-17 7m37-7l-16 8m36-8l-15 9m35-10l-14 11m34-11l-14 12m34-12l-12 13m32-13l-11 14m31-14l-9 15m28-15l-6 16m26-17l-4 18m24-18l-3 18m23-18l-2 18m22-18l-2 18m-581 9l-2-18m22 18l-3-18m23 18l-3-18m24 18l-5-18m25 18l-7-17m28 16l-10-15m30 15l-12-14m32 14l-13-12m34 12l-15-11m35 10l-15-9m35 9l-16-8m36 8l-17-6m38 6l-18-5m38 4l-18-2m38 2l-18 0m38 0l-18 2m38-3l-17 5m37-5l-17 6m37-6l-16 8m36-8l-15 9m35-10l-15 11m35-11l-14 12m34-12l-13 13m33-13l-11 14m31-14l-9 15m28-16l-6 17m26-17l-4 18m24-18l-3 18m23-18l-3 18m23-18l-2 18m-581 9l-3-18m23 18l-3-18m23 18l-4-18m25 18l-6-18m26 17l-7-16m28 16l-10-15m30 15l-12-13m32 13l-13-12m34 11l-15-10m35 10l-16-8m36 8l-16-7m36 7l-17-6m38 6l-18-4m38 3l-18-2m38 2l-18 0m38 0l-18 2m38-3l-17 4m37-4l-17 6m37-6l-16 7m36-7l-16 8m36-8l-15 9m35-10l-14 11m34-11l-13 12m33-12l-12 13m32-13l-10 15m30-16l-8 17m27-17l-5 18m25-18l-4 18m24-18l-3 18m23-18l-2 18m-581 9l-3-18m23 18l-3-18m23 18l-4-18m25 17l-6-17m26 17l-8-16m29 16l-11-15m31 15l-13-13m34 13l-15-11m35 10l-16-9m36 9l-16-8m36 8l-17-7m37 7l-17-5m38 4l-18-3m38 3l-18-1m38 1l-18 0m38 0l-18 2m38-3l-18 4m38-4l-17 5m37-5l-17 7m37-7l-16 8m36-8l-15 9m35-10l-15 11m35-11l-14 12m34-12l-12 13m32-13l-10 15m30-16l-8 17m27-17l-5 17m25-17l-4 18m24-18l-3 18m23-18l-2 18m-581 9l-3-18m23 17l-4-17m25 17l-5-17m25 17l-7-16m27 16l-8-16m29 16l-11-14m31 14l-13-13m34 12l-15-10m35 10l-16-9m36 9l-16-7m36 7l-17-6m37 6l-17-5m38 4l-18-3m38 3l-18-1m38 1l-18 0m38 0l-18 1m38-2l-18 4m38-4l-17 5m37-5l-17 6m37-6l-16 7m36-7l-16 8m36-9l-15 10m35-10l-14 11m34-11l-13 13m33-13l-11 14m31-15l-8 16m28-16l-7 17m26-17l-4 18m24-18l-3 18m23-18l-3 18m-580 8l-4-17m24 17l-4-17m25 17l-6-17m26 17l-7-16m27 16l-9-15m30 15l-12-14m32 14l-13-12m34 11l-16-9m36 9l-16-8m36 8l-17-7m37 7l-17-6m37 5l-17-4m38 4l-18-2m38 2l-18-1m38 1l-18 0m38 0l-18 1m38-2l-18 3m38-3l-17 4m37-4l-17 6m37-6l-16 6m36-6l-16 7m36-8l-15 9m35-9l-14 11m34-11l-13 12m33-12l-11 14m31-15l-9 16m29-16l-7 17m26-17l-5 18m25-18l-4 18m24-18l-3 18m-580 8l-4-17m24 17l-4-17m25 17l-6-17m26 17l-7-16m27 16l-9-15m30 15l-12-14m32 13l-14-11m35 11l-16-9m36 9l-16-8m36 8l-17-6m37 6l-17-5m37 4l-17-3m38 3l-18-2m38 2l-18-1m38 1l-18 0m38 0l-18 1m38-2l-18 3m38-3l-17 4m37-4l-17 5m37-5l-17 6m37-6l-16 7m36-7l-16 8m36-9l-15 10m35-10l-13 12m33-12l-12 13m32-14l-9 16m29-16l-7 17m27-17l-6 17m25-17l-4 18m24-18l-3 18m-580 8l-4-17m24 17l-5-17m26 17l-6-17m26 17l-8-16m29 16l-10-15m30 15l-12-13m32 12l-14-10m35 10l-16-9m36 9l-17-7m37 7l-17-6m37 5l-17-4m37 4l-17-3m38 3l-18-2m38 2l-18-1m38 1l-18 0m38 0l-18 1m38-2l-18 3m38-3l-17 4m37-4l-17 5m37-5l-17 5m37-5l-16 6m36-6l-16 7m36-8l-15 10m35-10l-14 11m34-11l-12 13m32-14l-10 16m30-16l-8 17m28-17l-6 17m26-17l-5 18m25-18l-4 18m-580 8l-4-17m25 17l-6-17m26 17l-7-16m27 16l-9-15m30 15l-12-14m32 13l-14-11m35 11l-16-9m36 9l-17-7m37 7l-17-6m37 5l-17-5m37 5l-17-4m38 4l-18-3m38 3l-18-2m38 2l-18-1m38 1l-18 0m38 0l-18 1m38-2l-18 3m38-3l-18 3m38-3l-17 4m37-4l-17 5m37-5l-17 6m38-6l-17 6m37-6l-17 7m37-8l-16 10m35-10l-13 11m33-11l-11 13m31-14l-9 16m29-16l-7 17m27-17l-6 17m26-17l-5 18m-579 8l-5-17m26 17l-7-16m27 16l-9-15m30 15l-12-14m32 13l-14-11m34 11l-15-9m36 9l-17-8m37 8l-17-7m37 6l-17-5m37 5l-17-4m37 4l-17-3m38 3l-18-3m38 3l-18-2m38 2l-18-1m38 1l-18 0m38-1l-18 2m38-2l-18 2m38-2l-18 3m38-3l-17 4m37-4l-17 4m37-4l-17 5m38-5l-17 6m37-6l-17 6m37-7l-17 8m37-8l-16 10m36-10l-14 11m33-11l-11 13m31-14l-9 16m29-16l-7 17m27-17l-5 17m-578 9l-7-17m27 17l-9-16m30 16l-12-14m32 13l-14-11m34 11l-15-9m36 9l-17-8m37 8l-17-7m37 6l-17-5m37 5l-17-4m37 4l-17-4m37 4l-17-3m38 3l-18-2m38 2l-18-2m38 2l-18-1m38 1l-18 0m38-1l-18 1m38-1l-18 2m38-2l-18 3m38-3l-17 3m37-3l-17 4m38-4l-18 4m38-4l-18 5m38-5l-17 6m37-6l-17 6m37-7l-17 8m37-8l-16 9m36-9l-14 11m33-11l-11 13m31-14l-8 16m28-16l-6 17m-577 9l-9-16m29 16l-11-14m32 13l-14-11m34 11l-15-9m36 9l-17-7m37 6l-17-5m37 5l-17-5m37 5l-17-4m37 4l-17-4m37 4l-17-3m37 3l-17-3m38 3l-18-2m38 2l-18-2m38 2l-18-1m38 1l-18 0m38-1l-18 1m38-1l-18 2m38-2l-18 2m38-2l-17 3m37-3l-17 4m38-4l-18 4m38-4l-18 4m38-4l-18 5m38-5l-17 5m37-5l-17 6m37-7l-17 8m37-8l-16 9m36-9l-14 11m34-12l-12 15m31-15l-8 16m-575 10l-11-14m32 13l-14-11m34 11l-16-9m36 9l-16-7m37 6l-17-5m37 5l-18-5m38 5l-18-4m38 4l-18-4m38 4l-18-3m38 3l-17-3m37 3l-17-3m38 3l-18-2m38 2l-18-2m38 2l-18-1m38 1l-18 0m38-1l-18 1m38-1l-18 2m38-2l-18 2m38-2l-17 3m37-3l-17 3m38-3l-18 4m38-4l-18 4m38-4l-18 4m38-4l-18 5m38-5l-17 5m37-5l-17 5m37-6l-17 7m37-7l-16 9m36-9l-14 11m34-12l-11 15"/><path id="a30" transform="scale(.2)" d="M1903 48l11-15m9 14l14-11m6 11l15-9m5 9l16-8m3 7l17-6m3 6l17-6m3 6l17-6m3 6l17-6m3 6l17-6m3 6l17-6m3 6l17-6m3 6l18-5m2 5l18-5m2 5l18-4m2 4l18-4m2 4l18-3m2 3l18-2m2 2l18-1m2 0l18 0m2 0l18 1m2-1l18 2m2-2l18 3m2-3l18 4m2-4l18 4m2-4l18 5m2-5l17 6m4-7l16 8m4-8l15 9m5-9l14 11m6-11l13 12m-592 13l7-16m12 16l11-15m9 14l14-12m6 12l15-10m5 10l16-9m4 9l16-8m4 7l16-7m4 7l16-7m4 7l16-7m4 7l16-7m3 7l17-6m3 6l17-6m3 6l18-5m2 5l18-5m2 5l18-4m2 4l18-3m2 3l18-2m2 2l18-2m2 1l18 0m2 0l18 1m2-1l18 2m2-2l18 3m2-3l18 4m2-4l18 5m2-6l17 7m4-7l16 8m4-8l15 9m5-9l14 10m6-11l13 13m7-13l11 15m-590 11l6-17m14 17l8-16m11 15l11-14m9 14l13-12m7 12l15-10m5 10l15-10m5 10l15-9m5 9l15-9m5 9l16-9m4 8l16-7m4 7l16-7m4 7l16-7m3 7l17-6m3 6l18-5m2 5l18-5m2 5l18-4m2 4l18-3m2 2l18-1m2 1l18 0m2 0l18 1m2-1l18 2m2-2l18 3m2-3l18 4m2-5l17 6m4-6l16 7m4-7l15 9m5-9l15 10m5-11l13 13m7-13l12 14m9-14l9 15m-589 11l5-18m15 18l6-17m14 17l8-16m11 15l11-14m9 14l13-12m7 12l14-11m6 11l15-10m5 10l15-10m5 10l15-10m5 10l15-9m5 8l16-8m4 8l16-7m4 7l16-7m3 7l17-6m3 6l18-5m2 5l18-4m2 4l18-3m2 2l18-1m2 1l18 0m2 0l18 1m2-1l18 3m2-3l18 4m2-5l18 6m3-6l16 7m4-7l16 8m4-8l15 10m5-11l13 12m7-12l12 14m8-14l11 15m10-15l9 15m-589 11l4-18m16 18l5-18m15 18l6-17m14 16l8-15m11 15l11-14m9 14l13-13m7 13l14-12m6 12l14-11m6 11l15-11m5 11l15-10m5 10l15-10m5 9l15-8m5 8l16-8m4 8l16-7m3 7l18-6m2 6l18-5m2 5l18-3m2 2l18-1m2 1l18 0m2 0l18 2m2-2l18 3m2-4l18 5m2-5l17 7m4-7l16 8m4-8l15 9m5-10l14 12m6-12l12 13m8-13l11 14m10-14l9 15m11-15l8 16m-587 10l3-18m16 18l5-18m15 18l6-18m14 18l7-17m13 16l8-15m11 15l11-14m9 14l13-13m7 13l13-12m7 12l14-12m6 12l14-11m6 11l15-11m5 10l15-9m5 9l15-8m5 8l16-7m3 7l17-6m3 6l18-5m2 5l18-4m2 3l18-1m2 1l18 0m2 0l18 2m2-3l18 4m2-4l18 6m3-6l16 7m4-7l15 9m5-10l14 12m6-12l13 13m7-13l12 14m9-14l9 15m11-15l9 15m11-15l8 16m-587 10l3-18m16 18l4-18m16 18l5-18m15 17l7-16m13 16l8-16m11 16l11-15m9 15l12-14m8 14l13-13m7 13l13-13m7 13l14-12m6 12l14-12m6 12l14-11m6 10l15-9m5 9l15-8m5 8l16-7m3 7l18-6m2 6l18-4m2 3l18-2m2 2l18 0m2 0l18 2m2-3l18 5m2-5l17 6m4-6l16 8m4-9l15 10m5-10l13 12m7-12l12 13m8-13l11 14m10-14l9 15m11-15l8 16m12-17l7 17m-586 10l2-18m17 17l4-17m16 17l5-17m15 17l6-17m14 17l7-16m13 16l9-15m10 15l11-14m9 14l12-14m8 14l12-13m8 13l13-13m7 13l13-13m7 13l14-12m6 11l14-10m6 10l15-9m5 9l16-8m3 8l17-7m3 7l18-5m2 4l18-2m2 2l18 0m2-1l18 3m2-3l18 5m3-5l16 7m4-7l15 9m5-10l14 11m6-11l13 13m7-13l11 14m10-14l9 15m11-16l8 16m12-16l7 17m13-17l7 17m-586 9l2-17m18 17l3-17m16 17l5-17m15 17l6-17m14 17l7-16m13 16l8-16m12 16l9-15m10 15l11-15m9 15l12-14m8 14l12-14m8 14l12-13m8 13l13-13m7 13l14-12m6 11l14-10m6 10l15-9m5 9l16-8m3 8l18-6m2 5l18-3m2 3l18 0m2-1l18 3m2-3l18 6m3-6l16 8m4-9l15 10m5-10l13 12m7-12l12 13m8-13l11 14m10-15l8 16m12-16l7 17m13-17l7 17m13-17l6 17m-585 9l2-18m18 18l2-17m17 17l4-17m16 17l5-17m15 17l6-17m14 17l8-16m12 16l9-16m11 16l9-15m10 15l11-15m9 15l11-15m9 15l11-14m9 14l12-14m8 14l13-13m7 12l13-12m7 12l14-10m6 10l15-9m4 9l17-7m3 6l18-3m2 3l18 0m2-1l18 4m2-4l17 6m4-7l15 10m5-10l14 11m6-11l12 13m8-14l11 15m10-15l8 16m12-16l7 17m13-17l6 17m14-17l6 17m14-17l5 17m-584 9l1-18m19 18l2-18m18 18l3-17m16 17l4-17m16 17l5-17m15 17l7-17m13 17l8-16m12 16l8-16m12 16l8-16m12 16l9-16m11 16l9-15m10 15l11-15m9 15l11-15m9 15l12-14m8 13l13-12m7 12l14-10m6 10l16-8m3 7l18-4m2 4l18 0m2-1l18 4m3-5l16 8m4-8l14 11m6-11l13 13m7-14l11 15m10-15l9 16m11-16l7 17m13-17l6 17m14-17l5 17m15-17l5 17m15-17l4 18m-583 8l1-18m19 18l1-18m19 18l2-18m18 18l3-18m16 18l5-17m15 17l6-17m14 17l7-17m13 17l7-17m13 17l7-16m13 16l7-16m13 16l8-16m12 16l8-16m12 16l9-16m11 16l9-15m10 15l12-14m8 13l13-12m7 12l15-10m4 9l18-5m2 4l18 1m2-1l17 6m4-7l15 10m5-10l13 12m7-13l11 15m10-15l8 16m12-16l7 17m13-17l6 17m14-17l5 17m15-17l4 18m17-18l2 18m18-18l2 18m-582 8l1-18m19 18l1-18m19 18l1-18m19 18l2-18m17 18l4-18m16 18l5-17m15 17l6-17m14 17l6-17m14 17l6-17m14 17l6-17m14 17l6-17m14 17l6-17m14 17l7-17m13 17l7-17m13 17l8-16m11 16l11-15m9 14l13-12m7 12l16-8m3 6l18 1m3-2l15 9m5-10l13 14m8-14l9 15m11-15l8 16m12-16l6 17m14-17l5 17m15-17l4 17m17-17l2 18m18-18l2 18m18-18l1 18m19-18l1 18m-581 8l0-18m20 18l0-18m20 18l1-18m19 18l1-18m19 18l2-18m17 18l4-18m16 18l5-18m15 18l5-18m15 18l5-18m15 18l4-18m16 18l4-18m16 18l4-18m16 18l4-18m16 18l5-18m15 18l5-17m15 17l6-17m14 17l8-17m11 16l12-13m7 11l18 1m3-3l12 14m9-14l7 16m13-16l5 17m15-17l4 17m17-17l3 17m17-17l2 18m18-18l1 18m19-18l0 18m20-18l0 18m20-18l0 18m20-18l0 18m-580 8l0-18m20 18l0-18m20 18l0-18m20 18l1-18m19 18l1-18m19 18l2-18m18 18l3-18m17 18l2-18m18 18l2-18m18 18l2-18m18 18l1-18m19 18l1-18m19 18l1-18m19 18l0-18m20 18l0-18m20 18l0-18m20 18l-1-18m21 18l-2-18m25 15l-18 3m35-5l-2 17m22-17l-1 18m21-18l0 18m20-18l0 18m20-18l0 18m20-18l0 18m20-18l-1 18m21-18l-1 18m21-18l-1 17m21-17l-1 17m21-17l-1 18m-579 8l-1-18m21 18l0-18m20 18l0-18m20 18l0-18m20 18l1-18m19 18l1-18m19 18l2-18m18 18l1-18m19 18l1-18m19 18l0-18m20 18l0-18m20 18l-1-18m21 18l-2-18m22 18l-3-18m24 18l-5-18m25 18l-6-17m26 17l-8-16m29 15l-14-12m35 10l-18 1m37-3l-13 13m32-13l-8 16m28-16l-6 17m26-17l-4 17m23-17l-3 17m23-18l-2 18m22-17l-3 17m23-17l-3 17m23-17l-3 17m23-18l-2 18m22-18l-2 18m-578 9l-1-18m21 18l-1-18m21 18l-1-18m21 18l-1-18m21 18l0-18m20 18l1-18m19 18l1-18m19 18l0-18m20 18l-1-18m21 18l-1-18m21 18l-2-18m23 18l-4-18m24 18l-5-18m25 18l-6-17m26 17l-8-17m29 16l-11-15m31 15l-13-13m33 12l-16-7m37 6l-18 0m37-1l-16 8m36-9l-13 13m32-13l-9 15m29-15l-7 16m27-16l-6 17m26-18l-5 18m25-18l-5 18m25-18l-5 18m25-18l-5 18m25-18l-5 18m25-18l-4 18m-577 9l-1-18m21 18l-1-18m21 18l-1-18m21 18l-1-18m21 18l-1-18m21 18l0-18m20 18l0-18m20 18l-1-18m21 18l-2-18m22 18l-3-18m24 18l-5-18m25 18l-6-18m26 17l-7-16m27 16l-8-15m29 15l-11-14m31 14l-13-13m33 12l-15-9m36 9l-18-6m38 5l-18 0m38-1l-17 6m36-7l-15 11m35-11l-12 13m31-13l-9 15m29-15l-8 16m28-16l-7 16m27-17l-7 17m27-17l-6 17m26-17l-6 17m26-17l-6 18m26-18l-5 18m-576 9l-1-18m21 18l-2-18m22 18l-2-18m22 18l-1-18m21 18l-1-18m21 18l-1-18m21 18l-1-18m21 18l-2-18m22 18l-3-18m24 18l-5-18m25 17l-6-17m26 17l-7-16m27 16l-9-15m30 15l-11-14m31 14l-12-13m32 13l-14-11m34 10l-16-8m37 8l-18-5m38 4l-18 0m38-1l-18 5m37-5l-15 8m35-9l-14 12m34-12l-12 14m31-14l-9 15m29-15l-8 15m28-16l-8 17m28-17l-7 17m27-17l-7 17m27-17l-6 17m26-17l-6 17m-575 10l-2-18m22 17l-2-17m22 17l-2-17m22 18l-2-18m22 18l-1-18m21 18l-1-18m21 18l-1-18m21 17l-2-17m23 17l-5-17m25 17l-6-17m26 17l-7-16m27 16l-8-16m29 16l-11-15m31 15l-12-14m32 14l-14-12m34 11l-15-9m35 9l-16-7m37 6l-18-3m38 3l-18 0m38-1l-18 4m37-4l-16 7m36-8l-15 11m35-11l-13 12m33-12l-11 14m30-14l-9 15m29-16l-9 16m29-16l-8 16m28-16l-8 17m28-17l-7 17m27-17l-7 17m-574 9l-2-17m22 17l-2-17m22 17l-2-17m22 17l-2-17m22 17l-2-17m22 17l-1-18m21 18l-2-17m22 17l-3-17m24 17l-5-17m25 17l-7-16m27 16l-8-16m28 16l-9-15m30 15l-12-14m32 14l-13-13m33 12l-14-10m34 10l-15-9m36 9l-17-6m37 5l-18-3m38 3l-18 0m38-1l-18 4m38-4l-17 6m36-7l-15 10m35-10l-14 12m34-12l-12 13m32-13l-11 14m30-15l-9 16m29-16l-9 16m29-16l-8 16m28-16l-8 16m28-16l-7 17m-574 9l-2-18m22 18l-2-18m22 18l-2-17m22 17l-2-18m22 18l-2-18m22 18l-1-18m21 18l-2-18m23 18l-4-17m24 17l-5-17m25 17l-7-16m27 16l-9-16m30 16l-11-15m31 15l-12-14m32 13l-14-11m34 11l-15-10m35 10l-16-8m37 7l-18-5m38 5l-18-3m38 3l-18 0m38-1l-18 3m38-3l-17 6m36-7l-15 9m35-9l-14 11m34-11l-13 13m33-13l-12 14m32-15l-11 15m30-15l-9 16m29-16l-9 16m29-16l-8 16m28-16l-8 16m-573 10l-2-18m22 18l-2-18m22 18l-2-18m22 18l-2-18m22 18l-2-18m22 18l-1-18m21 18l-1-18m21 18l-3-18m24 18l-6-17m26 17l-7-16m27 16l-9-15m30 15l-12-14m32 13l-13-12m33 12l-14-11m34 11l-15-9m35 9l-16-8m37 7l-18-5m38 5l-18-3m38 3l-18 0m38-1l-18 3m38-3l-18 5m37-6l-16 8m36-8l-14 10m34-10l-13 12m33-13l-12 14m32-14l-11 15m31-15l-11 15m30-15l-9 16m29-16l-8 16m28-16l-8 16m-573 10l-2-18m22 18l-2-18m22 18l-2-18m22 18l-2-18m22 18l-1-18m21 18l-1-18m21 18l-1-18m21 18l-2-18m23 18l-5-17m25 17l-7-16m27 16l-9-16m30 16l-12-14m32 13l-13-12m33 12l-14-11m34 11l-15-9m35 9l-16-7m37 6l-18-4m38 4l-18-2m38 1l-18 1m38-1l-18 3m38-3l-18 5m37-6l-16 8m36-8l-15 10m35-10l-13 12m33-13l-12 14m32-14l-11 15m31-15l-11 15m30-15l-9 15m29-15l-9 16m29-16l-8 16m-573 10l-2-18m22 18l-2-18m22 18l-2-18m22 18l-1-18m21 18l-1-18m21 18l0-18m20 18l0-18m20 18l-1-18m22 18l-4-18m24 18l-7-17m27 17l-9-16m30 15l-12-14m32 14l-13-12m33 12l-14-11m34 11l-15-9m36 8l-17-6m37 6l-18-4m38 4l-18-2m38 1l-18 1m38-1l-18 3m38-3l-18 5m37-6l-16 8m36-8l-14 10m34-11l-13 13m33-13l-12 14m32-14l-11 15m31-15l-11 15m30-15l-9 15m29-15l-9 16m29-16l-8 16m-573 10l-1-18m21 18l-2-18m22 18l-2-18m22 18l-1-18m21 18l0-18m20 18l1-18m19 18l2-18m18 18l1-18m19 18l-1-18m22 18l-5-17m25 17l-8-16m29 15l-11-14m31 14l-13-13m33 13l-14-11m34 11l-15-9m36 8l-17-6m37 6l-18-4m38 4l-18-2m38 1l-18 1m38-1l-18 3m38-4l-18 6m37-6l-16 8m36-8l-14 11m34-12l-12 13m32-13l-11 15m31-15l-11 15m30-15l-9 15m29-15l-9 15m29-15l-8 16m28-16l-8 16m-573 10l-1-18m21 18l-1-18m21 18l-1-18m21 18l-1-18m21 18l0-18m20 18l1-18m18 18l4-18m16 18l4-18m17 18l1-18m19 18l-2-18m23 18l-6-17m26 17l-9-16m30 15l-12-13m32 13l-14-12m34 12l-15-10m35 9l-16-7m37 7l-18-5m38 5l-18-3m38 2l-18 1m38-1l-18 3m38-4l-17 6m36-6l-15 9m35-10l-13 13m33-13l-11 14m31-14l-11 15m30-15l-9 15m29-15l-9 15m29-15l-9 16m29-16l-8 16m28-16l-7 16m-574 10l-1-18m21 18l-1-18m21 18l-1-18m21 18l-1-18m21 18l0-18m20 18l1-18m18 18l4-18m16 18l5-18m15 18l5-18m16 18l2-18m18 18l-1-18m22 18l-5-18m25 17l-9-15m30 15l-12-13m32 13l-14-11m34 10l-16-8m37 8l-18-5m38 4l-18-2m38 2l-18 1m38-2l-18 5m37-5l-16 8m36-9l-14 12m34-12l-11 14m30-14l-9 15m29-15l-9 15m29-15l-9 15m29-15l-9 15m29-15l-8 16m28-16l-7 16m27-16l-7 16m-574 10l-1-18m21 18l-1-18m21 18l-2-18m22 18l-2-18m22 18l-2-18m22 18l-2-18m22 18l-1-18m21 18l1-18m18 18l4-18m16 18l5-18m15 18l4-18m17 18l1-18m19 18l-2-18m23 18l-7-17m28 16l-12-14m32 14l-15-11m36 10l-17-6m37 5l-18-1m38 0l-18 5m37-5l-15 9m35-10l-12 13m31-13l-9 15m29-15l-9 15m29-15l-9 15m29-15l-9 15m29-15l-9 15m29-15l-8 15m28-15l-8 16m28-16l-7 16m27-16l-6 16m-575 10l-1-18m21 18l-1-18m21 18l-2-18m23 18l-4-18m24 18l-5-18m25 17l-7-16m27 16l-9-15m30 15l-12-13m32 12l-15-10m35 10l-16-7m37 7l-18-6m38 6l-18-5m38 4l-18-3m38 3l-18-2m38 2l-18-2m38 2l-18-1m38 1l-18-1m38 1l-18 0m38 0l-18 1m38-1l-18 2m38-3l-18 5m37-5l-16 7m36-8l-15 10m35-10l-13 12m33-12l-12 14m31-14l-9 15m29-15l-8 15m28-15l-7 16m27-17l-6 17m26-17l-6 18m-575 9l-1-18m21 18l-2-18m22 18l-2-18m23 17l-5-17m25 17l-7-16m28 16l-11-15m31 15l-13-12m33 11l-15-8m36 8l-17-6m37 6l-18-5m38 4l-18-3m38 3l-18-3m38 3l-18-2m38 2l-18-2m38 2l-18-2m38 2l-18-1m38 1l-18-1m38 1l-18 0m38 0l-18 0m38 0l-18 1m38-1l-18 2m38-3l-18 4m38-4l-17 6m36-7l-15 10m35-10l-13 12m33-12l-11 14m30-15l-8 16m28-16l-7 17m27-17l-6 17m26-17l-5 18m-576 8l-1-17m21 17l-2-17m22 17l-3-17m24 17l-5-17m25 17l-8-16m29 16l-12-14m32 13l-15-10m35 10l-16-7m37 6l-18-4m38 4l-18-3m38 3l-18-3m38 3l-18-2m38 2l-18-2m38 2l-18-2m38 2l-18-1m38 1l-18-1m38 1l-18-1m38 1l-18 0m38 0l-18 0m38 0l-18 1m38-1l-18 1m38-2l-18 4m38-4l-18 5m37-5l-16 8m36-9l-14 12m34-12l-11 14m30-15l-8 16m28-16l-7 17m27-17l-5 17m25-17l-4 18m-577 8l-1-18m21 18l-2-18m22 18l-3-17m24 17l-6-17m26 17l-8-16m29 16l-13-13m33 12l-15-9m36 9l-17-6m37 5l-18-4m38 4l-18-3m38 3l-18-2m38 2l-18-2m38 2l-18-2m38 2l-18-1m38 1l-18-1m38 1l-18-1m38 1l-18-1m38 1l-18 0m38 0l-18 0m38 0l-18 0m38-1l-18 2m38-2l-18 3m38-3l-18 5m37-5l-16 7m36-8l-14 11m34-11l-11 14m30-15l-8 16m28-16l-6 17m26-17l-5 18m24-18l-3 18m-577 8l-1-18m21 18l-2-18m22 18l-3-17m24 17l-6-17m26 17l-8-16m29 16l-13-13m33 12l-15-9m36 8l-18-5m38 5l-18-3m38 3l-18-2m38 2l-18-2m38 2l-18-2m38 2l-18-1m38 1l-18-1m38 1l-18-1m38 1l-18-1m38 1l-18-1m38 1l-18 0m38 0l-18 0m38-1l-18 1m38-1l-18 2m38-2l-18 3m38-3l-18 5m37-6l-16 8m36-8l-14 11m34-12l-11 15m30-15l-7 17m27-17l-5 17m25-17l-4 18m23-18l-2 18m-578 8l-1-18m21 18l-1-18m21 18l-3-18m24 18l-6-17m26 17l-8-16m29 15l-13-12m33 12l-15-9m36 8l-18-5m38 5l-18-3m38 3l-18-2m38 2l-18-2m38 2l-18-1m38 1l-18-1m38 1l-18-1m38 1l-18-1m38 1l-18-1m38 1l-18-1m38 1l-18 0m38-1l-18 1m38-1l-18 1m38-1l-18 2m38-2l-18 3m38-3l-18 5m37-6l-16 8m36-8l-14 12m33-13l-9 15m29-15l-7 17m27-17l-5 17m24-17l-3 18m23-18l-2 18m-578 8l-1-18m21 18l-1-18m21 18l-3-18m24 18l-5-17m25 17l-8-16m29 15l-13-12m33 12l-15-9m36 8l-18-5m38 5l-18-3m38 3l-18-2m38 2l-18-2m38 2l-18-1m38 1l-18-1m38 1l-18-1m38 1l-18-1m38 0l-18 0m38 0l-18 0m38 0l-18 1m38-1l-18 1m38-1l-18 1m38-1l-18 2m38-2l-18 3m38-3l-18 4m37-5l-16 8m36-8l-13 12m32-13l-9 15m29-15l-6 17m26-17l-4 17m23-17l-2 18m22-18l-1 18m-579 8l-1-18m21 18l-1-18m21 18l-2-18m23 18l-5-17m25 17l-8-16m29 15l-13-12m33 12l-15-9m36 8l-18-5m38 5l-18-3m38 3l-18-2m38 2l-18-2m38 1l-18 0m38 0l-18 0m38 0l-18 0m38 0l-18 0m38 0l-18 0m38 0l-18 0m38 0l-18 0m38 0l-18 1m38-1l-18 1m38-1l-18 2m38-2l-18 3m38-3l-18 4m37-5l-16 8m36-8l-13 12m32-13l-9 15m29-15l-6 17m26-17l-4 17m23-17l-2 18m22-18l-1 18m-579 8l-1-18m21 18l-1-18m21 18l-2-18m23 18l-5-17m25 17l-8-16m29 15l-13-12m33 12l-15-9m36 8l-18-5m38 5l-18-3m38 3l-18-2m38 1l-18-1m38 1l-18 0m38 0l-18 0m38 0l-18 0m38 0l-18 0m38 0l-18 0m38 0l-18 0m38 0l-18 0m38 0l-18 1m38-1l-18 1m38-1l-18 2m38-2l-18 3m38-3l-18 4m37-5l-16 8m36-9l-13 13m32-13l-9 16m29-16l-6 17m25-17l-3 17m23-17l-2 17m22-17l-1 18m-579 8l-1-18m21 18l-1-18m21 18l-2-18m23 18l-5-18m25 18l-8-16m29 15l-13-13m33 12l-15-8m36 8l-18-5m38 5l-18-3m38 2l-18-1m38 1l-18-1m38 1l-18 0m38 0l-18 0m38 0l-18 0m38 0l-18 0m38 0l-18 0m38 0l-18 0m38 0l-18 0m38 0l-18 1m38-1l-18 1m38-1l-18 1m38-1l-18 2m38-3l-18 5m37-5l-16 8m36-9l-13 13m32-13l-9 16m29-16l-6 17m25-17l-3 17m23-18l-2 18m22-18l-1 18m-579 9l-1-18m21 18l-1-18m21 18l-2-18m23 18l-5-18m25 17l-8-15m29 15l-13-13m33 12l-15-8m36 8l-18-5m38 5l-18-3m38 2l-18-1m38 1l-18-1m38 1l-18 0m38 0l-18 0m38 0l-18 0m38 0l-18 0m38 0l-18 0m38 0l-18 0m38 0l-18 0m38 0l-18 0m38 0l-18 1m38-1l-18 1m38-1l-18 2m38-3l-18 5m37-5l-16 8m36-9l-13 13m32-13l-8 15m28-15l-5 17m24-18l-3 18m23-18l-1 18m21-18l-1 18m-579 9l-1-18m21 18l-1-18m21 18l-2-18m23 18l-5-18m25 17l-8-15m29 15l-13-13m33 12l-15-8m36 8l-18-5m38 4l-18-2m38 2l-18-1m38 1l-18-1m38 1l-18 0m38 0l-18 0m38 0l-18 0m38 0l-18 0m38 0l-18 0m38 0l-18 0m38 0l-18 0m38 0l-18 0m38 0l-18 1m38-1l-18 1m38-1l-18 2m38-3l-18 5m37-5l-16 8m36-9l-13 13m32-13l-8 15m28-16l-5 18m24-18l-2 18m22-18l-1 18m21-18l-1 18m-579 9l-1-18m21 18l-1-18m21 18l-2-18m23 18l-5-18m25 17l-8-16m29 16l-13-13m33 12l-15-8m36 8l-18-5m38 4l-18-2m38 2l-18-1m38 1l-18-1m38 1l-18 0m38 0l-18 0m38 0l-18 0m38 0l-18 0m38 0l-18 0m38 0l-18 0m38 0l-18 0m38 0l-18 0m38 0l-18 1m38-1l-18 1m38-1l-18 2m38-3l-18 5m37-5l-16 8m36-9l-13 13m32-13l-8 15m28-16l-5 18m24-18l-2 18m22-18l-1 18m21-18l-1 18m-579 9l-1-18m21 18l-1-18m21 18l-2-18m23 17l-5-17m25 17l-8-16m29 16l-13-13m33 12l-15-8m36 8l-18-5m38 4l-18-2m38 2l-18-1m38 1l-18-1m38 1l-18-1m38 1l-18 0m38 0l-18 0m38 0l-18 0m38 0l-18 0m38 0l-18 0m38 0l-18 0m38 0l-18 0m38 0l-18 1m38-1l-18 1m38-2l-18 3m38-3l-18 5m37-5l-16 8m36-9l-13 13m32-14l-8 16m28-16l-5 18m24-18l-2 18m22-18l-1 18m21-18l-1 18m-579 8l-1-18m21 18l-1-17m21 17l-2-17m23 17l-5-17m25 17l-8-16m29 16l-13-13m33 12l-15-8m36 7l-18-4m38 4l-18-3m38 3l-18-2m38 2l-18-1m38 1l-18-1m38 1l-18 0m38 0l-18 0m38 0l-18 0m38 0l-18 0m38 0l-18 0m38 0l-18 0m38 0l-18 0m38 0l-18 0m38 0l-18 1m38-2l-18 3m38-3l-18 5m37-6l-15 9m35-9l-13 13m32-14l-8 16m28-16l-5 17m24-17l-2 18m22-18l-1 18m21-18l-1 18m-579 8l-1-18m21 18l-1-18m21 18l-2-17m23 17l-5-17m25 17l-8-16m29 16l-13-13m33 12l-15-9m36 8l-18-5m38 5l-18-3m38 3l-18-2m38 2l-18-1m38 1l-18-1m38 1l-18-1m38 1l-18 0m38 0l-18 0m38 0l-18 0m38 0l-18 0m38 0l-18 0m38 0l-18 0m38 0l-18 0m38-1l-18 2m38-2l-18 3m38-3l-18 5m37-6l-15 9m35-9l-13 12m32-13l-8 16m28-16l-5 17m24-17l-2 18m22-18l-1 18m21-18l-1 18m-579 8l-1-18m21 18l-1-18m21 18l-2-18m23 18l-5-17m25 17l-8-16m29 15l-13-12m33 12l-15-9m36 8l-18-5m38 5l-18-3m38 3l-18-2m38 2l-18-1m38 1l-18-1m38 1l-18-1m38 1l-18-1m38 1l-18 0m38 0l-18 0m38 0l-18 0m38 0l-18 0m38 0l-18 0m38-1l-18 1m38-1l-18 2m38-2l-18 3m38-3l-18 5m37-6l-15 9m35-9l-13 12m32-13l-8 16m28-16l-5 17m24-17l-2 18m22-18l-1 18m21-18l-1 18m-579 8l-1-18m21 18l-1-18m21 18l-2-18m23 18l-5-17m25 17l-8-16m29 15l-13-12m33 12l-15-9m36 8l-18-5m38 5l-18-3m38 3l-18-2m38 2l-18-1m38 1l-18-1m38 1l-18-1m38 1l-18-1m38 0l-18 0m38 0l-18 1m38-1l-18 1m38-1l-18 1m38-1l-18 1m38-1l-18 1m38-1l-18 2m38-2l-18 3m38-3l-18 5m37-6l-15 9m35-9l-13 12m32-13l-8 16m28-16l-5 17m24-17l-2 18m22-18l-1 18m21-18l-1 18m-579 8l-1-18m21 18l-1-18m21 18l-2-18m23 18l-5-17m25 17l-8-16m29 15l-13-12m33 12l-15-9m36 8l-18-5m38 5l-18-3m38 3l-18-2m38 2l-18-1m38 0l-18 0m38 0l-18 0m38 0l-18 0m38 0l-18 0m38 0l-18 0m38 0l-18 0m38 0l-18 1m38-1l-18 1m38-1l-18 1m38-1l-18 2m38-2l-18 3m38-3l-18 5m37-6l-15 9m35-10l-13 13m32-13l-8 16m28-16l-5 17m24-17l-2 18m22-18l-1 18m21-18l-1 18m-579 8l-1-18m21 18l-1-18m21 18l-2-18m23 18l-5-17m25 17l-8-16m29 15l-13-12m33 12l-15-9m36 8l-18-5m38 5l-18-3m38 3l-18-2m38 1l-18 0m38 0l-18 0m38 0l-18 0m38 0l-18 0m38 0l-18 0m38 0l-18 0m38 0l-18 0m38 0l-18 1m38-1l-18 1m38-1l-18 1m38-1l-18 2m38-2l-18 3m38-3l-18 5m37-6l-15 9m35-10l-13 13m32-13l-8 16m28-16l-5 17m24-17l-2 17m22-17l-1 18m21-18l-1 18m-579 8l-1-18m21 18l-1-18m21 18l-2-18m23 18l-5-17m25 17l-8-16m29 15l-13-13m33 13l-15-9m36 8l-18-5m38 5l-18-3m38 2l-18-1m38 1l-18 0m38 0l-18 0m38 0l-18 0m38 0l-18 0m38 0l-18 0m38 0l-18 0m38 0l-18 0m38 0l-18 0m38 0l-18 1m38-1l-18 1m38-1l-18 1m38-1l-18 3m38-4l-18 5m37-5l-15 8m35-9l-13 13m32-13l-8 16m28-16l-5 17m24-17l-2 17m22-17l-1 17m21-17l-1 18m-579 8l-1-18m21 18l-1-18m21 18l-2-18m23 18l-5-18m25 18l-8-16m29 15l-13-13m33 12l-15-8m36 8l-18-5m38 5l-18-3m38 2l-18-1m38 1l-18-1m38 1l-18 0m38 0l-18 0m38 0l-18 0m38 0l-18 0m38 0l-18 0m38 0l-18 0m38 0l-18 0m38 0l-18 1m38-1l-18 1m38-1l-18 1m38-1l-18 2m38-3l-18 5m37-5l-15 8m35-9l-13 13m32-13l-8 16m28-16l-5 17m24-18l-2 18m22-18l-1 18m21-18l-1 18m-579 9l-1-18m21 18l-1-18m21 18l-2-18m23 18l-5-18m25 17l-8-15m29 15l-13-13m33 12l-15-8m36 8l-18-5m38 4l-18-2m38 2l-18-1m38 1l-18-1m38 1l-18 0m38 0l-18 0m38 0l-18 0m38 0l-18 0m38 0l-18 0m38 0l-18 0m38 0l-18 0m38 0l-18 0m38 0l-18 1m38-1l-18 1m38-1l-18 2m38-3l-18 5m37-5l-15 8m35-9l-13 13m32-13l-8 16m28-17l-5 18m24-18l-2 18m22-18l-1 18m21-18l-1 18m-579 9l-1-18m21 18l-1-18m21 18l-2-18m23 18l-5-18m25 17l-8-16m29 16l-13-13m33 12l-15-8m36 8l-18-5m38 4l-18-2m38 2l-18-1m38 1l-18-1m38 1l-18 0m38 0l-18 0m38 0l-18 0m38 0l-18 0m38 0l-18 0m38 0l-18 0m38 0l-18 0m38 0l-18 0m38 0l-18 1m38-1l-18 1m38-1l-18 2m38-3l-18 5m37-5l-15 8m35-9l-13 13m32-13l-8 15m28-16l-5 18m24-18l-2 18m22-18l-1 18m21-18l-1 18m-579 9l-1-18m21 18l-2-18m23 18l-5-18m25 17l-7-16m28 16l-12-14m32 13l-15-9m36 9l-18-6m38 5l-18-3m38 3l-18-2m38 2l-18-1m38 1l-18-1m38 1l-18 0m38 0l-18 0m38 0l-18 0m38 0l-18 0m38 0l-18 0m38 0l-18 0m38 0l-18 0m38 0l-18 0m38 0l-18 0m38 0l-18 1m38-1l-18 1m38-2l-18 4m38-4l-18 6m37-7l-15 10m35-10l-12 13m31-14l-7 17m27-17l-5 18m24-18l-2 18m22-18l-1 18m-579 8l-2-17m23 17l-5-17m25 17l-7-16m28 16l-12-14m32 13l-15-9m36 9l-17-6m37 5l-18-3m38 3l-18-2m38 2l-18-1m38 1l-18-1m38 1l-18 0m38 0l-18 0m38 0l-18 0m38 0l-18 0m38 0l-18 0m38 0l-18 0m38 0l-18 0m38 0l-18 0m38 0l-18 0m38 0l-18 0m38 0l-18 0m38 0l-18 1m38-1l-18 1m38-2l-18 4m38-4l-17 6m36-7l-15 10m35-10l-12 14m31-15l-7 17m27-17l-5 18m24-18l-2 18m-577 8l-4-17m24 17l-7-16m28 16l-12-14m32 13l-15-10m36 10l-17-6m37 5l-18-3m38 3l-18-2m38 2l-18-1m38 1l-18-1m38 1l-18-1m38 1l-18 0m38 0l-18 0m38 0l-18 0m38 0l-18 0m38 0l-18 0m38 0l-18 0m38 0l-18 0m38 0l-18 0m38 0l-18 0m38 0l-18 0m38 0l-18 0m38 0l-18 0m38 0l-18 1m38-2l-18 2m38-2l-18 4m38-4l-17 6m36-7l-15 10m35-10l-12 14m31-15l-7 17m27-17l-4 18m-576 8l-7-17m28 17l-11-14m31 13l-15-10m36 10l-17-7m37 6l-18-3m38 3l-18-2m38 2l-18-1m38 1l-18-1m38 1l-18-1m38 1l-18-1m38 1l-18 0m38 0l-18 0m38 0l-18 0m38 0l-18 0m38 0l-18 0m38 0l-18 0m38 0l-18 0m38 0l-18 0m38 0l-18 0m38 0l-18 0m38 0l-18 0m38 0l-18 0m38 0l-18 0m38-1l-18 1m38-1l-18 2m38-2l-18 4m38-4l-17 6m36-7l-15 10m35-11l-11 15m30-15l-7 17m-572 9l-11-15m31 14l-14-10m35 10l-17-7m37 6l-18-4m38 4l-18-2m38 2l-18-1m38 1l-18-1m38 1l-18-1m38 1l-18-1m38 1l-18-1m38 1l-18 0m38 0l-18 0m38 0l-18 0m38 0l-18 0m38 0l-18 0m38 0l-18 0m38 0l-18 0m38 0l-18 0m38 0l-18 0m38 0l-18 0m38 0l-18 0m38 0l-18 0m38-1l-18 1m38-1l-18 1m38-1l-18 1m38-1l-18 2m38-2l-18 4m38-4l-17 6m36-7l-14 10m34-11l-11 15"/><path id="a31" transform="scale(.2)" d="M1903 1395l12-14m8 14l13-13m7 13l14-12m6 12l14-11m6 10l15-9m5 9l15-9m5 9l16-8m4 8l16-8m4 8l16-7m3 7l17-6m3 6l18-6m2 6l18-5m2 5l18-4m2 3l18-2m2 2l18-1m2 1l18 0m2 0l18 0m2 0l18 1m2-1l18 2m2-3l18 4m2-4l18 5m2-5l18 6m2-6l17 6m4-6l16 7m4-7l16 8m4-8l15 8m5-8l15 9m5-10l14 11m6-11l14 12m6-12l12 13m-592 12l11-15m9 15l12-14m8 14l13-13m7 13l14-12m6 12l14-11m6 10l15-9m5 9l15-9m5 9l16-8m4 8l16-7m3 7l17-7m3 7l17-6m3 6l18-5m2 5l18-4m2 3l18-2m2 2l18-1m2 1l18 0m2 0l18 0m2 0l18 1m2-1l18 2m2-3l18 4m2-4l18 5m2-5l17 6m4-6l16 7m4-7l16 7m4-7l15 8m5-8l15 9m5-10l14 11m6-11l14 12m6-12l13 13m7-13l12 14m-591 11l9-15m10 15l11-15m9 15l12-14m8 14l13-13m7 13l14-12m6 11l14-10m6 10l15-9m5 9l15-9m5 9l16-8m4 8l16-7m3 7l17-6m3 6l18-6m2 6l18-5m2 4l18-3m2 3l18-2m2 2l18-1m2 1l18 0m2 0l18 2m2-3l18 4m2-4l18 5m2-5l18 5m2-5l17 6m4-6l16 7m4-7l16 8m4-9l15 10m5-10l14 11m6-11l14 12m6-12l13 13m7-13l12 14m8-14l11 14m-590 11l8-16m12 16l9-15m10 15l11-15m9 15l12-14m8 14l13-13m7 13l14-12m6 11l14-10m6 10l15-9m5 9l15-9m5 9l16-8m3 8l17-7m3 7l18-6m2 6l18-5m2 4l18-3m2 3l18-2m2 2l18-1m2 1l18 1m2-1l18 2m2-3l18 4m2-4l18 5m2-5l17 6m4-6l16 7m4-7l16 8m4-9l15 10m5-10l15 11m5-11l14 12m6-12l13 13m7-13l12 14m8-14l11 14m10-14l9 15m-589 10l8-16m12 16l8-16m12 16l9-15m10 15l11-15m9 15l12-14m8 14l13-13m7 13l14-12m6 11l14-10m6 10l15-9m5 9l16-8m4 8l16-7m3 7l17-6m3 6l18-5m2 4l18-3m2 3l18-2m2 2l18-1m2 1l18 1m2-2l18 3m2-3l18 4m2-4l18 5m2-5l17 6m4-6l16 7m4-8l15 9m5-9l15 10m5-10l14 12m6-12l13 13m7-13l12 14m8-14l11 14m10-15l9 16m11-16l8 16m-588 10l7-16m13 16l7-16m13 16l8-16m12 16l9-15m10 15l11-15m9 15l12-14m8 14l13-13m7 12l14-11m6 11l15-10m5 10l15-9m5 9l16-8m3 8l17-7m3 7l18-6m2 5l18-4m2 4l18-2m2 2l18-1m2 1l18 1m2-2l18 3m2-3l18 4m2-4l18 6m3-6l16 7m4-8l15 9m5-9l15 10m5-10l14 11m6-11l13 13m7-13l12 14m8-14l11 14m10-15l9 16m11-16l8 16m12-16l8 17m-588 9l6-17m14 17l7-16m13 16l7-16m13 16l8-16m12 16l9-15m10 15l11-14m9 14l12-13m8 13l13-13m7 12l14-11m6 11l15-10m5 10l15-9m5 9l16-8m3 8l17-6m3 5l18-4m2 4l18-3m2 3l18-1m2 1l18 1m2-2l18 3m2-3l18 5m2-5l17 6m4-6l16 7m4-8l15 10m5-10l14 11m6-11l13 12m7-12l12 13m8-13l11 14m10-15l9 16m11-16l8 16m12-16l8 17m12-17l7 17m-587 9l6-17m14 17l6-17m14 17l7-17m13 17l7-16m13 16l8-16m11 16l11-15m9 15l12-14m8 14l13-13m7 12l14-11m6 11l14-10m6 10l15-9m5 9l16-8m3 8l17-7m3 6l18-4m2 4l18-3m2 3l18-1m2 0l18 2m2-2l18 3m2-3l18 5m3-5l16 7m4-8l15 9m5-9l15 10m5-10l14 11m6-11l13 13m7-13l12 14m9-15l9 16m11-16l8 16m12-16l7 17m13-17l7 17m13-17l6 17m-586 9l5-17m15 17l6-17m14 17l6-17m14 17l7-17m13 17l8-16m12 16l9-16m10 16l11-15m9 15l12-14m8 14l13-13m7 12l14-11m6 11l14-10m6 10l15-9m5 9l16-8m3 7l18-5m2 5l18-3m2 3l18-1m2 0l18 2m2-2l18 4m2-4l17 6m4-7l16 8m4-8l15 10m5-10l14 11m6-11l13 12m7-12l12 13m8-14l11 15m10-15l8 16m12-16l7 17m13-17l7 17m13-17l6 17m14-17l6 17m-586 9l4-17m16 17l5-17m15 17l5-17m15 17l6-17m14 17l7-17m13 17l8-16m12 16l9-15m10 15l11-15m9 15l12-14m8 13l13-12m7 12l14-11m6 11l15-10m5 10l15-9m4 9l17-7m3 6l18-4m2 4l18-1m2 0l18 2m2-2l18 4m2-4l17 6m4-7l15 9m5-9l14 11m6-11l13 12m7-12l12 13m8-14l11 15m10-15l9 16m11-16l7 16m13-16l6 17m14-17l6 17m14-17l5 17m15-17l5 17m-584 9l3-18m16 18l4-17m16 17l4-17m16 17l5-17m15 17l6-17m14 17l7-17m13 17l8-16m12 16l9-15m10 15l11-15m9 15l12-14m8 13l13-12m7 12l14-11m6 11l15-10m5 10l16-8m3 7l18-4m2 4l18-2m2 1l18 2m2-2l18 5m3-6l16 8m4-8l15 10m5-10l14 12m6-12l12 13m8-14l11 15m10-15l9 16m11-16l8 16m12-16l6 17m14-17l5 17m15-17l5 17m15-17l4 17m16-17l4 18m-583 8l2-18m18 18l2-18m18 18l2-18m17 18l4-18m16 18l5-17m15 17l6-17m14 17l7-17m13 17l8-16m12 16l9-16m10 16l11-15m9 15l11-14m9 13l13-13m7 13l14-11m6 11l15-9m4 8l17-5m3 5l18-2m2 1l18 3m2-3l17 6m4-7l15 10m5-10l14 11m6-11l12 13m8-14l11 15m10-15l9 16m11-16l8 16m12-16l6 17m14-17l5 17m15-17l4 17m17-17l3 18m17-18l2 18m18-18l2 18m-582 8l1-18m19 18l1-18m19 18l2-18m18 18l2-18m18 18l3-18m16 18l5-17m15 17l6-17m14 17l6-17m14 17l7-17m13 17l8-16m12 16l9-16m10 16l11-15m9 14l12-13m8 13l14-11m6 11l16-8m3 7l18-3m2 2l18 3m3-4l16 8m4-8l14 11m6-12l12 14m8-14l11 15m10-15l8 16m12-16l7 16m13-16l6 17m14-17l5 17m15-17l4 17m17-17l2 18m18-18l2 18m18-18l1 18m19-18l1 18m-581 8l0-18m20 18l0-18m20 18l1-18m19 18l1-18m19 18l2-18m18 18l2-18m17 18l4-18m16 18l5-17m15 17l6-17m14 17l6-17m14 17l7-17m13 17l8-16m12 16l9-16m10 15l12-13m8 13l15-10m4 9l18-4m2 3l18 4m3-5l14 11m6-12l12 14m9-14l9 16m11-16l7 16m13-16l6 17m14-17l6 17m14-17l5 17m16-17l3 17m17-17l2 18m18-18l1 18m19-18l1 18m19-18l0 18m20-18l0 18m-580 8l-1-18m21 18l-1-18m21 18l0-18m20 18l0-18m20 18l0-18m20 18l1-18m19 18l2-18m18 18l2-18m18 18l3-18m16 18l4-18m16 18l4-18m16 18l5-17m15 17l6-17m14 17l7-17m12 17l11-15m9 13l16-7m4 5l15 9m6-10l9 15m11-15l7 17m13-17l5 17m15-17l5 17m15-17l4 17m17-17l3 17m17-17l2 18m18-18l1 18m19-18l0 18m20-18l0 18m20-18l-1 18m21-18l-1 18m21-18l-1 18m-579 8l-1-18m21 18l-1-18m21 18l-1-18m21 18l-1-18m21 18l-1-18m21 18l0-18m20 18l0-18m20 18l1-18m19 18l1-18m19 18l1-18m19 18l1-18m19 18l0-18m20 18l0-18m20 18l0-18m20 18l0-18m20 18l0-18m20 13l0 18m20-18l0 18m20-18l0 18m20-18l0 18m20-18l0 18m20-18l0 18m20-18l0 18m20-18l0 18m20-18l0 18m20-18l-1 18m21-18l-1 18m21-18l-2 18m22-18l-2 18m22-18l-2 18m-578 8l-2-18m22 18l-2-18m22 18l-2-18m22 18l-2-18m22 18l-2-18m22 18l-1-18m21 18l-1-18m21 18l-1-18m21 18l-1-18m21 18l-2-18m22 18l-2-18m23 18l-4-18m24 18l-5-17m25 17l-7-17m28 17l-11-15m31 13l-16-7m36 5l-15 9m34-10l-9 15m29-15l-6 17m26-17l-5 17m24-17l-3 17m23-17l-2 17m22-17l-2 17m22-17l-2 18m22-18l-2 17m22-17l-2 17m22-17l-3 17m23-17l-3 17m23-17l-3 17m23-17l-3 17m-576 9l-4-18m24 18l-4-18m24 18l-4-18m24 18l-4-18m23 18l-3-18m23 18l-3-18m23 18l-2-18m22 18l-3-18m24 18l-4-18m24 18l-5-18m25 18l-6-17m26 17l-7-17m27 17l-8-16m29 15l-12-14m32 14l-14-11m35 10l-18-4m38 3l-18 4m37-5l-14 11m34-12l-11 14m30-14l-8 16m28-16l-7 16m27-16l-6 17m26-17l-5 17m25-17l-4 17m24-17l-4 17m24-17l-4 17m24-17l-5 17m25-17l-5 17m25-17l-5 17m25-17l-4 17m-576 9l-5-18m25 18l-5-18m25 18l-5-18m25 18l-5-18m25 18l-5-18m25 18l-5-18m25 18l-5-18m25 18l-5-18m25 18l-6-17m26 17l-7-17m27 17l-8-16m28 15l-9-15m30 15l-12-13m32 13l-14-12m34 11l-16-7m37 7l-18-3m38 2l-18 3m37-4l-16 8m36-9l-13 12m33-12l-12 14m31-14l-9 15m29-15l-8 16m28-16l-7 16m27-16l-6 17m26-17l-6 17m26-17l-6 17m26-17l-6 17m26-17l-6 17m26-17l-5 17m25-17l-5 17m-575 9l-5-17m25 17l-6-17m26 17l-6-17m26 17l-6-17m26 17l-6-17m26 17l-6-17m26 17l-6-17m26 17l-7-17m27 17l-7-17m27 17l-8-16m29 15l-11-14m31 14l-12-13m32 13l-13-12m33 12l-15-10m36 9l-17-6m37 5l-18-2m38 2l-18 2m38-3l-17 7m36-7l-15 10m35-11l-13 13m33-13l-12 14m31-14l-9 15m29-15l-8 16m28-16l-7 16m27-16l-7 16m27-16l-7 16m27-16l-7 16m27-16l-6 16m26-16l-6 17m26-17l-6 17m-574 9l-6-17m26 17l-6-17m26 17l-6-17m26 17l-7-17m27 17l-7-17m27 17l-7-17m27 17l-7-17m27 17l-8-17m28 16l-9-15m30 15l-11-14m31 14l-12-14m32 14l-13-12m33 12l-14-11m34 10l-16-8m37 8l-18-5m38 4l-18-1m38 1l-18 2m38-3l-18 6m37-6l-15 8m35-9l-14 11m34-11l-13 13m33-13l-12 14m31-14l-9 15m29-15l-8 16m28-16l-8 16m28-16l-8 16m28-16l-7 16m27-16l-7 16m27-16l-7 16m27-16l-7 16m-573 10l-7-17m27 17l-7-17m27 17l-7-17m27 17l-7-17m27 17l-7-17m27 17l-7-17m27 16l-8-16m28 16l-9-15m30 15l-11-14m31 14l-12-14m32 14l-13-13m33 13l-14-11m34 10l-15-9m35 9l-16-7m37 7l-18-5m38 4l-18-1m38 1l-18 2m38-3l-18 5m37-5l-16 7m36-7l-15 9m35-10l-14 12m34-12l-13 13m33-13l-11 14m30-14l-9 15m29-15l-9 15m29-15l-8 15m28-15l-8 16m28-16l-8 16m28-16l-8 16m28-16l-7 16m-573 9l-7-16m27 16l-7-16m27 16l-8-16m28 16l-8-16m28 16l-8-16m28 16l-8-15m28 15l-9-15m30 15l-11-15m31 15l-12-14m32 14l-13-13m33 13l-14-12m34 12l-15-11m35 10l-16-8m37 8l-17-6m37 6l-18-4m38 3l-18-1m38 1l-18 1m38-2l-18 5m38-5l-17 7m36-7l-15 8m35-9l-14 11m34-11l-13 12m33-12l-12 13m32-13l-11 14m30-14l-9 15m29-15l-9 15m29-15l-9 15m29-15l-9 15m29-15l-8 15m28-15l-8 16m-572 9l-8-16m28 16l-8-16m28 16l-8-15m28 15l-8-15m28 15l-9-15m29 15l-9-15m29 15l-9-15m30 15l-11-14m31 14l-12-13m32 13l-13-12m33 12l-14-11m34 10l-15-9m35 9l-16-7m37 7l-18-6m38 5l-18-3m38 3l-18-1m38 1l-18 1m38-2l-18 4m38-4l-17 6m36-6l-16 8m36-8l-15 9m35-10l-14 12m34-12l-13 13m33-13l-12 14m32-14l-11 14m31-14l-11 15m30-15l-9 15m29-15l-9 15m29-15l-9 15m29-15l-8 15m-572 10l-8-16m28 16l-8-15m28 15l-9-15m29 15l-9-15m29 15l-9-15m29 15l-9-15m30 15l-11-14m31 14l-12-14m32 14l-13-13m33 13l-14-12m34 11l-15-10m35 10l-15-8m35 8l-16-7m37 7l-18-5m38 4l-18-3m38 3l-18-1m38 1l-18 1m38-2l-18 4m38-4l-18 5m37-5l-16 7m36-7l-15 9m35-10l-14 11m34-11l-13 12m33-12l-12 13m32-13l-12 14m32-14l-11 14m31-14l-11 14m31-14l-11 15m30-15l-9 15m29-15l-9 15m-571 10l-9-15m29 15l-9-15m29 15l-9-15m29 15l-9-15m30 15l-11-15m31 15l-11-14m31 14l-12-14m32 14l-13-13m33 13l-14-12m34 11l-14-10m34 10l-15-9m35 9l-16-8m37 8l-17-6m37 6l-18-5m38 4l-18-2m38 2l-18-1m38 1l-18 1m38-2l-18 3m38-3l-18 5m38-5l-17 7m36-7l-16 8m36-9l-15 10m35-10l-14 12m34-12l-13 13m33-13l-12 13m32-13l-12 14m32-14l-11 14m31-14l-11 14m31-14l-11 14m30-14l-9 15m-571 10l-9-15m29 15l-9-15m30 15l-11-15m31 15l-11-15m31 15l-11-14m31 14l-12-14m32 14l-12-13m32 13l-13-13m33 13l-14-12m34 11l-15-10m35 10l-15-8m35 8l-16-7m37 7l-17-6m37 6l-18-5m38 4l-18-2m38 2l-18-1m38 1l-18 1m38-2l-18 3m38-3l-18 5m38-5l-17 6m36-6l-16 8m36-9l-15 10m35-10l-14 11m34-11l-13 12m33-12l-12 13m32-13l-12 13m32-13l-12 14m32-14l-11 14m31-14l-11 14m31-14l-11 14m-570 11l-9-15m30 15l-11-15m31 15l-11-14m31 14l-12-14m32 14l-12-14m32 14l-13-13m33 13l-13-13m33 13l-14-12m34 11l-15-10m35 10l-15-9m35 9l-16-8m36 8l-16-7m37 7l-17-6m37 5l-18-4m38 4l-18-2m38 2l-18-1m38 1l-18 1m38-2l-18 3m38-3l-18 5m38-5l-17 6m36-6l-16 7m36-8l-15 10m35-10l-14 11m34-11l-13 12m33-12l-13 13m33-13l-12 13m32-13l-12 13m32-13l-12 14m32-14l-11 14m31-14l-11 14m-569 11l-11-15m31 15l-11-14m31 14l-12-14m32 14l-13-13m33 13l-13-13m33 13l-14-12m34 11l-14-11m34 11l-15-10m35 10l-15-9m35 9l-15-9m35 9l-16-8m36 8l-16-7m37 7l-17-6m37 5l-18-4m38 4l-18-3m38 3l-18-1m38 1l-18 0m38-1l-18 3m38-3l-18 5m38-5l-17 6m36-6l-16 8m36-9l-15 10m35-10l-14 11m34-11l-14 12m34-12l-13 12m33-12l-13 13m33-13l-13 13m33-13l-12 13m32-13l-12 14m32-14l-11 14m-569 11l-11-15m31 15l-12-14m32 14l-13-13m33 12l-14-11m34 11l-14-10m34 10l-15-9m35 9l-16-8m36 8l-16-7m37 7l-17-6m37 6l-18-6m38 6l-18-6m38 5l-18-4m38 4l-18-4m38 4l-18-3m38 3l-18-2m38 2l-18-1m38 1l-18 0m38 0l-18 1m38-2l-18 3m38-3l-18 4m38-4l-18 5m37-5l-16 7m36-8l-15 9m35-9l-15 10m35-10l-14 11m34-11l-13 12m33-12l-13 12m33-12l-12 13m32-13l-12 13m32-13l-11 14m-569 11l-11-14m31 14l-12-14m32 13l-13-11m33 11l-15-10m35 10l-16-8m37 8l-17-7m37 6l-18-5m38 5l-18-4m38 4l-18-4m38 4l-18-4m38 4l-18-4m38 4l-18-5m38 5l-18-4m38 4l-18-4m38 4l-18-3m38 3l-18-2m38 2l-18-1m38 1l-18 0m38-1l-18 2m38-2l-18 3m38-3l-18 4m38-4l-18 5m38-5l-17 6m36-7l-16 9m36-9l-15 10m35-10l-14 11m34-11l-13 12m33-12l-13 13m33-13l-12 13m32-13l-12 14m-568 11l-12-14m32 14l-13-13m33 12l-14-10m34 10l-16-8m37 7l-18-5m38 5l-18-3m38 3l-18-3m38 3l-18-3m38 3l-18-3m38 3l-18-4m38 4l-18-5m38 6l-17-6m37 5l-18-5m38 5l-18-5m38 5l-18-3m38 3l-18-2m38 2l-18-1m38 1l-18 0m38-1l-18 2m38-2l-18 3m38-3l-18 4m38-4l-18 5m38-5l-17 6m36-6l-16 7m36-8l-15 10m35-10l-14 11m34-11l-13 12m33-12l-13 12m33-12l-12 13m32-13l-12 13m-568 12l-12-14m32 13l-14-11m34 11l-15-9m36 8l-17-5m37 5l-18-3m38 3l-18-1m38 1l-18-1m38 1l-18-1m38 1l-18-3m38 3l-18-4m38 5l-17-7m36 7l-16-7m36 7l-16-7m37 7l-17-7m37 6l-18-4m38 4l-18-3m38 3l-18-1m38 1l-18 0m38-1l-18 2m38-2l-18 3m38-3l-18 3m38-3l-18 4m38-4l-18 5m37-5l-16 7m36-8l-15 9m35-9l-14 11m34-11l-14 12m34-12l-13 12m33-12l-12 13m32-13l-12 13m-568 12l-12-14m32 13l-14-11m34 11l-16-8m37 7l-18-3m38 3l-18 0m38-1l-18 2m38-2l-18 2m38-1l-18 0m38 0l-18-3m38 3l-18-5m37 6l-16-8m36 8l-16-9m36 9l-15-9m35 9l-16-8m37 7l-17-6m37 6l-18-4m38 4l-18-2m38 2l-18-1m38 0l-18 2m38-2l-18 2m38-2l-18 3m38-3l-18 4m38-4l-18 5m37-5l-16 6m36-7l-15 9m35-9l-14 10m34-10l-14 12m34-12l-13 12m33-12l-12 13m32-14l-12 14m-568 11l-12-13m32 13l-14-11m35 11l-17-7m37 6l-18-2m38 1l-18 3m38-3l-18 4m38-4l-18 4m38-4l-18 2m38-1l-18-3m38 4l-17-7m36 7l-15-9m35 9l-15-10m35 10l-15-10m35 10l-15-9m35 9l-16-8m37 7l-18-4m38 4l-18-2m38 2l-18-1m38 0l-18 1m38-1l-18 2m38-2l-18 3m38-3l-18 4m38-4l-18 5m38-5l-17 6m36-7l-15 9m35-9l-14 10m34-10l-14 11m34-11l-13 12m33-12l-12 13m32-14l-12 14m-568 11l-12-13m32 13l-14-11m35 10l-17-6m37 5l-18 0m38 0l-18 5m37-6l-16 8m37-8l-17 7m37-6l-18 3m38-2l-18-3m37 4l-15-9m35 9l-14-12m34 12l-13-12m33 12l-13-12m33 12l-14-10m34 10l-16-8m37 7l-18-5m38 5l-18-3m38 3l-18-1m38 0l-18 1m38-1l-18 2m38-2l-18 3m38-3l-18 4m38-4l-18 5m38-6l-17 7m36-7l-15 9m35-9l-14 10m34-10l-14 12m34-12l-13 12m33-13l-12 14m32-14l-12 14m-568 12l-12-14m32 13l-13-12m33 12l-16-8m37 7l-18-1m38-1l-17 7m36-7l-15 10m35-10l-15 10m36-9l-17 5m37-4l-17-6m36 7l-13-13m33 14l-11-15m31 15l-11-15m31 14l-12-13m32 13l-14-11m34 11l-16-9m37 8l-18-5m38 5l-18-3m38 3l-18-1m38 0l-18 1m38-1l-18 2m38-2l-18 3m38-3l-18 3m38-3l-18 5m38-6l-17 7m36-7l-15 9m35-9l-14 10m34-10l-13 12m33-13l-13 13m33-13l-12 14m32-14l-11 15m-569 11l-11-15m31 14l-12-13m32 13l-15-10m36 9l-18-4m38 3l-18 5m37-6l-14 11m34-12l-12 14m32-13l-14 10m34-7l-12-13m31 14l-7-17m27 17l-7-17m27 17l-9-16m30 15l-12-14m32 14l-14-11m34 11l-16-9m37 8l-18-5m38 5l-18-3m38 2l-18 0m38 0l-18 1m38-1l-18 2m38-2l-18 3m38-3l-18 3m38-3l-18 4m38-5l-17 7m36-7l-15 9m35-9l-14 10m34-10l-13 12m33-13l-12 14m32-14l-12 14m32-14l-11 15m-570 11l-9-16m30 15l-11-14m31 14l-13-13m33 13l-15-10m36 9l-18-3m37 1l-16 7m36-8l-12 14m32-14l-12 14m30-9l0-18m20 18l-2-18m23 18l-6-17m26 17l-8-16m29 15l-12-13m32 13l-14-11m34 10l-16-7m37 7l-18-4m38 4l-18-2m38 1l-18 0m38 0l-18 1m38-1l-18 2m38-2l-18 2m38-2l-18 3m38-3l-18 4m38-5l-17 7m36-7l-15 9m35-9l-14 11m34-12l-13 13m33-13l-12 14m32-14l-11 14m31-14l-11 15m-570 11l-9-16m29 16l-9-16m30 15l-11-14m31 14l-12-13m32 13l-14-11m35 10l-17-6m37 6l-18-2m37 3l-15-9m34 10l-6-17m26 17l-6-17m26 17l-8-16m29 15l-11-14m31 14l-14-11m34 11l-16-9m37 8l-18-5m38 5l-18-3m38 2l-18-1m38 1l-18 0m38 0l-18 1m38-1l-18 2m38-2l-18 2m38-2l-18 3m38-3l-18 4m38-5l-17 7m36-7l-15 9m35-9l-14 11m34-12l-13 13m33-13l-12 14m32-14l-11 15m30-15l-9 15m-571 11l-8-16m28 16l-9-16m29 16l-9-16m30 15l-11-14m31 14l-13-13m33 13l-15-11m35 10l-16-7m36 7l-16-7m36 8l-14-11m34 11l-13-12m33 12l-14-12m34 12l-15-10m35 9l-16-8m37 8l-17-6m37 6l-18-4m38 4l-18-2m38 1l-18 0m38 0l-18 0m38 0l-18 1m38-1l-18 2m38-2l-18 2m38-2l-18 3m38-3l-18 4m38-5l-17 7m36-7l-15 9m35-9l-14 11m34-12l-13 13m33-13l-11 14m31-14l-11 15m30-15l-9 15m-571 11l-7-17m27 17l-8-16m28 16l-9-16m30 15l-11-14m31 14l-12-13m32 13l-14-11m34 10l-16-8m37 8l-17-6m37 6l-17-6m36 6l-16-7m36 7l-16-7m37 7l-17-6m37 6l-18-5m38 5l-18-4m38 4l-18-3m38 2l-18-1m38 1l-18 0m38 0l-18 0m38 0l-18 1m38-1l-18 1m38-1l-18 2m38-2l-18 3m38-3l-18 4m38-5l-17 7m36-7l-15 9m35-10l-14 12m34-12l-12 14m32-14l-11 15m30-15l-9 15m29-15l-8 16m-572 10l-7-17m27 17l-8-17m28 17l-8-16m29 15l-11-14m31 14l-12-13m32 13l-14-11m34 10l-16-8m37 8l-17-6m37 6l-18-5m38 5l-18-5m38 5l-18-4m38 4l-18-4m38 4l-18-3m38 2l-18-2m38 2l-18-1m38 1l-18 0m38 0l-18 0m38 0l-18 1m38-1l-18 1m38-1l-18 1m38-1l-18 2m38-2l-18 3m38-3l-18 4m38-5l-17 7m36-7l-15 9m35-10l-13 12m33-12l-12 14m32-14l-11 15m30-15l-9 15m29-15l-8 16m-572 10l-6-17m26 17l-7-17m27 17l-8-16m28 15l-9-15m30 15l-12-13m32 13l-14-11m34 10l-16-7m37 7l-18-5m38 5l-18-4m38 4l-18-4m38 4l-18-3m38 2l-18-2m38 2l-18-1m38 1l-18-1m38 1l-18-1m38 1l-18 0m38 0l-18 0m38 0l-18 1m38-1l-18 1m38-1l-18 1m38-1l-18 2m38-2l-18 3m38-4l-18 5m38-5l-17 7m36-7l-15 9m35-10l-13 13m33-13l-11 14m30-14l-9 15m29-15l-8 16m28-16l-7 16m-573 10l-6-17m26 17l-7-17m27 17l-8-17m28 16l-9-15m30 15l-12-13m32 13l-14-11m34 10l-16-7m37 7l-18-5m38 5l-18-4m38 3l-18-2m38 2l-18-2m38 2l-18-1m38 1l-18-1m38 1l-18-1m38 1l-18 0m38 0l-18 0m38 0l-18 0m38 0l-18 0m38 0l-18 1m38-1l-18 1m38-1l-18 2m38-2l-18 3m38-4l-18 5m37-5l-16 7m36-7l-15 10m35-11l-13 13m33-13l-11 15m30-15l-8 15m28-15l-7 16m27-16l-7 16m-573 10l-5-18m25 18l-6-17m26 17l-7-17m27 16l-9-15m30 15l-12-14m32 14l-14-11m34 10l-16-7m37 7l-18-5m38 5l-18-4m38 3l-18-2m38 2l-18-1m38 1l-18-1m38 1l-18-1m38 1l-18-1m38 1l-18 0m38 0l-18 0m38 0l-18 0m38 0l-18 0m38 0l-18 1m38-1l-18 1m38-1l-18 2m38-2l-18 2m38-3l-18 5m37-5l-16 7m36-7l-15 10m35-11l-12 13m31-13l-9 15m29-15l-8 16m28-16l-7 16m27-17l-6 17m-574 10l-5-18m25 18l-6-18m26 17l-7-16m27 16l-8-15m29 15l-12-14m32 14l-14-11m34 10l-16-7m37 7l-18-5m38 4l-18-3m38 3l-18-2m38 2l-18-1m38 1l-18-1m38 1l-18-1m38 1l-18 0m38 0l-18 0m38 0l-18 0m38 0l-18 0m38 0l-18 0m38 0l-18 1m38-1l-18 1m38-1l-18 1m38-1l-18 2m38-3l-18 5m37-5l-16 7m36-8l-14 11m34-11l-12 14m31-14l-9 15m29-15l-7 16m27-17l-6 17m26-17l-6 18m-574 9l-5-18m25 18l-5-18m25 17l-6-16m26 16l-8-16m29 16l-11-14m31 14l-14-11m34 10l-16-7m37 7l-18-5m38 4l-18-3m38 3l-18-2m38 2l-18-1m38 1l-18-1m38 1l-18-1m38 1l-18 0m38 0l-18 0m38 0l-18 0m38 0l-18 0m38 0l-18 0m38 0l-18 1m38-1l-18 1m38-1l-18 1m38-1l-18 2m38-3l-18 5m37-5l-16 7m36-8l-14 11m34-11l-12 14m31-14l-8 15m28-16l-7 17m27-17l-6 18m26-18l-5 18m-575 9l-4-18m24 18l-5-18m25 17l-6-17m26 17l-8-16m29 16l-11-14m31 14l-14-12m34 11l-16-8m37 8l-18-5m38 4l-18-3m38 3l-18-2m38 2l-18-1m38 1l-18-1m38 1l-18-1m38 1l-18 0m38 0l-18 0m38 0l-18 0m38 0l-18 0m38 0l-18 0m38 0l-18 0m38 0l-18 1m38-1l-18 1m38-1l-18 2m38-3l-18 5m37-5l-16 7m36-8l-14 11m34-11l-11 14m30-14l-8 16m28-17l-6 17m26-17l-5 18m25-18l-4 18m-577 9l-3-18m24 18l-4-18m24 17l-5-17m25 17l-7-16m28 16l-11-15m31 15l-14-12m34 11l-16-8m37 8l-18-5m38 4l-18-3m38 3l-18-2m38 2l-18-1m38 1l-18-1m38 1l-18-1m38 1l-18 0m38 0l-18 0m38 0l-18 0m38 0l-18 0m38 0l-18 0m38 0l-18 0m38 0l-18 1m38-1l-18 1m38-2l-18 3m38-3l-18 5m37-5l-16 7m36-8l-14 11m34-11l-11 14m30-15l-8 17m28-17l-6 17m26-17l-5 18m25-18l-4 18m-577 8l-2-17m23 17l-4-17m24 17l-5-17m25 17l-7-16m28 16l-11-15m31 15l-14-12m34 11l-16-8m37 8l-18-5m38 4l-18-3m38 3l-18-2m38 2l-18-1m38 1l-18-1m38 1l-18-1m38 1l-18 0m38 0l-18 0m38 0l-18 0m38 0l-18 0m38 0l-18 0m38 0l-18 0m38 0l-18 1m38-1l-18 1m38-2l-18 3m38-3l-18 5m37-5l-16 7m36-8l-14 12m34-12l-11 14m30-15l-7 17m27-17l-5 17m25-17l-4 18m23-18l-3 18m-577 8l-2-17m22 17l-3-17m24 17l-5-17m25 17l-7-16m27 16l-9-15m30 15l-13-12m33 11l-16-8m37 7l-18-4m38 4l-18-3m38 3l-18-2m38 2l-18-1m38 1l-18-1m38 1l-18-1m38 1l-18 0m38 0l-18 0m38 0l-18 0m38 0l-18 0m38 0l-18 0m38 0l-18 0m38 0l-18 1m38-1l-18 1m38-2l-18 3m38-3l-18 5m37-5l-16 7m36-8l-14 12m34-12l-11 14m30-15l-7 17m27-17l-5 18m25-18l-4 18m23-18l-2 18m-578 8l-2-17m22 17l-2-17m23 17l-5-17m25 17l-6-17m26 17l-9-15m30 15l-13-12m33 11l-16-8m37 7l-18-4m38 4l-18-3m38 3l-18-2m38 2l-18-1m38 1l-18-1m38 1l-18-1m38 1l-18 0m38 0l-18 0m38 0l-18 0m38 0l-18 0m38 0l-18 0m38 0l-18 0m38 0l-18 0m38 0l-18 1m38-2l-18 3m38-3l-18 5m37-5l-16 7m36-8l-13 12m32-13l-9 16m29-16l-7 17m27-17l-5 18m24-18l-3 18m23-18l-2 18m-578 8l-2-17m23 17l-4-17m24 17l-6-17m26 17l-8-16m29 16l-12-13m32 12l-15-9m36 9l-18-6m38 5l-18-3m38 3l-18-2m38 2l-18-1m38 1l-18-1m38 1l-18-1m38 1l-18-1m38 1l-18 0m38 0l-18 0m38 0l-18 0m38 0l-18 0m38 0l-18 0m38 0l-18 0m38 0l-18 0m38 0l-18 1m38-2l-18 2m38-2l-18 3m38-3l-18 5m37-6l-15 9m35-9l-13 13m32-14l-8 16m28-16l-6 17m26-17l-4 18m23-18l-2 18m-578 8l-3-17m24 17l-5-17m25 17l-8-16m29 16l-12-14m32 13l-15-9m36 9l-17-6m37 5l-18-3m38 3l-18-2m38 2l-18-1m38 1l-18-1m38 1l-18-1m38 1l-18-1m38 1l-18-1m38 1l-18 0m38 0l-18 0m38 0l-18 0m38 0l-18 0m38 0l-18 0m38 0l-18 0m38 0l-18 0m38 0l-18 0m38-1l-18 2m38-2l-18 2m38-2l-18 3m38-3l-18 6m37-7l-15 10m35-10l-12 13m31-14l-8 16m28-16l-5 17m24-17l-3 18m-576 8l-5-17m25 17l-7-16m28 16l-12-14m32 13l-15-10m36 10l-17-6m37 5l-18-3m38 3l-18-2m38 2l-18-1m38 1l-18-1m38 1l-18-1m38 1l-18-1m38 1l-18-1m38 1l-18-1m38 1l-18 0m38 0l-18 0m38 0l-18 0m38 0l-18 0m38 0l-18 0m38 0l-18 0m38 0l-18 0m38 0l-18 0m38 0l-18 0m38-1l-18 2m38-2l-18 2m38-2l-18 3m38-3l-17 6m36-7l-15 10m35-10l-12 13m31-14l-8 16m28-16l-5 17m-575 9l-7-16m28 16l-12-14m32 13l-15-10m36 9l-17-6m37 6l-18-3m38 3l-18-2m38 2l-18-1m38 1l-18-1m38 1l-18-1m38 1l-18-1m38 1l-18-1m38 1l-18-1m38 1l-18-1m38 1l-18 0m38 0l-18 0m38 0l-18 0m38 0l-18 0m38 0l-18 0m38 0l-18 0m38 0l-18 0m38 0l-18 0m38 0l-18 0m38-1l-18 1m38-1l-18 2m38-2l-18 2m38-2l-18 4m38-4l-17 6m36-7l-15 10m35-11l-12 14m31-14l-7 17m-572 9l-11-15m31 14l-14-10m35 9l-17-6m37 6l-18-4m38 4l-18-2m38 2l-18-1m38 1l-18-1m38 1l-18-1m38 1l-18-1m38 1l-18-1m38 1l-18-1m38 1l-18-1m38 1l-18-1m38 1l-18-1m38 1l-18 0m38 0l-18 0m38 0l-18 0m38 0l-18 0m38 0l-18 0m38 0l-18 0m38-1l-18 1m38-1l-18 1m38-1l-18 1m38-1l-18 1m38-1l-18 1m38-1l-18 2m38-2l-18 4m38-4l-17 6m36-7l-15 10m35-11l-11 15"/></defs>
<g fill="none" stroke="#0a1400">
<g clip-path="url(#c00)"><use href="#a00" stroke-width="3.75" stroke-opacity="0.85"/><use href="#a00" stroke-width="9.5" stroke-dasharray="0 99" stroke-linecap="round"/></g>
<g clip-path="url(#c10)"><use href="#a10" stroke-width="3.75" stroke-opacity="0.85"/><use href="#a10" stroke-width="9.5" stroke-dasharray="0 99" stroke-linecap="round"/></g>
<g clip-path="url(#c11)"><use href="#a11" stroke-width="3.75" stroke-opacity="0.85"/><use href="#a11" stroke-width="9.5" stroke-dasharray="0 99" stroke-linecap="round"/></g>
<g clip-path="url(#c20)"><use href="#a20" stroke-width="3.75" stroke-opacity="0.85"/><use href="#a20" stroke-width="9.5" stroke-dasharray="0 99" stroke-linecap="round"/></g>
<g clip-path="url(#c21)"><use href="#a21" stroke-width="3.75" stroke-opacity="0.85"/><use href="#a21" stroke-width="9.5" stroke-dasharray="0 99" stroke-linecap="round"/></g>
<g clip-path="url(#c30)"><use href="#a30" stroke-width="3.75" stroke-opacity="0.85"/><use href="#a30" stroke-width="9.5" stroke-dasharray="0 99" stroke-linecap="round"/></g>
<g clip-path="url(#c31)"><use href="#a31" stroke-width="3.75" stroke-opacity="0.85"/><use href="#a31" stroke-width="9.5" stroke-dasharray="0 99" stroke-linecap="round"/></g>
</g>
<defs><linearGradient id="cb" x1="0" y1="0" x2="0" y2="1">
<stop offset="0" stop-color="rgb(170,75,72)"/>
<stop offset="0.143" stop-color="rgb(105,28,22)"/>
<stop offset="0.286" stop-color="rgb(222,112,62)"/>
<stop offset="0.43" stop-color="rgb(245,235,95)"/>
<stop offset="0.57" stop-color="rgb(85,140,50)"/>
<stop offset="0.714" stop-color="rgb(125,232,232)"/>
<stop offset="0.857" stop-color="rgb(12,22,88)"/>
<stop offset="1" stop-color="rgb(62,72,195)"/>
</linearGradient></defs>
<rect x="24.5" y="330" width="45" height="160" fill="url(#cb)"/>
<g stroke="#999" stroke-width="1"><path d="M69.5 330H81M69.5 370H81M69.5 410H81M69.5 450H81M69.5 490H81"/></g>
<g font-family="DejaVu Serif, serif" font-style="italic" fill="#111">
<text x="25.5" y="306.8" font-size="11.6" textLength="68" lengthAdjust="spacingAndGlyphs" stroke="#111" stroke-width="0.75">Pseudocolor</text>
<text x="25.5" y="319.6" font-size="11.6" textLength="68.5" lengthAdjust="spacingAndGlyphs" stroke="#111" stroke-width="0.75">Var: Omega</text>
<g text-anchor="end" font-size="11.2" font-weight="bold">
<text x="110.5" y="334">4.00</text>
<text x="110.5" y="374">2.00</text>
<text x="110.5" y="414">0.00</text>
<text x="110.5" y="454">-2.00</text>
<text x="110.5" y="494">-4.00</text>
</g></g>

<text x="68.2" y="267.3" text-anchor="middle" font-family="Liberation Serif, serif" font-size="14.6" fill="#000" stroke="#000" stroke-width="0.15">t = 0.2 s</text>
<text x="191.9" y="267.3" text-anchor="middle" font-family="Liberation Serif, serif" font-size="14.6" fill="#000" stroke="#000" stroke-width="0.15">t = 1.0 s</text>
<text x="315.6" y="267.3" text-anchor="middle" font-family="Liberation Serif, serif" font-size="14.6" fill="#000" stroke="#000" stroke-width="0.15">t = 1.6 s</text>
<text x="439.0" y="267.3" text-anchor="middle" font-family="Liberation Serif, serif" font-size="14.6" fill="#000" stroke="#000" stroke-width="0.15">t = 2.4 s</text>
<text x="191.9" y="538.7" text-anchor="middle" font-family="Liberation Serif, serif" font-size="14.6" fill="#000" stroke="#000" stroke-width="0.15">t = 3.0 s</text>
<text x="315.6" y="538.7" text-anchor="middle" font-family="Liberation Serif, serif" font-size="14.6" fill="#000" stroke="#000" stroke-width="0.15">t = 4.0 s</text>
<text x="439.0" y="538.7" text-anchor="middle" font-family="Liberation Serif, serif" font-size="14.6" fill="#000" stroke="#000" stroke-width="0.15">t = 6.0 s</text>
<rect x="5" y="4" width="497.00" height="3.00" fill="#000"/>
<rect x="5" y="249.6" width="497.00" height="3.00" fill="#000"/>
<rect x="5" y="273.5" width="497.00" height="3.00" fill="#000"/>
<rect x="5" y="519.6" width="497.00" height="3.00" fill="#000"/>
<rect x="128.5" y="543.0" width="373.50" height="3.00" fill="#000"/>
<rect x="5" y="4" width="3.00" height="272.50" fill="#000"/>
<rect x="5" y="273.5" width="3.00" height="249.10" fill="#000"/>
<rect x="128.5" y="4" width="3.00" height="272.50" fill="#000"/>
<rect x="128.5" y="273.5" width="3.00" height="272.50" fill="#000"/>
<rect x="252.3" y="4" width="3.00" height="272.50" fill="#000"/>
<rect x="252.3" y="273.5" width="3.00" height="272.50" fill="#000"/>
<rect x="376" y="4" width="3.00" height="272.50" fill="#000"/>
<rect x="376" y="273.5" width="3.00" height="272.50" fill="#000"/>
<rect x="499" y="4" width="3.00" height="272.50" fill="#000"/>
<rect x="499" y="273.5" width="3.00" height="272.50" fill="#000"/>
</svg></body></html>
